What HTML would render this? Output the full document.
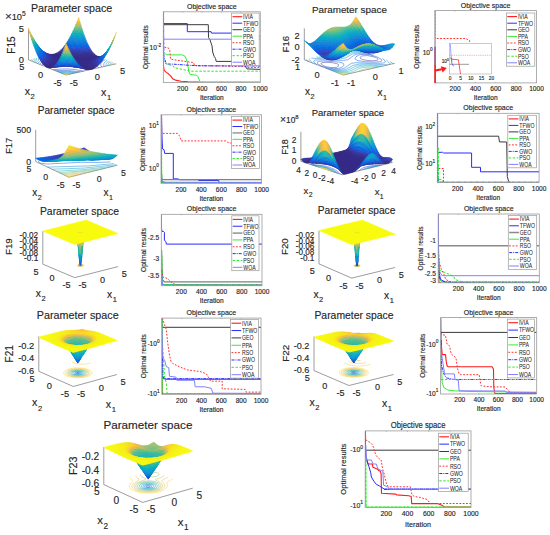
<!DOCTYPE html>
<html><head><meta charset="utf-8"><style>
html,body{margin:0;padding:0;background:#fff;}
svg{display:block;}
text{font-family:"Liberation Sans",sans-serif;stroke:#262626;stroke-width:0.14px;}
.lg{stroke-width:0.04px;}
</style></head><body>
<svg width="550" height="535" viewBox="0 0 550 535">
<rect width="550" height="535" fill="#fff"/>
<path d="M28.5 28.5L28.5 59.8L66 75L116.2 63.8" stroke="#5a5a5a" stroke-width="0.6" fill="none"/>
<path d="M83.6 71.1l-8.2-1.5-6.8-.6-6.6 0-9.1 .7" stroke="#353caa" stroke-width="0.5" fill="none"/>
<path d="M103.1 58.5l-4.8 2.4-1.8 1.9-.2 2.2 2.3 2.7" stroke="#353caa" stroke-width="0.5" fill="none"/>
<path d="M41.6 65.1l4.8-2.4 1.9-2.1 .1-2-2.3-2.7" stroke="#353caa" stroke-width="0.5" fill="none"/>
<path d="M61.1 52.5l8.2 1.5 6.8 .6 6.6 0 9.1-.7" stroke="#353caa" stroke-width="0.5" fill="none"/>
<path d="M80.4 71.8l-12.8-1.4-12.4 .2" stroke="#115bdc" stroke-width="0.5" fill="none"/>
<path d="M105.4 59.4l-3.3 2.2-1.2 1.7-.1 2 1 1.7" stroke="#115bdc" stroke-width="0.5" fill="none"/>
<path d="M39.3 64.2l3.3-2.2 1.2-1.7 .1-2-1-1.7" stroke="#115bdc" stroke-width="0.5" fill="none"/>
<path d="M64.3 51.8l11.6 1.4 13.6-.2" stroke="#115bdc" stroke-width="0.5" fill="none"/>
<path d="M78 72.3l-10.2-1-10.8 .1" stroke="#0b73dd" stroke-width="0.5" fill="none"/>
<path d="M107.2 60.2l-2 1.5-1.2 1.5-.3 1.4 .5 1.9" stroke="#0b73dd" stroke-width="0.5" fill="none"/>
<path d="M37.5 63.4l2.2-1.7 1-1.4 .3-1.6-.5-1.6" stroke="#0b73dd" stroke-width="0.5" fill="none"/>
<path d="M66.7 51.3l10.2 1 10.8-.1" stroke="#0b73dd" stroke-width="0.5" fill="none"/>
<path d="M76 72.8l-8.6-.8-8.8 0" stroke="#1389d3" stroke-width="0.5" fill="none"/>
<path d="M108.8 60.8l-2.4 2.6-.4 1.4 .2 1.2" stroke="#1389d3" stroke-width="0.5" fill="none"/>
<path d="M35.9 62.8l2.4-2.5 .4-1.5-.2-1.2" stroke="#1389d3" stroke-width="0.5" fill="none"/>
<path d="M68.7 50.8l8.5 .7 8.9 .1" stroke="#1389d3" stroke-width="0.5" fill="none"/>
<path d="M74.2 73.2l-14.3-.7" stroke="#06a2cb" stroke-width="0.5" fill="none"/>
<path d="M110.1 61.3l-1.8 2.3-.3 2" stroke="#06a2cb" stroke-width="0.5" fill="none"/>
<path d="M34.6 62.3l1.8-2.3 .3-2" stroke="#06a2cb" stroke-width="0.5" fill="none"/>
<path d="M70.5 50.4l14.3 .7" stroke="#06a2cb" stroke-width="0.5" fill="none"/>
<path d="M72.6 73.5l-11.5-.5" stroke="#1ab2b1" stroke-width="0.5" fill="none"/>
<path d="M111.3 61.8l-1.4 2.1-.3 1.4" stroke="#1ab2b1" stroke-width="0.5" fill="none"/>
<path d="M33.4 61.8l1.1-1.4 .6-2.1" stroke="#1ab2b1" stroke-width="0.5" fill="none"/>
<path d="M72.1 50.1l11.5 .5" stroke="#1ab2b1" stroke-width="0.5" fill="none"/>
<path d="M71.1 73.9l-8.9-.4" stroke="#59bd8c" stroke-width="0.5" fill="none"/>
<path d="M112.4 62.3l-1.3 2.6" stroke="#59bd8c" stroke-width="0.5" fill="none"/>
<path d="M32.3 61.3l1.3-2.6" stroke="#59bd8c" stroke-width="0.5" fill="none"/>
<path d="M73.6 49.7l8.9 .4" stroke="#59bd8c" stroke-width="0.5" fill="none"/>
<path d="M69.7 74.2l-6.5-.3" stroke="#a2be6c" stroke-width="0.5" fill="none"/>
<path d="M113.4 62.7l-.9 1.9" stroke="#a2be6c" stroke-width="0.5" fill="none"/>
<path d="M31.3 60.9l.9-1.9" stroke="#a2be6c" stroke-width="0.5" fill="none"/>
<path d="M75 49.4l6.5 .3" stroke="#a2be6c" stroke-width="0.5" fill="none"/>
<path d="M68.4 74.5l-4.2-.2" stroke="#ddba54" stroke-width="0.5" fill="none"/>
<path d="M114.4 63.1l-.6 1.2" stroke="#ddba54" stroke-width="0.5" fill="none"/>
<path d="M30.3 60.5l.6-1.2" stroke="#ddba54" stroke-width="0.5" fill="none"/>
<path d="M76.3 49.1l4.2 .2" stroke="#ddba54" stroke-width="0.5" fill="none"/>
<path d="M67.2 74.7l-2.1-.1" stroke="#fdcc2f" stroke-width="0.5" fill="none"/>
<path d="M115.3 63.4l-.3 .7" stroke="#fdcc2f" stroke-width="0.5" fill="none"/>
<path d="M29.4 60.2l.3-.7" stroke="#fdcc2f" stroke-width="0.5" fill="none"/>
<path d="M77.5 48.9l2.1 .1" stroke="#fdcc2f" stroke-width="0.5" fill="none"/>
<g fill="currentColor" stroke="currentColor" stroke-width="6.0" transform="scale(.1)">
<path color=#fec635 d="M783 244l14-33-10-38-14 37z"/>
<path color=#cfbb5a d="M770 276l13-32-10-34-14 35z"/>
<path color=#cfbb5a d="M794 277l14-30-11-36-14 33z"/>
<path color=#8fbf74 d="M756 306l14-30-11-31-14 33z"/>
<path color=#93bf72 d="M780 305l14-28-11-33-13 32z"/>
<path color=#8fbf74 d="M804 308l14-27-10-34-14 30z"/>
<path color=#47bb95 d="M742 334l14-28-11-28-14 31z"/>
<path color=#4fbc91 d="M766 332l14-27-10-29-14 30z"/>
<path color=#4fbc91 d="M790 333l14-25-10-31-14 28z"/>
<path color=#47bb95 d="M815 337l14-23-11-33-14 27z"/>
<path color=#14b0b5 d="M728 360l14-26-11-25-14 29z"/>
<path color=#1bb2b0 d="M752 357l14-25-10-26-14 28z"/>
<path color=#1db3af d="M776 357l14-24-10-28-14 27z"/>
<path color=#1bb2b0 d="M801 360l14-23-11-29-14 25z"/>
<path color=#06a3cb d="M714 385l14-25-11-22-14 28z"/>
<path color=#14b0b5 d="M825 365l14-21-10-30-14 23z"/>
<path color=#06a6c7 d="M738 381l14-24-10-23-14 26z"/>
<path color=#06a8c4 d="M762 380l14-23-10-25-14 25z"/>
<path color=#06a8c4 d="M787 381l14-21-11-27-14 24z"/>
<path color=#0f90d2 d="M700 408l14-23-11-19-14 25z"/>
<path color=#06a6c7 d="M811 384l14-19-10-28-14 23z"/>
<path color=#0a96d1 d="M724 403l14-22-10-21-14 25z"/>
<path color=#06a3cb d="M836 390l14-18-11-28-14 21z"/>
<path color=#0899d1 d="M749 401l13-21-10-23-14 24z"/>
<path color=#089ad0 d="M773 401l14-20-11-24-14 23z"/>
<path color=#137ed7 d="M686 429l14-21-11-17-14 23z"/>
<path color=#0899d1 d="M797 403l14-19-10-24-14 21z"/>
<path color=#1484d4 d="M710 424l14-21-10-18-14 23z"/>
<path color=#0a96d1 d="M822 408l14-18-11-25-14 19z"/>
<path color=#1487d3 d="M735 421l14-20-11-20-14 22z"/>
<path color=#0f90d2 d="M846 414l14-15-10-27-14 18z"/>
<path color=#1389d3 d="M759 420l14-19-11-21-13 21z"/>
<path color=#0972de d="M672 448l14-19-11-15-13 22z"/>
<path color=#1389d3 d="M783 421l14-18-10-22-14 20z"/>
<path color=#0e77db d="M696 443l14-19-10-16-14 21z"/>
<path color=#1487d3 d="M808 424l14-16-11-24-14 19z"/>
<path color=#117ad9 d="M721 439l14-18-11-18-14 21z"/>
<path color=#1484d4 d="M832 429l14-15-10-24-14 18z"/>
<path color=#127cd8 d="M745 437l14-17-10-19-14 20z"/>
<path color=#0265e1 d="M658 466l14-18-10-12-14 19z"/>
<path color=#137ed7 d="M856 437l14-14-10-24-14 15z"/>
<path color=#137dd8 d="M769 438l14-17-10-20-14 19z"/>
<path color=#036be0 d="M682 461l14-18-10-14-14 19z"/>
<path color=#127cd8 d="M794 440l14-16-11-21-14 18z"/>
<path color=#076fdf d="M707 456l14-17-11-15-14 19z"/>
<path color=#117ad9 d="M818 444l14-15-10-21-14 16z"/>
<path color=#0972de d="M731 454l14-17-10-16-14 18z"/>
<path color=#1f53d4 d="M644 482l14-16-10-11-14 18z"/>
<path color=#0e77db d="M842 450l14-13-10-23-14 15z"/>
<path color=#0b73dd d="M755 453l14-15-10-18-14 17z"/>
<path color=#0d5dde d="M668 477l14-16-10-13-14 18z"/>
<path color=#0972de d="M867 457l14-11-11-23-14 14z"/>
<path color=#0b73dd d="M780 454l14-14-11-19-14 17z"/>
<path color=#0364e1 d="M693 472l14-16-11-13-14 18z"/>
<path color=#0972de d="M804 457l14-13-10-20-14 16z"/>
<path color=#0268e1 d="M717 469l14-15-10-15-14 17z"/>
<path color=#3145bc d="M630 497l14-15-10-9-14 16z"/>
<path color=#076fdf d="M829 462l13-12-10-21-14 15z"/>
<path color=#026ae1 d="M741 468l14-15-10-16-14 17z"/>
<path color=#036be0 d="M853 468l14-11-11-20-14 13z"/>
<path color=#036ae1 d="M766 468l14-14-11-16-14 15z"/>
<path color=#1e54d5 d="M679 487l14-15-11-11-14 16z"/>
<path color=#0265e1 d="M877 476l14-10-10-20-14 11z"/>
<path color=#026ae1 d="M790 470l14-13-10-17-14 14z"/>
<path color=#125adc d="M703 484l14-15-10-13-14 16z"/>
<path color=#353ba9 d="M616 509l14-12-10-8-14 13z"/>
<path color=#0268e1 d="M815 474l14-12-11-18-14 13z"/>
<path color=#0b5edf d="M728 482l13-14-10-14-14 15z"/>
<path color=#3341b4 d="M641 504l13-13-10-9-14 15z"/>
<path color=#0364e1 d="M839 479l14-11-11-18-13 12z"/>
<path color=#0760e0 d="M752 481l14-13-11-15-14 15z"/>
<path color=#0d5dde d="M863 486l14-10-10-19-14 11z"/>
<path color=#0760e0 d="M776 482l14-12-10-16-14 14z"/>
<path color=#2a4cc8 d="M689 497l14-13-10-12-14 15z"/>
<path color=#36349b d="M602 520l14-11-10-7-14 12z"/>
<path color=#1f53d4 d="M888 493l14-8-11-19-14 10z"/>
<path color=#0b5edf d="M801 485l14-11-11-17-14 13z"/>
<path color=#2450d0 d="M714 494l14-12-11-13-14 15z"/>
<path color=#3639a4 d="M627 516l14-12-11-7-14 12z"/>
<path color=#125adc d="M825 489l14-10-10-17-14 12z"/>
<path color=#1f53d4 d="M738 493l14-12-11-13-13 14z"/>
<path color=#1e54d5 d="M849 495l14-9-10-18-14 11z"/>
<path color=#1d54d5 d="M762 494l14-12-10-14-14 13z"/>
<path color=#363091 d="M588 529l14-9-10-6-14 10z"/>
<path color=#294cc9 d="M874 501l14-8-11-17-14 10z"/>
<path color=#1f53d4 d="M787 496l14-11-11-15-14 12z"/>
<path color=#3045bd d="M700 506l14-12-11-10-14 13z"/>
<path color=#363398 d="M613 526l14-10-11-7-14 11z"/>
<path color=#3145bc d="M898 509l14-7-10-17-14 8z"/>
<path color=#2450d0 d="M811 499l14-10-10-15-14 11z"/>
<path color=#2e48c2 d="M724 505l14-12-10-11-14 12z"/>
<path color=#3636a0 d="M637 522l14-10-10-8-14 12z"/>
<path color=#2a4cc8 d="M835 503l14-8-10-16-14 10z"/>
<path color=#2c49c5 d="M748 504l14-10-10-13-14 12z"/>
<path color=#352d8b d="M574 537l14-8-10-5-14 8z"/>
<path color=#2f46bf d="M860 509l14-8-11-15-14 9z"/>
<path color=#2c49c5 d="M773 505l14-9-11-14-14 12z"/>
<path color=#353dae d="M686 517l14-11-11-9-14 11z"/>
<path color=#362f90 d="M599 534l14-8-11-6-14 9z"/>
<path color=#3341b4 d="M884 515l14-6-10-16-14 8z"/>
<path color=#2e48c2 d="M797 508l14-9-10-14-14 11z"/>
<path color=#3440b3 d="M710 515l14-10-10-11-14 12z"/>
<path color=#363296 d="M623 531l14-9-10-6-14 10z"/>
<path color=#353ba9 d="M908 522l14-5-10-15-14 7z"/>
<path color=#3045bd d="M821 512l14-9-10-14-14 10z"/>
<path color=#3342b6 d="M734 514l14-10-10-11-14 12z"/>
<path color=#352b88 d="M560 542l14-5-10-5-14 6z"/>
<path color=#3342b6 d="M846 516l14-7-11-14-14 8z"/>
<path color=#3242b8 d="M759 515l14-10-11-11-14 10z"/>
<path color=#352c8b d="M585 541l14-7-11-5-14 8z"/>
<path color=#353dad d="M870 522l14-7-10-14-14 8z"/>
<path color=#3342b6 d="M783 517l14-9-10-12-14 9z"/>
<path color=#363aa7 d="M696 525l14-10-10-9-14 11z"/>
<path color=#362e8f d="M609 539l14-8-10-5-14 8z"/>
<path color=#3639a4 d="M895 528l13-6-10-13-14 6z"/>
<path color=#3440b3 d="M808 519l13-7-10-13-14 9z"/>
<path color=#353caa d="M720 524l14-10-10-9-14 10z"/>
<path color=#36349b d="M919 534l14-4-11-13-14 5z"/>
<path color=#352a87 d="M546 546l14-4-10-4-14 4z"/>
<path color=#353dae d="M832 523l14-7-11-13-14 9z"/>
<path color=#353dac d="M745 524l14-9-11-11-14 10z"/>
<path color=#352b88 d="M571 547l14-6-11-4-14 5z"/>
<path color=#363aa7 d="M856 528l14-6-10-13-14 7z"/>
<path color=#353dac d="M769 525l14-8-10-12-14 10z"/>
<path color=#352c8a d="M595 546l14-7-10-5-14 7z"/>
<path color=#3636a0 d="M881 533l14-5-11-13-14 7z"/>
<path color=#353caa d="M794 527l14-8-11-11-14 9z"/>
<path color=#3637a0 d="M707 532l13-8-10-9-14 10z"/>
<path color=#362e8d d="M620 544l13-7-10-6-14 8z"/>
<path color=#363398 d="M905 539l14-5-11-12-13 6z"/>
<path color=#352a87 d="M532 548l14-2-10-4-14 2z"/>
<path color=#363aa7 d="M818 530l14-7-11-11-13 7z"/>
<path color=#3638a3 d="M731 532l14-8-11-10-14 10z"/>
<path color=#363091 d="M929 545l14-4-10-11-14 4z"/>
<path color=#352a87 d="M557 550l14-3-11-5-14 4z"/>
<path color=#3637a2 d="M842 534l14-6-10-12-14 7z"/>
<path color=#3638a4 d="M755 532l14-7-10-10-14 9z"/>
<path color=#352b88 d="M581 551l14-5-10-5-14 6z"/>
<path color=#36349c d="M867 539l14-6-11-11-14 6z"/>
<path color=#3638a3 d="M780 534l14-7-11-10-14 8z"/>
<path color=#352c8a d="M606 550l14-6-11-5-14 7z"/>
<path color=#363296 d="M891 544l14-5-10-11-14 5z"/>
<path color=#352b88 d="M519 549l13-1-10-4-14 0z"/>
<path color=#3637a0 d="M804 537l14-7-10-11-14 8z"/>
<path color=#36349b d="M717 539l14-7-11-8-13 8z"/>
<path color=#362f90 d="M915 549l14-4-10-11-14 5z"/>
<path color=#352a87 d="M543 553l14-3-11-4-14 2z"/>
<path color=#36359d d="M828 540l14-6-10-11-14 7z"/>
<path color=#36359c d="M741 540l14-8-10-8-14 8z"/>
<path color=#352d8b d="M940 553l14-3-11-9-14 4z"/>
<path color=#352a87 d="M567 555l14-4-10-4-14 3z"/>
<path color=#363398 d="M853 544l14-5-11-11-14 6z"/>
<path color=#36359c d="M766 541l14-7-11-9-14 7z"/>
<path color=#352b88 d="M592 555l14-5-11-4-14 5z"/>
<path color=#363093 d="M877 548l14-4-10-11-14 6z"/>
<path color=#352d8b d="M505 548l14 1-11-5-14-1z"/>
<path color=#36349b d="M790 543l14-6-10-10-14 7z"/>
<path color=#363195 d="M703 546l14-7-10-7-14 8z"/>
<path color=#352c89 d="M616 555l14-6-10-5-14 6z"/>
<path color=#362e8f d="M901 553l14-4-10-10-14 5z"/>
<path color=#352b88 d="M529 554l14-1-11-5-13 1z"/>
<path color=#363398 d="M814 545l14-5-10-10-14 7z"/>
<path color=#363296 d="M727 546l14-6-10-8-14 7z"/>
<path color=#352c8b d="M926 557l14-4-11-8-14 4z"/>
<path color=#352a87 d="M553 557l14-2-10-5-14 3z"/>
<path color=#363195 d="M839 549l14-5-11-10-14 6z"/>
<path color=#363297 d="M752 547l14-6-11-9-14 8z"/>
<path color=#352b88 d="M950 560l14-3-10-7-14 3z"/>
<path color=#352a87 d="M578 559l14-4-11-4-14 4z"/>
<path color=#362f91 d="M863 553l14-5-10-9-14 5z"/>
<path color=#363091 d="M491 545l14 3-11-5-14-4z"/>
<path color=#363296 d="M776 549l14-6-10-9-14 7z"/>
<path color=#352b88 d="M602 559l14-4-10-5-14 5z"/>
<path color=#362e8d d="M887 557l14-4-10-9-14 4z"/>
<path color=#352c8b d="M515 553l14 1-10-5-14-1z"/>
<path color=#363195 d="M800 551l14-6-10-8-14 6z"/>
<path color=#363092 d="M713 553l14-7-10-7-14 7z"/>
<path color=#352c8a d="M912 560l14-3-11-8-14 4z"/>
<path color=#352b88 d="M539 558l14-1-10-4-14 1z"/>
<path color=#363092 d="M825 554l14-5-11-9-14 5z"/>
<path color=#363092 d="M738 553l14-6-11-7-14 6z"/>
<path color=#352b88 d="M936 563l14-3-10-7-14 4z"/>
<path color=#352a87 d="M564 561l14-2-11-4-14 2z"/>
<path color=#362e8f d="M849 557l14-4-10-9-14 5z"/>
<path color=#36349b d="M477 540l14 5-11-6-14-6z"/>
<path color=#363092 d="M762 554l14-5-10-8-14 6z"/>
<path color=#352a87 d="M961 565l13-3-10-5-14 3z"/>
<path color=#352a87 d="M588 563l14-4-10-4-14 4z"/>
<path color=#352d8c d="M874 560l13-3-10-9-14 5z"/>
<path color=#362f90 d="M501 551l14 2-10-5-14-3z"/>
<path color=#363092 d="M786 556l14-5-10-8-14 6z"/>
<path color=#352b87 d="M612 564l14-5-10-4-14 4z"/>
<path color=#352c8a d="M898 564l14-4-11-7-14 4z"/>
<path color=#352c8a d="M525 558l14 0-10-4-14-1z"/>
<path color=#362f90 d="M811 558l14-4-11-9-14 6z"/>
<path color=#362e8f d="M724 559l14-6-11-7-14 7z"/>
<path color=#352b88 d="M922 566l14-3-10-6-14 3z"/>
<path color=#352b88 d="M550 563l14-2-11-4-14 1z"/>
<path color=#362e8e d="M835 561l14-4-10-8-14 5z"/>
<path color=#353ba9 d="M463 534l14 6-11-7-14-7z"/>
<path color=#362e8f d="M748 560l14-6-10-7-14 6z"/>
<path color=#352a87 d="M947 568l14-3-11-5-14 3z"/>
<path color=#352a87 d="M574 566l14-3-10-4-14 2z"/>
<path color=#352d8b d="M860 564l14-4-11-7-14 4z"/>
<path color=#363398 d="M487 547l14 4-10-6-14-5z"/>
<path color=#362e8f d="M773 561l13-5-10-7-14 5z"/>
<path color=#352a87 d="M971 568l14-3-11-3-13 3z"/>
<path color=#352a87 d="M598 567l14-3-10-5-14 4z"/>
<path color=#352c89 d="M884 567l14-3-11-7-13 3z"/>
<path color=#362e8f d="M511 556l14 2-10-5-14-2z"/>
<path color=#362e8e d="M797 563l14-5-11-7-14 5z"/>
<path color=#352b88 d="M908 570l14-4-10-6-14 4z"/>
<path color=#352c8a d="M536 563l14 0-11-5-14 0z"/>
<path color=#352d8c d="M821 565l14-4-10-7-14 4z"/>
<path color=#3145bc d="M449 526l14 8-11-8-14-10z"/>
<path color=#352d8d d="M734 565l14-5-10-7-14 6z"/>
<path color=#352a87 d="M933 571l14-3-11-5-14 3z"/>
<path color=#352b88 d="M560 567l14-1-10-5-14 2z"/>
<path color=#352c8a d="M846 568l14-4-11-7-14 4z"/>
<path color=#3639a4 d="M473 542l14 5-10-7-14-6z"/>
<path color=#352d8d d="M759 566l14-5-11-7-14 6z"/>
<path color=#352a87 d="M957 572l14-4-10-3-14 3z"/>
<path color=#352a87 d="M585 570l13-3-10-4-14 3z"/>
<path color=#352b89 d="M870 571l14-4-10-7-14 4z"/>
<path color=#363296 d="M498 553l13 3-10-5-14-4z"/>
<path color=#352d8c d="M783 567l14-4-11-7-13 5z"/>
<path color=#352b88 d="M981 570l14-3-10-2-14 3z"/>
<path color=#352a87 d="M609 572l14-4-11-4-14 3z"/>
<path color=#352b88 d="M894 573l14-3-10-6-14 3z"/>
<path color=#362e8d d="M522 562l14 1-11-5-14-2z"/>
<path color=#352c8b d="M807 569l14-4-10-7-14 5z"/>
<path color=#1f53d4 d="M435 516l14 10-11-10-14-11z"/>
<path color=#352c8b d="M720 569l14-4-10-6-14 5z"/>
<path color=#352a87 d="M919 574l14-3-11-5-14 4z"/>
<path color=#352c89 d="M546 568l14-1-10-4-14 0z"/>
<path color=#352c8a d="M832 572l14-4-11-7-14 4z"/>
<path color=#3341b4 d="M459 535l14 7-10-8-14-8z"/>
<path color=#352c8b d="M745 570l14-4-11-6-14 5z"/>
<path color=#352a87 d="M943 575l14-3-10-4-14 3z"/>
<path color=#352b87 d="M571 572l14-2-11-4-14 1z"/>
<path color=#352b88 d="M856 574l14-3-10-7-14 4z"/>
<path color=#3636a0 d="M484 549l14 4-11-6-14-5z"/>
<path color=#352c8b d="M769 571l14-4-10-6-14 5z"/>
<path color=#352b88 d="M967 574l14-4-10-2-14 4z"/>
<path color=#352a87 d="M595 574l14-2-11-5-13 3z"/>
<path color=#352b87 d="M880 576l14-3-10-6-14 4z"/>
<path color=#363093 d="M508 560l14 2-11-6-13-3z"/>
<path color=#352c8a d="M793 573l14-4-10-6-14 4z"/>
<path color=#352d8b d="M992 570l14-4-11 1-14 3z"/>
<path color=#352a87 d="M905 578l14-4-11-4-14 3z"/>
<path color=#352d8c d="M532 567l14 1-10-5-14-1z"/>
<path color=#352b89 d="M818 575l14-3-11-7-14 4z"/>
<path color=#294cc9 d="M445 526l14 9-10-9-14-10z"/>
<path color=#352c8a d="M731 574l14-4-11-5-14 4z"/>
<path color=#352a87 d="M929 578l14-3-10-4-14 3z"/>
<path color=#352b89 d="M557 573l14-1-11-5-14 1z"/>
<path color=#352b88 d="M842 577l14-3-10-6-14 4z"/>
<path color=#353dad d="M470 544l14 5-11-7-14-7z"/>
<path color=#352c8a d="M755 576l14-5-10-5-14 4z"/>
<path color=#352b88 d="M954 577l13-3-10-2-14 3z"/>
<path color=#352b87 d="M581 576l14-2-10-4-14 2z"/>
<path color=#352b87 d="M866 579l14-3-10-5-14 3z"/>
<path color=#36349c d="M494 557l14 3-10-7-14-4z"/>
<path color=#352b89 d="M779 577l14-4-10-6-14 4z"/>
<path color=#0972de d="M407 491l14 13-11-12-13-15z"/>
<path color=#352c8b d="M978 574l14-4-11 0-14 4z"/>
<path color=#352a87 d="M605 579l14-3-10-4-14 2z"/>
<path color=#352a87 d="M891 581l14-3-11-5-14 3z"/>
<path color=#362f91 d="M518 566l14 1-10-5-14-2z"/>
<path color=#352b89 d="M804 579l14-4-11-6-14 4z"/>
<path color=#0d5dde d="M431 517l14 9-10-10-14-12z"/>
<path color=#352a87 d="M915 581l14-3-10-4-14 4z"/>
<path color=#352d8b d="M543 573l14 0-11-5-14-1z"/>
<path color=#352b88 d="M828 581l14-4-10-5-14 3z"/>
<path color=#2f46bf d="M456 537l14 7-11-9-14-9z"/>
<path color=#352b89 d="M741 579l14-3-10-6-14 4z"/>
<path color=#352b88 d="M940 581l14-4-11-2-14 3z"/>
<path color=#352b88 d="M567 578l14-2-10-4-14 1z"/>
<path color=#352b87 d="M853 582l13-3-10-5-14 3z"/>
<path color=#363aa7 d="M480 552l14 5-10-8-14-5z"/>
<path color=#352b88 d="M766 581l13-4-10-6-14 5z"/>
<path color=#137ed7 d="M393 476l14 15-10-14-14-18z"/>
<path color=#352c8a d="M964 578l14-4-11 0-13 3z"/>
<path color=#352b87 d="M591 581l14-2-10-5-14 2z"/>
<path color=#352a87 d="M877 584l14-3-11-5-14 3z"/>
<path color=#363398 d="M504 564l14 2-10-6-14-3z"/>
<path color=#352b88 d="M790 582l14-3-11-6-14 4z"/>
<path color=#036be0 d="M417 505l14 12-10-13-14-13z"/>
<path color=#362f90 d="M988 573l14-5-10 2-14 4z"/>
<path color=#352a87 d="M901 584l14-3-10-3-14 3z"/>
<path color=#362e8f d="M529 572l14 1-11-6-14-1z"/>
<path color=#352b88 d="M814 584l14-3-10-6-14 4z"/>
<path color=#1e54d5 d="M442 528l14 9-11-11-14-9z"/>
<path color=#352b88 d="M727 583l14-4-10-5-14 5z"/>
<path color=#352b88 d="M926 584l14-3-11-3-14 3z"/>
<path color=#352c8a d="M553 578l14 0-10-5-14 0z"/>
<path color=#352b87 d="M839 586l14-4-11-5-14 4z"/>
<path color=#3342b6 d="M466 546l14 6-10-8-14-7z"/>
<path color=#352b88 d="M752 584l14-3-11-5-14 3z"/>
<path color=#0f90d2 d="M379 459l14 17-10-17-14-19z"/>
<path color=#352c8a d="M950 582l14-4-10-1-14 4z"/>
<path color=#352b88 d="M578 582l13-1-10-5-14 2z"/>
<path color=#352a87 d="M863 587l14-3-11-5-13 3z"/>
<path color=#3637a2 d="M490 560l14 4-10-7-14-5z"/>
<path color=#352b88 d="M776 586l14-4-11-5-13 4z"/>
<path color=#0e77db d="M403 492l14 13-10-14-14-15z"/>
<path color=#362e8f d="M974 577l14-4-10 1-14 4z"/>
<path color=#352b87 d="M602 585l14-2-11-4-14 2z"/>
<path color=#352a87 d="M887 588l14-4-10-3-14 3z"/>
<path color=#363195 d="M515 571l14 1-11-6-14-2z"/>
<path color=#352b87 d="M800 587l14-3-10-5-14 3z"/>
<path color=#0364e1 d="M428 519l14 9-11-11-14-12z"/>
<path color=#363398 d="M999 570l14-5-11 3-14 5z"/>
<path color=#352b87 d="M912 587l14-3-11-3-14 3z"/>
<path color=#362e8e d="M539 578l14 0-10-5-14-1z"/>
<path color=#352b87 d="M825 589l14-3-11-5-14 3z"/>
<path color=#2a4cc8 d="M452 540l14 6-10-9-14-9z"/>
<path color=#352b88 d="M738 588l14-4-11-5-14 4z"/>
<path color=#06a3cb d="M365 441l14 18-10-19-14-21z"/>
<path color=#352c89 d="M936 586l14-4-10-1-14 3z"/>
<path color=#352c8a d="M564 583l14-1-11-4-14 0z"/>
<path color=#352a87 d="M849 590l14-3-10-5-14 4z"/>
<path color=#353dae d="M477 556l13 4-10-8-14-6z"/>
<path color=#352b87 d="M762 589l14-3-10-5-14 3z"/>
<path color=#1484d4 d="M390 478l13 14-10-16-14-17z"/>
<path color=#362e8d d="M960 582l14-5-10 1-14 4z"/>
<path color=#352b88 d="M588 587l14-2-11-4-13 1z"/>
<path color=#352a87 d="M873 591l14-3-10-4-14 3z"/>
<path color=#36359d d="M501 568l14 3-11-7-14-4z"/>
<path color=#352b87 d="M786 590l14-3-10-5-14 4z"/>
<path color=#076fdf d="M414 508l14 11-11-14-14-13z"/>
<path color=#363296 d="M985 576l14-6-11 3-14 4z"/>
<path color=#352b87 d="M898 591l14-4-11-3-14 4z"/>
<path color=#363092 d="M525 577l14 1-10-6-14-1z"/>
<path color=#352a87 d="M811 592l14-3-11-5-14 3z"/>
<path color=#125adc d="M438 532l14 8-10-12-14-9z"/>
<path color=#14b0b5 d="M351 421l14 20-10-22-14-23z"/>
<path color=#352b89 d="M922 589l14-3-10-2-14 3z"/>
<path color=#352d8c d="M550 584l14-1-11-5-14 0z"/>
<path color=#352a87 d="M835 593l14-3-10-4-14 3z"/>
<path color=#3045bd d="M463 550l14 6-11-10-14-6z"/>
<path color=#352b87 d="M748 592l14-3-10-5-14 4z"/>
<path color=#0a96d1 d="M376 462l14 16-11-19-14-18z"/>
<path color=#352d8c d="M946 586l14-4-10 0-14 4z"/>
<path color=#352b89 d="M574 589l14-2-10-5-14 1z"/>
<path color=#352a87 d="M859 594l14-3-10-4-14 3z"/>
<path color=#363aa7 d="M487 565l14 3-11-8-13-4z"/>
<path color=#352b87 d="M772 594l14-4-10-4-14 3z"/>
<path color=#117ad9 d="M400 495l14 13-11-16-13-14z"/>
<path color=#363093 d="M971 581l14-5-11 1-14 5z"/>
<path color=#352b88 d="M598 592l14-2-10-5-14 2z"/>
<path color=#352b87 d="M884 594l14-3-11-3-14 3z"/>
<path color=#363398 d="M511 576l14 1-10-6-14-3z"/>
<path color=#352a87 d="M797 595l14-3-11-5-14 3z"/>
<path color=#0268e1 d="M424 522l14 10-10-13-14-11z"/>
<path color=#3636a0 d="M995 573l14-7-10 4-14 6z"/>
<path color=#47bb95 d="M337 399l14 22-10-25-14-25z"/>
<path color=#352b88 d="M908 593l14-4-10-2-14 4z"/>
<path color=#362f90 d="M536 584l14 0-11-6-14-1z"/>
<path color=#352a87 d="M821 596l14-3-10-4-14 3z"/>
<path color=#2450d0 d="M449 544l14 6-11-10-14-8z"/>
<path color=#352a87 d="M734 596l14-4-10-4-14 3z"/>
<path color=#06a6c7 d="M362 444l14 18-11-21-14-20z"/>
<path color=#352d8b d="M932 591l14-5-10 0-14 3z"/>
<path color=#352c8b d="M560 590l14-1-10-6-14 1z"/>
<path color=#352a87 d="M845 597l14-3-10-4-14 3z"/>
<path color=#3440b3 d="M473 561l14 4-10-9-14-6z"/>
<path color=#352a87 d="M758 597l14-3-10-5-14 3z"/>
<path color=#1487d3 d="M386 482l14 13-10-17-14-16z"/>
<path color=#362f91 d="M957 586l14-5-11 1-14 4z"/>
<path color=#352b89 d="M584 594l14-2-10-5-14 2z"/>
<path color=#352b87 d="M870 597l14-3-11-3-14 3z"/>
<path color=#3637a0 d="M497 573l14 3-10-8-14-3z"/>
<path color=#352a87 d="M783 598l14-3-11-5-14 4z"/>
<path color=#0972de d="M410 512l14 10-10-14-14-13z"/>
<path color=#36349c d="M981 579l14-6-10 3-14 5z"/>
<path color=#8fbf74 d="M323 375l14 24-10-28-14-27z"/>
<path color=#352b88 d="M894 597l14-4-10-2-14 3z"/>
<path color=#363195 d="M522 583l14 1-11-7-14-1z"/>
<path color=#352a87 d="M807 599l14-3-10-4-14 3z"/>
<path color=#0b5edf d="M435 536l14 8-11-12-14-10z"/>
<path color=#1bb2b0 d="M348 425l14 19-11-23-14-22z"/>
<path color=#352c8a d="M919 595l13-4-10-2-14 4z"/>
<path color=#362e8e d="M546 590l14 0-10-6-14 0z"/>
<path color=#352a87 d="M832 600l13-3-10-4-14 3z"/>
<path color=#2e48c2 d="M459 556l14 5-10-11-14-6z"/>
<path color=#352a87 d="M744 600l14-3-10-5-14 4z"/>
<path color=#0899d1 d="M372 467l14 15-10-20-14-18z"/>
<path color=#362e8f d="M943 591l14-5-11 0-14 5z"/>
<path color=#352c8a d="M570 595l14-1-10-5-14 1z"/>
<path color=#352b87 d="M856 601l14-4-11-3-14 3z"/>
<path color=#353caa d="M483 570l14 3-10-8-14-4z"/>
<path color=#352a87 d="M769 601l14-3-11-4-14 3z"/>
<path color=#127cd8 d="M396 501l14 11-10-17-14-13z"/>
<path color=#363398 d="M967 585l14-6-10 2-14 5z"/>
<path color=#cfbb5a d="M309 350l14 25-10-31-14-28z"/>
<path color=#352b88 d="M595 599l14-3-11-4-14 2z"/>
<path color=#352b88 d="M880 600l14-3-10-3-14 3z"/>
<path color=#36349b d="M508 582l14 1-11-7-14-3z"/>
<path color=#352a87 d="M793 602l14-3-10-4-14 3z"/>
<path color=#026ae1 d="M421 528l14 8-11-14-14-10z"/>
<path color=#363aa7 d="M992 575l14-7-11 5-14 6z"/>
<path color=#4fbc91 d="M334 405l14 20-11-26-14-24z"/>
<path color=#352c8a d="M905 599l14-4-11-2-14 4z"/>
<path color=#363092 d="M532 590l14 0-10-6-14-1z"/>
<path color=#352a87 d="M818 603l14-3-11-4-14 3z"/>
<path color=#1f53d4 d="M445 550l14 6-10-12-14-8z"/>
<path color=#06a8c4 d="M358 450l14 17-10-23-14-19z"/>
<path color=#362e8e d="M929 596l14-5-11 0-13 4z"/>
<path color=#352d8c d="M556 596l14-1-10-5-14 0z"/>
<path color=#352a87 d="M842 604l14-3-11-4-13 3z"/>
<path color=#3342b6 d="M469 567l14 3-10-9-14-5z"/>
<path color=#352a87 d="M755 604l14-3-11-4-14 3z"/>
<path color=#1389d3 d="M382 488l14 13-10-19-14-15z"/>
<path color=#363195 d="M953 591l14-6-10 1-14 5z"/>
<path color=#fec635 d="M295 323l14 27-10-34-14-31z"/>
<path color=#352b89 d="M581 600l14-1-11-5-14 1z"/>
<path color=#352b88 d="M866 604l14-4-10-3-14 4z"/>
<path color=#3638a3 d="M494 580l14 2-11-9-14-3z"/>
<path color=#352a87 d="M779 606l14-4-10-4-14 3z"/>
<path color=#0b73dd d="M407 518l14 10-11-16-14-11z"/>
<path color=#3637a2 d="M978 582l14-7-11 4-14 6z"/>
<path color=#93bf72 d="M320 383l14 22-11-30-14-25z"/>
<path color=#352b89 d="M891 603l14-4-11-2-14 3z"/>
<path color=#363296 d="M518 589l14 1-10-7-14-1z"/>
<path color=#352a87 d="M804 607l14-4-11-4-14 3z"/>
<path color=#0760e0 d="M431 543l14 7-10-14-14-8z"/>
<path color=#1db3af d="M344 433l14 17-10-25-14-20z"/>
<path color=#352d8c d="M915 601l14-5-10-1-14 4z"/>
<path color=#362e8f d="M543 597l13-1-10-6-14 0z"/>
<path color=#352a87 d="M828 607l14-3-10-4-14 3z"/>
<path color=#2c49c5 d="M456 562l13 5-10-11-14-6z"/>
<path color=#089ad0 d="M368 474l14 14-10-21-14-17z"/>
<path color=#363092 d="M939 596l14-5-10 0-14 5z"/>
<path color=#352c8b d="M567 602l14-2-11-5-14 1z"/>
<path color=#352b87 d="M852 608l14-4-10-3-14 3z"/>
<path color=#353dac d="M480 577l14 3-11-10-14-3z"/>
<path color=#352a87 d="M765 609l14-3-10-5-14 3z"/>
<path color=#137dd8 d="M393 508l14 10-11-17-14-13z"/>
<path color=#36359d d="M964 589l14-7-11 3-14 6z"/>
<path color=#cfbb5a d="M306 359l14 24-11-33-14-27z"/>
<path color=#352b88 d="M591 606l14-3-10-4-14 1z"/>
<path color=#352b89 d="M877 607l14-4-11-3-14 4z"/>
<path color=#36359c d="M504 588l14 1-10-7-14-2z"/>
<path color=#352a87 d="M790 610l14-3-11-5-14 4z"/>
<path color=#036ae1 d="M417 535l14 8-10-15-14-10z"/>
<path color=#353dae d="M988 579l14-8-10 4-14 7z"/>
<path color=#4fbc91 d="M330 414l14 19-10-28-14-22z"/>
<path color=#352c8b d="M901 605l14-4-10-2-14 4z"/>
<path color=#363092 d="M529 597l14 0-11-7-14-1z"/>
<path color=#352a87 d="M814 611l14-4-10-4-14 4z"/>
<path color=#1d54d5 d="M442 557l14 5-11-12-14-7z"/>
<path color=#2a4cc8 d="M1012 565l14-10-10 7-14 9z"/>
<path color=#06a8c4 d="M355 459l13 15-10-24-14-17z"/>
<path color=#362f90 d="M925 601l14-5-10 0-14 5z"/>
<path color=#352d8d d="M553 603l14-1-11-6-13 1z"/>
<path color=#352b87 d="M838 611l14-3-10-4-14 3z"/>
<path color=#3242b8 d="M466 574l14 3-11-10-13-5z"/>
<path color=#352a87 d="M751 612l14-3-10-5-14 4z"/>
<path color=#1389d3 d="M379 496l14 12-11-20-14-14z"/>
<path color=#363398 d="M950 596l14-7-11 2-14 5z"/>
<path color=#352c8a d="M577 607l14-1-10-6-14 2z"/>
<path color=#352b88 d="M863 611l14-4-11-3-14 4z"/>
<path color=#3638a4 d="M490 587l14 1-10-8-14-3z"/>
<path color=#352a87 d="M776 613l14-3-11-4-14 3z"/>
<path color=#0b73dd d="M403 527l14 8-10-17-14-10z"/>
<path color=#363aa7 d="M974 587l14-8-10 3-14 7z"/>
<path color=#8fbf74 d="M316 393l14 21-10-31-14-24z"/>
<path color=#352c8a d="M887 609l14-4-10-2-14 4z"/>
<path color=#363297 d="M515 597l14 0-11-8-14-1z"/>
<path color=#352a87 d="M800 614l14-3-10-4-14 3z"/>
<path color=#0760e0 d="M428 551l14 6-11-14-14-8z"/>
<path color=#3045bd d="M999 575l13-10-10 6-14 8z"/>
<path color=#1bb2b0 d="M341 443l14 16-11-26-14-19z"/>
<path color=#362e8e d="M912 607l13-6-10 0-14 4z"/>
<path color=#362e8f d="M539 604l14-1-10-6-14 0z"/>
<path color=#352b87 d="M824 614l14-3-10-4-14 4z"/>
<path color=#2c49c5 d="M452 570l14 4-10-12-14-5z"/>
<path color=#125adc d="M1023 558l14-12-11 9-14 10z"/>
<path color=#0899d1 d="M365 484l14 12-11-22-13-15z"/>
<path color=#363195 d="M936 602l14-6-11 0-14 5z"/>
<path color=#352c8b d="M563 609l14-2-10-5-14 1z"/>
<path color=#352b88 d="M849 615l14-4-11-3-14 3z"/>
<path color=#353dac d="M476 585l14 2-10-10-14-3z"/>
<path color=#352a87 d="M762 616l14-3-11-4-14 3z"/>
<path color=#127cd8 d="M389 517l14 10-10-19-14-12z"/>
<path color=#3637a0 d="M960 594l14-7-10 2-14 7z"/>
<path color=#352b89 d="M588 613l14-2-11-5-14 1z"/>
<path color=#352b89 d="M873 614l14-5-10-2-14 4z"/>
<path color=#36359c d="M501 596l14 1-11-9-14-1z"/>
<path color=#352a87 d="M786 617l14-3-10-4-14 3z"/>
<path color=#026ae1 d="M414 544l14 7-11-16-14-8z"/>
<path color=#3440b3 d="M985 584l14-9-11 4-14 8z"/>
<path color=#47bb95 d="M327 426l14 17-11-29-14-21z"/>
<path color=#352d8c d="M898 612l14-5-11-2-14 4z"/>
<path color=#363092 d="M525 605l14-1-10-7-14 0z"/>
<path color=#352a87 d="M811 618l13-4-10-3-14 3z"/>
<path color=#1f53d4 d="M438 566l14 4-10-13-14-6z"/>
<path color=#2450d0 d="M1009 569l14-11-11 7-13 10z"/>
<path color=#06a6c7 d="M351 470l14 14-10-25-14-16z"/>
<path color=#363092 d="M922 608l14-6-11-1-13 6z"/>
<path color=#352d8d d="M549 611l14-2-10-6-14 1z"/>
<path color=#352b87 d="M835 618l14-3-11-4-14 3z"/>
<path color=#3342b6 d="M462 583l14 2-10-11-14-4z"/>
<path color=#0268e1 d="M1033 550l14-13-10 9-14 12z"/>
<path color=#1487d3 d="M375 507l14 10-10-21-14-12z"/>
<path color=#36349b d="M946 602l14-8-10 2-14 6z"/>
<path color=#352c8a d="M574 615l14-2-11-6-14 2z"/>
<path color=#352b88 d="M859 618l14-4-10-3-14 4z"/>
<path color=#3638a3 d="M487 595l14 1-11-9-14-2z"/>
<path color=#352a87 d="M772 620l14-3-10-4-14 3z"/>
<path color=#117ad9 d="M1058 525l14-16-11 13-14 15z"/>
<path color=#0972de d="M400 537l14 7-11-17-14-10z"/>
<path color=#353caa d="M971 593l14-9-11 3-14 7z"/>
<path color=#352c8b d="M884 616l14-4-11-3-14 5z"/>
<path color=#363296 d="M511 605l14 0-10-8-14-1z"/>
<path color=#352a87 d="M797 621l14-3-11-4-14 3z"/>
<path color=#0b5edf d="M424 561l14 5-10-15-14-7z"/>
<path color=#2e48c2 d="M995 580l14-11-10 6-14 9z"/>
<path color=#14b0b5 d="M337 456l14 14-10-27-14-17z"/>
<path color=#362e8f d="M908 613l14-5-10-1-14 5z"/>
<path color=#362e8f d="M536 612l13-1-10-7-14 1z"/>
<path color=#352b87 d="M821 622l14-4-11-4-13 4z"/>
<path color=#2e48c2 d="M448 580l14 3-10-13-14-4z"/>
<path color=#0b5edf d="M1019 563l14-13-10 8-14 11z"/>
<path color=#0a96d1 d="M361 496l14 11-10-23-14-14z"/>
<path color=#363296 d="M932 608l14-6-10 0-14 6z"/>
<path color=#352c8b d="M560 617l14-2-11-6-14 2z"/>
<path color=#352b88 d="M845 622l14-4-10-3-14 3z"/>
<path color=#353caa d="M473 594l14 1-11-10-14-2z"/>
<path color=#352a87 d="M758 623l14-3-10-4-14 3z"/>
<path color=#0972de d="M1044 541l14-16-11 12-14 13z"/>
<path color=#117ad9 d="M386 529l14 8-11-20-14-10z"/>
<path color=#3638a3 d="M957 601l14-8-11 1-14 8z"/>
<path color=#352b88 d="M584 621l14-3-10-5-14 2z"/>
<path color=#352c8a d="M870 621l14-5-11-2-14 4z"/>
<path color=#36349b d="M497 605l14 0-10-9-14-1z"/>
<path color=#352a87 d="M783 624l14-3-11-4-14 3z"/>
<path color=#1487d3 d="M1068 513l14-19-10 15-14 16z"/>
<path color=#0268e1 d="M410 555l14 6-10-17-14-7z"/>
<path color=#3342b6 d="M981 590l14-10-10 4-14 9z"/>
<path color=#352d8d d="M894 619l14-6-10-1-14 4z"/>
<path color=#363092 d="M522 613l14-1-11-7-14 0z"/>
<path color=#352a87 d="M807 625l14-3-10-4-14 3z"/>
<path color=#2450d0 d="M435 576l13 4-10-14-14-5z"/>
<path color=#1f53d4 d="M1005 575l14-12-10 6-14 11z"/>
<path color=#06a3cb d="M348 484l13 12-10-26-14-14z"/>
<path color=#363092 d="M918 615l14-7-10 0-14 5z"/>
<path color=#352d8c d="M546 619l14-2-11-6-13 1z"/>
<path color=#352b88 d="M831 625l14-3-10-4-14 4z"/>
<path color=#47bb95 d="M1117 435l14-27-11 24-14 23z"/>
<path color=#3440b3 d="M459 592l14 2-11-11-14-3z"/>
<path color=#026ae1 d="M1030 556l14-15-11 9-14 13z"/>
<path color=#1484d4 d="M372 520l14 9-11-22-14-11z"/>
<path color=#36359c d="M943 608l14-7-11 1-14 6z"/>
<path color=#352b89 d="M570 623l14-2-10-6-14 2z"/>
<path color=#352b89 d="M856 625l14-4-11-3-14 4z"/>
<path color=#3637a0 d="M483 605l14 0-10-10-14-1z"/>
<path color=#352a87 d="M769 628l14-4-11-4-14 3z"/>
<path color=#076fdf d="M396 549l14 6-10-18-14-8z"/>
<path color=#353dac d="M967 599l14-9-10 3-14 8z"/>
<path color=#352c8b d="M880 624l14-5-10-3-14 5z"/>
<path color=#363195 d="M508 614l14-1-11-8-14 0z"/>
<path color=#352a87 d="M793 628l14-3-10-4-14 3z"/>
<path color=#0899d1 d="M1078 499l14-21-10 16-14 19z"/>
<path color=#125adc d="M421 572l14 4-11-15-14-6z"/>
<path color=#2c49c5 d="M991 587l14-12-10 5-14 10z"/>
<path color=#362e8f d="M904 621l14-6-10-2-14 6z"/>
<path color=#362e8e d="M532 621l14-2-10-7-14 1z"/>
<path color=#352b87 d="M817 629l14-4-10-3-14 3z"/>
<path color=#3045bd d="M445 590l14 2-11-12-13-4z"/>
<path color=#0760e0 d="M1016 570l14-14-11 7-14 12z"/>
<path color=#0f90d2 d="M358 511l14 9-11-24-13-12z"/>
<path color=#363297 d="M929 616l14-8-11 0-14 7z"/>
<path color=#352c8a d="M556 625l14-2-10-6-14 2z"/>
<path color=#352b88 d="M842 629l14-4-11-3-14 3z"/>
<path color=#8fbf74 d="M1127 412l14-30-10 26-14 27z"/>
<path color=#363aa7 d="M469 604l14 1-10-11-14-2z"/>
<path color=#0b73dd d="M1040 547l14-16-10 10-14 15z"/>
<path color=#0e77db d="M382 542l14 7-10-20-14-9z"/>
<path color=#3638a4 d="M953 608l14-9-10 2-14 7z"/>
<path color=#352c8a d="M866 628l14-4-10-3-14 4z"/>
<path color=#363398 d="M494 615l14-1-11-9-14 0z"/>
<path color=#352a87 d="M779 632l14-4-10-4-14 4z"/>
<path color=#0364e1 d="M407 568l14 4-11-17-14-6z"/>
<path color=#3242b8 d="M978 597l13-10-10 3-14 9z"/>
<path color=#352d8d d="M890 626l14-5-10-2-14 5z"/>
<path color=#362f90 d="M518 622l14-1-10-8-14 1z"/>
<path color=#352a87 d="M803 633l14-4-10-4-14 3z"/>
<path color=#06a8c4 d="M1089 484l14-24-11 18-14 21z"/>
<path color=#2a4cc8 d="M431 588l14 2-10-14-14-4z"/>
<path color=#1d54d5 d="M1002 582l14-12-11 5-14 12z"/>
<path color=#363092 d="M915 622l14-6-11-1-14 6z"/>
<path color=#352c8b d="M542 627l14-2-10-6-14 2z"/>
<path color=#352b87 d="M828 633l14-4-11-4-14 4z"/>
<path color=#4fbc91 d="M1113 440l14-28-10 23-14 25z"/>
<path color=#353dae d="M455 603l14 1-10-12-14-2z"/>
<path color=#036ae1 d="M1026 563l14-16-10 9-14 14z"/>
<path color=#137ed7 d="M368 535l14 7-10-22-14-9z"/>
<path color=#36359c d="M939 616l14-8-10 0-14 8z"/>
<path color=#352b89 d="M567 631l14-2-11-6-14 2z"/>
<path color=#352b88 d="M852 633l14-5-10-3-14 4z"/>
<path color=#36359d d="M480 615l14 0-11-10-14-1z"/>
<path color=#352a87 d="M765 635l14-3-10-4-14 3z"/>
<path color=#137dd8 d="M1051 538l14-19-11 12-14 16z"/>
<path color=#036be0 d="M393 563l14 5-11-19-14-7z"/>
<path color=#353dac d="M964 607l14-10-11 2-14 9z"/>
<path color=#352c8b d="M877 631l13-5-10-2-14 4z"/>
<path color=#363092 d="M504 623l14-1-10-8-14 1z"/>
<path color=#352a87 d="M790 636l13-3-10-5-14 4z"/>
<path color=#1e54d5 d="M417 585l14 3-10-16-14-4z"/>
<path color=#2c49c5 d="M988 595l14-13-11 5-13 10z"/>
<path color=#362e8f d="M901 629l14-7-11-1-14 5z"/>
<path color=#352d8c d="M528 630l14-3-10-6-14 1z"/>
<path color=#352b87 d="M814 637l14-4-11-4-14 4z"/>
<path color=#3342b6 d="M441 602l14 1-10-13-14-2z"/>
<path color=#0760e0 d="M1012 578l14-15-10 7-14 12z"/>
<path color=#363296 d="M925 624l14-8-10 0-14 6z"/>
<path color=#352b89 d="M553 634l14-3-11-6-14 2z"/>
<path color=#352b88 d="M838 637l14-4-10-4-14 4z"/>
<path color=#93bf72 d="M1124 419l14-31-11 24-14 28z"/>
<path color=#3637a2 d="M466 615l14 0-11-11-14-1z"/>
<path color=#0b73dd d="M1037 556l14-18-11 9-14 16z"/>
<path color=#0972de d="M379 558l14 5-11-21-14-7z"/>
<path color=#3638a3 d="M950 616l14-9-11 1-14 8z"/>
<path color=#352b89 d="M863 636l14-5-11-3-14 5z"/>
<path color=#fec635 d="M1148 362l14-37-10 30-14 33z"/>
<path color=#363195 d="M490 625l14-2-10-8-14 0z"/>
<path color=#352a87 d="M776 639l14-3-11-4-14 3z"/>
<path color=#1389d3 d="M1061 528l14-22-10 13-14 19z"/>
<path color=#0d5dde d="M403 582l14 3-10-17-14-5z"/>
<path color=#3342b6 d="M974 606l14-11-10 2-14 10z"/>
<path color=#352d8c d="M887 634l14-5-11-3-13 5z"/>
<path color=#362e8e d="M514 632l14-2-10-8-14 1z"/>
<path color=#352a87 d="M800 640l14-3-11-4-13 3z"/>
<path color=#06a8c4 d="M1085 492l14-25-10 17-14 22z"/>
<path color=#2f46bf d="M427 601l14 1-10-14-14-3z"/>
<path color=#1f53d4 d="M998 591l14-13-10 4-14 13z"/>
<path color=#363092 d="M911 631l14-7-10-2-14 7z"/>
<path color=#352c8a d="M539 636l14-2-11-7-14 3z"/>
<path color=#352b87 d="M824 641l14-4-10-4-14 4z"/>
<path color=#363aa7 d="M452 615l14 0-11-12-14-1z"/>
<path color=#026ae1 d="M1023 572l14-16-11 7-14 15z"/>
<path color=#36349b d="M936 625l14-9-11 0-14 8z"/>
<path color=#352b88 d="M563 639l14-2-10-6-14 3z"/>
<path color=#352b88 d="M849 641l14-5-11-3-14 4z"/>
<path color=#cfbb5a d="M1134 397l14-35-10 26-14 31z"/>
<path color=#363398 d="M476 626l14-1-10-10-14 0z"/>
<path color=#127cd8 d="M1047 547l14-19-10 10-14 18z"/>
<path color=#0265e1 d="M389 578l14 4-10-19-14-5z"/>
<path color=#353caa d="M960 616l14-10-10 1-14 9z"/>
<path color=#352c8a d="M873 640l14-6-10-3-14 5z"/>
<path color=#362e8f d="M501 633l13-1-10-9-14 2z"/>
<path color=#352a87 d="M786 643l14-3-10-4-14 3z"/>
<path color=#0899d1 d="M1071 516l14-24-10 14-14 22z"/>
<path color=#294cc9 d="M414 599l13 2-10-16-14-3z"/>
<path color=#2e48c2 d="M984 604l14-13-10 4-14 11z"/>
<path color=#362e8e d="M897 637l14-6-10-2-14 5z"/>
<path color=#352c8a d="M525 639l14-3-11-6-14 2z"/>
<path color=#352a87 d="M810 644l14-3-10-4-14 3z"/>
<path color=#1bb2b0 d="M1096 477l14-28-11 18-14 25z"/>
<path color=#353dad d="M438 615l14 0-11-13-14-1z"/>
<path color=#0b5edf d="M1009 588l14-16-11 6-14 13z"/>
<path color=#363195 d="M922 633l14-8-11-1-14 7z"/>
<path color=#352b88 d="M549 642l14-3-10-5-14 2z"/>
<path color=#352b87 d="M835 645l14-4-11-4-14 4z"/>
<path color=#8fbf74 d="M1120 430l14-33-10 22-14 30z"/>
<path color=#36349c d="M462 627l14-1-10-11-14 0z"/>
<path color=#0972de d="M1033 566l14-19-10 9-14 16z"/>
<path color=#3637a0 d="M946 626l14-10-10 0-14 9z"/>
<path color=#352b89 d="M859 644l14-4-10-4-14 5z"/>
<path color=#362f91 d="M487 635l14-2-11-8-14 1z"/>
<path color=#1487d3 d="M1058 538l13-22-10 12-14 19z"/>
<path color=#1f53d4 d="M400 597l14 2-11-17-14-4z"/>
<path color=#3440b3 d="M970 616l14-12-10 2-14 10z"/>
<path color=#352c8b d="M883 643l14-6-10-3-14 6z"/>
<path color=#352d8b d="M511 641l14-2-11-7-13 1z"/>
<path color=#352a87 d="M796 648l14-4-10-4-14 3z"/>
<path color=#06a6c7 d="M1082 504l14-27-11 15-14 24z"/>
<path color=#3341b4 d="M424 615l14 0-11-14-13-2z"/>
<path color=#2450d0 d="M995 602l14-14-11 3-14 13z"/>
<path color=#362f90 d="M908 640l14-7-11-2-14 6z"/>
<path color=#352b88 d="M535 645l14-3-10-6-14 3z"/>
<path color=#352a87 d="M821 648l14-3-11-4-14 3z"/>
<path color=#47bb95 d="M1106 461l14-31-10 19-14 28z"/>
<path color=#3636a0 d="M448 628l14-1-10-12-14 0z"/>
<path color=#0268e1 d="M1019 583l14-17-10 6-14 16z"/>
<path color=#363398 d="M932 635l14-9-10-1-14 8z"/>
<path color=#352b87 d="M560 648l14-3-11-6-14 3z"/>
<path color=#352b88 d="M845 649l14-5-10-3-14 4z"/>
<path color=#363093 d="M473 637l14-2-11-9-14 1z"/>
<path color=#117ad9 d="M1044 559l14-21-11 9-14 19z"/>
<path color=#363aa7 d="M957 626l13-10-10 0-14 10z"/>
<path color=#352b89 d="M870 648l13-5-10-3-14 4z"/>
<path color=#352d8c d="M497 644l14-3-10-8-14 2z"/>
<path color=#352a87 d="M782 651l14-3-10-5-14 3z"/>
<path color=#0a96d1 d="M1068 528l14-24-11 12-13 22z"/>
<path color=#3145bc d="M410 614l14 1-10-16-14-2z"/>
<path color=#3045bd d="M981 615l14-13-11 2-14 12z"/>
<path color=#352d8c d="M894 646l14-6-11-3-14 6z"/>
<path color=#352b89 d="M521 648l14-3-10-6-14 2z"/>
<path color=#352a87 d="M807 652l14-4-11-4-14 4z"/>
<path color=#14b0b5 d="M1092 490l14-29-10 16-14 27z"/>
<path color=#3639a4 d="M434 628l14 0-10-13-14 0z"/>
<path color=#125adc d="M1005 599l14-16-10 5-14 14z"/>
<path color=#363092 d="M918 642l14-7-10-2-14 7z"/>
<path color=#352b87 d="M546 651l14-3-11-6-14 3z"/>
<path color=#352b87 d="M831 653l14-4-10-4-14 3z"/>
<path color=#363296 d="M459 639l14-2-11-10-14 1z"/>
<path color=#076fdf d="M1030 578l14-19-11 7-14 17z"/>
<path color=#36359d d="M943 636l14-10-11 0-14 9z"/>
<path color=#352b88 d="M856 653l14-5-11-4-14 5z"/>
<path color=#362e8d d="M483 646l14-2-10-9-14 2z"/>
<path color=#1484d4 d="M1054 551l14-23-10 10-14 21z"/>
<path color=#353dae d="M967 627l14-12-11 1-13 10z"/>
<path color=#352c8a d="M880 652l14-6-11-3-13 5z"/>
<path color=#352c89 d="M507 651l14-3-10-7-14 3z"/>
<path color=#352a87 d="M793 655l14-3-11-4-14 3z"/>
<path color=#06a3cb d="M1078 518l14-28-10 14-14 24z"/>
<path color=#353ba9 d="M420 629l14-1-10-13-14-1z"/>
<path color=#2a4cc8 d="M991 614l14-15-10 3-14 13z"/>
<path color=#362e8e d="M904 649l14-7-10-2-14 6z"/>
<path color=#352b87 d="M532 654l14-3-11-6-14 3z"/>
<path color=#352a87 d="M817 656l14-3-10-5-14 4z"/>
<path color=#363398 d="M445 640l14-1-11-11-14 0z"/>
<path color=#0364e1 d="M1016 596l14-18-11 5-14 16z"/>
<path color=#363195 d="M929 645l14-9-11-1-14 7z"/>
<path color=#352a87 d="M556 655l14-3-10-4-14 3z"/>
<path color=#352b87 d="M842 657l14-4-11-4-14 4z"/>
<path color=#362e8f d="M469 648l14-2-10-9-14 2z"/>
<path color=#0e77db d="M1040 572l14-21-10 8-14 19z"/>
<path color=#3637a2 d="M953 637l14-10-10-1-14 10z"/>
<path color=#352b88 d="M866 657l14-5-10-4-14 5z"/>
<path color=#352c8a d="M494 654l13-3-10-7-14 2z"/>
<path color=#0f90d2 d="M1064 543l14-25-10 10-14 23z"/>
<path color=#3342b6 d="M977 627l14-13-10 1-14 12z"/>
<path color=#352c8a d="M890 655l14-6-10-3-14 6z"/>
<path color=#352b88 d="M518 657l14-3-11-6-14 3z"/>
<path color=#352a87 d="M803 659l14-3-10-4-14 3z"/>
<path color=#36349b d="M431 642l14-2-11-12-14 1z"/>
<path color=#1e54d5 d="M1002 612l14-16-11 3-14 15z"/>
<path color=#362e8f d="M915 652l14-7-11-3-14 7z"/>
<path color=#352a87 d="M542 658l14-3-10-4-14 3z"/>
<path color=#352a87 d="M828 660l14-3-11-4-14 3z"/>
<path color=#362f90 d="M455 650l14-2-10-9-14 1z"/>
<path color=#036be0 d="M1026 592l14-20-10 6-14 18z"/>
<path color=#363398 d="M939 647l14-10-10-1-14 9z"/>
<path color=#352b87 d="M852 661l14-4-10-4-14 4z"/>
<path color=#352c8a d="M480 656l14-2-11-8-14 2z"/>
<path color=#137ed7 d="M1050 566l14-23-10 8-14 21z"/>
<path color=#363aa7 d="M963 639l14-12-10 0-14 10z"/>
<path color=#352b88 d="M876 661l14-6-10-3-14 5z"/>
<path color=#352b88 d="M504 660l14-3-11-6-13 3z"/>
<path color=#2f46bf d="M988 626l14-14-11 2-14 13z"/>
<path color=#352d8b d="M901 659l14-7-11-3-14 6z"/>
<path color=#352a87 d="M528 662l14-4-10-4-14 3z"/>
<path color=#352a87 d="M814 663l14-3-11-4-14 3z"/>
<path color=#363091 d="M441 653l14-3-10-10-14 2z"/>
<path color=#0d5dde d="M1012 610l14-18-10 4-14 16z"/>
<path color=#362f91 d="M925 655l14-8-10-2-14 7z"/>
<path color=#352a87 d="M838 664l14-3-10-4-14 3z"/>
<path color=#352c8b d="M466 659l14-3-11-8-14 2z"/>
<path color=#0972de d="M1036 588l14-22-10 6-14 20z"/>
<path color=#36349c d="M949 649l14-10-10-2-14 10z"/>
<path color=#352b87 d="M862 665l14-4-10-4-14 4z"/>
<path color=#352b88 d="M490 663l14-3-10-6-14 2z"/>
<path color=#353dad d="M974 639l14-13-11 1-14 12z"/>
<path color=#352b89 d="M887 665l14-6-11-4-14 6z"/>
<path color=#352a87 d="M514 665l14-3-10-5-14 3z"/>
<path color=#352b87 d="M800 665l14-2-11-4-14 2z"/>
<path color=#294cc9 d="M998 626l14-16-10 2-14 14z"/>
<path color=#352d8c d="M911 663l14-8-10-3-14 7z"/>
<path color=#352a87 d="M539 665l14-3-11-4-14 4z"/>
<path color=#352a87 d="M824 667l14-3-10-4-14 3z"/>
<path color=#352d8b d="M452 662l14-3-11-9-14 3z"/>
<path color=#0265e1 d="M1023 607l13-19-10 4-14 18z"/>
<path color=#363093 d="M936 658l13-9-10-2-14 8z"/>
<path color=#352a87 d="M848 669l14-4-10-4-14 3z"/>
<path color=#352b88 d="M476 666l14-3-10-7-14 3z"/>
<path color=#3636a0 d="M960 651l14-12-11 0-14 10z"/>
<path color=#352b87 d="M873 669l14-4-11-4-14 4z"/>
<path color=#352a87 d="M500 668l14-3-10-5-14 3z"/>
<path color=#3341b4 d="M984 640l14-14-10 0-14 13z"/>
<path color=#352c89 d="M897 669l14-6-10-4-14 6z"/>
<path color=#352a87 d="M525 668l14-3-11-3-14 3z"/>
<path color=#352b87 d="M810 669l14-2-10-4-14 2z"/>
<path color=#1f53d4 d="M1009 625l14-18-11 3-14 16z"/>
<path color=#362e8d d="M922 666l14-8-11-3-14 8z"/>
<path color=#352a87 d="M835 671l13-2-10-5-14 3z"/>
<path color=#352b88 d="M462 669l14-3-10-7-14 3z"/>
<path color=#363296 d="M946 661l14-10-11-2-13 9z"/>
<path color=#352a87 d="M859 673l14-4-11-4-14 4z"/>
<path color=#352a87 d="M486 671l14-3-10-5-14 3z"/>
<path color=#3639a4 d="M970 653l14-13-10-1-14 12z"/>
<path color=#352b88 d="M883 673l14-4-10-4-14 4z"/>
<path color=#352a87 d="M511 671l14-3-11-3-14 3z"/>
<path color=#3145bc d="M995 641l14-16-11 1-14 14z"/>
<path color=#352c8a d="M908 672l14-6-11-3-14 6z"/>
<path color=#352b88 d="M535 670l14-2-10-3-14 3z"/>
<path color=#352b87 d="M821 673l14-2-11-4-14 2z"/>
<path color=#362e8f d="M932 669l14-8-10-3-14 8z"/>
<path color=#352a87 d="M845 675l14-2-11-4-13 2z"/>
<path color=#352a87 d="M472 674l14-3-10-5-14 3z"/>
<path color=#363398 d="M956 664l14-11-10-2-14 10z"/>
<path color=#352a87 d="M869 677l14-4-10-4-14 4z"/>
<path color=#352a87 d="M497 674l14-3-11-3-14 3z"/>
<path color=#353ba9 d="M981 654l14-13-11-1-14 13z"/>
<path color=#352b88 d="M894 678l14-6-11-3-14 4z"/>
<path color=#352b88 d="M521 673l14-3-10-2-14 3z"/>
<path color=#352c8a d="M918 676l14-7-10-3-14 6z"/>
<path color=#352b87 d="M831 677l14-2-10-4-14 2z"/>
<path color=#362f90 d="M942 673l14-9-10-3-14 8z"/>
<path color=#352a87 d="M855 680l14-3-10-4-14 2z"/>
<path color=#352a87 d="M483 677l14-3-11-3-14 3z"/>
<path color=#36349b d="M967 666l14-12-11-1-14 11z"/>
<path color=#352a87 d="M880 681l14-3-11-5-14 4z"/>
<path color=#352b88 d="M507 676l14-3-10-2-14 3z"/>
<path color=#352b88 d="M904 682l14-6-10-4-14 6z"/>
<path color=#352b89 d="M817 678l14-1-10-4-14 1z"/>
<path color=#352c8b d="M928 680l14-7-10-4-14 7z"/>
<path color=#352b88 d="M841 681l14-1-10-5-14 2z"/>
<path color=#363091 d="M953 676l14-10-11-2-14 9z"/>
<path color=#352a87 d="M866 684l14-3-11-4-14 3z"/>
<path color=#352b88 d="M493 679l14-3-10-2-14 3z"/>
<path color=#363297 d="M692 664l14 1-11-1-14 0z"/>
<path color=#352a87 d="M890 686l14-4-10-4-14 3z"/>
<path color=#363398 d="M629 664l14 0-10 1-14 0z"/>
<path color=#352b88 d="M915 686l13-6-10-4-14 6z"/>
<path color=#362e8f d="M542 672l14-1-10 0-14 3z"/>
<path color=#352c89 d="M828 681l13 0-10-4-14 1z"/>
<path color=#363195 d="M740 669l14 1-10-2-14-1z"/>
<path color=#352d8b d="M939 684l14-8-11-3-14 7z"/>
<path color=#363093 d="M566 669l14-1-10 1-14 2z"/>
<path color=#352b88 d="M852 685l14-1-11-4-14 1z"/>
<path color=#363398 d="M591 666l14 0-11 1-14 1z"/>
<path color=#352a87 d="M876 688l14-2-10-5-14 3z"/>
<path color=#352d8b d="M504 678l14-2-11 0-14 3z"/>
<path color=#36359c d="M702 664l14 2-10-1-14-1z"/>
<path color=#36359d d="M615 663l14 1-10 1-14 1z"/>
<path color=#352a87 d="M901 690l14-4-11-4-14 4z"/>
<path color=#362f90 d="M528 674l14-2-10 2-14 2z"/>
<path color=#36349b d="M727 666l13 3-10-2-14-1z"/>
<path color=#3637a0 d="M640 662l13 1-10 1-14 0z"/>
<path color=#352b88 d="M925 690l14-6-11-4-13 6z"/>
<path color=#363296 d="M552 670l14-1-10 2-14 1z"/>
<path color=#352c8a d="M838 685l14 0-11-4-13 0z"/>
<path color=#363398 d="M751 669l14 3-11-2-14-1z"/>
<path color=#3638a3 d="M664 661l14 2-11 1-14-1z"/>
<path color=#36349c d="M577 666l14 0-11 2-14 1z"/>
<path color=#352b88 d="M862 689l14-1-10-4-14 1z"/>
<path color=#363195 d="M775 673l14 3-10-3-14-1z"/>
<path color=#3638a4 d="M688 662l14 2-10 0-14-1z"/>
<path color=#3637a2 d="M601 662l14 1-10 3-14 0z"/>
<path color=#352a87 d="M887 692l14-2-11-4-14 2z"/>
<path color=#363091 d="M514 675l14-1-10 2-14 2z"/>
<path color=#3638a3 d="M713 663l14 3-11 0-14-2z"/>
<path color=#363aa7 d="M626 660l14 2-11 2-14-1z"/>
<path color=#352a87 d="M911 694l14-4-10-4-14 4z"/>
<path color=#363398 d="M539 670l13 0-10 2-14 2z"/>
<path color=#3637a0 d="M737 666l14 3-11 0-13-3z"/>
<path color=#353caa d="M650 659l14 2-11 2-13-1z"/>
<path color=#3636a0 d="M563 666l14 0-11 3-14 1z"/>
<path color=#352c8a d="M848 688l14 1-10-4-14 0z"/>
<path color=#36359d d="M761 670l14 3-10-1-14-3z"/>
<path color=#353dac d="M674 658l14 4-10 1-14-2z"/>
<path color=#363aa7 d="M587 661l14 1-10 4-14 0z"/>
<path color=#352b88 d="M873 693l14-1-11-4-14 1z"/>
<path color=#363398 d="M786 675l14 3-11-2-14-3z"/>
<path color=#353dac d="M699 659l14 4-11 1-14-2z"/>
<path color=#353dae d="M612 658l14 2-11 3-14-1z"/>
<path color=#352a87 d="M897 696l14-2-10-4-14 2z"/>
<path color=#36349b d="M525 671l14-1-11 4-14 1z"/>
<path color=#363093 d="M810 680l14 3-10-3-14-2z"/>
<path color=#353caa d="M723 662l14 4-10 0-14-3z"/>
<path color=#3440b3 d="M636 656l14 3-10 3-14-2z"/>
<path color=#3639a4 d="M549 665l14 1-11 4-13 0z"/>
<path color=#362e8f d="M834 686l14 2-10-3-14-2z"/>
<path color=#363aa7 d="M747 666l14 4-10-1-14-3z"/>
<path color=#3342b6 d="M660 655l14 3-10 3-14-2z"/>
<path color=#353dad d="M573 660l14 1-10 5-14 0z"/>
<path color=#352c8b d="M859 691l14 2-11-4-14-1z"/>
<path color=#3637a2 d="M772 670l14 5-11-2-14-3z"/>
<path color=#3242b8 d="M685 655l14 4-11 3-14-4z"/>
<path color=#3342b6 d="M598 656l14 2-11 4-14-1z"/>
<path color=#352b88 d="M883 696l14 0-10-4-14 1z"/>
<path color=#36349c d="M796 676l14 4-10-2-14-3z"/>
<path color=#3342b6 d="M709 657l14 5-10 1-14-4z"/>
<path color=#3045bd d="M622 652l14 4-10 4-14-2z"/>
<path color=#353ba9 d="M535 665l14 0-10 5-14 1z"/>
<path color=#363296 d="M820 682l14 4-10-3-14-3z"/>
<path color=#3440b3 d="M733 660l14 6-10 0-14-4z"/>
<path color=#2e48c2 d="M646 650l14 5-10 4-14-3z"/>
<path color=#3341b4 d="M559 658l14 2-10 6-14-1z"/>
<path color=#353dae d="M758 665l14 5-11 0-14-4z"/>
<path color=#2c49c5 d="M671 650l14 5-11 3-14-3z"/>
<path color=#2f46bf d="M584 653l14 3-11 5-14-1z"/>
<path color=#352d8b d="M869 695l14 1-10-3-14-2z"/>
<path color=#363aa7 d="M782 670l14 6-10-1-14-5z"/>
<path color=#2c49c5 d="M695 651l14 6-10 2-14-4z"/>
<path color=#2a4cc8 d="M608 648l14 4-10 6-14-2z"/>
<path color=#3636a0 d="M806 677l14 5-10-2-14-4z"/>
<path color=#2e48c2 d="M719 654l14 6-10 2-14-5z"/>
<path color=#2450d0 d="M632 645l14 5-10 6-14-4z"/>
<path color=#3145bc d="M545 656l14 2-10 7-14 0z"/>
<path color=#363398 d="M831 684l14 4-11-2-14-4z"/>
<path color=#3045bd d="M744 658l14 7-11 1-14-6z"/>
<path color=#1f53d4 d="M657 644l14 6-11 5-14-5z"/>
<path color=#294cc9 d="M570 650l14 3-11 7-14-2z"/>
<path color=#363091 d="M855 691l14 4-10-4-14-3z"/>
<path color=#3342b6 d="M768 663l14 7-10 0-14-5z"/>
<path color=#1d54d5 d="M681 644l14 7-10 4-14-5z"/>
<path color=#1e54d5 d="M594 644l14 4-10 8-14-3z"/>
<path color=#353dad d="M793 670l13 7-10-1-14-6z"/>
<path color=#1f53d4 d="M706 646l13 8-10 3-14-6z"/>
<path color=#125adc d="M618 640l14 5-10 7-14-4z"/>
<path color=#3639a4 d="M817 677l14 7-11-2-14-5z"/>
<path color=#2450d0 d="M730 650l14 8-11 2-14-6z"/>
<path color=#0b5edf d="M643 637l14 7-11 6-14-5z"/>
<path color=#1f53d4 d="M556 646l14 4-11 8-14-2z"/>
<path color=#36349b d="M841 685l14 6-10-3-14-4z"/>
<path color=#2a4cc8 d="M754 655l14 8-10 2-14-7z"/>
<path color=#0760e0 d="M667 637l14 7-10 6-14-6z"/>
<path color=#0d5dde d="M580 639l14 5-10 9-14-3z"/>
<path color=#2f46bf d="M779 662l14 8-11 0-14-7z"/>
<path color=#0760e0 d="M692 638l14 8-11 5-14-7z"/>
<path color=#0364e1 d="M605 634l13 6-10 8-14-4z"/>
<path color=#3341b4 d="M803 669l14 8-11 0-13-7z"/>
<path color=#0b5edf d="M716 641l14 9-11 4-13-8z"/>
<path color=#0268e1 d="M629 630l14 7-11 8-14-5z"/>
<path color=#353ba9 d="M827 678l14 7-10-1-14-7z"/>
<path color=#125adc d="M740 645l14 10-10 3-14-8z"/>
<path color=#026ae1 d="M653 628l14 9-10 7-14-7z"/>
<path color=#0265e1 d="M566 634l14 5-10 11-14-4z"/>
<path color=#1e54d5 d="M765 652l14 10-11 1-14-8z"/>
<path color=#036ae1 d="M678 628l14 10-11 6-14-7z"/>
<path color=#036be0 d="M591 627l14 7-11 10-14-5z"/>
<path color=#294cc9 d="M789 660l14 9-10 1-14-8z"/>
<path color=#026ae1 d="M702 630l14 11-10 5-14-8z"/>
<path color=#076fdf d="M615 622l14 8-11 10-13-6z"/>
<path color=#3145bc d="M813 668l14 10-10-1-14-8z"/>
<path color=#0268e1 d="M726 634l14 11-10 5-14-9z"/>
<path color=#0972de d="M639 619l14 9-10 9-14-7z"/>
<path color=#0364e1 d="M751 640l14 12-11 3-14-10z"/>
<path color=#0b73dd d="M664 618l14 10-11 9-14-9z"/>
<path color=#0972de d="M577 620l14 7-11 12-14-5z"/>
<path color=#0d5dde d="M775 648l14 12-10 2-14-10z"/>
<path color=#0b73dd d="M688 619l14 11-10 8-14-10z"/>
<path color=#0e77db d="M601 613l14 9-10 12-14-7z"/>
<path color=#1f53d4 d="M799 657l14 11-10 1-14-9z"/>
<path color=#0972de d="M712 622l14 12-10 7-14-11z"/>
<path color=#117ad9 d="M625 609l14 10-10 11-14-8z"/>
<path color=#076fdf d="M737 627l14 13-11 5-14-11z"/>
<path color=#127cd8 d="M650 606l14 12-11 10-14-9z"/>
<path color=#036be0 d="M761 635l14 13-10 4-14-12z"/>
<path color=#137dd8 d="M674 606l14 13-10 9-14-10z"/>
<path color=#137ed7 d="M587 604l14 9-10 14-14-7z"/>
<path color=#0265e1 d="M786 644l13 13-10 3-14-12z"/>
<path color=#127cd8 d="M698 608l14 14-10 8-14-11z"/>
<path color=#1484d4 d="M611 597l14 12-10 13-14-9z"/>
<path color=#117ad9 d="M723 613l14 14-11 7-14-12z"/>
<path color=#1487d3 d="M636 594l14 12-11 13-14-10z"/>
<path color=#0e77db d="M747 620l14 15-10 5-14-13z"/>
<path color=#1389d3 d="M660 592l14 14-10 12-14-12z"/>
<path color=#0972de d="M772 629l14 15-11 4-14-13z"/>
<path color=#1389d3 d="M685 593l13 15-10 11-14-13z"/>
<path color=#0f90d2 d="M598 586l13 11-10 16-14-9z"/>
<path color=#1487d3 d="M709 597l14 16-11 9-14-14z"/>
<path color=#0a96d1 d="M622 580l14 14-11 15-14-12z"/>
<path color=#1484d4 d="M733 603l14 17-10 7-14-14z"/>
<path color=#0899d1 d="M646 577l14 15-10 14-14-12z"/>
<path color=#137ed7 d="M758 611l14 18-11 6-14-15z"/>
<path color=#089ad0 d="M671 577l14 16-11 13-14-14z"/>
<path color=#0899d1 d="M695 580l14 17-11 11-13-15z"/>
<path color=#06a3cb d="M608 566l14 14-11 17-13-11z"/>
<path color=#0a96d1 d="M719 585l14 18-10 10-14-16z"/>
<path color=#06a6c7 d="M632 561l14 16-10 17-14-14z"/>
<path color=#0f90d2 d="M744 592l14 19-11 9-14-17z"/>
<path color=#06a8c4 d="M657 559l14 18-11 15-14-15z"/>
<path color=#06a8c4 d="M681 560l14 20-10 13-14-16z"/>
<path color=#06a6c7 d="M705 564l14 21-10 12-14-17z"/>
<path color=#14b0b5 d="M618 544l14 17-10 19-14-14z"/>
<path color=#06a3cb d="M730 571l14 21-11 11-14-18z"/>
<path color=#1bb2b0 d="M643 540l14 19-11 18-14-16z"/>
<path color=#1db3af d="M667 540l14 20-10 17-14-18z"/>
<path color=#1bb2b0 d="M691 543l14 21-10 16-14-20z"/>
<path color=#14b0b5 d="M716 548l14 23-11 14-14-21z"/>
<path color=#47bb95 d="M629 520l14 20-11 21-14-17z"/>
<path color=#4fbc91 d="M653 518l14 22-10 19-14-19z"/>
<path color=#4fbc91 d="M677 519l14 24-10 17-14-20z"/>
<path color=#47bb95 d="M702 523l14 25-11 16-14-21z"/>
<path color=#8fbf74 d="M639 494l14 24-10 22-14-20z"/>
<path color=#93bf72 d="M664 494l13 25-10 21-14-22z"/>
<path color=#8fbf74 d="M688 496l14 27-11 20-14-24z"/>
<path color=#cfbb5a d="M650 467l14 27-11 24-14-24z"/>
<path color=#cfbb5a d="M674 468l14 28-11 23-13-25z"/>
<path color=#fec635 d="M660 437l14 31-10 26-14-27z"/>
</g>
<text x="71.6" y="12.1" font-size="10.66" text-anchor="middle" fill="#262626">Parameter space</text>
<text x="61.8" y="85.55" font-size="9.3" text-anchor="end" fill="#262626">-5</text>
<text x="43.05" y="77.95" font-size="9.3" text-anchor="end" fill="#262626">0</text>
<text x="24.3" y="70.35" font-size="9.3" text-anchor="end" fill="#262626">5</text>
<text x="69.7" y="85.55" font-size="9.3" text-anchor="start" fill="#262626">-5</text>
<text x="94.8" y="79.95" font-size="9.3" text-anchor="start" fill="#262626">0</text>
<text x="119.9" y="74.35" font-size="9.3" text-anchor="start" fill="#262626">5</text>
<text x="23.9" y="63.05" font-size="9.3" text-anchor="end" fill="#262626">0</text>
<text x="23.9" y="31.75" font-size="9.3" text-anchor="end" fill="#262626">5</text>
<text x="27.4" y="95.15" font-size="10.6" text-anchor="middle" fill="#262626">x</text><text x="30.58" y="99.39" font-size="7.632" text-anchor="start" fill="#262626">2</text>
<text x="103.7" y="95.85" font-size="10.6" text-anchor="middle" fill="#262626">x</text><text x="106.88" y="100.09" font-size="7.632" text-anchor="start" fill="#262626">1</text>
<text x="11.1" y="48.52" font-size="10.07" text-anchor="middle" fill="#262626" transform="rotate(-90 11.1 45)">F15</text>
<text x="4.9" y="20.2" font-size="9.3" fill="#262626"><tspan font-size="11.62">&#215;</tspan>10<tspan font-size="6.7" dy="-4.19">5</tspan></text>
<path d="M304.3 28.4L304.3 59.8L343.4 75L394.7 63.3" stroke="#5a5a5a" stroke-width="0.6" fill="none"/>
<path d="M367.6 55.6l6.5 1.3 2.7 1.2 1.3 1.2-.6 1-4.8 .5-6-.4-4.3-.9-2.2-1.3 0-.9 1-.9 1.6-.6 4.8-.2" stroke="#3638a2" stroke-width="0.5" fill="none"/>
<path d="M326 62.3l6.3 .4 4.3 .9 1.8 .9 .4 1.3-1 .9-1.6 .6-2.4 .3-3.6-.2-3.5-.6-3.3-1.2-2.5-1.8 .6-1 4.5-.5" stroke="#3638a2" stroke-width="0.5" fill="none"/>
<path d="M364.5 54.4l5.5 .5 5.9 1.6 5 2.5 1 1.8-1 .8-4.9 .5-10.7-.4-7.6-1.1-2.4-1.3-.2-.9 .9-1.6 2.4-1.5 1.8-.6 4.3-.3" stroke="#2251d1" stroke-width="0.5" fill="none"/>
<path d="M323.5 61l15.7 1.1 3.7 1 .8 .7 .2 .9-.3 1-1.2 1.2-3.6 1.5-5.4 .3-4.4-.5-7.4-2.1-3.9-2.3-.6-1.5 1-.8 5.4-.5" stroke="#2251d1" stroke-width="0.5" fill="none"/>
<path d="M382.3 58.5l2.7 2.2 .3 1.4-1.1 .8-5.1 .4-23.6-.6-4.3 .7-6.8 4.7-3.4 1.1-6.1 .3-9.2-1.4" stroke="#056ee0" stroke-width="0.5" fill="none"/>
<path d="M316.7 64.6l-2.7-2.2-.3-1.4 1.1-.8 5.1-.4 23.6 .6 4.3-.7 6.8-4.7 3.4-1.1 6.1-.3 9.2 1.4" stroke="#056ee0" stroke-width="0.5" fill="none"/>
<path d="M387.7 64.9l-19.5-1-9 .2-6.1 1.3-6.5 3.5-3.5 1.1-5.3 .4-8.9-1" stroke="#1482d5" stroke-width="0.5" fill="none"/>
<path d="M386.3 60l2.3 2.1 1.2 1.7-.4 .7" stroke="#1482d5" stroke-width="0.5" fill="none"/>
<path d="M311.3 58.2l19.5 1 9-.2 6.1-1.3 6.5-3.5 3.5-1.1 5.3-.4 8.9 1" stroke="#1482d5" stroke-width="0.5" fill="none"/>
<path d="M312.7 63.1l-2.3-2.1-1.2-1.7 .4-.7" stroke="#1482d5" stroke-width="0.5" fill="none"/>
<path d="M382.5 66.1l-11.5-1.1-9.1 .1-6.3 1.3-7 3.3-3.5 1.1-5.4 .3-8.5-.8" stroke="#079cd0" stroke-width="0.5" fill="none"/>
<path d="M390 61.5l3.2 2.1" stroke="#079cd0" stroke-width="0.5" fill="none"/>
<path d="M316.5 57l11.5 1.1 9.1-.1 6.3-1.3 7-3.3 3.5-1.1 5.4-.3 8.5 .8" stroke="#079cd0" stroke-width="0.5" fill="none"/>
<path d="M309 61.6l-3.2-2.1" stroke="#079cd0" stroke-width="0.5" fill="none"/>
<path d="M379.3 66.8l-8.6-.8-6.3 .1-6.4 1.2-7.2 3.3-3.7 1-5.5 .3-8.4-.9" stroke="#0faeb9" stroke-width="0.5" fill="none"/>
<path d="M319.7 56.3l8.6 .8 6.3-.1 6.4-1.2 7.2-3.3 3.7-1 5.5-.3 8.4 .9" stroke="#0faeb9" stroke-width="0.5" fill="none"/>
<path d="M376 67.6l-6-.5-7.8 .6-3.5 1.1-5.5 2.7-3.7 1-5.9 .2-8.5-.9" stroke="#47bb95" stroke-width="0.5" fill="none"/>
<path d="M323 55.5l6 .5 7.8-.6 3.5-1.1 5.5-2.7 3.7-1 5.9-.2 8.5 .9" stroke="#47bb95" stroke-width="0.5" fill="none"/>
<path d="M349 73.7l-12.1-1.2" stroke="#95bf71" stroke-width="0.5" fill="none"/>
<path d="M371.9 68.5l-6.9 .3-3.6 1-3.2 1.8" stroke="#95bf71" stroke-width="0.5" fill="none"/>
<path d="M350 49.4l12.1 1.2" stroke="#95bf71" stroke-width="0.5" fill="none"/>
<path d="M327.1 54.6l6.9-.3 3.6-1 3.2-1.8" stroke="#95bf71" stroke-width="0.5" fill="none"/>
<path d="M346.4 74.3l-7.6-1.1" stroke="#d5ba57" stroke-width="0.5" fill="none"/>
<path d="M352.6 48.8l7.6 1.1" stroke="#d5ba57" stroke-width="0.5" fill="none"/>
<path d="M344.7 74.7l-3.8-.7" stroke="#fec932" stroke-width="0.5" fill="none"/>
<path d="M354.3 48.4l3.8 .7" stroke="#fec932" stroke-width="0.5" fill="none"/>
<g fill="currentColor" stroke="currentColor" stroke-width="6.0" transform="scale(.1)">
<path color=#fec833 d="M3551 225l20-39-15-19-20 39z"/>
<path color=#c5bc5e d="M3532 252l19-27-15-19-19 28z"/>
<path color=#ebb94d d="M3566 246l20-39-15-21-20 39z"/>
<path color=#91bf73 d="M3512 270l20-18-15-18-20 18z"/>
<path color=#9ebe6d d="M3547 273l19-27-15-21-19 27z"/>
<path color=#c1bc60 d="M3581 269l20-39-15-23-20 39z"/>
<path color=#70bf81 d="M3492 281l20-11-15-18-20 11z"/>
<path color=#64be86 d="M3527 291l20-18-15-21-20 18z"/>
<path color=#6bbf83 d="M3562 295l19-26-15-23-19 27z"/>
<path color=#8fbf74 d="M3596 292l20-37-15-25-20 39z"/>
<path color=#63be87 d="M3472 286l20-5-15-18-20 6z"/>
<path color=#43bb97 d="M3507 301l20-10-15-21-20 11z"/>
<path color=#32b8a1 d="M3542 312l20-17-15-22-20 18z"/>
<path color=#33b8a0 d="M3577 319l19-27-15-23-19 26z"/>
<path color=#66be85 d="M3453 288l19-2-15-17-19 2z"/>
<path color=#50bc90 d="M3611 317l20-38-15-24-20 37z"/>
<path color=#39b99d d="M3487 306l20-5-15-20-20 5z"/>
<path color=#1cb3b0 d="M3522 322l20-10-15-21-20 10z"/>
<path color=#0eaeba d="M3557 336l20-17-15-24-20 17z"/>
<path color=#73bf80 d="M3433 288l20 0-15-17-20 0z"/>
<path color=#0dadbb d="M3592 343l19-26-15-25-19 27z"/>
<path color=#3dba9b d="M3468 307l19-1-15-20-19 2z"/>
<path color=#1cb3af d="M3627 342l19-38-15-25-20 38z"/>
<path color=#16b1b4 d="M3502 327l20-5-15-21-20 5z"/>
<path color=#06a8c4 d="M3537 345l20-9-15-24-20 10z"/>
<path color=#84bf78 d="M3413 286l20 2-15-17-20-1z"/>
<path color=#06a1cd d="M3572 359l20-16-15-24-20 17z"/>
<path color=#49bc94 d="M3448 306l20 1-15-19-20 0z"/>
<path color=#069fce d="M3607 367l20-25-16-25-19 26z"/>
<path color=#19b2b2 d="M3483 328l19-1-15-21-19 1z"/>
<path color=#06a6c6 d="M3642 366l19-37-15-25-19 38z"/>
<path color=#06a6c7 d="M3518 349l19-4-15-23-20 5z"/>
<path color=#95bf71 d="M3393 285l20 1-15-16-20 0z"/>
<path color=#0998d1 d="M3552 369l20-10-15-23-20 9z"/>
<path color=#5cbe8a d="M3428 305l20 1-15-18-20-2z"/>
<path color=#118cd2 d="M3587 383l20-16-15-24-20 16z"/>
<path color=#23b4ab d="M3463 327l20 1-15-21-20-1z"/>
<path color=#128ad3 d="M3622 391l20-25-15-24-20 25z"/>
<path color=#06a7c5 d="M3498 350l20-1-16-22-19 1z"/>
<path color=#a3be6c d="M3374 286l19-1-15-15-19 0z"/>
<path color=#0b95d2 d="M3657 388l19-36-15-23-19 37z"/>
<path color=#0b95d2 d="M3533 373l19-4-15-24-19 4z"/>
<path color=#70bf81 d="M3408 304l20 1-15-19-20-1z"/>
<path color=#1483d5 d="M3567 392l20-9-15-24-20 10z"/>
<path color=#31b8a2 d="M3443 325l20 2-15-21-20-1z"/>
<path color=#117bd9 d="M3602 406l20-15-15-24-20 16z"/>
<path color=#08abc0 d="M3478 349l20 1-15-22-20-1z"/>
<path color=#abbe68 d="M3354 288l20-2-15-16-20 3z"/>
<path color=#117ada d="M3637 413l20-25-15-22-20 25z"/>
<path color=#0998d1 d="M3513 373l20 0-15-24-20 1z"/>
<path color=#81bf79 d="M3389 303l19 1-15-19-19 1z"/>
<path color=#1482d5 d="M3672 410l19-36-15-22-19 36z"/>
<path color=#1482d5 d="M3548 396l19-4-15-23-19 4z"/>
<path color=#43bb97 d="M3424 323l19 2-15-20-20-1z"/>
<path color=#0c74dd d="M3582 415l20-9-15-23-20 9z"/>
<path color=#10afb8 d="M3458 346l20 3-15-22-20-2z"/>
<path color=#aebe67 d="M3334 293l20-5-15-15-20 5z"/>
<path color=#046ce0 d="M3617 429l20-16-15-22-20 15z"/>
<path color=#079dcf d="M3493 371l20 2-15-23-20-1z"/>
<path color=#8cbf75 d="M3369 305l20-2-15-17-20 2z"/>
<path color=#046ce0 d="M3652 434l20-24-15-22-20 25z"/>
<path color=#1484d4 d="M3528 396l20 0-15-23-20 0z"/>
<path color=#54bd8e d="M3404 323l20 0-16-19-19-1z"/>
<path color=#0d76dc d="M3687 429l19-36-15-19-19 36z"/>
<path color=#0a73dd d="M3563 418l19-3-15-23-19 4z"/>
<path color=#1cb3af d="M3439 344l19 2-15-21-19-2z"/>
<path color=#a9be69 d="M3315 300l19-7-15-15-19 7z"/>
<path color=#0265e1 d="M3597 437l20-8-15-23-20 9z"/>
<path color=#06a3ca d="M3473 368l20 3-15-22-20-3z"/>
<path color=#90bf73 d="M3349 310l20-5-15-17-20 5z"/>
<path color=#125adc d="M3632 449l20-15-15-21-20 16z"/>
<path color=#138ad3 d="M3508 393l20 3-15-23-20-2z"/>
<path color=#61be87 d="M3384 324l20-1-15-20-20 2z"/>
<path color=#0f5cde d="M3667 453l20-24-15-19-20 24z"/>
<path color=#0d75dc d="M3543 418l20 0-15-22-20 0z"/>
<path color=#2ab6a7 d="M3419 344l20 0-15-21-20 0z"/>
<path color=#9cbf6e d="M3295 310l20-10-15-15-20 11z"/>
<path color=#036be0 d="M3702 446l19-36-15-17-19 36z"/>
<path color=#0364e1 d="M3578 440l19-3-15-22-19 3z"/>
<path color=#06a9c3 d="M3454 366l19 2-15-22-19-2z"/>
<path color=#8cbf75 d="M3330 317l19-7-15-17-19 7z"/>
<path color=#254fce d="M3612 457l20-8-15-20-20 8z"/>
<path color=#0d92d2 d="M3488 390l20 3-15-22-20-3z"/>
<path color=#67be85 d="M3364 328l20-4-15-19-20 5z"/>
<path color=#2f46bf d="M3647 468l20-15-15-19-20 15z"/>
<path color=#117ad9 d="M3523 415l20 3-15-22-20-3z"/>
<path color=#34b8a0 d="M3399 345l20-1-15-21-20 1z"/>
<path color=#86bf77 d="M3275 323l20-13-15-14-20 13z"/>
<path color=#2c4ac6 d="M3682 470l20-24-15-17-20 24z"/>
<path color=#0267e1 d="M3558 439l20 1-15-22-20 0z"/>
<path color=#0badbc d="M3434 365l20 1-15-22-20 0z"/>
<path color=#7fbf7a d="M3310 326l20-9-15-17-20 10z"/>
<path color=#0760e0 d="M3717 460l19-35-15-15-19 36z"/>
<path color=#274ecc d="M3593 460l19-3-15-20-19 3z"/>
<path color=#089bd0 d="M3469 388l19 2-15-22-19-2z"/>
<path color=#64be86 d="M3345 335l19-7-15-18-19 7z"/>
<path color=#1480d6 d="M3503 412l20 3-15-22-20-3z"/>
<path color=#3ab99c d="M3379 348l20-3-15-21-20 4z"/>
<path color=#65be86 d="M3255 338l20-15-15-14-20 16z"/>
<path color=#046de0 d="M3538 436l20 3-15-21-20-3z"/>
<path color=#12b0b6 d="M3414 366l20-1-15-21-20 1z"/>
<path color=#67be85 d="M3290 339l20-13-15-16-20 13z"/>
<path color=#1f53d4 d="M3573 458l20 2-15-20-20-1z"/>
<path color=#06a1cc d="M3449 386l20 2-15-22-20-1z"/>
<path color=#57bd8d d="M3325 344l20-9-15-18-20 9z"/>
<path color=#1b56d7 d="M3732 472l20-35-16-12-19 35z"/>
<path color=#343fb0 d="M3608 477l19-2-15-18-19 3z"/>
<path color=#1388d3 d="M3484 409l19 3-15-22-19-2z"/>
<path color=#38b99e d="M3360 355l19-7-15-20-19 7z"/>
<path color=#3dba9b d="M3236 356l19-18-15-13-19 18z"/>
<path color=#0b73dd d="M3518 432l20 4-15-21-20-3z"/>
<path color=#17b1b3 d="M3394 369l20-3-15-21-20 3z"/>
<path color=#47bb95 d="M3270 354l20-15-15-16-20 15z"/>
<path color=#0c5dde d="M3553 455l20 3-15-19-20-3z"/>
<path color=#06a5c8 d="M3429 387l20-1-15-21-20 1z"/>
<path color=#41ba98 d="M3305 357l20-13-15-18-20 13z"/>
<path color=#3243b8 d="M3588 476l20 1-15-17-20-2z"/>
<path color=#0f90d2 d="M3464 407l20 2-15-21-20-2z"/>
<path color=#2fb7a3 d="M3340 364l20-9-15-20-20 9z"/>
<path color=#254fce d="M3747 480l20-34-15-9-20 35z"/>
<path color=#1bb2b0 d="M3216 374l20-18-15-13-20 18z"/>
<path color=#117ad9 d="M3499 429l19 3-15-20-19-3z"/>
<path color=#16b1b4 d="M3375 375l19-6-15-21-19 7z"/>
<path color=#26b5a9 d="M3251 371l19-17-15-16-19 18z"/>
<path color=#0267e1 d="M3534 451l19 4-15-19-20-4z"/>
<path color=#06a7c5 d="M3409 390l20-3-15-21-20 3z"/>
<path color=#28b6a7 d="M3285 371l20-14-15-18-20 15z"/>
<path color=#2b4bc7 d="M3568 472l20 4-15-18-20-3z"/>
<path color=#0a96d1 d="M3444 407l20 0-15-21-20 1z"/>
<path color=#20b4ad d="M3320 376l20-12-15-20-20 13z"/>
<path color=#07a9c2 d="M3196 393l20-19-15-13-20 19z"/>
<path color=#1480d6 d="M3479 427l20 2-15-20-20-2z"/>
<path color=#11afb8 d="M3355 384l20-9-15-20-20 9z"/>
<path color=#284dca d="M3762 486l20-34-15-6-20 34z"/>
<path color=#0dadbb d="M3231 389l20-18-15-15-20 18z"/>
<path color=#066edf d="M3514 447l20 4-16-19-19-3z"/>
<path color=#06a7c5 d="M3390 395l19-5-15-21-19 6z"/>
<path color=#11afb8 d="M3266 388l19-17-15-17-19 17z"/>
<path color=#1857d8 d="M3549 468l19 4-15-17-19-4z"/>
<path color=#089ad0 d="M3425 410l19-3-15-20-20 3z"/>
<path color=#0faeb9 d="M3300 390l20-14-15-19-20 14z"/>
<path color=#079ecf d="M3176 411l20-18-15-13-20 19z"/>
<path color=#1486d4 d="M3459 426l20 1-15-20-20 0z"/>
<path color=#09abbf d="M3335 395l20-11-15-20-20 12z"/>
<path color=#06a3ca d="M3211 407l20-18-15-15-20 19z"/>
<path color=#0d75dc d="M3494 445l20 2-15-18-20-2z"/>
<path color=#06a5c8 d="M3370 403l20-8-15-20-20 9z"/>
<path color=#264ecc d="M3777 490l20-34-15-4-20 34z"/>
<path color=#06a6c7 d="M3246 405l20-17-15-17-20 18z"/>
<path color=#0363e1 d="M3529 464l20 4-15-17-20-4z"/>
<path color=#089ad0 d="M3405 415l20-5-16-20-19 5z"/>
<path color=#06a7c6 d="M3281 406l19-16-15-19-19 17z"/>
<path color=#108fd2 d="M3157 426l19-15-15-12-19 16z"/>
<path color=#2d49c3 d="M3564 482l19 5-15-15-19-4z"/>
<path color=#1389d3 d="M3440 429l19-3-15-19-19 3z"/>
<path color=#06a5c8 d="M3316 409l19-14-15-19-20 14z"/>
<path color=#0b95d2 d="M3191 425l20-18-15-14-20 18z"/>
<path color=#117ada d="M3474 444l20 1-15-18-20-1z"/>
<path color=#06a1cd d="M3350 415l20-12-15-19-20 11z"/>
<path color=#089ad0 d="M3226 424l20-19-15-16-20 18z"/>
<path color=#036be0 d="M3509 461l20 3-15-17-20-2z"/>
<path color=#0998d1 d="M3385 423l20-8-15-20-20 8z"/>
<path color=#1f53d4 d="M3792 491l20-34-15-1-20 34z"/>
<path color=#079cd0 d="M3261 423l20-17-15-18-20 17z"/>
<path color=#1484d4 d="M3137 439l20-13-15-11-20 12z"/>
<path color=#1b55d6 d="M3544 478l20 4-15-14-20-4z"/>
<path color=#138ad3 d="M3420 433l20-4-15-19-20 5z"/>
<path color=#079cd0 d="M3296 425l20-16-16-19-19 16z"/>
<path color=#1487d3 d="M3172 440l19-15-15-14-19 15z"/>
<path color=#137dd8 d="M3455 446l19-2-15-18-19 3z"/>
<path color=#0998d1 d="M3331 428l19-13-15-20-19 14z"/>
<path color=#138ad3 d="M3207 441l19-17-15-17-20 18z"/>
<path color=#0871df d="M3489 460l20 1-15-16-20-1z"/>
<path color=#0e92d2 d="M3365 434l20-11-15-20-20 12z"/>
<path color=#118cd2 d="M3241 441l20-18-15-18-20 19z"/>
<path color=#137fd6 d="M3117 446l20-7-15-12-20 8z"/>
<path color=#0561e0 d="M3524 475l20 3-15-14-20-3z"/>
<path color=#1388d3 d="M3400 441l20-8-15-18-20 8z"/>
<path color=#0e5cde d="M3807 489l20-33-15 1-20 34z"/>
<path color=#118dd2 d="M3276 442l20-17-15-19-20 17z"/>
<path color=#137ed7 d="M3152 452l20-12-15-14-20 13z"/>
<path color=#2b4bc7 d="M3559 489l20 5-15-12-20-4z"/>
<path color=#137ed7 d="M3435 450l20-4-15-17-20 4z"/>
<path color=#128cd2 d="M3311 444l20-16-15-19-20 16z"/>
<path color=#137ed7 d="M3187 456l20-15-16-16-19 15z"/>
<path color=#0c74dd d="M3470 461l19-1-15-16-19 2z"/>
<path color=#1388d3 d="M3346 447l19-13-15-19-19 13z"/>
<path color=#137fd7 d="M3222 458l19-17-15-17-19 17z"/>
<path color=#363398 d="M3628 515l20 5-15-7-20-4z"/>
<path color=#1480d6 d="M3098 445l19 1-15-11-20 0z"/>
<path color=#0269e1 d="M3504 473l20 2-15-14-20-1z"/>
<path color=#1483d5 d="M3380 452l20-11-15-18-20 11z"/>
<path color=#1480d6 d="M3256 459l20-17-15-19-20 18z"/>
<path color=#362d8d d="M3663 524l20 4-15-5-20-3z"/>
<path color=#117ada d="M3132 459l20-7-15-13-20 7z"/>
<path color=#1758d9 d="M3539 486l20 3-15-11-20-3z"/>
<path color=#127dd8 d="M3415 458l20-8-15-17-20 8z"/>
<path color=#0266e1 d="M3822 487l20-33-15 2-20 33z"/>
<path color=#1480d6 d="M3291 460l20-16-15-19-20 17z"/>
<path color=#0e77db d="M3167 467l20-11-15-16-20 12z"/>
<path color=#0d75dc d="M3450 466l20-5-15-15-20 4z"/>
<path color=#137fd7 d="M3326 462l20-15-15-19-20 16z"/>
<path color=#0d75dc d="M3202 473l20-15-15-17-20 15z"/>
<path color=#363aa7 d="M3609 509l19 6-15-6-19-6z"/>
<path color=#138ad3 d="M3078 435l20 10-16-10-19-10z"/>
<path color=#046de0 d="M3485 474l19-1-15-13-19 1z"/>
<path color=#127cd8 d="M3361 464l19-12-15-18-19 13z"/>
<path color=#0d75dc d="M3237 476l19-17-15-18-19 17z"/>
<path color=#363398 d="M3643 519l20 5-15-4-20-5z"/>
<path color=#117bd9 d="M3113 458l19 1-15-13-19-1z"/>
<path color=#0562e0 d="M3519 484l20 2-15-11-20-2z"/>
<path color=#1079da d="M3395 468l20-10-15-17-20 11z"/>
<path color=#0d75dc d="M3271 477l20-17-15-18-20 17z"/>
<path color=#362f91 d="M3678 526l20 4-15-2-20-4z"/>
<path color=#0a73dd d="M3147 473l20-6-15-15-20 7z"/>
<path color=#2251d1 d="M3554 494l20 4-15-9-20-3z"/>
<path color=#066edf d="M3837 483l20-32-15 3-20 33z"/>
<path color=#0d75dc d="M3306 478l20-16-15-18-20 16z"/>
<path color=#056ee0 d="M3182 484l20-11-15-17-20 11z"/>
<path color=#3144bb d="M3589 504l20 5-15-6-20-5z"/>
<path color=#06a0cd d="M3058 414l20 21-15-10-20-21z"/>
<path color=#066edf d="M3465 478l20-4-15-13-20 5z"/>
<path color=#0c75dd d="M3341 479l20-15-15-17-20 15z"/>
<path color=#363195 d="M3748 527l20-4-16 1-19 5z"/>
<path color=#036be0 d="M3217 490l20-14-15-18-20 15z"/>
<path color=#353ba9 d="M3624 513l19 6-15-4-19-6z"/>
<path color=#1484d4 d="M3093 448l20 10-15-13-20-10z"/>
<path color=#0267e1 d="M3500 485l19-1-15-11-19 1z"/>
<path color=#0b73dd d="M3376 480l19-12-15-16-19 12z"/>
<path color=#036be1 d="M3252 493l19-16-15-18-19 17z"/>
<path color=#36359d d="M3658 520l20 6-15-2-20-5z"/>
<path color=#0c74dd d="M3128 472l19 1-15-14-19-1z"/>
<path color=#0d5dde d="M3534 492l20 2-15-8-20-2z"/>
<path color=#1f53d5 d="M3817 504l20-21-15 4-20 21z"/>
<path color=#036be1 d="M3286 495l20-17-15-18-20 17z"/>
<path color=#363398 d="M3693 525l20 4-15 1-20-4z"/>
<path color=#036ae1 d="M3162 490l20-6-15-17-20 6z"/>
<path color=#244fcf d="M3569 500l20 4-15-6-20-4z"/>
<path color=#0e76dc d="M3852 479l20-32-15 4-20 32z"/>
<path color=#036be0 d="M3321 495l20-16-15-17-20 16z"/>
<path color=#363399 d="M3728 527l20 0-15 2-20 0z"/>
<path color=#0363e1 d="M3197 501l20-11-15-17-20 11z"/>
<path color=#3045bd d="M3604 507l20 6-15-4-20-5z"/>
<path color=#079bd0 d="M3073 426l20 22-15-13-20-21z"/>
<path color=#0269e1 d="M3480 488l20-3-15-11-20 4z"/>
<path color=#036be0 d="M3356 495l20-15-15-16-20 15z"/>
<path color=#3638a3 d="M3763 524l20-5-15 4-20 4z"/>
<path color=#0a5fdf d="M3232 507l20-14-15-17-20 14z"/>
<path color=#343eb0 d="M3639 514l19 6-15-1-19-6z"/>
<path color=#137dd8 d="M3108 462l20 10-15-14-20-10z"/>
<path color=#0363e1 d="M3515 492l19 0-15-8-19 1z"/>
<path color=#3144bb d="M3798 515l19-11-15 4-19 11z"/>
<path color=#0c5dde d="M3267 511l19-16-15-18-19 16z"/>
<path color=#363aa7 d="M3674 519l19 6-15 1-20-6z"/>
<path color=#046ce0 d="M3143 488l19 2-15-17-19-1z"/>
<path color=#0462e1 d="M3832 499l20-20-15 4-20 21z"/>
<path color=#0b5edf d="M3301 511l20-16-15-17-20 17z"/>
<path color=#3638a4 d="M3708 522l20 5-15 2-20-4z"/>
<path color=#0b5edf d="M3177 506l20-5-15-17-20 6z"/>
<path color=#2152d2 d="M3584 502l20 5-15-3-20-4z"/>
<path color=#137fd7 d="M3867 474l20-31-15 4-20 32z"/>
<path color=#0860df d="M3336 510l20-15-15-16-20 16z"/>
<path color=#363aa7 d="M3743 522l20 2-15 3-20 0z"/>
<path color=#2052d3 d="M3212 518l20-11-15-17-20 11z"/>
<path color=#2c4ac5 d="M3619 507l20 7-15-1-20-6z"/>
<path color=#0d93d2 d="M3088 440l20 22-15-14-20-22z"/>
<path color=#0266e1 d="M3495 495l20-3-15-7-20 3z"/>
<path color=#3341b5 d="M3778 519l20-4-15 4-20 5z"/>
<path color=#274dcb d="M3247 524l20-13-15-18-20 14z"/>
<path color=#3144bc d="M3654 512l20 7-16 1-19-6z"/>
<path color=#0d75dc d="M3123 477l20 11-15-16-20-10z"/>
<path color=#0363e1 d="M3530 497l20 0-16-5-19 0z"/>
<path color=#2152d2 d="M3813 510l19-11-15 5-19 11z"/>
<path color=#294dca d="M3282 527l19-16-15-16-19 16z"/>
<path color=#3341b6 d="M3689 516l19 6-15 3-19-6z"/>
<path color=#0562e0 d="M3158 504l19 2-15-16-19-2z"/>
<path color=#0b5edf d="M3565 500l19 2-15-2-19-3z"/>
<path color=#046de0 d="M3847 494l20-20-15 5-20 20z"/>
<path color=#264fcd d="M3316 526l20-16-15-15-20 16z"/>
<path color=#3341b5 d="M3723 518l20 4-15 5-20-5z"/>
<path color=#274ecc d="M3192 523l20-5-15-17-20 5z"/>
<path color=#1558da d="M3599 502l20 5-15 0-20-5z"/>
<path color=#1388d3 d="M3882 471l20-31-15 3-20 31z"/>
<path color=#3144bb d="M3758 517l20 2-15 5-20-2z"/>
<path color=#3144bb d="M3227 534l20-10-15-17-20 11z"/>
<path color=#2053d4 d="M3634 506l20 6-15 2-20-7z"/>
<path color=#1388d3 d="M3103 455l20 22-15-15-20-22z"/>
<path color=#0266e1 d="M3510 500l20-3-15-5-20 3z"/>
<path color=#274ecc d="M3793 513l20-3-15 5-20 4z"/>
<path color=#3341b5 d="M3262 540l20-13-15-16-20 13z"/>
<path color=#264fcd d="M3669 509l20 7-15 3-20-7z"/>
<path color=#046de0 d="M3138 493l20 11-15-16-20-11z"/>
<path color=#0562e0 d="M3828 505l19-11-15 5-19 11z"/>
<path color=#3341b6 d="M3297 541l19-15-15-15-19 16z"/>
<path color=#294dca d="M3704 511l19 7-15 4-19-6z"/>
<path color=#2152d2 d="M3173 521l19 2-15-17-19-2z"/>
<path color=#0364e1 d="M3580 499l19 3-15 0-19-2z"/>
<path color=#0d75dc d="M3862 490l20-19-15 3-20 20z"/>
<path color=#274dcb d="M3738 512l20 5-15 5-20-4z"/>
<path color=#3341b5 d="M3207 539l20-5-15-16-20 5z"/>
<path color=#0462e1 d="M3614 500l20 6-15 1-20-5z"/>
<path color=#0d93d2 d="M3897 468l20-31-15 3-20 31z"/>
<path color=#2052d3 d="M3773 512l20 1-15 6-20-2z"/>
<path color=#363aa7 d="M3242 550l20-10-15-16-20 10z"/>
<path color=#0860df d="M3649 502l20 7-15 3-20-6z"/>
<path color=#137fd7 d="M3118 470l20 23-15-16-20-22z"/>
<path color=#0b5edf d="M3808 508l20-3-15 5-20 3z"/>
<path color=#3638a4 d="M3277 554l20-13-15-14-20 13z"/>
<path color=#0b5edf d="M3684 503l20 8-15 5-20-7z"/>
<path color=#0462e1 d="M3153 509l20 12-15-17-20-11z"/>
<path color=#046ce0 d="M3843 500l19-10-15 4-19 11z"/>
<path color=#0c5dde d="M3719 505l19 7-15 6-19-7z"/>
<path color=#3144bb d="M3188 537l19 2-15-16-19-2z"/>
<path color=#036be0 d="M3595 497l19 3-15 2-19-3z"/>
<path color=#137dd8 d="M3877 487l20-19-15 3-20 19z"/>
<path color=#0a5fdf d="M3753 506l20 6-15 5-20-5z"/>
<path color=#3638a3 d="M3222 554l20-4-15-16-20 5z"/>
<path color=#036be0 d="M3629 496l20 6-15 4-20-6z"/>
<path color=#079bd0 d="M3912 468l20-31-15 0-20 31z"/>
<path color=#0363e1 d="M3788 506l20 2-15 5-20-1z"/>
<path color=#363399 d="M3257 564l20-10-15-14-20 10z"/>
<path color=#036be0 d="M3664 496l20 7-15 6-20-7z"/>
<path color=#0e76dc d="M3133 486l20 23-15-16-20-23z"/>
<path color=#036ae1 d="M3823 503l20-3-15 5-20 3z"/>
<path color=#036be1 d="M3699 497l20 8-15 6-20-8z"/>
<path color=#1f53d5 d="M3168 525l20 12-15-16-20-12z"/>
<path color=#0871de d="M3575 496l20 1-15 2-20 0z"/>
<path color=#0c74dd d="M3858 497l19-10-15 3-19 10z"/>
<path color=#036be1 d="M3734 499l19 7-15 6-19-7z"/>
<path color=#353ba9 d="M3203 551l19 3-15-15-19-2z"/>
<path color=#0b73dd d="M3610 492l19 4-15 4-19-3z"/>
<path color=#1484d4 d="M3892 486l20-18-15 0-20 19z"/>
<path color=#036be0 d="M3768 500l20 6-15 6-20-6z"/>
<path color=#363195 d="M3238 568l19-4-15-14-20 4z"/>
<path color=#0c75dd d="M3644 490l20 6-15 6-20-6z"/>
<path color=#06a0cd d="M3927 469l20-30-15-2-20 31z"/>
<path color=#056ee0 d="M3803 501l20 2-15 5-20-2z"/>
<path color=#0d75dc d="M3679 489l20 8-15 6-20-7z"/>
<path color=#066edf d="M3148 501l20 24-15-16-20-23z"/>
<path color=#0c74dd d="M3555 497l20-1-15 3-20 2z"/>
<path color=#0a73dd d="M3838 500l20-3-15 3-20 3z"/>
<path color=#0d75dc d="M3714 490l20 9-15 6-20-8z"/>
<path color=#1079da d="M3590 491l20 1-15 5-20-1z"/>
<path color=#117bd9 d="M3873 496l19-10-15 1-19 10z"/>
<path color=#0d75dc d="M3749 492l19 8-15 6-19-7z"/>
<path color=#127cd8 d="M3625 486l19 4-15 6-19-4z"/>
<path color=#138ad3 d="M3908 488l19-19-15-1-20 18z"/>
<path color=#0d75dc d="M3783 495l20 6-15 5-20-6z"/>
<path color=#137fd7 d="M3659 483l20 6-15 7-20-6z"/>
<path color=#0d75dc d="M3535 502l20-5-15 4-20 4z"/>
<path color=#0e77db d="M3818 497l20 3-15 3-20-2z"/>
<path color=#1480d6 d="M3694 482l20 8-15 7-20-8z"/>
<path color=#0266e1 d="M3163 515l20 24-15-14-20-24z"/>
<path color=#127dd8 d="M3570 492l20-1-15 5-20 1z"/>
<path color=#117ada d="M3853 498l20-2-15 1-20 3z"/>
<path color=#1480d6 d="M3729 484l20 8-15 7-20-9z"/>
<path color=#1483d5 d="M3605 484l20 2-15 6-20-1z"/>
<path color=#1480d6 d="M3888 497l20-9-16-2-19 10z"/>
<path color=#137fd7 d="M3764 486l19 9-15 5-19-8z"/>
<path color=#1388d3 d="M3640 478l19 5-15 7-19-4z"/>
<path color=#137ed7 d="M3799 490l19 7-15 4-20-6z"/>
<path color=#128cd2 d="M3674 475l20 7-15 7-20-6z"/>
<path color=#137ed7 d="M3550 496l20-4-15 5-20 5z"/>
<path color=#137ed7 d="M3833 495l20 3-15 2-20-3z"/>
<path color=#118dd2 d="M3709 475l20 9-15 6-20-8z"/>
<path color=#0e5cde d="M3178 527l20 25-15-13-20-24z"/>
<path color=#1388d3 d="M3585 485l20-1-15 7-20 1z"/>
<path color=#137fd6 d="M3868 498l20-1-15-1-20 2z"/>
<path color=#118cd2 d="M3744 477l20 9-15 6-20-8z"/>
<path color=#0e92d2 d="M3620 476l20 2-15 8-20-2z"/>
<path color=#138ad3 d="M3779 482l20 8-16 5-19-9z"/>
<path color=#0998d1 d="M3655 471l19 4-15 8-19-5z"/>
<path color=#137dd8 d="M3531 503l19-7-15 6-19 7z"/>
<path color=#1487d3 d="M3814 488l19 7-15 2-19-7z"/>
<path color=#079cd0 d="M3690 468l19 7-15 7-20-7z"/>
<path color=#138ad3 d="M3565 489l20-4-15 7-20 4z"/>
<path color=#1484d4 d="M3848 495l20 3-15 0-20-3z"/>
<path color=#079cd0 d="M3724 469l20 8-15 7-20-9z"/>
<path color=#1f53d4 d="M3193 538l20 25-15-11-20-25z"/>
<path color=#0998d1 d="M3600 477l20-1-15 8-20 1z"/>
<path color=#089ad0 d="M3759 472l20 10-15 4-20-9z"/>
<path color=#36369f d="M3228 571l20 13-15-8-20-13z"/>
<path color=#06a1cd d="M3635 468l20 3-15 7-20-2z"/>
<path color=#0b95d2 d="M3794 479l20 9-15 2-20-8z"/>
<path color=#06a5c8 d="M3670 463l20 5-16 7-19-4z"/>
<path color=#1389d3 d="M3546 495l19-6-15 7-19 7z"/>
<path color=#108fd2 d="M3829 488l19 7-15 0-19-7z"/>
<path color=#06a7c6 d="M3705 461l19 8-15 6-19-7z"/>
<path color=#089ad0 d="M3581 480l19-3-15 8-20 4z"/>
<path color=#06a6c7 d="M3739 463l20 9-15 5-20-8z"/>
<path color=#264ecc d="M3208 546l20 25-15-8-20-25z"/>
<path color=#06a5c8 d="M3615 468l20 0-15 8-20 1z"/>
<path color=#06a3ca d="M3774 469l20 10-15 3-20-10z"/>
<path color=#36359c d="M3243 577l20 13-15-6-20-13z"/>
<path color=#09abbf d="M3650 460l20 3-15 8-20-3z"/>
<path color=#1486d4 d="M3526 504l20-9-15 8-20 9z"/>
<path color=#079ecf d="M3809 478l20 10-15 0-20-9z"/>
<path color=#352d8c d="M3278 594l20 4-15-3-20-5z"/>
<path color=#0faeb9 d="M3685 456l20 5-15 7-20-5z"/>
<path color=#089ad0 d="M3561 487l20-7-16 9-19 6z"/>
<path color=#11afb8 d="M3720 456l19 7-15 6-19-8z"/>
<path color=#06a7c5 d="M3596 471l19-3-15 9-19 3z"/>
<path color=#0dadbb d="M3754 460l20 9-15 3-20-9z"/>
<path color=#284dca d="M3223 551l20 26-15-6-20-25z"/>
<path color=#11afb8 d="M3630 460l20 0-15 8-20 0z"/>
<path color=#1480d6 d="M3506 515l20-11-15 8-20 11z"/>
<path color=#07a9c2 d="M3789 468l20 10-15 1-20-10z"/>
<path color=#36369e d="M3258 580l20 14-15-4-20-13z"/>
<path color=#20b4ad d="M3665 452l20 4-15 7-20-3z"/>
<path color=#0a96d1 d="M3541 495l20-8-15 8-20 9z"/>
<path color=#362f90 d="M3293 594l20 5-15-1-20-4z"/>
<path color=#28b6a7 d="M3700 450l20 6-15 5-20-5z"/>
<path color=#06a7c5 d="M3576 477l20-6-15 9-20 7z"/>
<path color=#362f91 d="M3328 597l19-1-15 1-19 2z"/>
<path color=#26b5a9 d="M3735 452l19 8-15 3-19-7z"/>
<path color=#16b1b4 d="M3611 463l19-3-15 8-19 3z"/>
<path color=#117ad9 d="M3487 527l19-12-15 8-19 13z"/>
<path color=#36359d d="M3363 591l19-6-15 3-20 8z"/>
<path color=#1bb2b0 d="M3769 459l20 9-15 1-20-9z"/>
<path color=#254fce d="M3238 554l20 26-15-3-20-26z"/>
<path color=#2fb7a3 d="M3645 452l20 0-15 8-20 0z"/>
<path color=#0f90d2 d="M3521 506l20-11-15 9-20 11z"/>
<path color=#3243b8 d="M3397 578l20-10-15 6-20 11z"/>
<path color=#3639a5 d="M3273 580l20 14-15 0-20-14z"/>
<path color=#41ba98 d="M3680 446l20 4-15 6-20-4z"/>
<path color=#06a5c8 d="M3556 485l20-8-15 10-20 8z"/>
<path color=#0c5dde d="M3432 560l20-12-15 8-20 12z"/>
<path color=#363399 d="M3308 592l20 5-15 2-20-5z"/>
<path color=#47bb95 d="M3715 445l20 7-15 4-20-6z"/>
<path color=#17b1b3 d="M3591 468l20-5-15 8-20 6z"/>
<path color=#0b73dd d="M3467 539l20-12-15 9-20 12z"/>
<path color=#36359d d="M3343 593l20-2-16 5-19 1z"/>
<path color=#3dba9b d="M3750 450l19 9-15 1-19-8z"/>
<path color=#38b99e d="M3626 454l19-2-15 8-19 3z"/>
<path color=#1388d3 d="M3502 517l19-11-15 9-19 12z"/>
<path color=#343fb0 d="M3378 585l19-7-15 7-19 6z"/>
<path color=#1b56d7 d="M3254 554l19 26-15 0-20-26z"/>
<path color=#57bd8d d="M3660 445l20 1-15 6-20 0z"/>
<path color=#06a1cc d="M3536 496l20-11-15 10-20 11z"/>
<path color=#1f53d4 d="M3412 570l20-10-15 8-20 10z"/>
<path color=#343fb2 d="M3288 577l20 15-15 2-20-14z"/>
<path color=#67be85 d="M3695 441l20 4-15 5-20-4z"/>
<path color=#12b0b6 d="M3571 476l20-8-15 9-20 8z"/>
<path color=#046de0 d="M3447 551l20-12-15 9-20 12z"/>
<path color=#353ba8 d="M3323 587l20 6-15 4-20-5z"/>
<path color=#65be86 d="M3730 443l20 7-15 2-20-7z"/>
<path color=#3ab99c d="M3606 459l20-5-15 9-20 5z"/>
<path color=#1480d6 d="M3482 529l20-12-15 10-20 12z"/>
<path color=#343fb1 d="M3358 586l20-1-15 6-20 2z"/>
<path color=#64be86 d="M3641 447l19-2-15 7-19 2z"/>
<path color=#089bd0 d="M3517 507l19-11-15 10-19 11z"/>
<path color=#274ecc d="M3393 576l19-6-15 8-19 7z"/>
<path color=#0760e0 d="M3269 551l19 26-15 3-19-26z"/>
<path color=#7fbf7a d="M3675 440l20 1-15 5-20-1z"/>
<path color=#0badbc d="M3551 486l20-10-15 9-20 11z"/>
<path color=#0267e1 d="M3427 560l20-9-15 9-20 10z"/>
<path color=#2c4ac6 d="M3303 572l20 15-15 5-20-15z"/>
<path color=#86bf77 d="M3710 439l20 4-15 2-20-4z"/>
<path color=#34b8a0 d="M3586 467l20-8-15 9-20 8z"/>
<path color=#117ad9 d="M3462 540l20-11-15 10-20 12z"/>
<path color=#2f46bf d="M3338 580l20 6-15 7-20-6z"/>
<path color=#67be85 d="M3621 452l20-5-15 7-20 5z"/>
<path color=#0d92d2 d="M3497 519l20-12-15 10-20 12z"/>
<path color=#254fce d="M3373 577l20-1-15 9-20 1z"/>
<path color=#8cbf75 d="M3656 442l19-2-15 5-19 2z"/>
<path color=#06a9c3 d="M3532 497l19-11-15 10-19 11z"/>
<path color=#0364e1 d="M3408 566l19-6-15 10-19 6z"/>
<path color=#036be0 d="M3284 545l19 27-15 5-19-26z"/>
<path color=#9cbf6e d="M3690 437l20 2-15 2-20-1z"/>
<path color=#2ab6a7 d="M3566 476l20-9-15 9-20 10z"/>
<path color=#0d75dc d="M3442 550l20-10-15 11-20 9z"/>
<path color=#0f5cde d="M3318 564l20 16-15 7-20-15z"/>
<path color=#61be87 d="M3601 459l20-7-15 7-20 8z"/>
<path color=#138ad3 d="M3477 529l20-10-15 10-20 11z"/>
<path color=#125adc d="M3353 571l20 6-15 9-20-6z"/>
<path color=#90bf73 d="M3636 446l20-4-15 5-20 5z"/>
<path color=#06a3ca d="M3512 508l20-11-15 10-20 12z"/>
<path color=#0265e1 d="M3388 567l20-1-15 10-20 1z"/>
<path color=#a9be69 d="M3671 439l19-2-15 3-19 2z"/>
<path color=#1cb3af d="M3547 487l19-11-15 10-19 11z"/>
<path color=#0a73dd d="M3423 555l19-5-15 10-19 6z"/>
<path color=#0d76dc d="M3299 537l19 27-15 8-19-27z"/>
<path color=#54bd8e d="M3582 468l19-9-15 8-20 9z"/>
<path color=#1484d4 d="M3457 538l20-9-15 11-20 10z"/>
<path color=#046ce0 d="M3333 555l20 16-15 9-20-16z"/>
<path color=#8cbf75 d="M3616 453l20-7-15 6-20 7z"/>
<path color=#079dcf d="M3492 518l20-10-15 11-20 10z"/>
<path color=#046ce0 d="M3368 560l20 7-15 10-20-6z"/>
<path color=#aebe67 d="M3651 443l20-4-15 3-20 4z"/>
<path color=#10afb8 d="M3527 498l20-11-15 10-20 11z"/>
<path color=#0c74dd d="M3403 555l20 0-15 11-20 1z"/>
<path color=#43bb97 d="M3562 478l20-10-16 8-19 11z"/>
<path color=#1482d5 d="M3438 543l19-5-15 12-19 5z"/>
<path color=#1482d5 d="M3314 527l19 28-15 9-19-27z"/>
<path color=#81bf79 d="M3597 462l19-9-15 6-19 9z"/>
<path color=#0998d1 d="M3472 527l20-9-15 11-20 9z"/>
<path color=#117ada d="M3348 544l20 16-15 11-20-16z"/>
<path color=#abbe68 d="M3631 449l20-6-15 3-20 7z"/>
<path color=#08abc0 d="M3507 508l20-10-15 10-20 10z"/>
<path color=#117bd9 d="M3383 548l20 7-15 12-20-7z"/>
<path color=#31b8a2 d="M3542 489l20-11-15 9-20 11z"/>
<path color=#1483d5 d="M3418 543l20 0-15 12-20 0z"/>
<path color=#70bf81 d="M3577 472l20-10-15 6-20 10z"/>
<path color=#0b95d2 d="M3453 531l19-4-15 11-19 5z"/>
<path color=#0b95d2 d="M3329 516l19 28-15 11-19-28z"/>
<path color=#a3be6c d="M3612 458l19-9-15 4-19 9z"/>
<path color=#06a7c5 d="M3488 516l19-8-15 10-20 9z"/>
<path color=#128ad3 d="M3363 531l20 17-15 12-20-16z"/>
<path color=#23b4ab d="M3522 499l20-10-15 9-20 10z"/>
<path color=#118cd2 d="M3398 535l20 8-15 12-20-7z"/>
<path color=#5cbe8a d="M3557 482l20-10-15 6-20 11z"/>
<path color=#0998d1 d="M3433 531l20 0-15 12-20 0z"/>
<path color=#95bf71 d="M3592 467l20-9-15 4-20 10z"/>
<path color=#06a6c7 d="M3468 520l20-4-16 11-19 4z"/>
<path color=#06a6c6 d="M3344 503l19 28-15 13-19-28z"/>
<path color=#19b2b2 d="M3503 506l19-7-15 9-19 8z"/>
<path color=#069fce d="M3379 519l19 16-15 13-20-17z"/>
<path color=#49bc94 d="M3537 491l20-9-15 7-20 10z"/>
<path color=#06a1cd d="M3413 523l20 8-15 12-20-8z"/>
<path color=#84bf78 d="M3572 477l20-10-15 5-20 10z"/>
<path color=#06a8c4 d="M3448 519l20 1-15 11-20 0z"/>
<path color=#16b1b4 d="M3483 510l20-4-15 10-20 4z"/>
<path color=#1cb3af d="M3359 490l20 29-16 12-19-28z"/>
<path color=#3dba9b d="M3518 499l19-8-15 8-19 7z"/>
<path color=#0dadbb d="M3394 506l19 17-15 12-19-16z"/>
<path color=#73bf80 d="M3552 486l20-9-15 5-20 9z"/>
<path color=#0eaeba d="M3428 511l20 8-15 12-20-8z"/>
<path color=#1cb3b0 d="M3463 509l20 1-15 10-20-1z"/>
<path color=#39b99d d="M3498 502l20-3-15 7-20 4z"/>
<path color=#50bc90 d="M3374 477l20 29-15 13-20-29z"/>
<path color=#66be85 d="M3533 493l19-7-15 5-19 8z"/>
<path color=#33b8a0 d="M3409 494l19 17-15 12-19-17z"/>
<path color=#32b8a1 d="M3443 501l20 8-15 10-20-8z"/>
<path color=#43bb97 d="M3478 501l20 1-15 8-20-1z"/>
<path color=#63be87 d="M3513 496l20-3-15 6-20 3z"/>
<path color=#8fbf74 d="M3389 464l20 30-15 12-20-29z"/>
<path color=#6bbf83 d="M3424 483l19 18-15 10-19-17z"/>
<path color=#64be86 d="M3458 492l20 9-15 8-20-8z"/>
<path color=#70bf81 d="M3493 494l20 2-15 6-20-1z"/>
<path color=#c1bc60 d="M3404 453l20 30-15 11-20-30z"/>
<path color=#9ebe6d d="M3439 473l19 19-15 9-19-18z"/>
<path color=#91bf73 d="M3473 485l20 9-15 7-20-9z"/>
<path color=#ebb94d d="M3419 443l20 30-15 10-20-30z"/>
<path color=#c5bc5e d="M3454 466l19 19-15 7-19-19z"/>
<path color=#fec833 d="M3434 436l20 30-15 7-20-30z"/>
</g>
<text x="349.4" y="12.7" font-size="9.86" text-anchor="middle" fill="#262626">Parameter space</text>
<text x="339.2" y="85.52" font-size="9.2" text-anchor="end" fill="#262626">-1</text>
<text x="319.65" y="77.92" font-size="9.2" text-anchor="end" fill="#262626">0</text>
<text x="300.1" y="70.32" font-size="9.2" text-anchor="end" fill="#262626">1</text>
<text x="347.1" y="85.52" font-size="9.2" text-anchor="start" fill="#262626">-1</text>
<text x="372.75" y="79.67" font-size="9.2" text-anchor="start" fill="#262626">0</text>
<text x="398.4" y="73.82" font-size="9.2" text-anchor="start" fill="#262626">1</text>
<text x="299.7" y="63.02" font-size="9.2" text-anchor="end" fill="#262626">-2</text>
<text x="299.7" y="50.46" font-size="9.2" text-anchor="end" fill="#262626">0</text>
<text x="299.7" y="38.53" font-size="9.2" text-anchor="end" fill="#262626">2</text>
<text x="307.5" y="95" font-size="10" text-anchor="middle" fill="#262626">x</text><text x="310.5" y="99" font-size="7.199999999999999" text-anchor="start" fill="#262626">2</text>
<text x="380" y="96.2" font-size="10" text-anchor="middle" fill="#262626">x</text><text x="383" y="100.2" font-size="7.199999999999999" text-anchor="start" fill="#262626">1</text>
<text x="285.6" y="47.53" font-size="9.5" text-anchor="middle" fill="#262626" transform="rotate(-90 285.6 44.2)">F16</text>
<path d="M35.7 129.8L35.7 161.5L68.9 177.2L117.4 165.2" stroke="#5a5a5a" stroke-width="0.6" fill="none"/>
<path d="M110.4 161.9l-12.7 .6-17.1-.2-33 1.7-6.2-.6-1.8-.7-1.6-1.8" stroke="#0269e1" stroke-width="0.5" fill="none"/>
<path d="M114 163.6l-25.6 2.3-40.9 1.2" stroke="#1485d4" stroke-width="0.5" fill="none"/>
<path d="M116.4 164.7l-32.7 3.4-31.6 1.1" stroke="#06a1cc" stroke-width="0.5" fill="none"/>
<path d="M113.1 166.3l-31.7 3.5-25.2 1.4" stroke="#16b1b4" stroke-width="0.5" fill="none"/>
<path d="M105.1 168.3l-24.3 2.7-21.4 1.7" stroke="#48bb95" stroke-width="0.5" fill="none"/>
<path d="M97.9 170l-36.2 3.8" stroke="#85bf78" stroke-width="0.5" fill="none"/>
<path d="M91.3 171.7l-27.7 3" stroke="#b6bd64" stroke-width="0.5" fill="none"/>
<path d="M85.2 173.2l-20.1 2.2" stroke="#e0ba53" stroke-width="0.5" fill="none"/>
<path d="M79.4 174.6l-12.9 1.5" stroke="#fec139" stroke-width="0.5" fill="none"/>
<path d="M74 175.9l-6.3 .8" stroke="#f7da24" stroke-width="0.5" fill="none"/>
<g fill="currentColor" stroke="currentColor" stroke-width="6.0" transform="scale(.1)">
<path color=#2a4bc8 d="M835 1496l22-7-15-11-22 8z"/>
<path color=#2e47c1 d="M813 1503l22-7-15-10-22 7z"/>
<path color=#3144bb d="M850 1507l22-8-15-10-22 7z"/>
<path color=#3340b4 d="M828 1514l22-7-15-11-22 7z"/>
<path color=#353dae d="M865 1517l22-8-15-10-22 8z"/>
<path color=#353cab d="M637 1551l22-5-15-10-22 5z"/>
<path color=#353dad d="M615 1556l22-5-15-10-22 5z"/>
<path color=#343fb1 d="M593 1560l22-4-15-10-23 5z"/>
<path color=#3638a3 d="M630 1565l22-5-15-9-22 5z"/>
<path color=#3341b5 d="M571 1564l22-4-16-9-22 4z"/>
<path color=#363aa7 d="M608 1569l22-4-15-9-22 4z"/>
<path color=#3244ba d="M548 1568l23-4-16-9-22 4z"/>
<path color=#353dac d="M586 1573l22-4-15-9-22 4z"/>
<path color=#3636a0 d="M623 1577l22-4-15-8-22 4z"/>
<path color=#2e47c1 d="M526 1572l22-4-15-9-22 4z"/>
<path color=#3440b2 d="M564 1577l22-4-15-9-23 4z"/>
<path color=#3639a6 d="M601 1581l22-4-15-8-22 4z"/>
<path color=#2a4bc8 d="M504 1576l22-4-15-9-22 3z"/>
<path color=#3243b9 d="M542 1581l22-4-16-9-22 4z"/>
<path color=#353dad d="M579 1585l22-4-15-8-22 4z"/>
<path color=#2350d0 d="M482 1579l22-3-15-10-22 4z"/>
<path color=#2e47c1 d="M519 1584l23-3-16-9-22 4z"/>
<path color=#3341b4 d="M557 1588l22-3-15-8-22 4z"/>
<path color=#353dac d="M594 1591l22-3-15-7-22 4z"/>
<path color=#1a56d7 d="M460 1582l22-3-15-9-22 3z"/>
<path color=#294cca d="M497 1587l22-3-15-8-22 3z"/>
<path color=#3045bd d="M535 1592l22-4-15-7-23 3z"/>
<path color=#3341b5 d="M572 1595l22-4-15-6-22 3z"/>
<path color=#0e5cde d="M438 1584l22-2-15-9-22 3z"/>
<path color=#2152d3 d="M475 1590l22-3-15-8-22 3z"/>
<path color=#2c4ac6 d="M512 1595l23-3-16-8-22 3z"/>
<path color=#3046be d="M550 1598l22-3-15-7-22 4z"/>
<path color=#0562e0 d="M416 1587l22-3-15-8-22 2z"/>
<path color=#1459da d="M453 1593l22-3-15-8-22 2z"/>
<path color=#2350d0 d="M490 1597l22-2-15-8-22 3z"/>
<path color=#2b4bc8 d="M528 1601l22-3-15-6-23 3z"/>
<path color=#0266e1 d="M394 1589l22-2-15-9-22 2z"/>
<path color=#2c49c5 d="M565 1602l22-3-15-4-22 3z"/>
<path color=#095fdf d="M431 1595l22-2-15-9-22 3z"/>
<path color=#1757d9 d="M468 1600l22-3-15-7-22 3z"/>
<path color=#2152d2 d="M506 1603l22-2-16-6-22 2z"/>
<path color=#036be1 d="M372 1591l22-2-15-9-22 2z"/>
<path color=#2450cf d="M543 1605l22-3-15-4-22 3z"/>
<path color=#0265e1 d="M409 1597l22-2-15-8-22 2z"/>
<path color=#0b5edf d="M446 1602l22-2-15-7-22 2z"/>
<path color=#1459db d="M484 1605l22-2-16-6-22 3z"/>
<path color=#046de0 d="M1092 1590l22-1-15 2-23 1z"/>
<path color=#1857d9 d="M521 1607l22-2-15-4-22 2z"/>
<path color=#0269e1 d="M387 1599l22-2-15-8-22 2z"/>
<path color=#0364e1 d="M424 1604l22-2-15-7-22 2z"/>
<path color=#0860e0 d="M461 1607l23-2-16-5-22 2z"/>
<path color=#0971de d="M1070 1591l22-1-16 2-22 2z"/>
<path color=#0a5edf d="M499 1609l22-2-15-4-22 2z"/>
<path color=#0f77db d="M1107 1585l22-1-15 5-22 1z"/>
<path color=#0269e1 d="M402 1605l22-1-15-7-22 2z"/>
<path color=#0266e1 d="M439 1609l22-2-15-5-22 2z"/>
<path color=#0d75dc d="M1048 1592l22-1-16 3-22 1z"/>
<path color=#0364e1 d="M477 1611l22-2-15-4-23 2z"/>
<path color=#127cd8 d="M1085 1585l22 0-15 5-22 1z"/>
<path color=#0265e1 d="M514 1611l22-2-15-2-22 2z"/>
<path color=#1484d4 d="M1122 1576l22 0-15 8-22 1z"/>
<path color=#0d75dc d="M988 1597l22-1-15 1-22 1z"/>
<path color=#036be1 d="M417 1610l22-1-15-5-22 1z"/>
<path color=#117ada d="M1025 1592l23 0-16 3-22 1z"/>
<path color=#0269e1 d="M454 1612l23-1-16-4-22 2z"/>
<path color=#1480d6 d="M1063 1585l22 0-15 6-22 1z"/>
<path color=#036ae1 d="M492 1613l22-2-15-2-22 2z"/>
<path color=#0e76dc d="M929 1600l22-1-15 0-22 1z"/>
<path color=#1389d3 d="M1100 1576l22 0-15 9-22 0z"/>
<path color=#1079da d="M966 1597l22 0-15 1-22 1z"/>
<path color=#0a96d1 d="M1137 1564l22 1-15 11-22 0z"/>
<path color=#0770df d="M566 1610l22-2-15 0-22 2z"/>
<path color=#137ed7 d="M1003 1592l22 0-15 4-22 1z"/>
<path color=#056ee0 d="M432 1613l22-1-15-3-22 1z"/>
<path color=#1485d4 d="M1041 1585l22 0-15 7-23 0z"/>
<path color=#066fdf d="M470 1614l22-1-15-2-23 1z"/>
<path color=#117ad9 d="M907 1600l22 0-15 0-22 1z"/>
<path color=#0f8fd2 d="M1078 1575l22 1-15 9-22 0z"/>
<path color=#137ed7 d="M944 1597l22 0-15 2-22 1z"/>
<path color=#079cd0 d="M1115 1563l22 1-15 12-22 0z"/>
<path color=#1483d5 d="M981 1592l22 0-15 5-22 0z"/>
<path color=#06a6c7 d="M1152 1549l22 2-15 14-22-1z"/>
<path color=#128bd3 d="M1018 1584l23 1-16 7-22 0z"/>
<path color=#0a73dd d="M448 1615l22-1-16-2-22 1z"/>
<path color=#117ad9 d="M618 1607l22-1-15 0-22 2z"/>
<path color=#0a96d1 d="M1056 1574l22 1-15 10-22 0z"/>
<path color=#1482d5 d="M922 1597l22 0-15 3-22 0z"/>
<path color=#06a1cc d="M1093 1561l22 2-15 13-22-1z"/>
<path color=#0f78db d="M522 1612l22-1-15 1-22 1z"/>
<path color=#1388d3 d="M959 1591l22 1-15 5-22 0z"/>
<path color=#07aac1 d="M1130 1547l22 2-15 15-22-1z"/>
<path color=#117bd9 d="M559 1610l22-1-15 1-22 1z"/>
<path color=#0e91d2 d="M996 1583l22 1-15 8-22 0z"/>
<path color=#079cd0 d="M1034 1573l22 1-15 11-23-1z"/>
<path color=#1079da d="M463 1614l22 0-15 0-22 1z"/>
<path color=#1388d3 d="M900 1597l22 0-15 3-22 1z"/>
<path color=#06a5c8 d="M1071 1560l22 1-15 14-22-1z"/>
<path color=#108ed2 d="M937 1591l22 0-15 6-22 0z"/>
<path color=#0dadbb d="M1108 1545l22 2-15 16-22-2z"/>
<path color=#0998d1 d="M974 1582l22 1-15 9-22-1z"/>
<path color=#1389d3 d="M841 1600l22 1-15 1-22 1z"/>
<path color=#06a1cc d="M1012 1571l22 2-16 11-22-1z"/>
<path color=#118ed2 d="M878 1596l22 1-15 4-22 0z"/>
<path color=#1486d4 d="M611 1606l22 0-15 1-22 1z"/>
<path color=#07a9c2 d="M1049 1558l22 2-15 14-22-1z"/>
<path color=#1480d6 d="M478 1613l22 0-15 1-22 0z"/>
<path color=#0b95d2 d="M915 1590l22 1-15 6-22 0z"/>
<path color=#128bd2 d="M782 1602l22 1-15 1-22 0z"/>
<path color=#16b1b4 d="M1086 1543l22 2-15 16-22-1z"/>
<path color=#1484d4 d="M515 1611l22-1-15 2-22 1z"/>
<path color=#079dcf d="M952 1581l22 1-15 9-22 0z"/>
<path color=#108fd2 d="M819 1600l22 0-15 3-22 0z"/>
<path color=#128bd2 d="M685 1604l23 0-16 1-22 0z"/>
<path color=#1487d3 d="M552 1608l22 0-15 2-22 0z"/>
<path color=#06a5c8 d="M990 1569l22 2-16 12-22-1z"/>
<path color=#0c94d2 d="M856 1595l22 1-15 5-22-1z"/>
<path color=#128bd2 d="M589 1607l22-1-15 2-22 0z"/>
<path color=#0cadbc d="M1027 1556l22 2-15 15-22-2z"/>
<path color=#079bd0 d="M893 1589l22 1-15 7-22-1z"/>
<path color=#0e91d2 d="M760 1602l22 0-15 2-22 0z"/>
<path color=#21b4ac d="M1064 1540l22 3-15 17-22-2z"/>
<path color=#1388d3 d="M493 1611l22 0-15 2-22 0z"/>
<path color=#06a2cb d="M930 1579l22 2-15 10-22-1z"/>
<path color=#0b95d2 d="M797 1599l22 1-15 3-22-1z"/>
<path color=#0e91d2 d="M663 1604l22 0-15 1-22 0z"/>
<path color=#118dd2 d="M530 1608l22 0-15 2-22 1z"/>
<path color=#07a9c2 d="M967 1567l23 2-16 13-22-1z"/>
<path color=#089ad0 d="M834 1594l22 1-15 5-22 0z"/>
<path color=#0e91d2 d="M567 1606l22 1-15 1-22 0z"/>
<path color=#14b0b5 d="M1005 1553l22 3-15 15-22-2z"/>
<path color=#06a0cd d="M871 1587l22 2-15 7-22-1z"/>
<path color=#0997d1 d="M738 1601l22 1-15 2-22 0z"/>
<path color=#0c94d2 d="M604 1605l22 0-15 1-22 1z"/>
<path color=#2eb7a4 d="M1042 1537l22 3-15 18-22-2z"/>
<path color=#06a7c6 d="M908 1577l22 2-15 11-22-1z"/>
<path color=#079bd0 d="M775 1598l22 1-15 3-22 0z"/>
<path color=#0997d1 d="M641 1604l22 0-15 1-22 0z"/>
<path color=#0d93d2 d="M508 1608l22 0-15 3-22 0z"/>
<path color=#0cadbb d="M945 1565l22 2-15 14-22-2z"/>
<path color=#06a0cd d="M812 1593l22 1-15 6-22-1z"/>
<path color=#089ad0 d="M678 1602l23 1-16 1-22 0z"/>
<path color=#0a97d1 d="M545 1606l22 0-15 2-22 0z"/>
<path color=#20b4ad d="M983 1551l22 2-15 16-23-2z"/>
<path color=#06a5c8 d="M849 1585l22 2-15 8-22-1z"/>
<path color=#079dcf d="M716 1600l22 1-15 3-22-1z"/>
<path color=#089ad0 d="M582 1604l22 1-15 2-22-1z"/>
<path color=#3dba9b d="M1020 1534l22 3-15 19-22-3z"/>
<path color=#08aac0 d="M886 1575l22 2-15 12-22-2z"/>
<path color=#06a0cd d="M753 1597l22 1-15 4-22-1z"/>
<path color=#079dcf d="M619 1603l22 1-15 1-22 0z"/>
<path color=#15b1b4 d="M923 1563l22 2-15 14-22-2z"/>
<path color=#06a4c9 d="M790 1591l22 2-15 6-22-1z"/>
<path color=#069fce d="M656 1601l22 1-15 2-22 0z"/>
<path color=#079ccf d="M523 1605l22 1-15 2-22 0z"/>
<path color=#2db7a5 d="M961 1548l22 3-16 16-22-2z"/>
<path color=#07a9c3 d="M827 1583l22 2-15 9-22-1z"/>
<path color=#06a2cc d="M694 1599l22 1-15 3-23-1z"/>
<path color=#069fce d="M560 1603l22 1-15 2-22 0z"/>
<path color=#4ebc91 d="M998 1530l22 4-15 19-22-2z"/>
<path color=#0faeb9 d="M864 1573l22 2-15 12-22-2z"/>
<path color=#06a5c8 d="M731 1595l22 2-15 4-22-1z"/>
<path color=#06a2cc d="M597 1602l22 1-15 2-22-1z"/>
<path color=#21b4ac d="M901 1560l22 3-15 14-22-2z"/>
<path color=#06a8c4 d="M768 1589l22 2-15 7-22-1z"/>
<path color=#06a4ca d="M634 1600l22 1-15 3-22-1z"/>
<path color=#3cba9b d="M938 1544l23 4-16 17-22-2z"/>
<path color=#0badbc d="M805 1581l22 2-15 10-22-2z"/>
<path color=#06a6c7 d="M672 1597l22 2-16 3-22-1z"/>
<path color=#06a4ca d="M538 1602l22 1-15 3-22-1z"/>
<path color=#61be87 d="M976 1527l22 3-15 21-22-3z"/>
<path color=#18b2b2 d="M842 1570l22 3-15 12-22-2z"/>
<path color=#07a9c3 d="M709 1593l22 2-15 5-22-1z"/>
<path color=#06a6c7 d="M575 1600l22 2-15 2-22-1z"/>
<path color=#2eb7a4 d="M879 1557l22 3-15 15-22-2z"/>
<path color=#0aacbd d="M746 1587l22 2-15 8-22-2z"/>
<path color=#06a8c4 d="M612 1598l22 2-15 3-22-1z"/>
<path color=#4dbc92 d="M916 1541l22 3-15 19-22-3z"/>
<path color=#14b0b5 d="M783 1579l22 2-15 10-22-2z"/>
<path color=#07aac1 d="M650 1595l22 2-16 4-22-1z"/>
<path color=#74bf7f d="M954 1523l22 4-15 21-23-4z"/>
<path color=#24b5aa d="M820 1567l22 3-15 13-22-2z"/>
<path color=#0bacbd d="M687 1591l22 2-15 6-22-2z"/>
<path color=#07a9c2 d="M553 1599l22 1-15 3-22-1z"/>
<path color=#3dba9b d="M857 1553l22 4-15 16-22-3z"/>
<path color=#12b0b6 d="M724 1585l22 2-15 8-22-2z"/>
<path color=#09abbf d="M590 1597l22 1-15 4-22-2z"/>
<path color=#60be88 d="M894 1537l22 4-15 19-22-3z"/>
<path color=#1fb3ae d="M761 1576l22 3-15 10-22-2z"/>
<path color=#0dadbb d="M627 1593l23 2-16 5-22-2z"/>
<path color=#87bf77 d="M932 1519l22 4-16 21-22-3z"/>
<path color=#32b8a1 d="M798 1564l22 3-15 14-22-2z"/>
<path color=#13b0b6 d="M665 1589l22 2-15 6-22-2z"/>
<path color=#4fbc91 d="M835 1550l22 3-15 17-22-3z"/>
<path color=#1db3af d="M702 1582l22 3-15 8-22-2z"/>
<path color=#10afb8 d="M568 1595l22 2-15 3-22-1z"/>
<path color=#73bf7f d="M872 1533l22 4-15 20-22-4z"/>
<path color=#2cb7a5 d="M739 1573l22 3-15 11-22-2z"/>
<path color=#16b1b4 d="M605 1591l22 2-15 5-22-1z"/>
<path color=#98bf70 d="M909 1514l23 5-16 22-22-4z"/>
<path color=#43bb97 d="M776 1561l22 3-15 15-22-3z"/>
<path color=#1eb3ae d="M643 1586l22 3-15 6-23-2z"/>
<path color=#62be87 d="M813 1546l22 4-15 17-22-3z"/>
<path color=#2ab6a6 d="M680 1579l22 3-15 9-22-2z"/>
<path color=#86bf77 d="M850 1529l22 4-15 20-22-3z"/>
<path color=#3bba9c d="M717 1570l22 3-15 12-22-3z"/>
<path color=#21b4ac d="M583 1589l22 2-15 6-22-2z"/>
<path color=#a9be69 d="M887 1509l22 5-15 23-22-4z"/>
<path color=#55bd8e d="M754 1557l22 4-15 15-22-3z"/>
<path color=#2bb6a6 d="M620 1583l23 3-16 7-22-2z"/>
<path color=#76bf7e d="M791 1542l22 4-15 18-22-3z"/>
<path color=#39b99d d="M658 1576l22 3-15 10-22-3z"/>
<path color=#98bf70 d="M828 1524l22 5-15 21-22-4z"/>
<path color=#4dbc92 d="M695 1566l22 4-15 12-22-3z"/>
<path color=#b8bd63 d="M865 1504l22 5-15 24-22-4z"/>
<path color=#68be84 d="M732 1553l22 4-15 16-22-3z"/>
<path color=#3ab99d d="M598 1580l22 3-15 8-22-2z"/>
<path color=#88bf76 d="M769 1538l22 4-15 19-22-4z"/>
<path color=#4abc94 d="M636 1572l22 4-15 10-23-3z"/>
<path color=#a8be6a d="M806 1519l22 5-15 22-22-4z"/>
<path color=#60be88 d="M673 1562l22 4-15 13-22-3z"/>
<path color=#c7bc5d d="M843 1499l22 5-15 25-22-5z"/>
<path color=#7cbf7c d="M710 1549l22 4-15 17-22-4z"/>
<path color=#9abf6f d="M747 1533l22 5-15 19-22-4z"/>
<path color=#5dbe8a d="M614 1569l22 3-16 11-22-3z"/>
<path color=#b8bd63 d="M784 1514l22 5-15 23-22-4z"/>
<path color=#74bf7f d="M651 1558l22 4-15 14-22-4z"/>
<path color=#d6ba57 d="M821 1494l22 5-15 25-22-5z"/>
<path color=#8ebf74 d="M688 1545l22 4-15 17-22-4z"/>
<path color=#aabe69 d="M725 1528l22 5-15 20-22-4z"/>
<path color=#c7bc5d d="M762 1509l22 5-15 24-22-5z"/>
<path color=#87bf77 d="M629 1554l22 4-15 14-22-3z"/>
<path color=#e5b950 d="M799 1488l22 6-15 25-22-5z"/>
<path color=#9fbe6d d="M666 1540l22 5-15 17-22-4z"/>
<path color=#babd62 d="M703 1523l22 5-15 21-22-4z"/>
<path color=#d6ba57 d="M740 1504l22 5-15 24-22-5z"/>
<path color=#f4ba48 d="M777 1482l22 6-15 26-22-5z"/>
<path color=#b0bd67 d="M644 1535l22 5-15 18-22-4z"/>
<path color=#c9bb5c d="M681 1518l22 5-15 22-22-5z"/>
<path color=#e5b950 d="M718 1498l22 6-15 24-22-5z"/>
<path color=#febf3c d="M755 1475l22 7-15 27-22-5z"/>
<path color=#d8ba56 d="M659 1512l22 6-15 22-22-5z"/>
<path color=#f4ba48 d="M696 1492l22 6-15 25-22-5z"/>
<path color=#fec932 d="M733 1469l22 6-15 29-22-6z"/>
<path color=#febf3c d="M674 1485l22 7-15 26-22-6z"/>
<path color=#f9d329 d="M711 1462l22 7-15 29-22-6z"/>
<path color=#f5de21 d="M689 1455l22 7-15 30-22-7z"/>
</g>
<text x="76.2" y="114.2" font-size="10.1" text-anchor="middle" fill="#262626">Parameter space</text>
<text x="64.7" y="187.58" font-size="8.8" text-anchor="end" fill="#262626">-5</text>
<text x="48.1" y="179.73" font-size="8.8" text-anchor="end" fill="#262626">0</text>
<text x="31.5" y="171.88" font-size="8.8" text-anchor="end" fill="#262626">5</text>
<text x="72.6" y="187.58" font-size="8.8" text-anchor="start" fill="#262626">-5</text>
<text x="96.85" y="181.58" font-size="8.8" text-anchor="start" fill="#262626">0</text>
<text x="121.1" y="175.58" font-size="8.8" text-anchor="start" fill="#262626">5</text>
<text x="31.1" y="164.58" font-size="8.8" text-anchor="end" fill="#262626">0</text>
<text x="31.1" y="133.19" font-size="8.8" text-anchor="end" fill="#262626">500</text>
<text x="34.7" y="196.1" font-size="10" text-anchor="middle" fill="#262626">x</text><text x="37.7" y="200.1" font-size="7.199999999999999" text-anchor="start" fill="#262626">2</text>
<text x="106" y="196.1" font-size="10" text-anchor="middle" fill="#262626">x</text><text x="109" y="200.1" font-size="7.199999999999999" text-anchor="start" fill="#262626">1</text>
<text x="8.9" y="149.12" font-size="9.5" text-anchor="middle" fill="#262626" transform="rotate(-90 8.9 145.8)">F17</text>
<path d="M300.9 131.8L300.9 161.3L342.4 174.8L392.6 162.4" stroke="#5a5a5a" stroke-width="0.6" fill="none"/>
<path d="M382.4 164.9l-9.9 .8-6.1 1-4.4 1.6-3.1 2.4" stroke="#2d48c3" stroke-width="0.5" fill="none"/>
<path d="M387.9 160.9l.7 .6 3.2 .6" stroke="#2d48c3" stroke-width="0.5" fill="none"/>
<path d="M340.5 174.2l-1.6-1.7-3.8-2.8-5.5-2.4-7.8-1.8-12.2-1.4" stroke="#2d48c3" stroke-width="0.5" fill="none"/>
<path d="M349 149.4l4.7 3.2 6.9 2.7 6.7 1.5 12.9 1.6" stroke="#2d48c3" stroke-width="0.5" fill="none"/>
<path d="M379.8 165.6l-7.4 .8-4.3 .9-3.5 1.1-2.7 1.6" stroke="#0972de" stroke-width="0.5" fill="none"/>
<path d="M338.3 173.5l-4.7-3.4-5.7-2.3-6.2-1.6-10.1-1.4" stroke="#0972de" stroke-width="0.5" fill="none"/>
<path d="M350.3 149.1l4.9 3.2 5.9 2.3 6.4 1.5 10.1 1.4" stroke="#0972de" stroke-width="0.5" fill="none"/>
<path d="M377.2 166.2l-6.7 1.1-5.8 2" stroke="#0e91d2" stroke-width="0.5" fill="none"/>
<path d="M336.6 172.9l-4-2.6-5.7-2.3-6.3-1.6-7.4-1.1" stroke="#0e91d2" stroke-width="0.5" fill="none"/>
<path d="M351.3 149l4 2.6 5.7 2.4 7.6 1.8 7.1 1.1" stroke="#0e91d2" stroke-width="0.5" fill="none"/>
<path d="M373.8 167l-5.6 1.4" stroke="#0dadbb" stroke-width="0.5" fill="none"/>
<path d="M335 172.4l-3.9-2.3-5-1.9-11.5-2.4" stroke="#0dadbb" stroke-width="0.5" fill="none"/>
<path d="M352.8 149.5l4.1 2.3 4.9 2 4.8 1.3 7.6 1.3" stroke="#0dadbb" stroke-width="0.5" fill="none"/>
<path d="M333.5 171.9l-6.9-3.2-10.6-2.5" stroke="#5abd8b" stroke-width="0.5" fill="none"/>
<path d="M354.3 149.9l3.2 1.8 4.9 1.9 10.3 2.3" stroke="#5abd8b" stroke-width="0.5" fill="none"/>
<path d="M332 171.4l-5.9-2.6-8.6-2.1" stroke="#b8bd63" stroke-width="0.5" fill="none"/>
<path d="M355.7 150.4l7.3 3.1 8.2 1.9" stroke="#b8bd63" stroke-width="0.5" fill="none"/>
<path d="M330.4 170.9l-4.7-2-6.6-1.7" stroke="#fec13a" stroke-width="0.5" fill="none"/>
<path d="M357.3 150.9l5 2.1 7.3 1.9" stroke="#fec13a" stroke-width="0.5" fill="none"/>
<path d="M328.3 170.2l-7.2-2.3" stroke="#f9fb0e" stroke-width="0.5" fill="none"/>
<path d="M359.2 151.5l8.5 2.8" stroke="#f9fb0e" stroke-width="0.5" fill="none"/>
<g fill="currentColor" stroke="currentColor" stroke-width="6.0" transform="scale(.1)">
<path color=#137fd7 d="M3509 1433l13-58-11 19-13 50z"/>
<path color=#1d54d6 d="M3496 1468l13-35-11 11-13 29z"/>
<path color=#0d93d2 d="M3520 1421l13-67-11 21-13 58z"/>
<path color=#3639a4 d="M3482 1489l14-21-11 5-14 17z"/>
<path color=#0266e1 d="M3506 1462l14-41-11 12-13 35z"/>
<path color=#06a6c7 d="M3531 1408l13-75-11 21-13 67z"/>
<path color=#362f90 d="M3469 1500l13-11-11 1-13 9z"/>
<path color=#3440b3 d="M3493 1487l13-25-10 6-14 21z"/>
<path color=#0a72de d="M3517 1455l14-47-11 13-14 41z"/>
<path color=#1eb3ae d="M3541 1395l14-83-11 21-13 75z"/>
<path color=#352c89 d="M3456 1507l13-7-11-1-13 5z"/>
<path color=#363296 d="M3480 1501l13-14-11 2-13 11z"/>
<path color=#2c4ac5 d="M3504 1484l13-29-11 7-13 25z"/>
<path color=#137ed7 d="M3528 1448l13-53-10 13-14 47z"/>
<path color=#352b88 d="M3443 1512l13-5-11-3-13 4z"/>
<path color=#52bd8f d="M3552 1382l14-89-11 19-14 83z"/>
<path color=#352d8c d="M3467 1510l13-9-11-1-13 7z"/>
<path color=#36369f d="M3491 1501l13-17-11 3-13 14z"/>
<path color=#1857d9 d="M3515 1481l13-33-11 7-13 29z"/>
<path color=#352a87 d="M3429 1515l14-3-11-4-13 4z"/>
<path color=#128bd2 d="M3539 1441l13-59-11 13-13 53z"/>
<path color=#352b88 d="M3454 1515l13-5-11-3-13 5z"/>
<path color=#8dbf74 d="M3563 1370l14-95-11 18-14 89z"/>
<path color=#362e8f d="M3478 1511l13-10-11 0-13 9z"/>
<path color=#353ba9 d="M3502 1501l13-20-11 3-13 17z"/>
<path color=#352a87 d="M3416 1518l13-3-10-3-14 3z"/>
<path color=#0364e1 d="M3526 1477l13-36-11 7-13 33z"/>
<path color=#352b87 d="M3440 1519l14-4-11-3-14 3z"/>
<path color=#089bd0 d="M3550 1433l13-63-11 12-13 59z"/>
<path color=#352b89 d="M3465 1518l13-7-11-1-13 5z"/>
<path color=#bbbd62 d="M3574 1360l13-101-10 16-14 95z"/>
<path color=#363093 d="M3489 1513l13-12-11 0-13 10z"/>
<path color=#352a87 d="M3403 1522l13-4-11-3-13 3z"/>
<path color=#3341b5 d="M3513 1500l13-23-11 4-13 20z"/>
<path color=#352a87 d="M3427 1522l13-3-11-4-13 3z"/>
<path color=#056de0 d="M3537 1474l13-41-11 8-13 36z"/>
<path color=#352b87 d="M3451 1522l14-4-11-3-14 4z"/>
<path color=#06a5c8 d="M3561 1427l13-67-11 10-13 63z"/>
<path color=#352c8b d="M3475 1520l14-7-11-2-13 7z"/>
<path color=#352a87 d="M3390 1525l13-3-11-4-13 4z"/>
<path color=#dfba53 d="M3585 1352l13-105-11 12-13 101z"/>
<path color=#363399 d="M3500 1514l13-14-11 1-13 12z"/>
<path color=#352a87 d="M3414 1525l13-3-11-4-13 4z"/>
<path color=#2e48c2 d="M3524 1499l13-25-11 3-13 23z"/>
<path color=#352a87 d="M3438 1526l13-4-11-3-13 3z"/>
<path color=#0c75dd d="M3548 1471l13-44-11 6-13 41z"/>
<path color=#352b88 d="M3462 1525l13-5-10-2-14 4z"/>
<path color=#352a87 d="M3377 1528l13-3-11-3-13 3z"/>
<path color=#0cadbc d="M3572 1422l13-70-11 8-13 67z"/>
<path color=#362d8d d="M3486 1523l14-9-11-1-14 7z"/>
<path color=#352a87 d="M3401 1529l13-4-11-3-13 3z"/>
<path color=#fabc42 d="M3596 1346l13-108-11 9-13 105z"/>
<path color=#36369f d="M3510 1515l14-16-11 1-13 14z"/>
<path color=#352a87 d="M3425 1529l13-3-11-4-13 3z"/>
<path color=#2450cf d="M3535 1498l13-27-11 3-13 25z"/>
<path color=#352b87 d="M3449 1529l13-4-11-3-13 4z"/>
<path color=#352a87 d="M3363 1532l14-4-11-3-14 3z"/>
<path color=#127bd9 d="M3559 1468l13-46-11 5-13 44z"/>
<path color=#352b89 d="M3473 1528l13-5-11-3-13 5z"/>
<path color=#352a87 d="M3388 1532l13-3-11-4-13 3z"/>
<path color=#1bb2b0 d="M3583 1419l13-73-11 6-13 70z"/>
<path color=#362f90 d="M3497 1525l13-10-10-1-14 9z"/>
<path color=#352a87 d="M3412 1532l13-3-11-4-13 4z"/>
<path color=#fec832 d="M3607 1343l13-109-11 4-13 108z"/>
<path color=#363aa6 d="M3521 1516l14-18-11 1-14 16z"/>
<path color=#352a87 d="M3436 1532l13-3-11-3-13 3z"/>
<path color=#352b87 d="M3350 1534l13-2-11-4-13 2z"/>
<path color=#1559da d="M3546 1498l13-30-11 3-13 27z"/>
<path color=#352b87 d="M3460 1533l13-5-11-3-13 4z"/>
<path color=#352a87 d="M3374 1535l14-3-11-4-14 4z"/>
<path color=#1481d6 d="M3570 1467l13-48-11 3-13 46z"/>
<path color=#352c8a d="M3484 1531l13-6-11-2-13 5z"/>
<path color=#352a87 d="M3398 1536l14-4-11-3-13 3z"/>
<path color=#2ab6a6 d="M3594 1417l13-74-11 3-13 73z"/>
<path color=#363093 d="M3508 1527l13-11-11-1-13 10z"/>
<path color=#352a87 d="M3423 1536l13-4-11-3-13 3z"/>
<path color=#352b88 d="M3337 1537l13-3-11-4-13 2z"/>
<path color=#fbd12b d="M3618 1343l13-110-11 1-13 109z"/>
<path color=#353dad d="M3532 1517l14-19-11 0-14 18z"/>
<path color=#352a87 d="M3447 1536l13-3-11-4-13 3z"/>
<path color=#352a87 d="M3361 1538l13-3-11-3-13 2z"/>
<path color=#0860df d="M3556 1498l14-31-11 1-13 30z"/>
<path color=#352b88 d="M3471 1536l13-5-11-3-13 5z"/>
<path color=#352a87 d="M3385 1539l13-3-10-4-14 3z"/>
<path color=#1486d4 d="M3581 1467l13-50-11 2-13 48z"/>
<path color=#352d8b d="M3495 1534l13-7-11-2-13 6z"/>
<path color=#352a87 d="M3409 1539l14-3-11-4-14 4z"/>
<path color=#352c8a d="M3324 1539l13-2-11-5-13 1z"/>
<path color=#35b8a0 d="M3605 1418l13-75-11 0-13 74z"/>
<path color=#363297 d="M3519 1529l13-12-11-1-13 11z"/>
<path color=#352a87 d="M3434 1539l13-3-11-4-13 4z"/>
<path color=#352b87 d="M3348 1541l13-3-11-4-13 3z"/>
<path color=#fad329 d="M3629 1346l13-108-11-5-13 110z"/>
<path color=#3340b4 d="M3543 1518l13-20-10 0-14 19z"/>
<path color=#352a87 d="M3458 1540l13-4-11-3-13 3z"/>
<path color=#352a87 d="M3372 1542l13-3-11-4-13 3z"/>
<path color=#0364e1 d="M3567 1499l14-32-11 0-14 31z"/>
<path color=#352b88 d="M3482 1539l13-5-11-3-13 5z"/>
<path color=#352a87 d="M3396 1542l13-3-11-3-13 3z"/>
<path color=#138ad3 d="M3592 1468l13-50-11-1-13 50z"/>
<path color=#352d8d d="M3506 1537l13-8-11-2-13 7z"/>
<path color=#352a87 d="M3420 1543l14-4-11-3-14 3z"/>
<path color=#352b88 d="M3335 1544l13-3-11-4-13 2z"/>
<path color=#3ab99d d="M3616 1421l13-75-11-3-13 75z"/>
<path color=#36349a d="M3530 1531l13-13-11-1-13 12z"/>
<path color=#352a87 d="M3444 1543l14-3-11-4-13 3z"/>
<path color=#352a87 d="M3359 1545l13-3-11-4-13 3z"/>
<path color=#fbd02c d="M3640 1353l13-107-11-8-13 108z"/>
<path color=#3243ba d="M3554 1520l13-21-11-1-13 20z"/>
<path color=#352b87 d="M3469 1543l13-4-11-3-13 4z"/>
<path color=#352a87 d="M3383 1546l13-4-11-3-13 3z"/>
<path color=#0267e1 d="M3578 1501l14-33-11-1-14 32z"/>
<path color=#352b89 d="M3493 1542l13-5-11-3-13 5z"/>
<path color=#352a87 d="M3407 1546l13-3-11-4-13 3z"/>
<path color=#128cd2 d="M3602 1470l14-49-11-3-13 50z"/>
<path color=#362e8f d="M3517 1539l13-8-11-2-13 8z"/>
<path color=#352a87 d="M3431 1546l13-3-10-4-14 4z"/>
<path color=#352b87 d="M3346 1548l13-3-11-4-13 3z"/>
<path color=#37b99e d="M3627 1426l13-73-11-7-13 75z"/>
<path color=#36359d d="M3541 1533l13-13-11-2-13 13z"/>
<path color=#352a87 d="M3455 1546l14-3-11-3-14 3z"/>
<path color=#352a87 d="M3370 1549l13-3-11-4-13 3z"/>
<path color=#fec734 d="M3651 1363l13-103-11-14-13 107z"/>
<path color=#3046be d="M3565 1522l13-21-11-2-13 21z"/>
<path color=#352b87 d="M3479 1546l14-4-11-3-13 4z"/>
<path color=#352a87 d="M3394 1549l13-3-11-4-13 4z"/>
<path color=#0269e1 d="M3589 1503l13-33-10-2-14 33z"/>
<path color=#352c8a d="M3504 1545l13-6-11-2-13 5z"/>
<path color=#352a87 d="M3418 1549l13-3-11-3-13 3z"/>
<path color=#352b88 d="M3332 1551l14-3-11-4-14 2z"/>
<path color=#128bd2 d="M3613 1475l14-49-11-5-14 49z"/>
<path color=#362f90 d="M3528 1542l13-9-11-2-13 8z"/>
<path color=#352a87 d="M3442 1550l13-4-11-3-13 3z"/>
<path color=#352a87 d="M3357 1552l13-3-11-4-13 3z"/>
<path color=#2eb7a4 d="M3637 1433l14-70-11-10-13 73z"/>
<path color=#3637a0 d="M3552 1536l13-14-11-2-13 13z"/>
<path color=#352a87 d="M3466 1550l13-4-10-3-14 3z"/>
<path color=#352a87 d="M3381 1552l13-3-11-3-13 3z"/>
<path color=#f7ba45 d="M3662 1375l13-98-11-17-13 103z"/>
<path color=#2e47c1 d="M3576 1525l13-22-11-2-13 21z"/>
<path color=#352b88 d="M3490 1550l14-5-11-3-14 4z"/>
<path color=#352a87 d="M3405 1553l13-4-11-3-13 3z"/>
<path color=#0269e1 d="M3600 1507l13-32-11-5-13 33z"/>
<path color=#352c8a d="M3515 1548l13-6-11-3-13 6z"/>
<path color=#352a87 d="M3429 1553l13-3-11-4-13 3z"/>
<path color=#352b87 d="M3343 1555l14-3-11-4-14 3z"/>
<path color=#1389d3 d="M3624 1480l13-47-10-7-14 49z"/>
<path color=#363092 d="M3539 1545l13-9-11-3-13 9z"/>
<path color=#352a87 d="M3453 1553l13-3-11-4-13 4z"/>
<path color=#352a87 d="M3367 1556l14-4-11-3-13 3z"/>
<path color=#20b4ad d="M3648 1442l14-67-11-12-14 70z"/>
<path color=#3637a2 d="M3563 1539l13-14-11-3-13 14z"/>
<path color=#352b87 d="M3477 1553l13-3-11-4-13 4z"/>
<path color=#352a87 d="M3392 1556l13-3-11-4-13 3z"/>
<path color=#daba55 d="M3673 1390l13-93-11-20-13 98z"/>
<path color=#2e48c2 d="M3587 1528l13-21-11-4-13 22z"/>
<path color=#352b88 d="M3501 1553l14-5-11-3-14 5z"/>
<path color=#352a87 d="M3416 1556l13-3-11-4-13 4z"/>
<path color=#352b88 d="M3330 1558l13-3-11-4-13 3z"/>
<path color=#0268e1 d="M3611 1512l13-32-11-5-13 32z"/>
<path color=#352c8b d="M3525 1552l14-7-11-3-13 6z"/>
<path color=#352a87 d="M3440 1557l13-4-11-3-13 3z"/>
<path color=#352a87 d="M3354 1559l13-3-10-4-14 3z"/>
<path color=#1485d4 d="M3635 1488l13-46-11-9-13 47z"/>
<path color=#363093 d="M3550 1548l13-9-11-3-13 9z"/>
<path color=#352a87 d="M3464 1557l13-4-11-3-13 3z"/>
<path color=#352a87 d="M3378 1559l14-3-11-4-14 4z"/>
<path color=#11afb8 d="M3659 1454l14-64-11-15-14 67z"/>
<path color=#3638a2 d="M3574 1542l13-14-11-3-13 14z"/>
<path color=#352b87 d="M3488 1557l13-4-11-3-13 3z"/>
<path color=#352a87 d="M3402 1560l14-4-11-3-13 3z"/>
<path color=#b5bd64 d="M3683 1407l14-86-11-24-13 93z"/>
<path color=#2f47c0 d="M3598 1532l13-20-11-5-13 21z"/>
<path color=#352b88 d="M3512 1556l13-4-10-4-14 5z"/>
<path color=#352a87 d="M3427 1560l13-3-11-4-13 3z"/>
<path color=#352b87 d="M3341 1562l13-3-11-4-13 3z"/>
<path color=#0265e1 d="M3622 1518l13-30-11-8-13 32z"/>
<path color=#352d8c d="M3536 1555l14-7-11-3-14 7z"/>
<path color=#352a87 d="M3451 1560l13-3-11-4-13 4z"/>
<path color=#352a87 d="M3365 1562l13-3-11-3-13 3z"/>
<path color=#1480d6 d="M3646 1496l13-42-11-12-13 46z"/>
<path color=#363093 d="M3560 1552l14-10-11-3-13 9z"/>
<path color=#352a87 d="M3475 1560l13-3-11-4-13 4z"/>
<path color=#352a87 d="M3389 1563l13-3-10-4-14 3z"/>
<path color=#06a8c4 d="M3670 1466l13-59-10-17-14 64z"/>
<path color=#3638a2 d="M3585 1546l13-14-11-4-13 14z"/>
<path color=#352b87 d="M3499 1560l13-4-11-3-13 4z"/>
<path color=#352a87 d="M3413 1563l14-3-11-4-14 4z"/>
<path color=#86bf77 d="M3694 1426l14-79-11-26-14 86z"/>
<path color=#352b87 d="M3328 1565l13-3-11-4-13 3z"/>
<path color=#3045bd d="M3609 1537l13-19-11-6-13 20z"/>
<path color=#352b89 d="M3523 1560l13-5-11-3-13 4z"/>
<path color=#352a87 d="M3438 1563l13-3-11-3-13 3z"/>
<path color=#352a87 d="M3352 1566l13-4-11-3-13 3z"/>
<path color=#0561e0 d="M3633 1524l13-28-11-8-13 30z"/>
<path color=#352d8c d="M3547 1558l13-6-10-4-14 7z"/>
<path color=#352a87 d="M3462 1564l13-4-11-3-13 3z"/>
<path color=#352a87 d="M3376 1566l13-3-11-4-13 3z"/>
<path color=#117ad9 d="M3657 1505l13-39-11-12-13 42z"/>
<path color=#363093 d="M3571 1555l14-9-11-4-14 10z"/>
<path color=#352a87 d="M3486 1564l13-4-11-3-13 3z"/>
<path color=#352a87 d="M3400 1566l13-3-11-3-13 3z"/>
<path color=#069fce d="M3681 1480l13-54-11-19-13 59z"/>
<path color=#3637a1 d="M3596 1550l13-13-11-5-13 14z"/>
<path color=#352b87 d="M3510 1564l13-4-11-4-13 4z"/>
<path color=#352a87 d="M3424 1567l14-4-11-3-14 3z"/>
<path color=#49bc94 d="M3705 1446l13-72-10-27-14 79z"/>
<path color=#352a87 d="M3339 1569l13-3-11-4-13 3z"/>
<path color=#3243b9 d="M3620 1543l13-19-11-6-13 19z"/>
<path color=#352b89 d="M3534 1563l13-5-11-3-13 5z"/>
<path color=#352a87 d="M3448 1567l14-3-11-4-13 3z"/>
<path color=#352a87 d="M3363 1569l13-3-11-4-13 4z"/>
<path color=#105bdd d="M3644 1531l13-26-11-9-13 28z"/>
<path color=#352d8c d="M3558 1562l13-7-11-3-13 6z"/>
<path color=#352a87 d="M3473 1567l13-3-11-4-13 4z"/>
<path color=#352a87 d="M3387 1570l13-4-11-3-13 3z"/>
<path color=#0b73dd d="M3668 1515l13-35-11-14-13 39z"/>
<path color=#363092 d="M3582 1559l14-9-11-4-14 9z"/>
<path color=#352a87 d="M3497 1567l13-3-11-4-13 4z"/>
<path color=#352a87 d="M3411 1570l13-3-11-4-13 3z"/>
<path color=#0e91d2 d="M3692 1494l13-48-11-20-13 54z"/>
<path color=#36369e d="M3606 1555l14-12-11-6-13 13z"/>
<path color=#352b88 d="M3521 1567l13-4-11-3-13 4z"/>
<path color=#352a87 d="M3435 1570l13-3-10-4-14 4z"/>
<path color=#18b1b2 d="M3716 1466l13-64-11-28-13 72z"/>
<path color=#352a87 d="M3350 1573l13-4-11-3-13 3z"/>
<path color=#3440b3 d="M3631 1548l13-17-11-7-13 19z"/>
<path color=#352b89 d="M3545 1567l13-5-11-4-13 5z"/>
<path color=#352a87 d="M3459 1570l14-3-11-3-14 3z"/>
<path color=#352a87 d="M3374 1573l13-3-11-4-13 3z"/>
<path color=#2053d4 d="M3655 1539l13-24-11-10-13 26z"/>
<path color=#352d8c d="M3569 1566l13-7-11-4-13 7z"/>
<path color=#352a87 d="M3484 1571l13-4-11-3-13 3z"/>
<path color=#352a87 d="M3398 1573l13-3-11-4-13 4z"/>
<path color=#046ce0 d="M3679 1526l13-32-11-14-13 35z"/>
<path color=#362f91 d="M3593 1563l13-8-10-5-14 9z"/>
<path color=#352a87 d="M3508 1571l13-4-11-3-13 3z"/>
<path color=#352a87 d="M3422 1573l13-3-11-3-13 3z"/>
<path color=#1482d5 d="M3703 1508l13-42-11-20-13 48z"/>
<path color=#352a87 d="M3336 1576l14-3-11-4-13 3z"/>
<path color=#36349b d="M3617 1560l14-12-11-5-14 12z"/>
<path color=#352b88 d="M3532 1571l13-4-11-4-13 4z"/>
<path color=#352a87 d="M3446 1574l13-4-11-3-13 3z"/>
<path color=#06a4c9 d="M3727 1486l13-56-11-28-13 64z"/>
<path color=#352a87 d="M3361 1576l13-3-11-4-13 4z"/>
<path color=#353dac d="M3642 1554l13-15-11-8-13 17z"/>
<path color=#352b89 d="M3556 1570l13-4-11-4-13 5z"/>
<path color=#352a87 d="M3470 1574l14-3-11-4-14 3z"/>
<path color=#352a87 d="M3385 1576l13-3-11-3-13 3z"/>
<path color=#2c4ac7 d="M3666 1547l13-21-11-11-13 24z"/>
<path color=#352d8b d="M3580 1569l13-6-11-4-13 7z"/>
<path color=#352a87 d="M3494 1574l14-3-11-4-13 4z"/>
<path color=#352a87 d="M3409 1577l13-4-11-3-13 3z"/>
<path color=#0363e1 d="M3690 1536l13-28-11-14-13 32z"/>
<path color=#362f90 d="M3604 1568l13-8-11-5-13 8z"/>
<path color=#352b87 d="M3519 1574l13-3-11-4-13 4z"/>
<path color=#352a87 d="M3433 1577l13-3-11-4-13 3z"/>
<path color=#0e76dc d="M3714 1523l13-37-11-20-13 42z"/>
<path color=#352a87 d="M3347 1579l14-3-11-3-14 3z"/>
<path color=#363398 d="M3628 1565l14-11-11-6-14 12z"/>
<path color=#352b88 d="M3543 1574l13-4-11-3-13 4z"/>
<path color=#352a87 d="M3457 1577l13-3-11-4-13 4z"/>
<path color=#0f90d2 d="M3738 1505l13-48-11-27-13 56z"/>
<path color=#352a87 d="M3372 1580l13-4-11-3-13 3z"/>
<path color=#3639a5 d="M3652 1560l14-13-11-8-13 15z"/>
<path color=#352b89 d="M3567 1574l13-5-11-3-13 4z"/>
<path color=#352a87 d="M3481 1578l13-4-10-3-14 3z"/>
<path color=#352a87 d="M3396 1580l13-3-11-4-13 3z"/>
<path color=#3244ba d="M3677 1554l13-18-11-10-13 21z"/>
<path color=#352c8b d="M3591 1573l13-5-11-5-13 6z"/>
<path color=#352a87 d="M3505 1578l14-4-11-3-14 3z"/>
<path color=#352a87 d="M3420 1580l13-3-11-4-13 4z"/>
<path color=#1a56d7 d="M3701 1546l13-23-11-15-13 28z"/>
<path color=#362e8f d="M3615 1572l13-7-11-5-13 8z"/>
<path color=#352b87 d="M3530 1578l13-4-11-3-13 3z"/>
<path color=#352a87 d="M3444 1581l13-4-11-3-13 3z"/>
<path color=#036be0 d="M3725 1536l13-31-11-19-13 37z"/>
<path color=#352a87 d="M3358 1583l14-3-11-4-14 3z"/>
<path color=#363195 d="M3639 1570l13-10-10-6-14 11z"/>
<path color=#352b88 d="M3554 1578l13-4-11-4-13 4z"/>
<path color=#352a87 d="M3468 1581l13-3-11-4-13 3z"/>
<path color=#137dd8 d="M3749 1522l13-40-11-25-13 48z"/>
<path color=#352a87 d="M3382 1583l14-3-11-4-13 4z"/>
<path color=#36369f d="M3663 1566l14-12-11-7-14 13z"/>
<path color=#352b88 d="M3578 1578l13-5-11-4-13 5z"/>
<path color=#352a87 d="M3492 1581l13-3-11-4-13 4z"/>
<path color=#362e8f d="M3126 1584l13-2-11-5-13 2z"/>
<path color=#352a87 d="M3407 1584l13-4-11-3-13 3z"/>
<path color=#353eae d="M3688 1562l13-16-11-10-13 18z"/>
<path color=#352c8a d="M3602 1577l13-5-11-4-13 5z"/>
<path color=#352a87 d="M3516 1581l14-3-11-4-14 4z"/>
<path color=#352a87 d="M3431 1584l13-3-11-4-13 3z"/>
<path color=#2d49c4 d="M3712 1556l13-20-11-13-13 23z"/>
<path color=#352a87 d="M3345 1586l13-3-11-4-13 4z"/>
<path color=#362d8d d="M3626 1576l13-6-11-5-13 7z"/>
<path color=#352b87 d="M3540 1582l14-4-11-4-13 4z"/>
<path color=#352a87 d="M3455 1584l13-3-11-4-13 4z"/>
<path color=#0c5dde d="M3736 1548l13-26-11-17-13 31z"/>
<path color=#352a87 d="M3369 1587l13-4-10-3-14 3z"/>
<path color=#363092 d="M3650 1574l13-8-11-6-13 10z"/>
<path color=#352b88 d="M3565 1582l13-4-11-4-13 4z"/>
<path color=#352a87 d="M3479 1584l13-3-11-3-13 3z"/>
<path color=#066fdf d="M3760 1538l13-33-11-23-13 40z"/>
<path color=#362f91 d="M3112 1585l14-1-11-5-14 2z"/>
<path color=#352a87 d="M3393 1587l14-3-11-4-14 3z"/>
<path color=#363399 d="M3674 1572l14-10-11-8-14 12z"/>
<path color=#352b88 d="M3589 1581l13-4-11-4-13 5z"/>
<path color=#352a87 d="M3503 1585l13-4-11-3-13 3z"/>
<path color=#352a87 d="M3417 1587l14-3-11-4-13 4z"/>
<path color=#352c8a d="M3613 1581l13-5-11-4-13 5z"/>
<path color=#352a87 d="M3527 1585l13-3-10-4-14 3z"/>
<path color=#352a87 d="M3442 1587l13-3-11-3-13 3z"/>
<path color=#352a87 d="M3356 1590l13-3-11-4-13 3z"/>
<path color=#352d8c d="M3637 1580l13-6-11-4-13 6z"/>
<path color=#352b87 d="M3551 1585l14-3-11-4-14 4z"/>
<path color=#352a87 d="M3466 1588l13-4-11-3-13 3z"/>
<path color=#294dca d="M3747 1558l13-20-11-16-13 26z"/>
<path color=#363194 d="M3099 1586l13-1-11-4-13 1z"/>
<path color=#352a87 d="M3380 1590l13-3-11-4-13 4z"/>
<path color=#362e8f d="M3661 1579l13-7-11-6-13 8z"/>
<path color=#352b87 d="M3575 1585l14-4-11-3-13 4z"/>
<path color=#352a87 d="M3490 1588l13-3-11-4-13 3z"/>
<path color=#0860df d="M3771 1551l13-26-11-20-13 33z"/>
<path color=#352a87 d="M3404 1590l13-3-10-3-14 3z"/>
<path color=#352b88 d="M3600 1585l13-4-11-4-13 4z"/>
<path color=#352a87 d="M3514 1588l13-3-11-4-13 4z"/>
<path color=#352a87 d="M3428 1591l14-4-11-3-14 3z"/>
<path color=#352a87 d="M3343 1593l13-3-11-4-13 3z"/>
<path color=#352b89 d="M3624 1585l13-5-11-4-13 5z"/>
<path color=#352a87 d="M3538 1588l13-3-11-3-13 3z"/>
<path color=#352a87 d="M3453 1591l13-3-11-4-13 3z"/>
<path color=#363399 d="M3086 1587l13-1-11-4-13 0z"/>
<path color=#352a87 d="M3367 1593l13-3-11-3-13 3z"/>
<path color=#352c8b d="M3648 1584l13-5-11-5-13 6z"/>
<path color=#352a87 d="M3562 1589l13-4-10-3-14 3z"/>
<path color=#352a87 d="M3477 1591l13-3-11-4-13 4z"/>
<path color=#3342b6 d="M3758 1567l13-16-11-13-13 20z"/>
<path color=#363093 d="M3110 1591l13-2-11-4-13 1z"/>
<path color=#352a87 d="M3391 1594l13-4-11-3-13 3z"/>
<path color=#352b87 d="M3586 1589l14-4-11-4-14 4z"/>
<path color=#352a87 d="M3501 1592l13-4-11-3-13 3z"/>
<path color=#284dcb d="M3782 1562l13-20-11-17-13 26z"/>
<path color=#352a87 d="M3415 1594l13-3-11-4-13 3z"/>
<path color=#352b88 d="M3611 1589l13-4-11-4-13 4z"/>
<path color=#352a87 d="M3525 1592l13-4-11-3-13 3z"/>
<path color=#352a87 d="M3439 1594l14-3-11-4-14 4z"/>
<path color=#36359d d="M3073 1588l13-1-11-5-13 1z"/>
<path color=#352a87 d="M3354 1597l13-4-11-3-13 3z"/>
<path color=#352b89 d="M3635 1588l13-4-11-4-13 5z"/>
<path color=#352a87 d="M3549 1592l13-3-11-4-13 3z"/>
<path color=#352a87 d="M3463 1594l14-3-11-3-13 3z"/>
<path color=#363297 d="M3097 1592l13-1-11-5-13 1z"/>
<path color=#352a87 d="M3378 1597l13-3-11-4-13 3z"/>
<path color=#352c8a d="M3659 1588l13-5-11-4-13 5z"/>
<path color=#352b87 d="M3573 1592l13-3-11-4-13 4z"/>
<path color=#352a87 d="M3488 1595l13-3-11-4-13 3z"/>
<path color=#353ba8 d="M3769 1574l13-12-11-11-13 16z"/>
<path color=#352a87 d="M3402 1597l13-3-11-4-13 4z"/>
<path color=#352b87 d="M3597 1592l14-3-11-4-14 4z"/>
<path color=#352a87 d="M3512 1595l13-3-11-4-13 4z"/>
<path color=#3342b7 d="M3793 1570l13-15-11-13-13 20z"/>
<path color=#352a87 d="M3426 1597l13-3-11-3-13 3z"/>
<path color=#3637a1 d="M3060 1590l13-2-11-5-13 0z"/>
<path color=#352b88 d="M3621 1592l14-4-11-3-13 4z"/>
<path color=#352a87 d="M3536 1595l13-3-11-4-13 4z"/>
<path color=#352a87 d="M3450 1598l13-4-10-3-14 3z"/>
<path color=#36349a d="M3084 1594l13-2-11-5-13 1z"/>
<path color=#352a87 d="M3365 1600l13-3-11-4-13 4z"/>
<path color=#352b89 d="M3646 1592l13-4-11-4-13 4z"/>
<path color=#352a87 d="M3560 1595l13-3-11-3-13 3z"/>
<path color=#352a87 d="M3474 1598l14-3-11-4-14 3z"/>
<path color=#363194 d="M3108 1598l13-3-11-4-13 1z"/>
<path color=#352a87 d="M3389 1600l13-3-11-3-13 3z"/>
<path color=#352b87 d="M3584 1596l13-4-11-3-13 3z"/>
<path color=#352a87 d="M3498 1598l14-3-11-3-13 3z"/>
<path color=#3637a0 d="M3779 1579l14-9-11-8-13 12z"/>
<path color=#352a87 d="M3413 1601l13-4-11-3-13 3z"/>
<path color=#3639a4 d="M3046 1593l14-3-11-7-14 2z"/>
<path color=#352b87 d="M3608 1596l13-4-10-3-14 3z"/>
<path color=#352a87 d="M3523 1599l13-4-11-3-13 3z"/>
<path color=#353caa d="M3804 1576l13-11-11-10-13 15z"/>
<path color=#352a87 d="M3437 1601l13-3-11-4-13 3z"/>
<path color=#36359c d="M3070 1597l14-3-11-6-13 2z"/>
<path color=#352a87 d="M3351 1603l14-3-11-3-14 3z"/>
<path color=#352b88 d="M3632 1595l14-3-11-4-14 4z"/>
<path color=#352a87 d="M3547 1599l13-4-11-3-13 3z"/>
<path color=#352a87 d="M3461 1601l13-3-11-4-13 4z"/>
<path color=#363296 d="M3095 1601l13-3-11-6-13 2z"/>
<path color=#352a87 d="M3376 1604l13-4-11-3-13 3z"/>
<path color=#352a87 d="M3571 1599l13-3-11-4-13 3z"/>
<path color=#352a87 d="M3485 1602l13-4-10-3-14 3z"/>
<path color=#352a87 d="M3400 1604l13-3-11-4-13 3z"/>
<path color=#3638a4 d="M3033 1598l13-5-11-8-13 4z"/>
<path color=#352b87 d="M3595 1599l13-3-11-4-13 4z"/>
<path color=#352a87 d="M3509 1602l14-3-11-4-14 3z"/>
<path color=#36359c d="M3790 1583l14-7-11-6-14 9z"/>
<path color=#352a87 d="M3424 1604l13-3-11-4-13 4z"/>
<path color=#36359c d="M3057 1602l13-5-10-7-14 3z"/>
<path color=#352b88 d="M3619 1599l13-4-11-3-13 4z"/>
<path color=#352a87 d="M3534 1602l13-3-11-4-13 4z"/>
<path color=#3639a4 d="M3815 1580l13-8-11-7-13 11z"/>
<path color=#352a87 d="M3448 1605l13-4-11-3-13 3z"/>
<path color=#363296 d="M3081 1605l14-4-11-7-14 3z"/>
<path color=#352a87 d="M3362 1607l14-3-11-4-14 3z"/>
<path color=#352b88 d="M3643 1599l13-4-10-3-14 3z"/>
<path color=#352a87 d="M3558 1602l13-3-11-4-13 4z"/>
<path color=#352a87 d="M3472 1605l13-3-11-4-13 3z"/>
<path color=#363092 d="M3106 1607l13-3-11-6-13 3z"/>
<path color=#352a87 d="M3386 1607l14-3-11-4-13 4z"/>
<path color=#3637a0 d="M3020 1605l13-7-11-9-13 5z"/>
<path color=#352b87 d="M3582 1602l13-3-11-3-13 3z"/>
<path color=#352a87 d="M3496 1605l13-3-11-4-13 4z"/>
<path color=#352a87 d="M3411 1608l13-4-11-3-13 3z"/>
<path color=#363399 d="M3044 1608l13-6-11-9-13 5z"/>
<path color=#352b87 d="M3606 1602l13-3-11-3-13 3z"/>
<path color=#352a87 d="M3520 1605l14-3-11-3-14 3z"/>
<path color=#36359c d="M3801 1585l14-5-11-4-14 7z"/>
<path color=#352a87 d="M3435 1608l13-3-11-4-13 3z"/>
<path color=#363194 d="M3068 1610l13-5-11-8-13 5z"/>
<path color=#352a87 d="M3349 1610l13-3-11-4-13 4z"/>
<path color=#352b88 d="M3630 1602l13-3-11-4-13 4z"/>
<path color=#352a87 d="M3544 1606l14-4-11-3-13 3z"/>
<path color=#3638a4 d="M3825 1581l14-6-11-3-13 8z"/>
<path color=#352a87 d="M3459 1608l13-3-11-4-13 4z"/>
<path color=#362f91 d="M3092 1612l14-5-11-6-14 4z"/>
<path color=#352a87 d="M3373 1611l13-4-10-3-14 3z"/>
<path color=#352a87 d="M3569 1606l13-4-11-3-13 3z"/>
<path color=#352a87 d="M3483 1608l13-3-11-3-13 3z"/>
<path color=#352a87 d="M3397 1611l14-3-11-4-14 3z"/>
<path color=#363195 d="M3031 1615l13-7-11-10-13 7z"/>
<path color=#352b87 d="M3593 1606l13-4-11-3-13 3z"/>
<path color=#352a87 d="M3507 1609l13-4-11-3-13 3z"/>
<path color=#363398 d="M3788 1590l13-5-11-2-13 5z"/>
<path color=#352a87 d="M3422 1611l13-3-11-4-13 4z"/>
<path color=#362f91 d="M3055 1616l13-6-11-8-13 6z"/>
<path color=#352b88 d="M3617 1606l13-4-11-3-13 3z"/>
<path color=#352a87 d="M3531 1609l13-3-10-4-14 3z"/>
<path color=#36369e d="M3812 1586l13-5-10-1-14 5z"/>
<path color=#352a87 d="M3446 1611l13-3-11-3-13 3z"/>
<path color=#362e8e d="M3079 1617l13-5-11-7-13 5z"/>
<path color=#352a87 d="M3360 1614l13-3-11-4-13 3z"/>
<path color=#352b88 d="M3641 1605l13-3-11-3-13 3z"/>
<path color=#352a87 d="M3555 1609l14-3-11-4-14 4z"/>
<path color=#363aa7 d="M3836 1582l14-5-11-2-14 6z"/>
<path color=#352a87 d="M3470 1612l13-4-11-3-13 3z"/>
<path color=#352a87 d="M3384 1614l13-3-11-4-13 4z"/>
<path color=#352b87 d="M3580 1609l13-3-11-4-13 4z"/>
<path color=#352a87 d="M3494 1612l13-3-11-4-13 3z"/>
<path color=#352a87 d="M3408 1614l14-3-11-3-14 3z"/>
<path color=#352d8d d="M3042 1622l13-6-11-8-13 7z"/>
<path color=#352b87 d="M3604 1609l13-3-11-4-13 4z"/>
<path color=#352a87 d="M3518 1612l13-3-11-4-13 4z"/>
<path color=#36349b d="M3799 1591l13-5-11-1-13 5z"/>
<path color=#352a87 d="M3432 1615l14-4-11-3-13 3z"/>
<path color=#352c8b d="M3066 1623l13-6-11-7-13 6z"/>
<path color=#352b88 d="M3628 1609l13-4-11-3-13 4z"/>
<path color=#352a87 d="M3542 1612l13-3-11-3-13 3z"/>
<path color=#3638a3 d="M3823 1587l13-5-11-1-13 5z"/>
<path color=#352a87 d="M3457 1615l13-3-11-4-13 3z"/>
<path color=#352c8a d="M3090 1623l13-5-11-6-13 5z"/>
<path color=#352a87 d="M3371 1617l13-3-11-3-13 3z"/>
<path color=#352a87 d="M3566 1613l14-4-11-3-14 3z"/>
<path color=#353dad d="M3847 1582l13-5-10 0-14 5z"/>
<path color=#352a87 d="M3481 1615l13-3-11-4-13 4z"/>
<path color=#352a87 d="M3395 1618l13-4-11-3-13 3z"/>
<path color=#352b87 d="M3590 1613l14-4-11-3-13 3z"/>
<path color=#352a87 d="M3505 1616l13-4-11-3-13 3z"/>
<path color=#352a87 d="M3419 1618l13-3-10-4-14 3z"/>
<path color=#352b89 d="M3053 1626l13-3-11-7-13 6z"/>
<path color=#352b88 d="M3615 1613l13-4-11-3-13 3z"/>
<path color=#352a87 d="M3529 1616l13-4-11-3-13 3z"/>
<path color=#3636a0 d="M3810 1592l13-5-11-1-13 5z"/>
<path color=#352a87 d="M3443 1618l14-3-11-4-14 4z"/>
<path color=#352b88 d="M3077 1627l13-4-11-6-13 6z"/>
<path color=#352a87 d="M3358 1621l13-4-11-3-13 3z"/>
<path color=#352b88 d="M3639 1613l13-4-11-4-13 4z"/>
<path color=#352a87 d="M3553 1616l13-3-11-4-13 3z"/>
<path color=#353ba9 d="M3834 1588l13-6-11 0-13 5z"/>
<path color=#352a87 d="M3468 1618l13-3-11-3-13 3z"/>
<path color=#352a87 d="M3382 1621l13-3-11-4-13 3z"/>
<path color=#352a87 d="M3577 1616l13-3-10-4-14 4z"/>
<path color=#3341b5 d="M3858 1582l13-6-11 1-13 5z"/>
<path color=#352a87 d="M3492 1619l13-3-11-4-13 3z"/>
<path color=#352a87 d="M3406 1621l13-3-11-4-13 4z"/>
<path color=#352b87 d="M3601 1616l14-3-11-4-14 4z"/>
<path color=#352a87 d="M3516 1619l13-3-11-4-13 4z"/>
<path color=#36359c d="M3797 1598l13-6-11-1-13 5z"/>
<path color=#352a87 d="M3430 1621l13-3-11-3-13 3z"/>
<path color=#352b88 d="M3064 1628l13-1-11-4-13 3z"/>
<path color=#352b88 d="M3626 1616l13-3-11-4-13 4z"/>
<path color=#352a87 d="M3540 1619l13-3-11-4-13 4z"/>
<path color=#3639a4 d="M3821 1594l13-6-11-1-13 5z"/>
<path color=#352a87 d="M3454 1622l14-4-11-3-14 3z"/>
<path color=#352a87 d="M3369 1624l13-3-11-4-13 4z"/>
<path color=#352a87 d="M3564 1620l13-4-11-3-13 3z"/>
<path color=#353eaf d="M3845 1590l13-8-11 0-13 6z"/>
<path color=#352a87 d="M3478 1622l14-3-11-4-13 3z"/>
<path color=#352a87 d="M3393 1624l13-3-11-3-13 3z"/>
<path color=#352a87 d="M3588 1620l13-4-11-3-13 3z"/>
<path color=#3045bd d="M3869 1584l13-8-11 0-13 6z"/>
<path color=#352a87 d="M3503 1622l13-3-11-3-13 3z"/>
<path color=#352a87 d="M3417 1625l13-4-11-3-13 3z"/>
<path color=#352b87 d="M3612 1620l14-4-11-3-14 3z"/>
<path color=#352a87 d="M3527 1623l13-4-11-3-13 3z"/>
<path color=#36369e d="M3808 1601l13-7-11-2-13 6z"/>
<path color=#352a87 d="M3441 1625l13-3-11-4-13 3z"/>
<path color=#352c8b d="M3075 1625l13 4-11-2-13 1z"/>
<path color=#352a87 d="M3355 1627l14-3-11-3-13 3z"/>
<path color=#352b88 d="M3636 1620l14-4-11-3-13 3z"/>
<path color=#352a87 d="M3551 1623l13-3-11-4-13 3z"/>
<path color=#363aa7 d="M3832 1597l13-7-11-2-13 6z"/>
<path color=#352a87 d="M3465 1625l13-3-10-4-14 4z"/>
<path color=#352a87 d="M3380 1628l13-4-11-3-13 3z"/>
<path color=#352a87 d="M3575 1623l13-3-11-4-13 4z"/>
<path color=#3440b3 d="M3856 1593l13-9-11-2-13 8z"/>
<path color=#352a87 d="M3489 1626l14-4-11-3-14 3z"/>
<path color=#352b89 d="M3123 1630l13 0-11-2-13 2z"/>
<path color=#352a87 d="M3404 1628l13-3-11-4-13 3z"/>
<path color=#352a87 d="M3599 1623l13-3-11-4-13 4z"/>
<path color=#2e48c2 d="M3880 1587l13-10-11-1-13 8z"/>
<path color=#352a87 d="M3513 1626l14-3-11-4-13 3z"/>
<path color=#352a87 d="M3428 1628l13-3-11-4-13 4z"/>
<path color=#352b87 d="M3623 1623l13-3-10-4-14 4z"/>
<path color=#352a87 d="M3538 1626l13-3-11-4-13 4z"/>
<path color=#36369f d="M3819 1606l13-9-11-3-13 7z"/>
<path color=#352a87 d="M3452 1629l13-4-11-3-13 3z"/>
<path color=#363093 d="M3085 1619l14 9-11 1-13-4z"/>
<path color=#352a87 d="M3366 1631l14-3-11-4-14 3z"/>
<path color=#352a87 d="M3562 1626l13-3-11-3-13 3z"/>
<path color=#353ba8 d="M3843 1602l13-9-11-3-13 7z"/>
<path color=#352a87 d="M3476 1629l13-3-11-4-13 3z"/>
<path color=#362f90 d="M3110 1624l13 6-11 0-13-2z"/>
<path color=#352a87 d="M3391 1631l13-3-11-4-13 4z"/>
<path color=#352a87 d="M3586 1627l13-4-11-3-13 3z"/>
<path color=#3340b4 d="M3867 1598l13-11-11-3-13 9z"/>
<path color=#352a87 d="M3500 1629l13-3-10-4-14 4z"/>
<path color=#352d8d d="M3134 1628l13 3-11-1-13 0z"/>
<path color=#352a87 d="M3415 1632l13-4-11-3-13 3z"/>
<path color=#352a87 d="M3610 1627l13-4-11-3-13 3z"/>
<path color=#2e48c2 d="M3891 1592l13-12-11-3-13 10z"/>
<path color=#352a87 d="M3524 1629l14-3-11-3-14 3z"/>
<path color=#363297 d="M3805 1613l14-7-11-5-14 8z"/>
<path color=#352c8b d="M3158 1631l13 2-11-2-13 0z"/>
<path color=#352a87 d="M3439 1632l13-3-11-4-13 3z"/>
<path color=#352a87 d="M3549 1630l13-4-11-3-13 3z"/>
<path color=#36359e d="M3829 1611l14-9-11-5-13 9z"/>
<path color=#352a87 d="M3463 1632l13-3-11-4-13 4z"/>
<path color=#3638a3 d="M3096 1609l14 15-11 4-14-9z"/>
<path color=#352a87 d="M3377 1635l14-4-11-3-14 3z"/>
<path color=#352a87 d="M3573 1630l13-3-11-4-13 3z"/>
<path color=#363aa6 d="M3854 1608l13-10-11-5-13 9z"/>
<path color=#352a87 d="M3487 1632l13-3-11-3-13 3z"/>
<path color=#36349b d="M3120 1617l14 11-11 2-13-6z"/>
<path color=#352a87 d="M3401 1635l14-3-11-4-13 3z"/>
<path color=#352a87 d="M3597 1630l13-3-11-4-13 4z"/>
<path color=#343fb0 d="M3878 1605l13-13-11-5-13 11z"/>
<path color=#352a87 d="M3511 1633l13-4-11-3-13 3z"/>
<path color=#363194 d="M3145 1624l13 7-11 0-13-3z"/>
<path color=#352a87 d="M3426 1635l13-3-11-4-13 4z"/>
<path color=#352a87 d="M3621 1631l13-4-11-4-13 4z"/>
<path color=#3046be d="M3902 1600l13-14-11-6-13 12z"/>
<path color=#352a87 d="M3535 1633l14-3-11-4-14 3z"/>
<path color=#363195 d="M3816 1619l13-8-10-5-14 7z"/>
<path color=#362f90 d="M3169 1629l13 4-11 0-13-2z"/>
<path color=#352a87 d="M3450 1635l13-3-11-3-13 3z"/>
<path color=#352a87 d="M3364 1638l13-3-11-4-13 3z"/>
<path color=#352a87 d="M3559 1633l14-3-11-4-13 4z"/>
<path color=#36349a d="M3840 1618l14-10-11-6-14 9z"/>
<path color=#352d8d d="M3193 1633l13 3-11-2-13-1z"/>
<path color=#352a87 d="M3474 1636l13-4-11-3-13 3z"/>
<path color=#3045bd d="M3107 1595l13 22-10 7-14-15z"/>
<path color=#352a87 d="M3388 1638l13-3-10-4-14 4z"/>
<path color=#352a87 d="M3584 1634l13-4-11-3-13 3z"/>
<path color=#3637a0 d="M3865 1616l13-11-11-7-13 10z"/>
<path color=#352a87 d="M3498 1636l13-3-11-4-13 3z"/>
<path color=#353dac d="M3131 1608l14 16-11 4-14-11z"/>
<path color=#352a87 d="M3412 1638l14-3-11-3-14 3z"/>
<path color=#352a87 d="M3608 1634l13-3-11-4-13 3z"/>
<path color=#353ba9 d="M3889 1613l13-13-11-8-13 13z"/>
<path color=#352a87 d="M3522 1636l13-3-11-4-13 4z"/>
<path color=#3637a0 d="M3156 1618l13 11-11 2-13-7z"/>
<path color=#352a87 d="M3436 1639l14-4-11-3-13 3z"/>
<path color=#3340b3 d="M3913 1610l13-15-11-9-13 14z"/>
<path color=#352a87 d="M3546 1637l13-4-10-3-14 3z"/>
<path color=#362f91 d="M3827 1626l13-8-11-7-13 8z"/>
<path color=#363297 d="M3180 1626l13 7-11 0-13-4z"/>
<path color=#352a87 d="M3461 1639l13-3-11-4-13 3z"/>
<path color=#352a87 d="M3375 1641l13-3-11-3-13 3z"/>
<path color=#352a87 d="M3570 1637l14-3-11-4-14 3z"/>
<path color=#363194 d="M3851 1625l14-9-11-8-14 10z"/>
<path color=#362f91 d="M3204 1633l13 4-11-1-13-3z"/>
<path color=#352a87 d="M3485 1639l13-3-11-4-13 4z"/>
<path color=#0e5cde d="M3118 1579l13 29-11 9-13-22z"/>
<path color=#352a87 d="M3399 1642l13-4-11-3-13 3z"/>
<path color=#352a87 d="M3595 1637l13-3-11-4-13 4z"/>
<path color=#363399 d="M3875 1624l14-11-11-8-13 11z"/>
<path color=#352a87 d="M3509 1640l13-4-11-3-13 3z"/>
<path color=#2c49c5 d="M3142 1597l14 21-11 6-14-16z"/>
<path color=#352a87 d="M3423 1642l13-3-10-4-14 3z"/>
<path color=#352a87 d="M3619 1637l13-3-11-3-13 3z"/>
<path color=#36369e d="M3900 1623l13-13-11-10-13 13z"/>
<path color=#352a87 d="M3533 1640l13-3-11-4-13 3z"/>
<path color=#343eb0 d="M3166 1612l14 14-11 3-13-11z"/>
<path color=#352a87 d="M3447 1642l14-3-11-4-14 4z"/>
<path color=#352a87 d="M3362 1644l13-3-11-3-13 3z"/>
<path color=#352a87 d="M3557 1640l13-3-11-4-13 4z"/>
<path color=#352d8c d="M3838 1632l13-7-11-7-13 8z"/>
<path color=#3637a1 d="M3191 1623l13 10-11 0-13-7z"/>
<path color=#352a87 d="M3472 1642l13-3-11-3-13 3z"/>
<path color=#352a87 d="M3386 1645l13-3-11-4-13 3z"/>
<path color=#352a87 d="M3581 1640l14-3-11-3-14 3z"/>
<path color=#362e8e d="M3862 1632l13-8-10-8-14 9z"/>
<path color=#363297 d="M3215 1632l13 6-11-1-13-4z"/>
<path color=#352a87 d="M3496 1643l13-3-11-4-13 3z"/>
<path color=#076fdf d="M3129 1560l13 37-11 11-13-29z"/>
<path color=#352a87 d="M3410 1645l13-3-11-4-13 4z"/>
<path color=#352a87 d="M3605 1640l14-3-11-3-13 3z"/>
<path color=#362f90 d="M3886 1631l14-8-11-10-14 11z"/>
<path color=#362f90 d="M3239 1638l13 3-11-2-13-1z"/>
<path color=#352a87 d="M3520 1643l13-3-11-4-13 4z"/>
<path color=#0d5dde d="M3153 1584l13 28-10 6-14-21z"/>
<path color=#352a87 d="M3434 1645l13-3-11-3-13 3z"/>
<path color=#352a87 d="M3544 1643l13-3-11-3-13 3z"/>
<path color=#2d49c3 d="M3177 1604l14 19-11 3-14-14z"/>
<path color=#352a87 d="M3458 1646l14-4-11-3-14 3z"/>
<path color=#352a87 d="M3373 1648l13-3-11-4-13 3z"/>
<path color=#352a87 d="M3568 1643l13-3-11-3-13 3z"/>
<path color=#352b89 d="M3849 1636l13-4-11-7-13 7z"/>
<path color=#353dad d="M3202 1619l13 13-11 1-13-10z"/>
<path color=#352a87 d="M3482 1646l14-3-11-4-13 3z"/>
<path color=#352a87 d="M3397 1648l13-3-11-3-13 3z"/>
<path color=#352a87 d="M3592 1644l13-4-10-3-14 3z"/>
<path color=#352c8a d="M3873 1636l13-5-11-7-13 8z"/>
<path color=#36359d d="M3226 1631l13 7-11 0-13-6z"/>
<path color=#352a87 d="M3507 1646l13-3-11-3-13 3z"/>
<path color=#1480d6 d="M3140 1539l13 45-11 13-13-37z"/>
<path color=#352a87 d="M3421 1649l13-4-11-3-13 3z"/>
<path color=#352b87 d="M3616 1643l14-2-11-4-14 3z"/>
<path color=#363194 d="M3250 1639l13 4-11-2-13-3z"/>
<path color=#352a87 d="M3531 1647l13-4-11-3-13 3z"/>
<path color=#046de0 d="M3164 1571l13 33-11 8-13-28z"/>
<path color=#352a87 d="M3445 1649l13-3-11-4-13 3z"/>
<path color=#352a87 d="M3555 1647l13-4-11-3-13 3z"/>
<path color=#1857d8 d="M3188 1596l14 23-11 4-14-19z"/>
<path color=#352a87 d="M3469 1649l13-3-10-4-14 4z"/>
<path color=#352a87 d="M3384 1652l13-4-11-3-13 3z"/>
<path color=#352a87 d="M3579 1647l13-3-11-4-13 3z"/>
<path color=#352b89 d="M3860 1636l13 0-11-4-13 4z"/>
<path color=#3244ba d="M3212 1615l14 16-11 1-13-13z"/>
<path color=#352a87 d="M3493 1650l14-4-11-3-14 3z"/>
<path color=#352a87 d="M3408 1652l13-3-11-4-13 3z"/>
<path color=#352b87 d="M3603 1647l13-4-11-3-13 4z"/>
<path color=#3639a5 d="M3237 1630l13 9-11-1-13-7z"/>
<path color=#352a87 d="M3518 1650l13-3-11-4-13 3z"/>
<path color=#352c8a d="M3798 1636l14 1-11-1-13 2z"/>
<path color=#0a97d1 d="M3151 1517l13 54-11 13-13-45z"/>
<path color=#352a87 d="M3432 1652l13-3-11-4-13 4z"/>
<path color=#363297 d="M3261 1640l13 5-11-2-13-4z"/>
<path color=#352a87 d="M3542 1650l13-3-11-4-13 4z"/>
<path color=#352c8b d="M3823 1635l13 2-11-1-13 1z"/>
<path color=#1079da d="M3175 1557l13 39-11 8-13-33z"/>
<path color=#352a87 d="M3456 1653l13-4-11-3-13 3z"/>
<path color=#352a87 d="M3370 1655l14-3-11-4-13 3z"/>
<path color=#362e8f d="M3285 1647l13 2-11-3-13-1z"/>
<path color=#352a87 d="M3566 1650l13-3-11-4-13 4z"/>
<path color=#352d8c d="M3847 1632l13 4-11 0-13 1z"/>
<path color=#0364e1 d="M3199 1588l13 27-10 4-14-23z"/>
<path color=#352a87 d="M3480 1653l13-3-11-4-13 3z"/>
<path color=#352d8c d="M3761 1636l13 2-11 0-13 1z"/>
<path color=#352a87 d="M3395 1655l13-3-11-4-13 4z"/>
<path color=#352b87 d="M3590 1650l13-3-11-3-13 3z"/>
<path color=#2b4bc7 d="M3223 1612l14 18-11 1-14-16z"/>
<path color=#352a87 d="M3504 1653l14-3-11-4-14 4z"/>
<path color=#362e8f d="M3785 1633l13 3-10 2-14 0z"/>
<path color=#352a87 d="M3419 1656l13-4-11-3-13 3z"/>
<path color=#352b88 d="M3614 1649l13-3-11-3-13 4z"/>
<path color=#353cac d="M3248 1629l13 11-11-1-13-9z"/>
<path color=#352a87 d="M3528 1653l14-3-11-3-13 3z"/>
<path color=#363092 d="M3809 1629l14 6-11 2-14-1z"/>
<path color=#07a9c2 d="M3162 1495l13 62-11 14-13-54z"/>
<path color=#352a87 d="M3443 1656l13-3-11-4-13 3z"/>
<path color=#362e8e d="M3724 1638l13 1-11 1-13 1z"/>
<path color=#36349a d="M3272 1642l13 5-11-2-13-5z"/>
<path color=#352a87 d="M3553 1653l13-3-11-3-13 3z"/>
<path color=#363296 d="M3834 1624l13 8-11 5-13-2z"/>
<path color=#1486d4 d="M3186 1544l13 44-11 8-13-39z"/>
<path color=#352a87 d="M3467 1656l13-3-11-4-13 4z"/>
<path color=#363092 d="M3748 1634l13 2-11 3-13 0z"/>
<path color=#352a87 d="M3381 1658l14-3-11-3-14 3z"/>
<path color=#352b87 d="M3577 1653l13-3-11-3-13 3z"/>
<path color=#056ee0 d="M3210 1581l13 31-11 3-13-27z"/>
<path color=#352a87 d="M3491 1656l13-3-11-3-13 3z"/>
<path color=#363398 d="M3772 1629l13 4-11 5-13-2z"/>
<path color=#352a87 d="M3405 1659l14-3-11-4-13 3z"/>
<path color=#362e8e d="M3686 1642l14-1-11 1-13 2z"/>
<path color=#352b88 d="M3601 1652l13-3-11-2-13 3z"/>
<path color=#1f53d4 d="M3234 1609l14 20-11 1-14-18z"/>
<path color=#352a87 d="M3515 1657l13-4-10-3-14 3z"/>
<path color=#36369f d="M3796 1622l13 7-11 7-13-3z"/>
<path color=#352a87 d="M3430 1659l13-3-11-4-13 4z"/>
<path color=#363093 d="M3711 1638l13 0-11 3-13 0z"/>
<path color=#3440b2 d="M3258 1629l14 13-11-2-13-11z"/>
<path color=#352a87 d="M3539 1657l14-4-11-3-14 3z"/>
<path color=#353ba9 d="M3820 1614l14 10-11 11-14-6z"/>
<path color=#28b6a8 d="M3173 1474l13 70-11 13-13-62z"/>
<path color=#352a87 d="M3454 1659l13-3-11-3-13 3z"/>
<path color=#36349a d="M3735 1632l13 2-11 5-13-1z"/>
<path color=#36359d d="M3283 1644l13 6-11-3-13-5z"/>
<path color=#352b87 d="M3564 1656l13-3-11-3-13 3z"/>
<path color=#0b96d1 d="M3197 1531l13 50-11 7-13-44z"/>
<path color=#352a87 d="M3478 1660l13-4-11-3-13 3z"/>
<path color=#3639a4 d="M3759 1623l13 6-11 7-13-2z"/>
<path color=#352a87 d="M3392 1662l13-3-10-4-14 3z"/>
<path color=#362f91 d="M3673 1643l13-1-10 2-14 1z"/>
<path color=#352b88 d="M3588 1655l13-3-11-2-13 3z"/>
<path color=#0d75dc d="M3221 1575l13 34-11 3-13-31z"/>
<path color=#352a87 d="M3502 1660l13-3-11-4-13 3z"/>
<path color=#3440b2 d="M3783 1613l13 9-11 11-13-4z"/>
<path color=#352a87 d="M3416 1662l14-3-11-3-14 3z"/>
<path color=#363398 d="M3697 1637l14 1-11 3-14 1z"/>
<path color=#352c8a d="M3612 1653l13-3-11-1-13 3z"/>
<path color=#0f5cdd d="M3245 1607l13 22-10 0-14-20z"/>
<path color=#352a87 d="M3526 1660l13-3-11-4-13 4z"/>
<path color=#2c49c5 d="M3807 1600l13 14-11 15-13-7z"/>
<path color=#352a87 d="M3441 1663l13-4-11-3-13 3z"/>
<path color=#3638a3 d="M3722 1629l13 3-11 6-13 0z"/>
<path color=#3342b7 d="M3269 1630l14 14-11-2-14-13z"/>
<path color=#352b87 d="M3550 1660l14-4-11-3-14 4z"/>
<path color=#61be88 d="M3184 1454l13 77-11 13-13-70z"/>
<path color=#352a87 d="M3465 1663l13-3-11-4-13 3z"/>
<path color=#3440b3 d="M3746 1618l13 5-11 11-13-2z"/>
<path color=#352b87 d="M3379 1665l13-3-11-4-13 3z"/>
<path color=#363194 d="M3660 1645l13-2-11 2-13 3z"/>
<path color=#36369f d="M3293 1646l14 7-11-3-13-6z"/>
<path color=#352b88 d="M3574 1659l14-4-11-2-13 3z"/>
<path color=#06a2cb d="M3208 1520l13 55-11 6-13-50z"/>
<path color=#352a87 d="M3489 1663l13-3-11-4-13 4z"/>
<path color=#294cc9 d="M3770 1604l13 9-11 16-13-6z"/>
<path color=#352a87 d="M3403 1666l13-4-11-3-13 3z"/>
<path color=#36359d d="M3684 1638l13-1-11 5-13 1z"/>
<path color=#363092 d="M3318 1657l13 2-11-3-13-3z"/>
<path color=#352c8a d="M3599 1657l13-4-11-1-13 3z"/>
<path color=#117bd9 d="M3232 1570l13 37-11 2-13-34z"/>
<path color=#352a87 d="M3513 1663l13-3-11-3-13 3z"/>
<path color=#0960df d="M3794 1586l13 14-11 22-13-9z"/>
<path color=#352a87 d="M3427 1666l14-3-11-4-14 3z"/>
<path color=#353dac d="M3708 1627l14 2-11 9-14-1z"/>
<path color=#0661e0 d="M3256 1607l13 23-11-1-13-22z"/>
<path color=#352b87 d="M3537 1663l13-3-11-3-13 3z"/>
<path color=#352a87 d="M3451 1666l14-3-11-4-13 4z"/>
<path color=#2d48c3 d="M3732 1613l14 5-11 14-13-3z"/>
<path color=#363195 d="M3647 1648l13-3-11 3-13 2z"/>
<path color=#3144bb d="M3280 1632l13 14-10-2-14-14z"/>
<path color=#352b88 d="M3561 1663l13-4-10-3-14 4z"/>
<path color=#99bf70 d="M3195 1437l13 83-11 11-13-77z"/>
<path color=#352a87 d="M3476 1666l13-3-11-3-13 3z"/>
<path color=#0d5dde d="M3757 1595l13 9-11 19-13-5z"/>
<path color=#352b87 d="M3390 1668l13-2-11-4-13 3z"/>
<path color=#3637a1 d="M3671 1639l13-1-11 5-13 2z"/>
<path color=#3636a0 d="M3304 1650l14 7-11-4-14-7z"/>
<path color=#352c8a d="M3585 1661l14-4-11-2-14 4z"/>
<path color=#08aac1 d="M3219 1512l13 58-11 5-13-55z"/>
<path color=#352a87 d="M3500 1667l13-4-11-3-13 3z"/>
<path color=#076fdf d="M3781 1572l13 14-11 27-13-9z"/>
<path color=#352a87 d="M3414 1669l13-3-11-4-13 4z"/>
<path color=#3341b5 d="M3695 1627l13 0-11 10-13 1z"/>
<path color=#1480d6 d="M3243 1568l13 39-11 0-13-37z"/>
<path color=#352a87 d="M3524 1667l13-4-11-3-13 3z"/>
<path color=#352a87 d="M3438 1669l13-3-10-3-14 3z"/>
<path color=#2152d2 d="M3719 1610l13 3-10 16-14-2z"/>
<path color=#363296 d="M3634 1651l13-3-11 2-13 3z"/>
<path color=#0364e1 d="M3267 1608l13 24-11-2-13-23z"/>
<path color=#352b88 d="M3548 1666l13-3-11-3-13 3z"/>
<path color=#352a87 d="M3462 1670l14-4-11-3-14 3z"/>
<path color=#0269e1 d="M3743 1588l14 7-11 23-14-5z"/>
<path color=#352b88 d="M3377 1671l13-3-11-3-13 2z"/>
<path color=#3638a4 d="M3658 1642l13-3-11 6-13 3z"/>
<path color=#3045bd d="M3291 1636l13 14-11-4-13-14z"/>
<path color=#352c89 d="M3572 1665l13-4-11-2-13 4z"/>
<path color=#c3bc5f d="M3206 1422l13 90-11 8-13-83z"/>
<path color=#352a87 d="M3487 1670l13-3-11-4-13 3z"/>
<path color=#127cd9 d="M3767 1559l14 13-11 32-13-9z"/>
<path color=#352a87 d="M3401 1672l13-3-11-3-13 2z"/>
<path color=#3144bb d="M3682 1628l13-1-11 11-13 1z"/>
<path color=#36369f d="M3315 1654l14 7-11-4-14-7z"/>
<path color=#362d8d d="M3596 1661l13-4-10 0-14 4z"/>
<path color=#13b0b6 d="M3230 1506l13 62-11 2-13-58z"/>
<path color=#352a87 d="M3511 1670l13-3-11-4-13 4z"/>
<path color=#352a87 d="M3425 1673l13-4-11-3-13 3z"/>
<path color=#125adc d="M3706 1608l13 2-11 17-13 0z"/>
<path color=#1484d4 d="M3254 1567l13 41-11-1-13-39z"/>
<path color=#352b87 d="M3535 1670l13-4-11-3-13 4z"/>
<path color=#352a87 d="M3449 1673l13-3-11-4-13 3z"/>
<path color=#0871de d="M3730 1582l13 6-11 25-13-3z"/>
<path color=#3639a4 d="M3645 1645l13-3-11 6-13 3z"/>
<path color=#0266e1 d="M3278 1610l13 26-11-4-13-24z"/>
<path color=#352b89 d="M3559 1669l13-4-11-2-13 3z"/>
<path color=#352a87 d="M3473 1673l14-3-11-4-14 4z"/>
<path color=#1388d3 d="M3754 1548l13 11-10 36-14-7z"/>
<path color=#352b88 d="M3388 1675l13-3-11-4-13 3z"/>
<path color=#3046be d="M3669 1630l13-2-11 11-13 3z"/>
<path color=#3145bc d="M3302 1640l13 14-11-4-13-14z"/>
<path color=#352d8c d="M3583 1666l13-5-11 0-13 4z"/>
<path color=#e2b951 d="M3216 1412l14 94-11 6-13-90z"/>
<path color=#352a87 d="M3497 1674l14-4-11-3-13 3z"/>
<path color=#352a87 d="M3412 1676l13-3-11-4-13 3z"/>
<path color=#095fdf d="M3693 1609l13-1-11 19-13 1z"/>
<path color=#36359e d="M3326 1659l13 6-10-4-14-7z"/>
<path color=#20b4ad d="M3241 1502l13 65-11 1-13-62z"/>
<path color=#352a87 d="M3522 1674l13-4-11-3-13 3z"/>
<path color=#352a87 d="M3436 1676l13-3-11-4-13 4z"/>
<path color=#0e76dc d="M3717 1579l13 3-11 28-13-2z"/>
<path color=#3638a3 d="M3631 1650l14-5-11 6-14 4z"/>
<path color=#1487d3 d="M3265 1568l13 42-11-2-13-41z"/>
<path color=#352b88 d="M3546 1673l13-4-11-3-13 4z"/>
<path color=#352a87 d="M3460 1677l13-4-11-3-13 3z"/>
<path color=#0b95d2 d="M3741 1540l13 8-11 40-13-6z"/>
<path color=#3046be d="M3655 1634l14-4-11 12-13 3z"/>
<path color=#0266e1 d="M3289 1614l13 26-11-4-13-26z"/>
<path color=#352c8b d="M3570 1670l13-4-11-1-13 4z"/>
<path color=#352a87 d="M3484 1677l13-3-10-4-14 3z"/>
<path color=#352b87 d="M3399 1679l13-3-11-4-13 3z"/>
<path color=#0562e0 d="M3680 1612l13-3-11 19-13 2z"/>
<path color=#3244ba d="M3313 1645l13 14-11-5-13-14z"/>
<path color=#363091 d="M3594 1665l13-5-11 1-13 5z"/>
<path color=#f9bb43 d="M3227 1405l14 97-11 4-14-94z"/>
<path color=#352a87 d="M3508 1677l14-3-11-4-14 4z"/>
<path color=#352a87 d="M3423 1679l13-3-11-3-13 3z"/>
<path color=#117ad9 d="M3704 1579l13 0-11 29-13 1z"/>
<path color=#36349b d="M3337 1664l13 6-11-5-13-6z"/>
<path color=#3636a0 d="M3618 1656l13-6-11 5-13 5z"/>
<path color=#29b6a7 d="M3252 1502l13 66-11-1-13-65z"/>
<path color=#352b87 d="M3532 1677l14-4-11-3-13 4z"/>
<path color=#352a87 d="M3447 1680l13-3-11-4-13 3z"/>
<path color=#079ecf d="M3728 1536l13 4-11 42-13-3z"/>
<path color=#3144bb d="M3642 1640l13-6-10 11-14 5z"/>
<path color=#1487d3 d="M3276 1572l13 42-11-4-13-42z"/>
<path color=#352c89 d="M3557 1675l13-5-11-1-13 4z"/>
<path color=#352a87 d="M3471 1680l13-3-11-4-13 4z"/>
<path color=#352b89 d="M3385 1680l14-1-11-4-14 1z"/>
<path color=#0661e0 d="M3666 1617l14-5-11 18-14 4z"/>
<path color=#0365e1 d="M3300 1620l13 25-11-5-13-26z"/>
<path color=#362e8f d="M3581 1671l13-6-11 1-13 4z"/>
<path color=#352a87 d="M3495 1680l13-3-11-3-13 3z"/>
<path color=#352b87 d="M3410 1682l13-3-11-3-13 3z"/>
<path color=#127bd9 d="M3690 1583l14-4-11 30-13 3z"/>
<path color=#3342b6 d="M3324 1651l13 13-11-5-13-14z"/>
<path color=#ffc337 d="M3238 1402l14 100-11 0-14-97z"/>
<path color=#352b87 d="M3519 1680l13-3-10-3-14 3z"/>
<path color=#352a87 d="M3434 1683l13-3-11-4-13 3z"/>
<path color=#06a2cb d="M3715 1536l13 0-11 43-13 0z"/>
<path color=#3341b6 d="M3629 1647l13-7-11 10-13 6z"/>
<path color=#2cb7a5 d="M3262 1506l14 66-11-4-13-66z"/>
<path color=#352b88 d="M3543 1679l14-4-11-2-14 4z"/>
<path color=#352a87 d="M3458 1683l13-3-11-3-13 3z"/>
<path color=#0b5edf d="M3653 1624l13-7-11 17-13 6z"/>
<path color=#1486d4 d="M3287 1578l13 42-11-6-13-42z"/>
<path color=#352d8c d="M3568 1676l13-5-11-1-13 5z"/>
<path color=#352a87 d="M3482 1684l13-4-11-3-13 3z"/>
<path color=#352b88 d="M3396 1684l14-2-11-3-14 1z"/>
<path color=#117ad9 d="M3677 1589l13-6-10 29-14 5z"/>
<path color=#0562e0 d="M3311 1627l13 24-11-6-13-25z"/>
<path color=#363297 d="M3592 1669l13-7-11 3-13 6z"/>
<path color=#352a87 d="M3506 1684l13-4-11-3-13 3z"/>
<path color=#352a87 d="M3420 1686l14-3-11-4-13 3z"/>
<path color=#06a4ca d="M3701 1540l14-4-11 43-14 4z"/>
<path color=#343fb1 d="M3335 1658l13 12-11-6-13-13z"/>
<path color=#353eae d="M3616 1655l13-8-11 9-13 6z"/>
<path color=#fec833 d="M3249 1405l13 101-10-4-14-100z"/>
<path color=#352b88 d="M3530 1683l13-4-11-2-13 3z"/>
<path color=#352a87 d="M3445 1687l13-4-11-3-13 3z"/>
<path color=#1658da d="M3640 1632l13-8-11 16-13 7z"/>
<path color=#28b6a7 d="M3273 1512l14 66-11-6-14-66z"/>
<path color=#352c8a d="M3554 1681l14-5-11-1-14 4z"/>
<path color=#352a87 d="M3469 1687l13-3-11-4-13 3z"/>
<path color=#0f77db d="M3664 1598l13-9-11 28-13 7z"/>
<path color=#1483d5 d="M3298 1587l13 40-11-7-13-42z"/>
<path color=#363092 d="M3578 1675l14-6-11 2-13 5z"/>
<path color=#352a87 d="M3493 1687l13-3-11-4-13 4z"/>
<path color=#352b87 d="M3407 1689l13-3-10-4-14 2z"/>
<path color=#06a2cc d="M3688 1548l13-8-11 43-13 6z"/>
<path color=#0e5dde d="M3322 1636l13 22-11-7-13-24z"/>
<path color=#352b87 d="M3517 1687l13-4-11-3-13 4z"/>
<path color=#352a87 d="M3431 1690l14-3-11-4-14 3z"/>
<path color=#353caa d="M3346 1665l13 11-11-6-13-12z"/>
<path color=#2450cf d="M3627 1643l13-11-11 15-13 8z"/>
<path color=#fec635 d="M3260 1411l13 101-11-6-13-101z"/>
<path color=#352b89 d="M3541 1686l13-5-11-2-13 4z"/>
<path color=#352a87 d="M3456 1690l13-3-11-4-13 4z"/>
<path color=#0a72de d="M3651 1609l13-11-11 26-13 8z"/>
<path color=#1fb4ad d="M3284 1522l14 65-11-9-14-66z"/>
<path color=#362e8e d="M3565 1682l13-7-10 1-14 5z"/>
<path color=#352a87 d="M3480 1690l13-3-11-3-13 3z"/>
<path color=#352c89 d="M3394 1690l13-1-11-5-13 1z"/>
<path color=#079dcf d="M3675 1560l13-12-11 41-13 9z"/>
<path color=#137ed7 d="M3308 1597l14 39-11-9-13-40z"/>
<path color=#36359d d="M3589 1672l14-9-11 6-14 6z"/>
<path color=#352a87 d="M3504 1691l13-4-11-3-13 3z"/>
<path color=#352b87 d="M3418 1693l13-3-11-4-13 3z"/>
<path color=#1b55d6 d="M3333 1645l13 20-11-7-13-22z"/>
<path color=#2f47c0 d="M3614 1653l13-10-11 12-13 8z"/>
<path color=#352b88 d="M3528 1690l13-4-11-3-13 4z"/>
<path color=#352a87 d="M3442 1693l14-3-11-3-14 3z"/>
<path color=#3638a4 d="M3357 1673l13 9-11-6-13-11z"/>
<path color=#046ce0 d="M3638 1623l13-14-11 23-13 11z"/>
<path color=#fdbe3d d="M3271 1423l13 99-11-10-13-101z"/>
<path color=#352c8b d="M3552 1687l13-5-11-1-13 5z"/>
<path color=#352a87 d="M3466 1694l14-4-11-3-13 3z"/>
<path color=#0c93d2 d="M3662 1575l13-15-11 38-13 11z"/>
<path color=#13b0b6 d="M3295 1535l13 62-10-10-14-65z"/>
<path color=#363296 d="M3576 1680l13-8-11 3-13 7z"/>
<path color=#352a87 d="M3491 1694l13-3-11-4-13 3z"/>
<path color=#352b88 d="M3405 1695l13-2-11-4-13 1z"/>
<path color=#1079da d="M3319 1609l14 36-11-9-14-39z"/>
<path color=#343fb2 d="M3600 1664l14-11-11 10-14 9z"/>
<path color=#352b87 d="M3515 1694l13-4-11-3-13 4z"/>
<path color=#352a87 d="M3429 1697l13-4-11-3-13 3z"/>
<path color=#284dcb d="M3344 1655l13 18-11-8-13-20z"/>
<path color=#0363e1 d="M3624 1637l14-14-11 20-13 10z"/>
<path color=#352b89 d="M3539 1693l13-6-11-1-13 4z"/>
<path color=#352a87 d="M3453 1697l13-3-10-4-14 3z"/>
<path color=#1487d3 d="M3649 1592l13-17-11 34-13 14z"/>
<path color=#edb94c d="M3282 1438l13 97-11-13-13-99z"/>
<path color=#362f90 d="M3563 1687l13-7-11 2-13 5z"/>
<path color=#352a87 d="M3477 1697l14-3-11-4-14 4z"/>
<path color=#352d8c d="M3392 1694l13 1-11-5-13-2z"/>
<path color=#08aac1 d="M3306 1550l13 59-11-12-13-62z"/>
<path color=#3639a5 d="M3587 1675l13-11-11 8-13 8z"/>
<path color=#352a87 d="M3502 1697l13-3-11-3-13 3z"/>
<path color=#352b88 d="M3416 1699l13-2-11-4-13 2z"/>
<path color=#0a72de d="M3330 1622l14 33-11-10-14-36z"/>
<path color=#1d54d5 d="M3611 1651l13-14-10 16-14 11z"/>
<path color=#352b88 d="M3526 1697l13-4-11-3-13 4z"/>
<path color=#352a87 d="M3440 1700l13-3-11-4-13 4z"/>
<path color=#3046be d="M3354 1665l14 16-11-8-13-18z"/>
<path color=#127bd9 d="M3635 1611l14-19-11 31-14 14z"/>
<path color=#352d8c d="M3550 1694l13-7-11 0-13 6z"/>
<path color=#352a87 d="M3464 1700l13-3-11-3-13 3z"/>
<path color=#d1bb59 d="M3293 1457l13 93-11-15-13-97z"/>
<path color=#36349a d="M3574 1685l13-10-11 5-13 7z"/>
<path color=#352a87 d="M3488 1701l14-4-11-3-14 3z"/>
<path color=#352c8a d="M3403 1700l13-1-11-4-13-1z"/>
<path color=#06a2cb d="M3317 1567l13 55-11-13-13-59z"/>
<path color=#2f47bf d="M3598 1665l13-14-11 13-13 11z"/>
<path color=#352b87 d="M3512 1701l14-4-11-3-13 3z"/>
<path color=#352b87 d="M3427 1703l13-3-11-3-13 2z"/>
<path color=#036be1 d="M3341 1636l13 29-10-10-14-33z"/>
<path color=#0770df d="M3622 1630l13-19-11 26-13 14z"/>
<path color=#352b89 d="M3537 1699l13-5-11-1-13 4z"/>
<path color=#352a87 d="M3451 1704l13-4-11-3-13 3z"/>
<path color=#343fb1 d="M3365 1676l14 13-11-8-14-16z"/>
<path color=#363092 d="M3561 1693l13-8-11 2-13 7z"/>
<path color=#352a87 d="M3475 1704l13-3-11-4-13 3z"/>
<path color=#adbe68 d="M3304 1479l13 88-11-17-13-93z"/>
<path color=#353dac d="M3585 1679l13-14-11 10-13 10z"/>
<path color=#352a87 d="M3499 1704l13-3-10-4-14 4z"/>
<path color=#352b89 d="M3414 1705l13-2-11-4-13 1z"/>
<path color=#0a97d1 d="M3328 1586l13 50-11-14-13-55z"/>
<path color=#0363e1 d="M3609 1649l13-19-11 21-13 14z"/>
<path color=#352b88 d="M3523 1704l14-5-11-2-14 4z"/>
<path color=#352a87 d="M3438 1707l13-3-11-4-13 3z"/>
<path color=#0661e0 d="M3352 1651l13 25-11-11-13-29z"/>
<path color=#352d8c d="M3547 1701l14-8-11 1-13 5z"/>
<path color=#352a87 d="M3462 1707l13-3-11-4-13 4z"/>
<path color=#36359d d="M3572 1690l13-11-11 6-13 8z"/>
<path color=#352a87 d="M3486 1707l13-3-11-3-13 3z"/>
<path color=#362e8e d="M3400 1703l14 2-11-5-14-4z"/>
<path color=#7ebf7b d="M3315 1504l13 82-11-19-13-88z"/>
<path color=#254fcd d="M3596 1667l13-18-11 16-13 14z"/>
<path color=#352b87 d="M3510 1708l13-4-11-3-13 3z"/>
<path color=#352b88 d="M3425 1709l13-2-11-4-13 2z"/>
<path color=#1487d3 d="M3339 1605l13 46-11-15-13-50z"/>
<path color=#352b89 d="M3534 1706l13-5-10-2-14 5z"/>
<path color=#352a87 d="M3449 1711l13-4-11-3-13 3z"/>
<path color=#1f53d4 d="M3363 1665l13 21-11-10-13-25z"/>
<path color=#363093 d="M3558 1700l14-10-11 3-14 8z"/>
<path color=#352a87 d="M3473 1711l13-4-11-3-13 3z"/>
<path color=#3340b3 d="M3583 1682l13-15-11 12-13 11z"/>
<path color=#352a87 d="M3497 1711l13-3-11-4-13 3z"/>
<path color=#352c8b d="M3411 1710l14-1-11-4-14-2z"/>
<path color=#43bb97 d="M3326 1531l13 74-11-19-13-82z"/>
<path color=#352b88 d="M3521 1711l13-5-11-2-13 4z"/>
<path color=#352b87 d="M3435 1714l14-3-11-4-13 2z"/>
<path color=#117bd9 d="M3350 1625l13 40-11-14-13-46z"/>
<path color=#352d8c d="M3545 1707l13-7-11 1-13 5z"/>
<path color=#352a87 d="M3460 1714l13-3-11-4-13 4z"/>
<path color=#2f47c0 d="M3374 1679l13 17-11-10-13-21z"/>
<path color=#3637a0 d="M3569 1696l14-14-11 8-14 10z"/>
<path color=#352a87 d="M3484 1714l13-3-11-4-13 4z"/>
<path color=#363194 d="M3398 1705l13 5-11-7-13-7z"/>
<path color=#352b87 d="M3508 1714l13-3-11-3-13 3z"/>
<path color=#352b89 d="M3422 1715l13-1-10-5-14 1z"/>
<path color=#15b0b5 d="M3337 1559l13 66-11-20-13-74z"/>
<path color=#352b89 d="M3532 1713l13-6-11-1-13 5z"/>
<path color=#352a87 d="M3446 1717l14-3-11-3-14 3z"/>
<path color=#076fdf d="M3361 1645l13 34-11-14-13-40z"/>
<path color=#363194 d="M3556 1706l13-10-11 4-13 7z"/>
<path color=#352a87 d="M3470 1717l14-3-11-3-13 3z"/>
<path color=#353eaf d="M3385 1692l13 13-11-9-13-17z"/>
<path color=#352b87 d="M3495 1718l13-4-11-3-13 3z"/>
<path color=#362e8f d="M3409 1713l13 2-11-5-13-5z"/>
<path color=#352b88 d="M3519 1718l13-5-11-2-13 3z"/>
<path color=#352b88 d="M3433 1720l13-3-11-3-13 1z"/>
<path color=#06a3cb d="M3348 1586l13 59-11-20-13-66z"/>
<path color=#352d8c d="M3543 1714l13-8-11 1-13 6z"/>
<path color=#352a87 d="M3457 1721l13-4-10-3-14 3z"/>
<path color=#0363e1 d="M3372 1664l13 28-11-13-13-34z"/>
<path color=#352b87 d="M3481 1721l14-3-11-4-14 3z"/>
<path color=#352b87 d="M3506 1721l13-3-11-4-13 4z"/>
<path color=#352c8b d="M3420 1720l13 0-11-5-13-2z"/>
<path color=#352b89 d="M3530 1720l13-6-11-1-13 5z"/>
<path color=#352a87 d="M3444 1724l13-3-11-4-13 3z"/>
<path color=#108ed2 d="M3358 1614l14 50-11-19-13-59z"/>
<path color=#352a87 d="M3468 1724l13-3-11-4-13 4z"/>
<path color=#2450d0 d="M3383 1682l13 22-11-12-13-28z"/>
<path color=#352b87 d="M3492 1724l14-3-11-3-14 3z"/>
<path color=#363296 d="M3407 1714l13 6-11-7-13-9z"/>
<path color=#352b88 d="M3516 1725l14-5-11-2-13 3z"/>
<path color=#352b88 d="M3431 1726l13-2-11-4-13 0z"/>
<path color=#352a87 d="M3455 1728l13-4-11-3-13 3z"/>
<path color=#127bd9 d="M3369 1640l14 42-11-18-14-50z"/>
<path color=#352b87 d="M3479 1728l13-4-11-3-13 3z"/>
<path color=#3342b7 d="M3394 1698l13 16-11-10-13-22z"/>
<path color=#352b87 d="M3503 1728l13-3-10-4-14 3z"/>
<path color=#362e8f d="M3418 1723l13 3-11-6-13-6z"/>
<path color=#352b87 d="M3442 1731l13-3-11-4-13 2z"/>
<path color=#352a87 d="M3466 1731l13-3-11-4-13 4z"/>
<path color=#046ce0 d="M3380 1664l14 34-11-16-14-42z"/>
<path color=#352b87 d="M3490 1731l13-3-11-4-13 4z"/>
<path color=#352c8b d="M3429 1730l13 1-11-5-13-3z"/>
<path color=#352a87 d="M3453 1735l13-4-11-3-13 3z"/>
<path color=#352b87 d="M3477 1734l13-3-11-3-13 3z"/>
<path color=#1359db d="M3391 1686l13 26-10-14-14-34z"/>
<path color=#363297 d="M3415 1724l14 6-11-7-14-11z"/>
<path color=#352b88 d="M3439 1736l14-1-11-4-13-1z"/>
<path color=#352a87 d="M3464 1738l13-4-11-3-13 4z"/>
<path color=#3046be d="M3402 1705l13 19-11-12-13-26z"/>
<path color=#362e8f d="M3426 1734l13 2-10-6-14-6z"/>
<path color=#352b87 d="M3450 1741l14-3-11-3-14 1z"/>
<path color=#363aa6 d="M3413 1722l13 12-11-10-13-19z"/>
<path color=#352c8a d="M3437 1741l13 0-11-5-13-2z"/>
<path color=#363297 d="M3424 1735l13 6-11-7-13-12z"/>
</g>
<text x="347.9" y="116.4" font-size="9.5" text-anchor="middle" fill="#262626">Parameter space</text>
<text x="334.05" y="183.66" font-size="8.3" text-anchor="end" fill="#262626">-4</text>
<text x="325.75" y="180.96" font-size="8.3" text-anchor="end" fill="#262626">-2</text>
<text x="317.45" y="178.26" font-size="8.3" text-anchor="end" fill="#262626">0</text>
<text x="309.15" y="175.56" font-size="8.3" text-anchor="end" fill="#262626">2</text>
<text x="300.85" y="172.86" font-size="8.3" text-anchor="end" fill="#262626">4</text>
<text x="351.12" y="183.77" font-size="8.3" text-anchor="start" fill="#262626">-4</text>
<text x="361.16" y="181.29" font-size="8.3" text-anchor="start" fill="#262626">-2</text>
<text x="371.2" y="178.81" font-size="8.3" text-anchor="start" fill="#262626">0</text>
<text x="381.24" y="176.33" font-size="8.3" text-anchor="start" fill="#262626">2</text>
<text x="391.28" y="173.85" font-size="8.3" text-anchor="start" fill="#262626">4</text>
<text x="296.3" y="163.62" font-size="8.3" text-anchor="end" fill="#262626">0</text>
<text x="296.3" y="152.7" font-size="8.3" text-anchor="end" fill="#262626">1</text>
<text x="296.3" y="142.52" font-size="8.3" text-anchor="end" fill="#262626">2</text>
<text x="305.8" y="193.57" font-size="9.5" text-anchor="middle" fill="#262626">x</text><text x="308.65" y="197.38" font-size="6.84" text-anchor="start" fill="#262626">2</text>
<text x="377" y="194.88" font-size="9.5" text-anchor="middle" fill="#262626">x</text><text x="379.85" y="198.68" font-size="6.84" text-anchor="start" fill="#262626">1</text>
<text x="285" y="150.16" font-size="9.03" text-anchor="middle" fill="#262626" transform="rotate(-90 285 147)">F18</text>
<text x="280" y="122.5" font-size="8.3" fill="#262626"><tspan font-size="10.38">&#215;</tspan>10<tspan font-size="5.98" dy="-3.74">8</tspan></text>
<path d="M42.8 231.1L42.8 264.2L74.7 277.6L118.1 266.6" stroke="#5a5a5a" stroke-width="0.6" fill="none"/>
<path d="M80.5 265.1l.9 .2-.4 .3-1.6-.2 1.1-.3" stroke="#066fdf" stroke-width="0.6" fill="none"/>
<path d="M79.9 264.9l2.1 .4-.9 .5-1.6 0-.6-.3 1-.6" stroke="#079ccf" stroke-width="0.6" fill="none"/>
<path d="M80.7 264.8l1.7 .4-.6 .6-1.7 .2-1.6-.4 .6-.6 1.6-.2" stroke="#33b8a1" stroke-width="0.6" fill="none"/>
<path d="M79.9 264.6l2.1 .1 1 .6-1.2 .8-2.9 0-.9-.4 0-.5 1.9-.6" stroke="#a5be6b" stroke-width="0.6" fill="none"/>
<path d="M80.9 264.4l2.6 .5 .2 .6-.7 .5-3.1 .4-1.6-.2-1.1-.6 .7-.8 3-.4" stroke="#fbbc41" stroke-width="0.6" fill="none"/>
<g fill="currentColor" stroke="currentColor" stroke-width="6.0" transform="scale(.1)">
<path color=#f9fb0e d="M817 2297l10-2-8-4-10 3z"/>
<path color=#f9fb0e d="M807 2300l10-3-8-3-10 3z"/>
<path color=#f9fb0e d="M824 2301l11-3-8-3-10 2z"/>
<path color=#f9fb0e d="M798 2302l9-2-8-3-9 2z"/>
<path color=#f9fa0e d="M814 2303l10-2-7-4-10 3z"/>
<path color=#f9fb0e d="M831 2303l10-2-6-3-11 3z"/>
<path color=#f9fa0e d="M790 2305l8-3-8-3-8 2z"/>
<path color=#f9fa0e d="M805 2307l9-4-7-3-9 2z"/>
<path color=#f9fa0e d="M783 2307l7-2-8-4-7 2z"/>
<path color=#f9fa0e d="M821 2308l10-5-7-2-10 2z"/>
<path color=#f9fa0e d="M836 2306l11-3-6-2-10 2z"/>
<path color=#f8f810 d="M797 2312l8-5-7-5-8 3z"/>
<path color=#f9fa0e d="M777 2309l6-2-8-4-6 1z"/>
<path color=#f7f611 d="M812 2316l9-8-7-5-9 4z"/>
<path color=#f9fa0e d="M841 2309l11-4-5-2-11 3z"/>
<path color=#f9fa0e d="M773 2310l4-1-8-5-4 1z"/>
<path color=#f8f810 d="M826 2313l10-7-5-3-10 5z"/>
<path color=#f7f512 d="M790 2317l7-5-7-7-7 2z"/>
<path color=#f9fa0f d="M771 2310l2 0-8-5-2 1z"/>
<path color=#f9fa0f d="M769 2311l2-1-8-4-2 0z"/>
<path color=#f5ed17 d="M804 2331l8-15-7-9-8 5z"/>
<path color=#f9fa0e d="M846 2311l10-4-4-2-11 4z"/>
<path color=#f9fa0e d="M765 2312l4-1-8-5-4 1z"/>
<path color=#f6f213 d="M784 2321l6-4-7-10-6 2z"/>
<path color=#f5ed17 d="M817 2331l9-18-5-5-9 8z"/>
<path color=#f7f512 d="M831 2319l10-10-5-3-10 7z"/>
<path color=#f9fa0e d="M759 2313l6-1-8-5-6 2z"/>
<path color=#f6f114 d="M780 2323l4-2-7-12-4 1z"/>
<path color=#f9fa0e d="M849 2312l10-4-3-1-10 4z"/>
<path color=#f5e21e d="M797 2348l7-17-7-19-7 5z"/>
<path color=#f6f115 d="M778 2324l2-1-7-13-2 0z"/>
<path color=#f9fa0f d="M850 2313l11-4-2-1-10 4z"/>
<path color=#f6f213 d="M836 2323l10-12-5-2-10 10z"/>
<path color=#f7d925 d="M809 2366l8-35-5-15-8 15z"/>
<path color=#f6f115 d="M776 2324l2 0-7-14-2 1z"/>
<path color=#f9fa0e d="M752 2314l7-1-8-4-7 1z"/>
<path color=#f5e21e d="M822 2349l9-30-5-6-9 18z"/>
<path color=#f9fa0f d="M852 2313l10-4-1 0-11 4z"/>
<path color=#f7d925 d="M791 2360l6-12-7-31-6 4z"/>
<path color=#f6f114 d="M772 2324l4 0-7-13-4 1z"/>
<path color=#f6f114 d="M839 2325l10-13-3-1-10 12z"/>
<path color=#f9fa0e d="M855 2315l10-4-3-2-10 4z"/>
<path color=#fec03b d="M803 2407l6-41-5-35-7 17z"/>
<path color=#f9d429 d="M787 2365l4-5-7-39-4 2z"/>
<path color=#f6f213 d="M767 2323l5 1-7-12-6 1z"/>
<path color=#f9fa0e d="M744 2316l8-2-8-4-8 2z"/>
<path color=#f7d925 d="M827 2361l9-38-5-4-9 30z"/>
<path color=#fec03b d="M814 2407l8-58-5-18-8 35z"/>
<path color=#f6f115 d="M840 2326l10-13-1-1-10 13z"/>
<path color=#fad32a d="M785 2366l2-1-7-42-2 1z"/>
<path color=#fad32a d="M783 2366l2 0-7-42-2 0z"/>
<path color=#f9fa0e d="M859 2316l11-4-5-1-10 4z"/>
<path color=#f7f512 d="M760 2322l7 1-8-10-7 1z"/>
<path color=#f9d429 d="M779 2363l4 3-7-42-4 0z"/>
<path color=#f9d429 d="M830 2367l9-42-3-2-9 38z"/>
<path color=#f9fb0e d="M735 2318l9-2-8-4-9 3z"/>
<path color=#f6f114 d="M845 2327l10-12-3-2-10 13z"/>
<path color=#fad32a d="M831 2368l9-42-1-1-9 42z"/>
<path color=#f7d925 d="M773 2354l6 9-7-39-5-1z"/>
<path color=#f9fa0e d="M864 2318l11-4-5-2-11 4z"/>
<path color=#f8f810 d="M752 2321l8 1-8-8-8 2z"/>
<path color=#f6f213 d="M849 2326l10-10-4-1-10 12z"/>
<path color=#f9fb0e d="M725 2320l10-2-8-3-10 2z"/>
<path color=#f9d429 d="M836 2365l9-38-3-1-9 42z"/>
<path color=#f5e21e d="M766 2340l7 14-6-31-7-1z"/>
<path color=#f9fa0e d="M743 2321l9 0-8-5-9 2z"/>
<path color=#f9fa0e d="M870 2320l10-3-5-3-11 4z"/>
<path color=#f7f512 d="M854 2325l10-7-5-2-10 10z"/>
<path color=#f7d925 d="M840 2356l9-30-4 1-9 38z"/>
<path color=#f5ed17 d="M758 2330l8 10-6-18-8-1z"/>
<path color=#f9fb0e d="M715 2323l10-3-8-3-10 3z"/>
<path color=#f9fa0e d="M733 2324l10-3-8-3-10 2z"/>
<path color=#f5e21e d="M845 2343l9-18-5 1-9 30z"/>
<path color=#f8f810 d="M860 2324l10-4-6-2-10 7z"/>
<path color=#f9fb0e d="M876 2322l11-2-7-3-10 3z"/>
<path color=#f7f611 d="M749 2326l9 4-6-9-9 0z"/>
<path color=#f7d925 d="M764 2345l8 31-6-36-8-10z"/>
<path color=#5cbe8a d="M825 2484l7-69-4 26-7 89z"/>
<path color=#f9fb0e d="M722 2326l11-2-8-4-10 3z"/>
<path color=#f5ed17 d="M851 2333l9-9-6 1-9 18z"/>
<path color=#f9fa0e d="M866 2325l10-3-6-2-10 4z"/>
<path color=#f9fa0e d="M739 2327l10-1-6-5-10 3z"/>
<path color=#f5ed17 d="M755 2331l9 14-6-15-9-4z"/>
<path color=#f9fb0e d="M884 2326l10-3-7-3-11 2z"/>
<path color=#362e8f d="M804 2647l2 3-2 3-2-3z"/>
<path color=#06a2cb d="M819 2533l6-49-4 46-6 64z"/>
<path color=#3341b5 d="M798 2623l4 27-1-4-4-26z"/>
<path color=#fec03b d="M769 2362l8 55-5-41-8-31z"/>
<path color=#5cbe8a d="M781 2446l7 86-4-50-7-65z"/>
<path color=#1481d5 d="M791 2553l6 67-3-27-6-61z"/>
<path color=#3341b5 d="M809 2624l2-4-3 26-2 4z"/>
<path color=#b7bd64 d="M830 2418l7-40-5 37-7 69z"/>
<path color=#3341b5 d="M800 2621l4 26-2 3-4-27z"/>
<path color=#3341b5 d="M807 2621l2 3-3 26-2-3z"/>
<path color=#1481d5 d="M815 2553l4-20-4 61-4 26z"/>
<path color=#0f78db d="M793 2556l5 67-1-3-6-67z"/>
<path color=#1957d8 d="M803 2597l4 24-3 26-4-26z"/>
<path color=#f7f611 d="M857 2329l9-4-6-1-9 9z"/>
<path color=#27b5a8 d="M784 2459l7 94-3-21-7-86z"/>
<path color=#0f78db d="M794 2554l6 67-2 2-5-67z"/>
<path color=#f9fb0e d="M729 2329l10-2-6-3-11 2z"/>
<path color=#0f78db d="M813 2556l2-3-4 67-2 4z"/>
<path color=#5cbe8a d="M824 2448l6-30-5 66-6 49z"/>
<path color=#e0ba52 d="M773 2375l8 71-4-29-8-55z"/>
<path color=#f8f810 d="M745 2329l10 2-6-5-10 1z"/>
<path color=#f9fa0e d="M874 2328l10-2-8-4-10 3z"/>
<path color=#0f78db d="M811 2554l2 2-4 68-2-3z"/>
<path color=#1ab2b1 d="M786 2461l7 95-2-3-7-94z"/>
<path color=#1481d5 d="M797 2536l6 61-3 24-6-67z"/>
<path color=#fec03b d="M836 2364l7-17-6 31-7 40z"/>
<path color=#f9fb0e d="M892 2329l10-3-8-3-10 3z"/>
<path color=#27b5a8 d="M820 2460l4-12-5 85-4 20z"/>
<path color=#1481d5 d="M807 2536l4 18-4 67-4-24z"/>
<path color=#1ab2b1 d="M787 2460l7 94-1 2-7-95z"/>
<path color=#cbbb5c d="M776 2380l8 79-3-13-8-71z"/>
<path color=#f5ed17 d="M849 2334l8-5-6 4-8 14z"/>
<path color=#1ab2b1 d="M818 2462l2-2-5 93-2 3z"/>
<path color=#f7d925 d="M764 2341l9 34-4-13-9-25z"/>
<path color=#27b5a8 d="M790 2450l7 86-3 18-7-94z"/>
<path color=#e0ba52 d="M830 2376l6-12-6 54-6 30z"/>
<path color=#06a2cb d="M801 2490l6 46-4 61-6-61z"/>
<path color=#f7f512 d="M750 2332l10 5-5-6-10-2z"/>
<path color=#1ab2b1 d="M816 2461l2 1-5 94-2-2z"/>
<path color=#c4bc5e d="M778 2381l8 80-2-2-8-79z"/>
<path color=#f9fa0e d="M734 2332l11-3-6-2-10 2z"/>
<path color=#f9fa0e d="M865 2331l9-3-8-3-9 4z"/>
<path color=#27b5a8 d="M812 2451l4 10-5 93-4-18z"/>
<path color=#c4bc5e d="M779 2381l8 79-1 1-8-80z"/>
<path color=#f5e21e d="M842 2339l7-5-6 13-7 17z"/>
<path color=#cbbb5c d="M826 2382l4-6-6 72-4 12z"/>
<path color=#f9d429 d="M767 2343l9 37-3-5-9-34z"/>
<path color=#f9fb0e d="M882 2331l10-2-8-3-10 2z"/>
<path color=#5cbe8a d="M795 2424l6 66-4 46-7-86z"/>
<path color=#cbbb5c d="M782 2378l8 72-3 10-8-79z"/>
<path color=#c4bc5e d="M824 2383l2-1-6 78-2 2z"/>
<path color=#5cbe8a d="M806 2424l6 27-5 85-6-46z"/>
<path color=#f6f213 d="M754 2334l10 7-4-4-10-5z"/>
<path color=#fad32a d="M769 2344l9 37-2-1-9-37z"/>
<path color=#f8f810 d="M857 2333l8-2-8-2-8 5z"/>
<path color=#c4bc5e d="M822 2383l2 0-6 79-2-1z"/>
<path color=#f9fa0e d="M739 2334l11-2-5-3-11 3z"/>
<path color=#f7d925 d="M837 2343l5-4-6 25-6 12z"/>
<path color=#fad32a d="M770 2344l9 37-1 0-9-37z"/>
<path color=#cbbb5c d="M818 2380l4 3-6 78-4-10z"/>
<path color=#e0ba52 d="M787 2369l8 55-5 26-8-72z"/>
<path color=#b7bd64 d="M800 2387l6 37-5 66-6-66z"/>
<path color=#f9fb0e d="M873 2334l9-3-8-3-9 3z"/>
<path color=#f9d429 d="M773 2345l9 33-3 3-9-37z"/>
<path color=#f9d429 d="M833 2345l4-2-7 33-4 6z"/>
<path color=#f7f512 d="M850 2335l7-2-8 1-7 5z"/>
<path color=#e0ba52 d="M812 2370l6 10-6 71-6-27z"/>
<path color=#f9fa0e d="M744 2335l10-1-4-2-11 2z"/>
<path color=#fad32a d="M831 2346l2-1-7 37-2 1z"/>
<path color=#fad32a d="M829 2346l2 0-7 37-2 0z"/>
<path color=#fec03b d="M792 2356l8 31-5 37-8-55z"/>
<path color=#f7d925 d="M778 2344l9 25-5 9-9-33z"/>
<path color=#f9fa0e d="M865 2336l8-2-8-3-8 2z"/>
<path color=#f9d429 d="M825 2346l4 0-7 37-4-3z"/>
<path color=#fec03b d="M805 2357l7 13-6 54-6-37z"/>
<path color=#f9fa0e d="M747 2337l10-2-3-1-10 1z"/>
<path color=#f7d925 d="M819 2345l6 1-7 34-6-10z"/>
<path color=#f9fa0f d="M748 2337l11-1-2-1-10 2z"/>
<path color=#f5e21e d="M783 2343l9 13-5 13-9-25z"/>
<path color=#f9fa0e d="M858 2337l7-1-8-3-7 2z"/>
<path color=#f6f115 d="M838 2338l2 0-7 7-2 1z"/>
<path color=#f7d925 d="M797 2346l8 11-5 30-8-31z"/>
<path color=#f9fa0f d="M750 2338l10-1-1-1-11 1z"/>
<path color=#f6f115 d="M836 2339l2-1-7 8-2 0z"/>
<path color=#f5e21e d="M812 2344l7 1-7 25-7-13z"/>
<path color=#f9fa0e d="M753 2339l10-1-3-1-10 1z"/>
<path color=#f6f114 d="M832 2340l4-1-7 7-4 0z"/>
<path color=#f9fa0e d="M852 2339l6-2-8-2-6 2z"/>
<path color=#f7f512 d="M773 2341l10 2-5 1-10-5z"/>
<path color=#f5ed17 d="M788 2342l9 4-5 10-9-13z"/>
<path color=#f9fa0e d="M848 2340l4-1-8-2-4 1z"/>
<path color=#f9fa0e d="M757 2341l11-2-5-1-10 1z"/>
<path color=#f5ed17 d="M804 2343l8 1-7 13-8-11z"/>
<path color=#f9fa0f d="M846 2340l2 0-8-2-2 0z"/>
<path color=#f9fa0f d="M844 2341l2-1-8-2-2 1z"/>
<path color=#f8f810 d="M778 2343l10-1-5 1-10-2z"/>
<path color=#f9fa0e d="M840 2342l4-1-8-2-4 1z"/>
<path color=#f9fa0e d="M762 2343l11-2-5-2-11 2z"/>
<path color=#f7f611 d="M795 2343l9 0-7 3-9-4z"/>
<path color=#f9fa0e d="M834 2343l6-1-8-2-6 1z"/>
<path color=#f8f810 d="M811 2344l8-2-7 2-8-1z"/>
<path color=#f9fa0e d="M768 2346l10-3-5-2-11 2z"/>
<path color=#f9fa0e d="M785 2346l10-3-7-1-10 1z"/>
<path color=#f9fa0e d="M827 2345l7-2-8-2-7 1z"/>
<path color=#f9fa0e d="M802 2346l9-2-7-1-9 0z"/>
<path color=#f9fa0e d="M819 2347l8-2-8-3-8 2z"/>
<path color=#f9fb0e d="M774 2348l11-2-7-3-10 3z"/>
<path color=#f9fa0e d="M792 2349l10-3-7-3-10 3z"/>
<path color=#f9fb0e d="M810 2349l9-2-8-3-9 2z"/>
<path color=#f9fb0e d="M782 2351l10-2-7-3-11 2z"/>
<path color=#f9fb0e d="M800 2352l10-3-8-3-10 3z"/>
<path color=#f9fb0e d="M790 2355l10-3-8-3-10 2z"/>
</g>
<path d="M74.7 244.5L118.1 233.5L86.2 220.1L42.8 231.1ZM82.8 231.7L82.0 231.5L80.9 231.4L79.7 231.4L78.7 231.6L77.9 231.9L77.5 232.2L77.6 232.6L78.1 232.9L78.9 233.1L80.0 233.2L81.2 233.2L82.2 233.0L83.0 232.7L83.4 232.4L83.3 232.0Z" fill="#f9fb0e" stroke="#f9fb0e" stroke-width="0.5" fill-rule="evenodd"/>
<text x="79.5" y="214.9" font-size="10.4" text-anchor="middle" fill="#262626">Parameter space</text>
<text x="70.5" y="288.09" font-size="9.1" text-anchor="end" fill="#262626">-5</text>
<text x="54.55" y="281.38" font-size="9.1" text-anchor="end" fill="#262626">0</text>
<text x="38.6" y="274.69" font-size="9.1" text-anchor="end" fill="#262626">5</text>
<text x="78.4" y="288.09" font-size="9.1" text-anchor="start" fill="#262626">-5</text>
<text x="100.1" y="282.59" font-size="9.1" text-anchor="start" fill="#262626">0</text>
<text x="121.8" y="277.09" font-size="9.1" text-anchor="start" fill="#262626">5</text>
<text x="38.2" y="238.24" font-size="8.2" text-anchor="end" fill="#262626">-0.02</text>
<text x="38.2" y="244.03" font-size="8.2" text-anchor="end" fill="#262626">-0.04</text>
<text x="38.2" y="249.82" font-size="8.2" text-anchor="end" fill="#262626">-0.06</text>
<text x="38.2" y="255.62" font-size="8.2" text-anchor="end" fill="#262626">-0.08</text>
<text x="38.2" y="261.38" font-size="8.2" text-anchor="end" fill="#262626">-0.1</text>
<text x="38.4" y="297.07" font-size="10.3" text-anchor="middle" fill="#262626">x</text><text x="41.49" y="301.19" font-size="7.416" text-anchor="start" fill="#262626">2</text>
<text x="109.7" y="297.77" font-size="10.3" text-anchor="middle" fill="#262626">x</text><text x="112.79" y="301.89" font-size="7.416" text-anchor="start" fill="#262626">1</text>
<text x="8.8" y="250.02" font-size="9.79" text-anchor="middle" fill="#262626" transform="rotate(-90 8.8 246.6)">F19</text>
<path d="M319 230.6L319 263.9L351.7 278.1L395.1 267.5" stroke="#5a5a5a" stroke-width="0.6" fill="none"/>
<path d="M357.1 265.4l.9 .2-.3 .4-1.7-.3 1.1-.3" stroke="#066fdf" stroke-width="0.6" fill="none"/>
<path d="M356.5 265.2l2.1 .4-.8 .6-1.7-.1-.6-.3 1-.6" stroke="#079ccf" stroke-width="0.6" fill="none"/>
<path d="M357.3 265l1.7 .5-.5 .7-1.8 .2-1.6-.5 .5-.7 1.7-.2" stroke="#33b8a1" stroke-width="0.6" fill="none"/>
<path d="M356.5 264.9l2.1 .1 1 .7-1.2 .7-2.9 0-.9-.4 0-.6 1.9-.5" stroke="#a5be6b" stroke-width="0.6" fill="none"/>
<path d="M357.5 264.6l2.6 .7 .2 .6-.7 .5-3 .4-1.7-.3-1.1-.6 .7-.9 3-.4" stroke="#fbbc41" stroke-width="0.6" fill="none"/>
<g fill="currentColor" stroke="currentColor" stroke-width="6.0" transform="scale(.1)">
<path color=#f9fb0e d="M3582 2298l11-3-9-3-10 2z"/>
<path color=#f9fb0e d="M3572 2300l10-2-8-4-10 3z"/>
<path color=#f9fb0e d="M3589 2301l11-2-7-4-11 3z"/>
<path color=#f9fb0e d="M3563 2303l9-3-8-3-9 2z"/>
<path color=#f9fa0e d="M3579 2304l10-3-7-3-10 2z"/>
<path color=#f9fb0e d="M3596 2304l11-2-7-3-11 2z"/>
<path color=#f9fa0e d="M3555 2305l8-2-8-4-8 2z"/>
<path color=#f9fa0e d="M3570 2308l9-4-7-4-9 3z"/>
<path color=#f9fa0e d="M3548 2307l7-2-8-4-7 2z"/>
<path color=#f9fa0e d="M3586 2308l10-4-7-3-10 3z"/>
<path color=#f9fa0e d="M3602 2307l11-3-6-2-11 2z"/>
<path color=#f8f810 d="M3562 2313l8-5-7-5-8 2z"/>
<path color=#f9fa0e d="M3542 2309l6-2-8-4-6 1z"/>
<path color=#f7f611 d="M3577 2317l9-9-7-4-9 4z"/>
<path color=#f9fa0e d="M3607 2310l11-4-5-2-11 3z"/>
<path color=#f9fa0e d="M3538 2310l4-1-8-5-4 1z"/>
<path color=#f8f810 d="M3592 2314l10-7-6-3-10 4z"/>
<path color=#f7f512 d="M3555 2318l7-5-7-8-7 2z"/>
<path color=#f9fa0f d="M3536 2311l2-1-8-5-2 1z"/>
<path color=#f9fa0f d="M3534 2311l2 0-8-5-2 0z"/>
<path color=#f5ed17 d="M3569 2332l8-15-7-9-8 5z"/>
<path color=#f9fa0e d="M3611 2312l11-4-4-2-11 4z"/>
<path color=#f9fa0e d="M3530 2312l4-1-8-5-4 1z"/>
<path color=#f6f213 d="M3550 2322l5-4-7-11-6 2z"/>
<path color=#f5ed17 d="M3583 2332l9-18-6-6-9 9z"/>
<path color=#f7f512 d="M3597 2320l10-10-5-3-10 7z"/>
<path color=#f9fa0e d="M3524 2313l6-1-8-5-6 1z"/>
<path color=#f6f114 d="M3546 2324l4-2-8-13-4 1z"/>
<path color=#f9fa0e d="M3615 2314l10-4-3-2-11 4z"/>
<path color=#f5e21e d="M3562 2349l7-17-7-19-7 5z"/>
<path color=#f6f115 d="M3544 2324l2 0-8-14-2 1z"/>
<path color=#f9fa0f d="M3616 2314l11-4-2 0-10 4z"/>
<path color=#f6f213 d="M3601 2324l10-12-4-2-10 10z"/>
<path color=#f7d925 d="M3575 2367l8-35-6-15-8 15z"/>
<path color=#f6f115 d="M3542 2325l2-1-8-13-2 0z"/>
<path color=#f9fa0e d="M3518 2314l6-1-8-5-7 2z"/>
<path color=#f5e21e d="M3588 2350l9-30-5-6-9 18z"/>
<path color=#f9fa0f d="M3618 2315l10-4-1-1-11 4z"/>
<path color=#f7d925 d="M3557 2361l5-12-7-31-5 4z"/>
<path color=#f6f114 d="M3538 2325l4 0-8-14-4 1z"/>
<path color=#f6f114 d="M3605 2326l10-12-4-2-10 12z"/>
<path color=#f9fa0e d="M3621 2316l11-4-4-1-10 4z"/>
<path color=#fec03b d="M3568 2408l7-41-6-35-7 17z"/>
<path color=#f9d429 d="M3552 2366l5-5-7-39-4 2z"/>
<path color=#f6f213 d="M3532 2324l6 1-8-13-6 1z"/>
<path color=#f9fa0e d="M3510 2316l8-2-9-4-8 2z"/>
<path color=#f7d925 d="M3592 2363l9-39-4-4-9 30z"/>
<path color=#fec03b d="M3580 2409l8-59-5-18-8 35z"/>
<path color=#f6f115 d="M3606 2327l10-13-1 0-10 12z"/>
<path color=#fad32a d="M3550 2367l2-1-6-42-2 0z"/>
<path color=#fad32a d="M3548 2367l2 0-6-43-2 1z"/>
<path color=#f9fa0e d="M3625 2318l11-4-4-2-11 4z"/>
<path color=#f6f115 d="M3608 2328l10-13-2-1-10 13z"/>
<path color=#f7f512 d="M3525 2322l7 2-8-11-6 1z"/>
<path color=#f9d429 d="M3544 2364l4 3-6-42-4 0z"/>
<path color=#f9d429 d="M3596 2368l9-42-4-2-9 39z"/>
<path color=#f9fb0e d="M3501 2318l9-2-9-4-9 2z"/>
<path color=#f6f114 d="M3611 2328l10-12-3-1-10 13z"/>
<path color=#fad32a d="M3597 2369l9-42-1-1-9 42z"/>
<path color=#f7d925 d="M3539 2354l5 10-6-39-6-1z"/>
<path color=#f9fa0e d="M3630 2320l11-4-5-2-11 4z"/>
<path color=#f8f810 d="M3517 2321l8 1-7-8-8 2z"/>
<path color=#fad32a d="M3599 2370l9-42-2-1-9 42z"/>
<path color=#f6f213 d="M3615 2327l10-9-4-2-10 12z"/>
<path color=#f9fb0e d="M3491 2320l10-2-9-4-10 3z"/>
<path color=#f9d429 d="M3602 2367l9-39-3 0-9 42z"/>
<path color=#f5e21e d="M3532 2341l7 13-7-30-7-2z"/>
<path color=#f9fa0e d="M3508 2321l9 0-7-5-9 2z"/>
<path color=#f9fa0e d="M3636 2322l11-3-6-3-11 4z"/>
<path color=#f7f512 d="M3620 2326l10-6-5-2-10 9z"/>
<path color=#f7d925 d="M3606 2358l9-31-4 1-9 39z"/>
<path color=#f5ed17 d="M3524 2330l8 11-7-19-8-1z"/>
<path color=#f9fb0e d="M3480 2323l11-3-9-3-10 2z"/>
<path color=#f9fa0e d="M3498 2324l10-3-7-3-10 2z"/>
<path color=#f5e21e d="M3611 2345l9-19-5 1-9 31z"/>
<path color=#f8f810 d="M3626 2326l10-4-6-2-10 6z"/>
<path color=#f9fb0e d="M3643 2325l11-3-7-3-11 3z"/>
<path color=#f7f611 d="M3515 2326l9 4-7-9-9 0z"/>
<path color=#f7d925 d="M3530 2345l8 31-6-35-8-11z"/>
<path color=#f9fb0e d="M3487 2326l11-2-7-4-11 3z"/>
<path color=#f5ed17 d="M3617 2334l9-8-6 0-9 19z"/>
<path color=#f9fa0e d="M3633 2327l10-2-7-3-10 4z"/>
<path color=#f9fa0e d="M3505 2327l10-1-7-5-10 3z"/>
<path color=#362e8f d="M3572 2653l2-4-1 3-3 4z"/>
<path color=#1957d8 d="M3577 2623l4-26-3 24-4 28z"/>
<path color=#f5ed17 d="M3521 2331l9 14-6-15-9-4z"/>
<path color=#f9fb0e d="M3650 2328l11-3-7-3-11 3z"/>
<path color=#362e8f d="M3570 2650l2 3-2 3-2-3z"/>
<path color=#3341b5 d="M3564 2626l4 27-1-4-4-27z"/>
<path color=#fec03b d="M3535 2363l8 55-5-42-8-31z"/>
<path color=#5cbe8a d="M3547 2448l7 86-4-50-7-66z"/>
<path color=#1481d5 d="M3557 2555l6 67-3-26-6-62z"/>
<path color=#3341b5 d="M3575 2627l2-4-3 26-2 4z"/>
<path color=#b7bd64 d="M3596 2420l7-40-5 36-7 70z"/>
<path color=#3341b5 d="M3566 2624l4 26-2 3-4-27z"/>
<path color=#3341b5 d="M3573 2624l2 3-3 26-2-3z"/>
<path color=#f7d925 d="M3609 2349l8-15-6 11-8 35z"/>
<path color=#1481d5 d="M3581 2556l4-20-4 61-4 26z"/>
<path color=#0f78db d="M3559 2558l5 68-1-4-6-67z"/>
<path color=#1957d8 d="M3569 2600l4 24-3 26-4-26z"/>
<path color=#f7f611 d="M3624 2331l9-4-7-1-9 8z"/>
<path color=#27b5a8 d="M3550 2460l7 95-3-21-7-86z"/>
<path color=#0f78db d="M3560 2556l6 68-2 2-5-68z"/>
<path color=#f9fb0e d="M3494 2329l11-2-7-3-11 2z"/>
<path color=#0f78db d="M3579 2559l2-3-4 67-2 4z"/>
<path color=#5cbe8a d="M3591 2450l5-30-5 66-6 50z"/>
<path color=#e0ba52 d="M3539 2376l8 72-4-30-8-55z"/>
<path color=#f8f810 d="M3511 2330l10 1-6-5-10 1z"/>
<path color=#f5e21e d="M3526 2337l9 26-5-18-9-14z"/>
<path color=#f9fa0e d="M3640 2330l10-2-7-3-10 2z"/>
<path color=#0f78db d="M3577 2557l2 2-4 68-2-3z"/>
<path color=#1ab2b1 d="M3552 2462l7 96-2-3-7-95z"/>
<path color=#1481d5 d="M3563 2538l6 62-3 24-6-68z"/>
<path color=#fec03b d="M3602 2366l7-17-6 31-7 40z"/>
<path color=#f9fb0e d="M3659 2331l10-2-8-4-11 3z"/>
<path color=#27b5a8 d="M3587 2462l4-12-6 86-4 20z"/>
<path color=#1481d5 d="M3573 2539l4 18-4 67-4-24z"/>
<path color=#1ab2b1 d="M3553 2462l7 94-1 2-7-96z"/>
<path color=#cbbb5c d="M3542 2381l8 79-3-12-8-72z"/>
<path color=#f5ed17 d="M3616 2336l8-5-7 3-8 15z"/>
<path color=#1ab2b1 d="M3585 2464l2-2-6 94-2 3z"/>
<path color=#f7d925 d="M3530 2342l9 34-4-13-9-26z"/>
<path color=#27b5a8 d="M3557 2452l6 86-3 18-7-94z"/>
<path color=#e0ba52 d="M3597 2378l5-12-6 54-5 30z"/>
<path color=#06a2cb d="M3568 2492l5 47-4 61-6-62z"/>
<path color=#f7f512 d="M3516 2332l10 5-5-6-10-1z"/>
<path color=#1ab2b1 d="M3582 2463l3 1-6 95-2-2z"/>
<path color=#c4bc5e d="M3544 2382l8 80-2-2-8-79z"/>
<path color=#f9fa0e d="M3500 2332l11-2-6-3-11 2z"/>
<path color=#f9fa0e d="M3631 2333l9-3-7-3-9 4z"/>
<path color=#27b5a8 d="M3578 2453l4 10-5 94-4-18z"/>
<path color=#c4bc5e d="M3545 2383l8 79-1 0-8-80z"/>
<path color=#f5e21e d="M3609 2341l7-5-7 13-7 17z"/>
<path color=#cbbb5c d="M3593 2384l4-6-6 72-4 12z"/>
<path color=#f9d429 d="M3533 2344l9 37-3-5-9-34z"/>
<path color=#f9fb0e d="M3649 2334l10-3-9-3-10 2z"/>
<path color=#5cbe8a d="M3561 2426l7 66-5 46-6-86z"/>
<path color=#cbbb5c d="M3549 2380l8 72-4 10-8-79z"/>
<path color=#c4bc5e d="M3591 2385l2-1-6 78-2 2z"/>
<path color=#5cbe8a d="M3573 2426l5 27-5 86-5-47z"/>
<path color=#f6f213 d="M3520 2334l10 8-4-5-10-5z"/>
<path color=#fad32a d="M3535 2345l9 37-2-1-9-37z"/>
<path color=#f8f810 d="M3623 2335l8-2-7-2-8 5z"/>
<path color=#c4bc5e d="M3589 2385l2 0-6 79-3-1z"/>
<path color=#f9fa0e d="M3505 2334l11-2-5-2-11 2z"/>
<path color=#f7d925 d="M3603 2345l6-4-7 25-5 12z"/>
<path color=#fad32a d="M3536 2345l9 38-1-1-9-37z"/>
<path color=#cbbb5c d="M3584 2381l5 4-7 78-4-10z"/>
<path color=#e0ba52 d="M3553 2371l8 55-4 26-8-72z"/>
<path color=#b7bd64 d="M3566 2389l7 37-5 66-7-66z"/>
<path color=#f9fb0e d="M3640 2336l9-2-9-4-9 3z"/>
<path color=#f9d429 d="M3540 2346l9 34-4 3-9-38z"/>
<path color=#f9d429 d="M3599 2347l4-2-6 33-4 6z"/>
<path color=#f7f512 d="M3617 2337l6-2-7 1-7 5z"/>
<path color=#e0ba52 d="M3579 2372l5 9-6 72-5-27z"/>
<path color=#f9fa0e d="M3509 2336l11-2-4-2-11 2z"/>
<path color=#fad32a d="M3597 2348l2-1-6 37-2 1z"/>
<path color=#fad32a d="M3595 2348l2 0-6 37-2 0z"/>
<path color=#fec03b d="M3558 2358l8 31-5 37-8-55z"/>
<path color=#f7d925 d="M3544 2345l9 26-4 9-9-34z"/>
<path color=#f9fa0e d="M3632 2338l8-2-9-3-8 2z"/>
<path color=#f9d429 d="M3591 2348l4 0-6 37-5-4z"/>
<path color=#fec03b d="M3572 2358l7 14-6 54-7-37z"/>
<path color=#f9fa0e d="M3513 2337l10-1-3-2-11 2z"/>
<path color=#f7d925 d="M3586 2347l5 1-7 33-5-9z"/>
<path color=#f9fa0f d="M3514 2338l11-1-2-1-10 1z"/>
<path color=#f5e21e d="M3549 2344l9 14-5 13-9-26z"/>
<path color=#f9fa0e d="M3625 2340l7-2-9-3-6 2z"/>
<path color=#f7d925 d="M3564 2347l8 11-6 31-8-31z"/>
<path color=#f9fa0f d="M3516 2339l10-2-1 0-11 1z"/>
<path color=#f5e21e d="M3579 2345l7 2-7 25-7-14z"/>
<path color=#f9fa0e d="M3519 2340l11-2-4-1-10 2z"/>
<path color=#f6f114 d="M3599 2342l4-1-8 7-4 0z"/>
<path color=#f9fa0e d="M3619 2341l6-1-8-3-6 2z"/>
<path color=#f7f512 d="M3539 2342l10 2-5 1-10-5z"/>
<path color=#f5ed17 d="M3555 2343l9 4-6 11-9-14z"/>
<path color=#f6f213 d="M3593 2343l6-1-8 6-5-1z"/>
<path color=#f9fa0e d="M3615 2342l4-1-8-2-4 1z"/>
<path color=#f9fa0e d="M3523 2342l11-2-4-2-11 2z"/>
<path color=#f5ed17 d="M3571 2344l8 1-7 13-8-11z"/>
<path color=#f9fa0f d="M3613 2343l2-1-8-2-2 0z"/>
<path color=#f9fa0f d="M3611 2343l2 0-8-3-2 1z"/>
<path color=#f8f810 d="M3545 2344l10-1-6 1-10-2z"/>
<path color=#f9fa0e d="M3607 2344l4-1-8-2-4 1z"/>
<path color=#f9fa0e d="M3528 2344l11-2-5-2-11 2z"/>
<path color=#f9fa0e d="M3601 2345l6-1-8-2-6 1z"/>
<path color=#f8f810 d="M3578 2346l8-2-7 1-8-1z"/>
<path color=#f9fa0e d="M3534 2346l11-2-6-2-11 2z"/>
<path color=#f9fa0e d="M3552 2347l10-2-7-2-10 1z"/>
<path color=#f9fa0e d="M3594 2347l7-2-8-2-7 1z"/>
<path color=#f9fa0e d="M3569 2348l9-2-7-2-9 1z"/>
<path color=#f9fa0e d="M3586 2349l8-2-8-3-8 2z"/>
<path color=#f9fb0e d="M3541 2349l11-2-7-3-11 2z"/>
<path color=#f9fa0e d="M3559 2350l10-2-7-3-10 2z"/>
<path color=#f9fb0e d="M3577 2351l9-2-8-3-9 2z"/>
<path color=#f9fb0e d="M3548 2353l11-3-7-3-11 2z"/>
<path color=#f9fb0e d="M3567 2354l10-3-8-3-10 2z"/>
<path color=#f9fb0e d="M3557 2356l10-2-8-4-11 3z"/>
</g>
<path d="M351.7 244.8L395.1 234.2L362.4 220.0L319.0 230.6ZM359.4 231.8L358.6 231.6L357.5 231.4L356.3 231.5L355.3 231.6L354.5 231.9L354.1 232.3L354.2 232.6L354.7 233.0L355.5 233.2L356.6 233.4L357.8 233.3L358.8 233.2L359.6 232.9L360.0 232.5L359.9 232.2Z" fill="#f9fb0e" stroke="#f9fb0e" stroke-width="0.5" fill-rule="evenodd"/>
<text x="356.6" y="214.2" font-size="10.2" text-anchor="middle" fill="#262626">Parameter space</text>
<text x="347.5" y="288.59" font-size="9.1" text-anchor="end" fill="#262626">-5</text>
<text x="331.15" y="281.49" font-size="9.1" text-anchor="end" fill="#262626">0</text>
<text x="314.8" y="274.38" font-size="9.1" text-anchor="end" fill="#262626">5</text>
<text x="355.4" y="288.59" font-size="9.1" text-anchor="start" fill="#262626">-5</text>
<text x="377.1" y="283.29" font-size="9.1" text-anchor="start" fill="#262626">0</text>
<text x="398.8" y="277.99" font-size="9.1" text-anchor="start" fill="#262626">5</text>
<text x="314.4" y="237.77" font-size="8.2" text-anchor="end" fill="#262626">-0.02</text>
<text x="314.4" y="243.59" font-size="8.2" text-anchor="end" fill="#262626">-0.04</text>
<text x="314.4" y="249.42" font-size="8.2" text-anchor="end" fill="#262626">-0.06</text>
<text x="314.4" y="255.25" font-size="8.2" text-anchor="end" fill="#262626">-0.08</text>
<text x="314.4" y="261.04" font-size="8.2" text-anchor="end" fill="#262626">-0.1</text>
<text x="316" y="298.27" font-size="10.3" text-anchor="middle" fill="#262626">x</text><text x="319.09" y="302.39" font-size="7.416" text-anchor="start" fill="#262626">2</text>
<text x="386.7" y="299.07" font-size="10.3" text-anchor="middle" fill="#262626">x</text><text x="389.79" y="303.19" font-size="7.416" text-anchor="start" fill="#262626">1</text>
<text x="284.3" y="250.02" font-size="9.79" text-anchor="middle" fill="#262626" transform="rotate(-90 284.3 246.6)">F20</text>
<path d="M38.8 336.4L38.8 371.3L73.3 386.5L116.9 374.5" stroke="#5a5a5a" stroke-width="0.6" fill="none"/>
<path d="M78.3 372.5l.9 .3-.5 .5-1.3 0-.9-.3 .5-.5 1.3 0" stroke="#2350d0" stroke-width="0.5" fill="none"/>
<path d="M78.5 372l1.9 .5 .1 .6-.9 .6-3.4 0-1.1-.8 1-.8 2.4-.1" stroke="#0a73dd" stroke-width="0.5" fill="none"/>
<path d="M78.4 371.5l2.2 .3 1.3 .8 .1 .5-1.1 .8-3.5 .4-2.3-.3-1.3-.8-.1-.5 1.1-.8 3.6-.4" stroke="#138ad3" stroke-width="0.5" fill="none"/>
<path d="M78 371l2.9 .3 2.1 .9 .2 1.1-1.4 .9-2.1 .5-3.7 0-2.4-.6-1.2-1 .3-.8 1.2-.7 4.1-.6" stroke="#06a3ca" stroke-width="0.5" fill="none"/>
<path d="M77.4 370.5l3.5 .3 2.3 .6 1.3 1 0 1-1.9 1.2-3.2 .6-3.6 0-3.3-.8-1.4-1.3 .6-1.3 2.5-.9 3.2-.4" stroke="#1ab2b1" stroke-width="0.5" fill="none"/>
<path d="M76.6 370.1l4.2 .1 2.3 .5 2.1 .9 .7 .8 .1 .8-1.8 1.5-3.9 .9-5.3 0-3.1-.8-2.1-1.4-.1-.8 .5-.7 2.6-1.2 3.8-.6" stroke="#51bd8f" stroke-width="0.5" fill="none"/>
<path d="M75.5 369.7l4.9 0 3.8 .7 2.6 1.3 .6 1.4-.4 .7-1.2 1-4.6 1.2-5.1 .2-4.5-.8-2.7-1.3-.6-1.1 .4-1 2.7-1.6 4.1-.7" stroke="#92bf72" stroke-width="0.5" fill="none"/>
<path d="M74.1 369.3l5.9-.2 4.4 .7 3.5 1.6 .8 1.7-.6 1.1-1.4 .9-4.6 1.3-4.8 .3-5.9-.7-3.6-1.6-.8-1 .1-1.2 1.2-1.1 1.5-.8 4.3-1" stroke="#c7bc5d" stroke-width="0.5" fill="none"/>
<path d="M72.5 369l6.6-.5 5.4 .7 2.7 .8 1.9 1.1 .9 1 .1 1.3-1 1.3-1.5 .9-4.6 1.2-6.5 .4-6.3-.9-3.6-1.6-.9-1-.1-1.3 1.7-1.8 5.2-1.6" stroke="#f5ba47" stroke-width="0.5" fill="none"/>
<path d="M72.3 368.2l5.1-.4 7.6 .6 5.1 1.9 1.6 1.3 .4 1.7-1 1.4-1.5 1-2.9 1.1-3.7 .7-6.3 .3-6.9-.8-3.2-1-2.1-1.3-.7-1.1-.2-1.1 1-1.4 1.4-1 2.9-1.2 3.4-.7" stroke="#f9d429" stroke-width="0.5" fill="none"/>
<path d="M90.7 363l-5.4 1.1-4.4 .1-4.5-.5-4.5-1.5" stroke="#f9d429" stroke-width="0.5" fill="none"/>
<g fill="currentColor" stroke="currentColor" stroke-width="6.0" transform="scale(.1)">
<path color=#fcbd3f d="M821 3302l16-4-13-6-17 4z"/>
<path color=#fdbe3d d="M804 3305l17-3-14-6-16 3z"/>
<path color=#fdbe3d d="M833 3306l17-4-13-4-16 4z"/>
<path color=#fec13a d="M788 3307l16-2-13-6-16 2z"/>
<path color=#febf3c d="M817 3309l16-3-12-4-17 3z"/>
<path color=#fec13a d="M846 3309l16-4-12-3-17 4z"/>
<path color=#fec536 d="M773 3308l15-1-13-6-15 1z"/>
<path color=#fec239 d="M801 3311l16-2-13-4-16 2z"/>
<path color=#fec239 d="M830 3312l16-3-13-3-16 3z"/>
<path color=#fec536 d="M858 3311l17-4-13-2-16 4z"/>
<path color=#fec931 d="M758 3308l15 0-13-6-15 1z"/>
<path color=#fec635 d="M786 3312l15-1-13-4-15 1z"/>
<path color=#ffc436 d="M814 3314l16-2-13-3-16 2z"/>
<path color=#fcce2d d="M743 3309l15-1-13-5-15 0z"/>
<path color=#fec635 d="M842 3315l16-4-12-2-16 3z"/>
<path color=#fec931 d="M870 3313l17-4-12-2-17 4z"/>
<path color=#fdca31 d="M771 3313l15-1-13-4-15 0z"/>
<path color=#fec833 d="M798 3316l16-2-13-3-15 1z"/>
<path color=#fad32a d="M728 3309l15 0-13-6-15 1z"/>
<path color=#fec833 d="M826 3317l16-2-12-3-16 2z"/>
<path color=#fdca31 d="M854 3317l16-4-12-2-16 4z"/>
<path color=#fbcf2d d="M756 3314l15-1-13-5-15 1z"/>
<path color=#fcce2d d="M882 3315l17-5-12-1-17 4z"/>
<path color=#fdcc2f d="M783 3317l15-1-12-4-15 1z"/>
<path color=#f8d826 d="M714 3310l14-1-13-5-14 0z"/>
<path color=#fdcb30 d="M811 3319l15-2-12-3-16 2z"/>
<path color=#f9d329 d="M741 3315l15-1-13-5-15 0z"/>
<path color=#fdcc2f d="M838 3319l16-2-12-2-16 2z"/>
<path color=#fbcf2d d="M866 3318l16-3-12-2-16 4z"/>
<path color=#fbd02c d="M768 3318l15-1-12-4-15 1z"/>
<path color=#f6dc23 d="M701 3311l13-1-13-6-13 1z"/>
<path color=#fad32a d="M893 3316l17-4-11-2-17 5z"/>
<path color=#fccf2d d="M795 3321l16-2-13-3-15 1z"/>
<path color=#f7d826 d="M727 3315l14 0-13-6-14 1z"/>
<path color=#fccf2d d="M823 3322l15-3-12-2-15 2z"/>
<path color=#f5e020 d="M688 3312l13-1-13-6-13 1z"/>
<path color=#fbd02c d="M850 3322l16-4-12-1-16 2z"/>
<path color=#f9d528 d="M754 3319l14-1-12-4-15 1z"/>
<path color=#f9d329 d="M877 3320l16-4-11-1-16 3z"/>
<path color=#f8d826 d="M905 3318l16-5-11-1-17 4z"/>
<path color=#fad22a d="M781 3322l14-1-12-4-15 1z"/>
<path color=#f6dc23 d="M714 3316l13-1-13-5-13 1z"/>
<path color=#fad22b d="M807 3324l16-2-12-3-16 2z"/>
<path color=#f5e41d d="M675 3313l13-1-13-6-13 1z"/>
<path color=#f7d925 d="M740 3320l14-1-13-4-14 0z"/>
<path color=#fad22a d="M834 3324l16-2-12-3-15 3z"/>
<path color=#f9d528 d="M861 3324l16-4-11-2-16 4z"/>
<path color=#f5e020 d="M701 3318l13-2-13-5-13 1z"/>
<path color=#f8d627 d="M766 3323l15-1-13-4-14 1z"/>
<path color=#f7d826 d="M888 3322l17-4-12-2-16 4z"/>
<path color=#f6dc23 d="M915 3320l17-5-11-2-16 5z"/>
<path color=#f5e81b d="M663 3315l12-2-13-6-12 2z"/>
<path color=#f9d528 d="M793 3326l14-2-12-3-14 1z"/>
<path color=#f6dd22 d="M726 3322l14-2-13-5-13 1z"/>
<path color=#f9d528 d="M819 3327l15-3-11-2-16 2z"/>
<path color=#f5e41d d="M688 3319l13-1-13-6-13 1z"/>
<path color=#f8d627 d="M846 3327l15-3-11-2-16 2z"/>
<path color=#f7da24 d="M752 3325l14-2-12-4-14 1z"/>
<path color=#f5ea19 d="M652 3317l11-2-13-6-11 1z"/>
<path color=#f7d925 d="M872 3326l16-4-11-2-16 4z"/>
<path color=#f6dc23 d="M899 3324l16-4-10-2-17 4z"/>
<path color=#f5e020 d="M926 3322l16-5-10-2-17 5z"/>
<path color=#f7d826 d="M778 3327l15-1-12-4-15 1z"/>
<path color=#f5e120 d="M713 3323l13-1-12-6-13 2z"/>
<path color=#f5e71b d="M676 3321l12-2-13-6-12 2z"/>
<path color=#f7d826 d="M804 3329l15-2-12-3-14 2z"/>
<path color=#f5ed17 d="M642 3318l10-1-13-7-10 2z"/>
<path color=#f6de22 d="M739 3326l13-1-12-5-14 2z"/>
<path color=#f7d826 d="M831 3329l15-2-12-3-15 3z"/>
<path color=#f7da24 d="M857 3329l15-3-11-2-15 3z"/>
<path color=#f5e41d d="M701 3325l12-2-12-5-13 1z"/>
<path color=#f6dc23 d="M764 3329l14-2-12-4-14 2z"/>
<path color=#f6dd22 d="M883 3328l16-4-11-2-16 4z"/>
<path color=#f5ee16 d="M633 3320l9-2-13-6-10 2z"/>
<path color=#f5e020 d="M909 3326l17-4-11-2-16 4z"/>
<path color=#f5e41d d="M935 3324l17-5-10-2-16 5z"/>
<path color=#f5ea19 d="M665 3323l11-2-13-6-11 2z"/>
<path color=#f6db24 d="M790 3331l14-2-11-3-15 1z"/>
<path color=#f5e11f d="M726 3328l13-2-13-4-13 1z"/>
<path color=#f6db24 d="M816 3332l15-3-12-2-15 2z"/>
<path color=#f6f015 d="M625 3322l8-2-14-6-8 2z"/>
<path color=#f5e71b d="M689 3327l12-2-13-6-12 2z"/>
<path color=#f5ec18 d="M655 3325l10-2-13-6-10 1z"/>
<path color=#f6dc23 d="M842 3332l15-3-11-2-15 2z"/>
<path color=#f5df21 d="M751 3331l13-2-12-4-13 1z"/>
<path color=#f6de22 d="M868 3332l15-4-11-2-15 3z"/>
<path color=#f6f115 d="M619 3323l6-1-14-6-5 1z"/>
<path color=#f5e120 d="M893 3330l16-4-10-2-16 4z"/>
<path color=#f5e81b d="M945 3326l16-4-9-3-17 5z"/>
<path color=#f5e41d d="M919 3329l16-5-9-2-17 4z"/>
<path color=#f6dd22 d="M776 3333l14-2-12-4-14 2z"/>
<path color=#f5e41d d="M713 3330l13-2-13-5-12 2z"/>
<path color=#f6f114 d="M614 3324l5-1-13-6-5 1z"/>
<path color=#f5ed17 d="M645 3326l10-1-13-7-9 2z"/>
<path color=#f5e91a d="M678 3329l11-2-13-6-11 2z"/>
<path color=#f6dd22 d="M801 3335l15-3-12-3-14 2z"/>
<path color=#f5e21f d="M738 3333l13-2-12-5-13 2z"/>
<path color=#f6dd22 d="M827 3336l15-4-11-3-15 3z"/>
<path color=#f6f214 d="M606 3326l8-2-13-6-8 2z"/>
<path color=#f5df21 d="M852 3335l16-3-11-3-15 3z"/>
<path color=#f6ef16 d="M637 3328l8-2-12-6-8 2z"/>
<path color=#f5e61b d="M701 3332l12-2-12-5-12 2z"/>
<path color=#f5ea19 d="M954 3329l16-5-9-2-16 4z"/>
<path color=#f5e11f d="M878 3334l15-4-10-2-15 4z"/>
<path color=#f5e020 d="M762 3336l14-3-12-4-13 2z"/>
<path color=#f5eb18 d="M667 3331l11-2-13-6-10 2z"/>
<path color=#f5e71b d="M929 3331l16-5-10-2-16 5z"/>
<path color=#f5e41d d="M903 3333l16-4-10-3-16 4z"/>
<path color=#f6f313 d="M596 3328l10-2-13-6-10 2z"/>
<path color=#f6f015 d="M632 3329l5-1-12-6-6 1z"/>
<path color=#f6dd22 d="M787 3338l14-3-11-4-14 2z"/>
<path color=#f5e41d d="M725 3336l13-3-12-5-13 2z"/>
<path color=#f6dd22 d="M812 3339l15-3-11-4-15 3z"/>
<path color=#f5e91a d="M690 3334l11-2-12-5-11 2z"/>
<path color=#f6f015 d="M626 3330l6-1-13-6-5 1z"/>
<path color=#f5ed17 d="M658 3332l9-1-12-6-10 1z"/>
<path color=#f5e020 d="M838 3339l14-4-10-3-15 4z"/>
<path color=#f6de22 d="M749 3339l13-3-11-5-13 2z"/>
<path color=#f5ed17 d="M962 3332l16-5-8-3-16 5z"/>
<path color=#f7f412 d="M586 3331l10-3-13-6-10 2z"/>
<path color=#f5e21f d="M863 3338l15-4-10-2-16 3z"/>
<path color=#f5ea19 d="M937 3334l17-5-9-3-16 5z"/>
<path color=#f5e41d d="M888 3337l15-4-10-3-15 4z"/>
<path color=#f5e71b d="M913 3336l16-5-10-2-16 4z"/>
<path color=#f6f114 d="M618 3332l8-2-12-6-8 2z"/>
<path color=#f5e41d d="M713 3338l12-2-12-6-12 2z"/>
<path color=#f5ee16 d="M650 3334l8-2-13-6-8 2z"/>
<path color=#f7d826 d="M774 3341l13-3-11-5-14 3z"/>
<path color=#f5ea19 d="M680 3336l10-2-12-5-11 2z"/>
<path color=#f8d627 d="M798 3343l14-4-11-4-14 3z"/>
<path color=#f7f512 d="M575 3333l11-2-13-7-11 3z"/>
<path color=#f6f214 d="M609 3334l9-2-12-6-10 2z"/>
<path color=#f6ef16 d="M644 3335l6-1-13-6-5 1z"/>
<path color=#f6db23 d="M737 3342l12-3-11-6-13 3z"/>
<path color=#f5ee16 d="M969 3334l17-5-8-2-16 5z"/>
<path color=#f7d826 d="M823 3343l15-4-11-3-15 3z"/>
<path color=#f5ec18 d="M946 3336l16-4-8-3-17 5z"/>
<path color=#f5e41d d="M702 3341l11-3-12-6-11 2z"/>
<path color=#f6de22 d="M848 3343l15-5-11-3-14 4z"/>
<path color=#f5ec18 d="M670 3338l10-2-13-5-9 1z"/>
<path color=#f6ef15 d="M639 3337l5-2-12-6-6 1z"/>
<path color=#f5e91a d="M922 3339l15-5-8-3-16 5z"/>
<path color=#f5e41d d="M873 3342l15-5-10-3-15 4z"/>
<path color=#f9d329 d="M761 3346l13-5-12-5-13 3z"/>
<path color=#f5e61b d="M897 3340l16-4-10-3-15 4z"/>
<path color=#f6f313 d="M599 3337l10-3-13-6-10 3z"/>
<path color=#f7f511 d="M563 3336l12-3-13-6-12 3z"/>
<path color=#f6f015 d="M976 3336l16-5-6-2-17 5z"/>
<path color=#fcce2d d="M785 3349l13-6-11-5-13 3z"/>
<path color=#f6f015 d="M631 3338l8-1-13-7-8 2z"/>
<path color=#f7da25 d="M725 3345l12-3-12-6-12 2z"/>
<path color=#f5ed17 d="M662 3340l8-2-12-6-8 2z"/>
<path color=#f5e41d d="M692 3343l10-2-12-7-10 2z"/>
<path color=#fcce2d d="M809 3350l14-7-11-4-14 4z"/>
<path color=#f5ed17 d="M953 3339l16-5-7-2-16 4z"/>
<path color=#f9d329 d="M833 3349l15-6-10-4-15 4z"/>
<path color=#fcce2e d="M748 3351l13-5-12-7-12 3z"/>
<path color=#f5eb18 d="M930 3341l16-5-9-2-15 5z"/>
<path color=#f5ed17 d="M657 3341l5-1-12-6-6 1z"/>
<path color=#f6f115 d="M980 3338l16-5-4-2-16 5z"/>
<path color=#f7f313 d="M587 3340l12-3-13-6-11 2z"/>
<path color=#f6f114 d="M622 3341l9-3-13-6-9 2z"/>
<path color=#f6db23 d="M858 3347l15-5-10-4-15 5z"/>
<path color=#f5e91a d="M906 3343l16-4-9-3-16 4z"/>
<path color=#f5e41d d="M882 3345l15-5-9-3-15 5z"/>
<path color=#f7f611 d="M550 3339l13-3-13-6-13 3z"/>
<path color=#f7d826 d="M714 3349l11-4-12-7-11 3z"/>
<path color=#f5e51d d="M682 3345l10-2-12-7-10 2z"/>
<path color=#ffc337 d="M772 3356l13-7-11-8-13 5z"/>
<path color=#f5ee16 d="M651 3343l6-2-13-6-5 2z"/>
<path color=#f6f114 d="M984 3339l17-5-5-1-16 5z"/>
<path color=#f6ef16 d="M959 3341l17-5-7-2-16 5z"/>
<path color=#fdbe3d d="M796 3359l13-9-11-7-13 6z"/>
<path color=#f6f214 d="M611 3343l11-2-13-7-10 3z"/>
<path color=#fec734 d="M736 3357l12-6-11-9-12 3z"/>
<path color=#f7f412 d="M576 3342l11-2-12-7-12 3z"/>
<path color=#f6ef16 d="M643 3345l8-2-12-6-8 1z"/>
<path color=#f5ed17 d="M937 3344l16-5-7-3-16 5z"/>
<path color=#ffc337 d="M819 3358l14-9-10-6-14 7z"/>
<path color=#f5e51c d="M674 3347l8-2-12-7-8 2z"/>
<path color=#f8d727 d="M703 3352l11-3-12-8-10 2z"/>
<path color=#f5ea19 d="M914 3346l16-5-8-2-16 4z"/>
<path color=#f8f611 d="M537 3343l13-4-13-6-13 4z"/>
<path color=#fcce2e d="M843 3355l15-8-10-4-15 6z"/>
<path color=#f6f214 d="M991 3342l16-5-6-3-17 5z"/>
<path color=#f6f015 d="M964 3343l16-5-4-2-17 5z"/>
<path color=#f7da25 d="M867 3351l15-6-9-3-15 5z"/>
<path color=#f5e41d d="M891 3348l15-5-9-3-15 5z"/>
<path color=#edb94c d="M759 3366l13-10-11-10-13 5z"/>
<path color=#f5e61c d="M669 3348l5-1-12-7-5 1z"/>
<path color=#f6ef15 d="M634 3347l9-2-12-7-9 3z"/>
<path color=#f6f213 d="M600 3346l11-3-12-6-12 3z"/>
<path color=#d4bb58 d="M783 3373l13-14-11-10-13 7z"/>
<path color=#febf3c d="M725 3363l11-6-11-12-11 4z"/>
<path color=#f6f015 d="M968 3344l16-5-4-1-16 5z"/>
<path color=#f5ee16 d="M944 3346l15-5-6-2-16 5z"/>
<path color=#f7f512 d="M563 3346l13-4-13-6-13 3z"/>
<path color=#f8d627 d="M694 3355l9-3-11-9-10 2z"/>
<path color=#f5e71b d="M663 3350l6-2-12-7-6 2z"/>
<path color=#d4bb58 d="M806 3374l13-16-10-8-13 9z"/>
<path color=#f6f313 d="M998 3345l17-5-8-3-16 5z"/>
<path color=#f5ec18 d="M922 3349l15-5-7-3-16 5z"/>
<path color=#f8f710 d="M524 3346l13-3-13-6-13 3z"/>
<path color=#edb94c d="M829 3369l14-14-10-6-14 9z"/>
<path color=#c8bc5d d="M747 3376l12-10-11-15-12 6z"/>
<path color=#f5e41d d="M899 3351l15-5-8-3-15 5z"/>
<path color=#f6f015 d="M624 3349l10-2-12-6-11 2z"/>
<path color=#fec734 d="M853 3362l14-11-9-4-15 8z"/>
<path color=#f7d826 d="M876 3355l15-7-9-3-15 6z"/>
<path color=#f5e71b d="M655 3351l8-1-12-7-8 2z"/>
<path color=#f6f114 d="M974 3347l17-5-7-3-16 5z"/>
<path color=#f6ef16 d="M948 3348l16-5-5-2-15 5z"/>
<path color=#f6f313 d="M588 3349l12-3-13-6-11 2z"/>
<path color=#f8d627 d="M686 3357l8-2-12-10-8 2z"/>
<path color=#f6ba46 d="M715 3368l10-5-11-14-11 3z"/>
<path color=#adbe68 d="M770 3387l13-14-11-17-13 10z"/>
<path color=#f7f511 d="M550 3349l13-3-13-7-13 4z"/>
<path color=#f5ed17 d="M928 3351l16-5-7-2-15 5z"/>
<path color=#f8d627 d="M681 3358l5-1-12-10-5 1z"/>
<path color=#f6ef15 d="M952 3349l16-5-4-1-16 5z"/>
<path color=#a3be6c d="M793 3392l13-18-10-15-13 14z"/>
<path color=#f7f412 d="M1006 3348l17-5-8-3-17 5z"/>
<path color=#f5e91a d="M646 3353l9-2-12-6-9 2z"/>
<path color=#b5bd65 d="M736 3385l11-9-11-19-11 6z"/>
<path color=#f6f114 d="M612 3352l12-3-13-6-11 3z"/>
<path color=#f8f710 d="M510 3350l14-4-13-6-14 4z"/>
<path color=#edb94c d="M705 3372l10-4-12-16-9 3z"/>
<path color=#adbe68 d="M816 3389l13-20-10-11-13 16z"/>
<path color=#f5e51d d="M906 3354l16-5-8-3-15 5z"/>
<path color=#f6f214 d="M982 3350l16-5-7-3-17 5z"/>
<path color=#f7f413 d="M576 3352l12-3-12-7-13 4z"/>
<path color=#f8d727 d="M675 3359l6-1-12-10-6 2z"/>
<path color=#c8bc5d d="M839 3380l14-18-10-7-14 14z"/>
<path color=#f8d727 d="M884 3359l15-8-8-3-15 7z"/>
<path color=#febf3c d="M862 3368l14-13-9-4-14 11z"/>
<path color=#89bf76 d="M758 3401l12-14-11-21-12 10z"/>
<path color=#f5ed17 d="M932 3353l16-5-4-2-16 5z"/>
<path color=#f6f015 d="M959 3352l15-5-6-3-16 5z"/>
<path color=#f7f611 d="M537 3352l13-3-13-6-13 3z"/>
<path color=#f5ea19 d="M636 3356l10-3-12-6-10 2z"/>
<path color=#f7d826 d="M667 3361l8-2-12-9-8 1z"/>
<path color=#a6be6b d="M726 3393l10-8-11-22-10 5z"/>
<path color=#e9b94e d="M697 3375l8-3-11-17-8 2z"/>
<path color=#6abe83 d="M780 3411l13-19-10-19-13 14z"/>
<path color=#f6f214 d="M600 3355l12-3-12-6-12 3z"/>
<path color=#f7f512 d="M1015 3351l17-5-9-3-17 5z"/>
<path color=#f5e51c d="M913 3357l15-6-6-2-16 5z"/>
<path color=#f5ee16 d="M937 3354l15-5-4-1-16 5z"/>
<path color=#f8f810 d="M495 3354l15-4-13-6-15 4z"/>
<path color=#6abe83 d="M803 3412l13-23-10-15-13 18z"/>
<path color=#f6f313 d="M990 3353l16-5-8-3-16 5z"/>
<path color=#f7f412 d="M563 3355l13-3-13-6-13 3z"/>
<path color=#f8d627 d="M892 3363l14-9-7-3-15 8z"/>
<path color=#e8b94f d="M692 3376l5-1-11-18-5 1z"/>
<path color=#63be87 d="M747 3413l11-12-11-25-11 9z"/>
<path color=#89bf76 d="M825 3404l14-24-10-11-13 20z"/>
<path color=#f6f114 d="M966 3355l16-5-8-3-15 5z"/>
<path color=#f6ba46 d="M870 3374l14-15-8-4-14 13z"/>
<path color=#b5bd65 d="M848 3390l14-22-9-6-14 18z"/>
<path color=#f7da24 d="M658 3363l9-2-12-10-9 2z"/>
<path color=#f5ed17 d="M624 3358l12-2-12-7-12 3z"/>
<path color=#9bbf6f d="M717 3398l9-5-11-25-10 4z"/>
<path color=#f5e61c d="M917 3358l15-5-4-2-15 6z"/>
<path color=#f8f611 d="M523 3356l14-4-13-6-14 4z"/>
<path color=#e9b94e d="M686 3377l6-1-11-18-6 1z"/>
<path color=#f6ef16 d="M943 3357l16-5-7-3-15 5z"/>
<path color=#4ebc91 d="M768 3428l12-17-10-24-12 14z"/>
<path color=#f6f213 d="M588 3358l12-3-12-6-12 3z"/>
<path color=#f7f511 d="M1025 3355l16-5-9-4-17 5z"/>
<path color=#49bc94 d="M790 3434l13-22-10-20-13 19z"/>
<path color=#f8d627 d="M898 3365l15-8-7-3-14 9z"/>
<path color=#55bd8e d="M737 3423l10-10-11-28-10 8z"/>
<path color=#f6dd22 d="M647 3364l11-1-12-10-10 3z"/>
<path color=#95bf71 d="M709 3402l8-4-12-26-8 3z"/>
<path color=#f7f313 d="M999 3356l16-5-9-3-16 5z"/>
<path color=#f5e71b d="M921 3360l16-6-5-1-15 5z"/>
<path color=#f7f512 d="M549 3358l14-3-13-6-13 3z"/>
<path color=#edb94c d="M678 3378l8-1-11-18-8 2z"/>
<path color=#f8f80f d="M480 3357l15-3-13-6-15 3z"/>
<path color=#4ebc91 d="M812 3430l13-26-9-15-13 23z"/>
<path color=#f6f214 d="M974 3358l16-5-8-3-16 5z"/>
<path color=#edb94c d="M877 3379l15-16-8-4-14 15z"/>
<path color=#f6ef16 d="M613 3361l11-3-12-6-12 3z"/>
<path color=#63be87 d="M834 3417l14-27-9-10-14 24z"/>
<path color=#a6be6b d="M856 3398l14-24-8-6-14 22z"/>
<path color=#f6ef15 d="M950 3360l16-5-7-3-16 5z"/>
<path color=#40ba99 d="M757 3442l11-14-10-27-11 12z"/>
<path color=#93bf72 d="M703 3403l6-1-12-27-5 1z"/>
<path color=#f8f710 d="M508 3360l15-4-13-6-15 4z"/>
<path color=#f7f313 d="M575 3361l13-3-12-6-13 3z"/>
<path color=#f8d627 d="M902 3367l15-9-4-1-15 8z"/>
<path color=#f5e71b d="M928 3363l15-6-6-3-16 6z"/>
<path color=#f4ba47 d="M669 3379l9-1-11-17-9 2z"/>
<path color=#4fbc91 d="M727 3429l10-6-11-30-9 5z"/>
<path color=#f5e11f d="M636 3366l11-2-11-8-12 2z"/>
<path color=#36b89f d="M778 3453l12-19-10-23-12 17z"/>
<path color=#93bf72 d="M698 3404l5-1-11-27-6 1z"/>
<path color=#e9b94e d="M884 3382l14-17-6-2-15 16z"/>
<path color=#f7f611 d="M535 3362l14-4-12-6-14 4z"/>
<path color=#f7f611 d="M1034 3359l17-5-10-4-16 5z"/>
<path color=#36b89f d="M800 3454l12-24-9-18-13 22z"/>
<path color=#f6f114 d="M600 3364l13-3-13-6-12 3z"/>
<path color=#f7f412 d="M1008 3360l17-5-10-4-16 5z"/>
<path color=#f8d727 d="M907 3369l14-9-4-2-15 9z"/>
<path color=#f8f90f d="M465 3361l15-4-13-6-15 4z"/>
<path color=#f6f213 d="M983 3361l16-5-9-3-16 5z"/>
<path color=#36b99f d="M747 3452l10-10-10-29-10 10z"/>
<path color=#9bbf6f d="M863 3404l14-25-7-5-14 24z"/>
<path color=#40ba99 d="M821 3444l13-27-9-13-13 26z"/>
<path color=#55bd8e d="M842 3427l14-29-8-8-14 27z"/>
<path color=#f6f015 d="M959 3363l15-5-8-3-16 5z"/>
<path color=#4cbc92 d="M719 3433l8-4-10-31-8 4z"/>
<path color=#97bf70 d="M690 3405l8-1-12-27-8 1z"/>
<path color=#febe3d d="M659 3379l10 0-11-16-11 1z"/>
<path color=#f5e91a d="M935 3365l15-5-7-3-15 6z"/>
<path color=#f7f412 d="M561 3364l14-3-12-6-14 3z"/>
<path color=#f8f810 d="M493 3363l15-3-13-6-15 3z"/>
<path color=#f5e51c d="M624 3368l12-2-12-8-11 3z"/>
<path color=#27b5a8 d="M767 3469l11-16-10-25-11 14z"/>
<path color=#e8b94f d="M888 3384l14-17-4-2-14 17z"/>
<path color=#f7d826 d="M913 3371l15-8-7-3-14 9z"/>
<path color=#4bbc93 d="M714 3435l5-2-10-31-6 1z"/>
<path color=#30b7a3 d="M738 3460l9-8-10-29-10 6z"/>
<path color=#22b4ab d="M788 3475l12-21-10-20-12 19z"/>
<path color=#f6f214 d="M587 3367l13-3-12-6-13 3z"/>
<path color=#9fbe6d d="M680 3404l10 1-12-27-9 1z"/>
<path color=#95bf71 d="M870 3408l14-26-7-3-14 25z"/>
<path color=#f7f611 d="M521 3366l14-4-12-6-15 4z"/>
<path color=#27b5a8 d="M808 3471l13-27-9-14-12 24z"/>
<path color=#fec932 d="M648 3378l11 1-12-15-11 2z"/>
<path color=#e9b94e d="M892 3386l15-17-5-2-14 17z"/>
<path color=#4bbc93 d="M708 3436l6-1-11-32-5 1z"/>
<path color=#4fbc91 d="M850 3434l13-30-7-6-14 29z"/>
<path color=#36b99f d="M829 3456l13-29-8-10-13 27z"/>
<path color=#f7f512 d="M1018 3364l16-5-9-4-17 5z"/>
<path color=#f8f90f d="M450 3366l15-5-13-6-15 4z"/>
<path color=#f6f313 d="M992 3365l16-5-9-4-16 5z"/>
<path color=#f8f611 d="M1045 3364l16-5-10-5-17 5z"/>
<path color=#f6f114 d="M967 3366l16-5-9-3-15 5z"/>
<path color=#f5ea19 d="M943 3368l16-5-9-3-15 5z"/>
<path color=#1cb3af d="M757 3481l10-12-10-27-10 10z"/>
<path color=#f5ea19 d="M612 3370l12-2-11-7-13 3z"/>
<path color=#f7f512 d="M547 3368l14-4-12-6-14 4z"/>
<path color=#2cb7a5 d="M730 3464l8-4-11-31-8 4z"/>
<path color=#f7da24 d="M920 3373l15-8-7-2-15 8z"/>
<path color=#4cbc92 d="M700 3436l8 0-10-32-8 1z"/>
<path color=#93bf72 d="M874 3410l14-26-4-2-14 26z"/>
<path color=#f8f810 d="M478 3367l15-4-13-6-15 4z"/>
<path color=#acbe68 d="M670 3402l10 2-11-25-10 0z"/>
<path color=#edb94c d="M899 3387l14-16-6-2-15 17z"/>
<path color=#f6f313 d="M573 3370l14-3-12-6-14 3z"/>
<path color=#fad32a d="M636 3378l12 0-12-12-12 2z"/>
<path color=#4cbc92 d="M856 3438l14-30-7-4-13 30z"/>
<path color=#2bb6a6 d="M724 3466l6-2-11-31-5 2z"/>
<path color=#f8f710 d="M506 3369l15-3-13-6-15 3z"/>
<path color=#15b0b5 d="M747 3490l10-9-10-29-9 8z"/>
<path color=#1cb3af d="M817 3484l12-28-8-12-13 27z"/>
<path color=#30b7a3 d="M837 3464l13-30-8-7-13 29z"/>
<path color=#93bf72 d="M878 3412l14-26-4-2-14 26z"/>
<path color=#50bc90 d="M691 3434l9 2-10-31-10-1z"/>
<path color=#f9fa0f d="M434 3370l16-4-13-7-16 5z"/>
<path color=#f6f214 d="M977 3370l15-5-9-4-16 5z"/>
<path color=#f7f413 d="M1002 3369l16-5-10-4-16 5z"/>
<path color=#f5ee16 d="M599 3373l13-3-12-6-13 3z"/>
<path color=#f5ed17 d="M952 3372l15-6-8-3-16 5z"/>
<path color=#2bb6a5 d="M719 3467l5-1-10-31-6 1z"/>
<path color=#f7f511 d="M1029 3369l16-5-11-5-16 5z"/>
<path color=#f6dd22 d="M929 3376l14-8-8-3-15 8z"/>
<path color=#bdbc61 d="M659 3398l11 4-11-23-11-1z"/>
<path color=#f8f710 d="M1055 3368l17-5-11-4-16 5z"/>
<path color=#f7f511 d="M533 3371l14-3-12-6-14 4z"/>
<path color=#f4ba47 d="M906 3389l14-16-7-2-14 16z"/>
<path color=#4bbc93 d="M860 3441l14-31-4-2-14 30z"/>
<path color=#f8f90f d="M463 3371l15-4-13-6-15 5z"/>
<path color=#97bf70 d="M885 3413l14-26-7-1-14 26z"/>
<path color=#f6dc23 d="M623 3378l13 0-12-10-12 2z"/>
<path color=#2db7a5 d="M711 3467l8 0-11-31-8 0z"/>
<path color=#f7f313 d="M559 3374l14-4-12-6-14 4z"/>
<path color=#2cb7a5 d="M843 3469l13-31-6-4-13 30z"/>
<path color=#57bd8d d="M681 3430l10 4-11-30-10-2z"/>
<path color=#4bbc93 d="M865 3442l13-30-4-2-14 31z"/>
<path color=#f8f710 d="M491 3373l15-4-13-6-15 4z"/>
<path color=#ddba54 d="M647 3394l12 4-11-20-12 0z"/>
<path color=#f6f114 d="M585 3376l14-3-12-6-14 3z"/>
<path color=#f5e11f d="M937 3378l15-6-9-4-14 8z"/>
<path color=#f6ef16 d="M962 3375l15-5-10-4-15 6z"/>
<path color=#f6f213 d="M987 3374l15-5-10-4-15 5z"/>
<path color=#f9fa0e d="M418 3374l16-4-13-6-16 4z"/>
<path color=#febe3d d="M914 3389l15-13-9-3-14 16z"/>
<path color=#31b8a2 d="M701 3464l10 3-11-31-9-2z"/>
<path color=#f7f611 d="M518 3375l15-4-12-5-15 3z"/>
<path color=#f7f412 d="M1013 3373l16-4-11-5-16 5z"/>
<path color=#2bb6a6 d="M847 3471l13-30-4-3-13 31z"/>
<path color=#9fbe6d d="M892 3413l14-24-7-2-14 26z"/>
<path color=#f7f611 d="M1039 3373l16-5-10-4-16 5z"/>
<path color=#6dbf82 d="M669 3424l12 6-11-28-11-4z"/>
<path color=#f5e41d d="M610 3380l13-2-11-8-13 3z"/>
<path color=#f8f710 d="M1067 3373l16-5-11-5-17 5z"/>
<path color=#4cbc92 d="M871 3443l14-30-7-1-13 30z"/>
<path color=#f8f90f d="M447 3376l16-5-13-5-16 4z"/>
<path color=#f7f412 d="M545 3377l14-3-12-6-14 3z"/>
<path color=#2bb6a5 d="M852 3472l13-30-5-1-13 30z"/>
<path color=#fec13a d="M634 3390l13 4-11-16-13 0z"/>
<path color=#37b99e d="M691 3459l10 5-10-30-10-4z"/>
<path color=#f8f810 d="M475 3377l16-4-13-6-15 4z"/>
<path color=#f6f214 d="M571 3379l14-3-12-6-14 4z"/>
<path color=#fec932 d="M923 3389l14-11-8-2-15 13z"/>
<path color=#acbe68 d="M900 3411l14-22-8 0-14 24z"/>
<path color=#f5e51c d="M947 3381l15-6-10-3-15 6z"/>
<path color=#95bf71 d="M657 3416l12 8-10-26-12-4z"/>
<path color=#50bc90 d="M878 3442l14-29-7 0-14 30z"/>
<path color=#f6f114 d="M972 3379l15-5-10-4-15 5z"/>
<path color=#f8f711 d="M503 3379l15-4-12-6-15 4z"/>
<path color=#f9fa0e d="M401 3378l17-4-13-6-17 4z"/>
<path color=#f7f313 d="M997 3378l16-5-11-4-15 5z"/>
<path color=#f5eb18 d="M597 3382l13-2-11-7-14 3z"/>
<path color=#2db7a5 d="M858 3473l13-30-6-1-13 30z"/>
<path color=#f7f512 d="M1023 3378l16-5-10-4-16 4z"/>
<path color=#f8f611 d="M1050 3378l17-5-12-5-16 5z"/>
<path color=#f7f512 d="M530 3381l15-4-12-6-15 4z"/>
<path color=#42bb98 d="M680 3451l11 8-10-29-12-6z"/>
<path color=#f9f90f d="M430 3380l17-4-13-6-16 4z"/>
<path color=#f9d429 d="M621 3388l13 2-11-12-13 2z"/>
<path color=#f8f810 d="M1078 3377l16-4-11-5-16 5z"/>
<path color=#f7f313 d="M557 3383l14-4-12-5-14 3z"/>
<path color=#f8f80f d="M459 3381l16-4-12-6-16 5z"/>
<path color=#babd62 d="M645 3407l12 9-10-22-13-4z"/>
<path color=#57bd8d d="M887 3439l13-28-8 2-14 29z"/>
<path color=#bdbc61 d="M909 3408l14-19-9 0-14 22z"/>
<path color=#fad32a d="M932 3390l15-9-10-3-14 11z"/>
<path color=#f5ea19 d="M957 3385l15-6-10-4-15 6z"/>
<path color=#f6f015 d="M583 3385l14-3-12-6-14 3z"/>
<path color=#f8f710 d="M487 3383l16-4-12-6-16 4z"/>
<path color=#f6f214 d="M982 3383l15-5-10-4-15 5z"/>
<path color=#51bd8f d="M668 3440l12 11-11-27-12-8z"/>
<path color=#f7f412 d="M1008 3383l15-5-10-5-16 5z"/>
<path color=#f5e11f d="M608 3389l13-1-11-8-13 2z"/>
<path color=#f7f611 d="M515 3385l15-4-12-6-15 4z"/>
<path color=#f7f611 d="M1034 3382l16-4-11-5-16 5z"/>
<path color=#f9fa0e d="M414 3384l16-4-12-6-17 4z"/>
<path color=#f8f710 d="M1062 3382l16-5-11-4-17 5z"/>
<path color=#efb94b d="M632 3400l13 7-11-17-13-2z"/>
<path color=#f7f412 d="M542 3386l15-3-12-6-15 4z"/>
<path color=#37b99e d="M874 3466l13-27-9 3-13 29z"/>
<path color=#f8f80f d="M1090 3382l16-4-12-5-16 4z"/>
<path color=#6dbf82 d="M895 3433l14-25-9 3-13 28z"/>
<path color=#f8f90f d="M443 3386l16-5-12-5-17 4z"/>
<path color=#ddba54 d="M918 3405l14-15-9-1-14 19z"/>
<path color=#78bf7d d="M655 3427l13 13-11-24-12-9z"/>
<path color=#f6f214 d="M568 3388l15-3-12-6-14 4z"/>
<path color=#f6dc23 d="M942 3391l15-6-10-4-15 9z"/>
<path color=#f8f810 d="M472 3387l15-4-12-6-16 4z"/>
<path color=#f5ee16 d="M967 3388l15-5-10-4-15 6z"/>
<path color=#f5ea19 d="M594 3391l14-2-11-7-14 3z"/>
<path color=#f6f313 d="M993 3387l15-4-11-5-15 5z"/>
<path color=#f8f710 d="M499 3389l16-4-12-6-16 4z"/>
<path color=#f7f512 d="M1019 3387l15-5-11-4-15 5z"/>
<path color=#fbd12b d="M618 3397l14 3-11-12-13 1z"/>
<path color=#f7f611 d="M1046 3387l16-5-12-4-16 4z"/>
<path color=#f7f512 d="M527 3390l15-4-12-5-15 4z"/>
<path color=#42bb98 d="M882 3459l13-26-8 6-13 27z"/>
<path color=#95bf71 d="M905 3426l13-21-9 3-14 25z"/>
<path color=#b1bd66 d="M642 3415l13 12-10-20-13-7z"/>
<path color=#f8f810 d="M1073 3387l17-5-12-5-16 5z"/>
<path color=#f9fa0f d="M426 3390l17-4-13-6-16 4z"/>
<path color=#fec13a d="M928 3402l14-11-10-1-14 15z"/>
<path color=#f7f313 d="M553 3392l15-4-11-5-15 3z"/>
<path color=#f8f90f d="M1102 3388l16-5-12-5-16 4z"/>
<path color=#4cbc92 d="M665 3447l13 16-10-23-13-13z"/>
<path color=#f5e41d d="M953 3394l14-6-10-3-15 6z"/>
<path color=#f8f90f d="M455 3391l17-4-13-6-16 5z"/>
<path color=#f6f015 d="M579 3394l15-3-11-6-15 3z"/>
<path color=#f6f114 d="M978 3392l15-5-11-4-15 5z"/>
<path color=#f8f710 d="M484 3393l15-4-12-6-15 4z"/>
<path color=#f5e11f d="M604 3397l14 0-10-8-14 2z"/>
<path color=#f7f313 d="M1004 3392l15-5-11-4-15 4z"/>
<path color=#51bd8f d="M892 3449l13-23-10 7-13 26z"/>
<path color=#f7f511 d="M1030 3392l16-5-12-5-15 5z"/>
<path color=#f0b94a d="M629 3406l13 9-10-15-14-3z"/>
<path color=#f7f611 d="M511 3394l16-4-12-5-16 4z"/>
<path color=#babd62 d="M915 3418l13-16-10 3-13 21z"/>
<path color=#f8f710 d="M1058 3392l15-5-11-5-16 5z"/>
<path color=#78bf7d d="M652 3431l13 16-10-20-13-12z"/>
<path color=#f7f412 d="M538 3396l15-4-11-6-15 4z"/>
<path color=#f9d429 d="M939 3401l14-7-11-3-14 11z"/>
<path color=#f8f810 d="M1085 3392l17-4-12-6-17 5z"/>
<path color=#f6f213 d="M564 3397l15-3-11-6-15 4z"/>
<path color=#f5eb18 d="M963 3397l15-5-11-4-14 6z"/>
<path color=#f8f90f d="M439 3395l16-4-12-5-17 4z"/>
<path color=#f8f90f d="M1114 3393l17-5-13-5-16 5z"/>
<path color=#f5eb18 d="M590 3399l14-2-10-6-15 3z"/>
<path color=#f6f214 d="M989 3396l15-4-11-5-15 5z"/>
<path color=#f8f810 d="M467 3397l17-4-12-6-17 4z"/>
<path color=#f9d429 d="M615 3403l14 3-11-9-14 0z"/>
<path color=#f7f412 d="M1015 3396l15-4-11-5-15 5z"/>
<path color=#274ecc d="M765 3608l8 14-4-6-8-12z"/>
<path color=#78bf7d d="M902 3437l13-19-10 8-13 23z"/>
<path color=#f8f710 d="M495 3398l16-4-12-5-15 4z"/>
<path color=#3639a6 d="M777 3620l6 3-5 9-5-10z"/>
<path color=#babd62 d="M639 3418l13 13-10-16-13-9z"/>
<path color=#f7f611 d="M1042 3397l16-5-12-5-16 5z"/>
<path color=#efb94b d="M925 3412l14-11-11 1-13 16z"/>
<path color=#f7f511 d="M523 3399l15-3-11-6-16 4z"/>
<path color=#274ecc d="M789 3609l6-4-7 12-5 6z"/>
<path color=#f7f413 d="M549 3401l15-4-11-5-15 4z"/>
<path color=#274ecc d="M769 3608l8 12-4 2-8-14z"/>
<path color=#f5e11f d="M949 3403l14-6-10-3-14 7z"/>
<path color=#f8f710 d="M1070 3397l15-5-12-5-15 5z"/>
<path color=#0971de d="M802 3590l8-8-7 12-8 11z"/>
<path color=#046ce0 d="M756 3591l9 17-4-4-10-16z"/>
<path color=#274ecc d="M784 3608l5 1-6 14-6-3z"/>
<path color=#079dcf d="M723 3544l12 19-8-13-11-17z"/>
<path color=#1484d4 d="M741 3570l10 18-6-9-10-16z"/>
<path color=#f6f114 d="M575 3402l15-3-11-5-15 3z"/>
<path color=#f6f015 d="M974 3401l15-5-11-4-15 5z"/>
<path color=#f8f90f d="M1098 3397l16-4-12-5-17 4z"/>
<path color=#f5e51d d="M600 3405l15-2-11-6-14 2z"/>
<path color=#f8f90f d="M451 3401l16-4-12-6-16 4z"/>
<path color=#f7f313 d="M1000 3401l15-5-11-4-15 4z"/>
<path color=#fec139 d="M625 3411l14 7-10-12-14-3z"/>
<path color=#046ce0 d="M797 3593l5-3-7 15-6 4z"/>
<path color=#f9fa0f d="M1127 3398l16-5-12-5-17 5z"/>
<path color=#046ce0 d="M760 3592l9 16-4 0-9-17z"/>
<path color=#0b5edf d="M776 3601l8 7-7 12-8-12z"/>
<path color=#f8f810 d="M479 3402l16-4-11-5-17 4z"/>
<path color=#06a3cb d="M837 3538l10-14-9 13-10 17z"/>
<path color=#b1bd66 d="M912 3426l13-14-10 6-13 19z"/>
<path color=#1481d6 d="M745 3573l11 18-5-3-10-18z"/>
<path color=#f7f512 d="M1027 3401l15-4-12-5-15 4z"/>
<path color=#f8f611 d="M507 3403l16-4-12-5-16 4z"/>
<path color=#046ce0 d="M791 3593l6 0-8 16-5-1z"/>
<path color=#0899d1 d="M730 3550l11 20-6-7-12-19z"/>
<path color=#06a8c4 d="M712 3523l11 21-7-11-12-19z"/>
<path color=#13b0b6 d="M856 3507l11-16-9 14-11 19z"/>
<path color=#fbd12b d="M936 3410l13-7-10-2-14 11z"/>
<path color=#1484d4 d="M810 3573l8-7-8 16-8 8z"/>
<path color=#f7f512 d="M534 3404l15-3-11-5-15 3z"/>
<path color=#f8f711 d="M1054 3402l16-5-12-5-16 5z"/>
<path color=#0971de d="M766 3589l10 12-7 7-9-16z"/>
<path color=#f6f313 d="M560 3406l15-4-11-5-15 4z"/>
<path color=#f5ea19 d="M960 3406l14-5-11-4-14 6z"/>
<path color=#1481d6 d="M750 3574l10 18-4-1-11-18z"/>
<path color=#079dcf d="M827 3548l10-10-9 16-10 12z"/>
<path color=#f5ee16 d="M585 3407l15-2-10-6-15 3z"/>
<path color=#0971de d="M783 3589l8 4-7 15-8-7z"/>
<path color=#f8f810 d="M1082 3402l16-5-13-5-15 5z"/>
<path color=#1481d6 d="M805 3575l5-2-8 17-5 3z"/>
<path color=#f6dd22 d="M610 3410l15 1-10-8-15 2z"/>
<path color=#0998d1 d="M734 3553l11 20-4-3-11-20z"/>
<path color=#f6f214 d="M986 3405l14-4-11-5-15 5z"/>
<path color=#dfba53 d="M634 3418l14 12-9-12-14-7z"/>
<path color=#09abbf d="M846 3519l10-12-9 17-10 14z"/>
<path color=#f8f90f d="M1110 3403l17-5-13-5-16 4z"/>
<path color=#06a6c7 d="M718 3529l12 21-7-6-11-21z"/>
<path color=#f8f80f d="M463 3406l16-4-12-5-16 4z"/>
<path color=#16b1b4 d="M699 3501l13 22-8-9-12-21z"/>
<path color=#1481d6 d="M799 3576l6-1-8 18-6 0z"/>
<path color=#f7f412 d="M1012 3406l15-5-12-5-15 5z"/>
<path color=#f0b94a d="M923 3418l13-8-11 2-13 14z"/>
<path color=#1484d4 d="M756 3572l10 17-6 3-10-18z"/>
<path color=#0899d1 d="M819 3554l8-6-9 18-8 7z"/>
<path color=#f8f710 d="M490 3407l17-4-12-5-16 4z"/>
<path color=#127cd8 d="M774 3580l9 9-7 12-10-12z"/>
<path color=#f9fa0e d="M1139 3403l17-4-13-6-16 5z"/>
<path color=#0998d1 d="M738 3554l12 20-5-1-11-20z"/>
<path color=#29b6a7 d="M866 3488l11-14-10 17-11 16z"/>
<path color=#f7f611 d="M518 3408l16-4-11-5-16 4z"/>
<path color=#f7f611 d="M1039 3406l15-4-12-5-15 4z"/>
<path color=#f5e11f d="M947 3411l13-5-11-3-13 7z"/>
<path color=#1484d4 d="M791 3573l8 3-8 17-8-4z"/>
<path color=#f7f412 d="M544 3409l16-3-11-5-15 3z"/>
<path color=#06a5c8 d="M722 3531l12 22-4-3-12-21z"/>
<path color=#06a8c4 d="M837 3528l9-9-9 19-10 10z"/>
<path color=#0998d1 d="M814 3556l5-2-9 19-5 2z"/>
<path color=#f6f214 d="M570 3411l15-4-10-5-15 4z"/>
<path color=#f8f710 d="M1066 3407l16-5-12-5-16 5z"/>
<path color=#f6f015 d="M972 3410l14-5-12-4-14 5z"/>
<path color=#f5ea19 d="M595 3412l15-2-10-5-15 2z"/>
<path color=#12afb7 d="M705 3506l13 23-6-6-13-22z"/>
<path color=#f9d429 d="M620 3415l14 3-9-7-15-1z"/>
<path color=#089ad1 d="M745 3553l11 19-6 2-12-20z"/>
<path color=#108ed2 d="M763 3566l11 14-8 9-10-17z"/>
<path color=#bfbc61 d="M643 3426l14 14-9-10-14-12z"/>
<path color=#babd62 d="M910 3429l13-11-11 8-12 16z"/>
<path color=#0998d1 d="M808 3557l6-1-9 19-6 1z"/>
<path color=#1db3af d="M856 3499l10-11-10 19-10 12z"/>
<path color=#f8f80f d="M1094 3407l16-4-12-6-16 5z"/>
<path color=#06a5c8 d="M727 3532l11 22-4-1-12-22z"/>
<path color=#f7f313 d="M998 3410l14-4-12-5-14 4z"/>
<path color=#108ed2 d="M782 3567l9 6-8 16-9-9z"/>
<path color=#06a6c7 d="M829 3533l8-5-10 20-8 6z"/>
<path color=#f8f810 d="M474 3411l16-4-11-5-16 4z"/>
<path color=#f9d429 d="M934 3417l13-6-11-1-13 8z"/>
<path color=#f9f90f d="M1123 3408l16-5-12-5-17 5z"/>
<path color=#10afb8 d="M710 3508l12 23-4-2-13-23z"/>
<path color=#f7f512 d="M1024 3411l15-5-12-5-15 5z"/>
<path color=#f8f710 d="M502 3412l16-4-11-5-17 4z"/>
<path color=#089ad1 d="M800 3555l8 2-9 19-8-3z"/>
<path color=#f7f511 d="M528 3413l16-4-10-5-16 4z"/>
<path color=#079dcf d="M752 3549l11 17-7 6-11-19z"/>
<path color=#06a6c7 d="M733 3532l12 21-7 1-11-22z"/>
<path color=#06a5c8 d="M823 3535l6-2-10 21-5 2z"/>
<path color=#16b1b4 d="M846 3507l10-8-10 20-9 9z"/>
<path color=#f5eb18 d="M958 3414l14-4-12-4-13 5z"/>
<path color=#f7f413 d="M555 3414l15-3-10-5-16 3z"/>
<path color=#f9fa0e d="M1152 3409l17-5-13-5-17 4z"/>
<path color=#f8f710 d="M1051 3411l15-4-12-5-15 4z"/>
<path color=#0899d1 d="M772 3556l10 11-8 13-11-14z"/>
<path color=#f6f114 d="M580 3415l15-3-10-5-15 4z"/>
<path color=#f5e61b d="M605 3417l15-2-10-5-15 2z"/>
<path color=#fdca31 d="M628 3420l15 6-9-8-14-3z"/>
<path color=#10afb8 d="M714 3510l13 22-5-1-12-23z"/>
<path color=#06a5c8 d="M818 3536l5-1-9 21-6 1z"/>
<path color=#f6f213 d="M984 3414l14-4-12-5-14 5z"/>
<path color=#079dcf d="M791 3551l9 4-9 18-9-6z"/>
<path color=#f8f810 d="M1079 3412l15-5-12-5-16 5z"/>
<path color=#38b99e d="M866 3478l10-9-10 19-10 11z"/>
<path color=#fec139 d="M921 3423l13-6-11 1-13 11z"/>
<path color=#12afb7 d="M838 3511l8-4-9 21-8 5z"/>
<path color=#f7f412 d="M1010 3415l14-4-12-5-14 4z"/>
<path color=#06a8c4 d="M740 3530l12 19-7 4-12-21z"/>
<path color=#f8f90f d="M1107 3413l16-5-13-5-16 4z"/>
<path color=#12afb7 d="M720 3510l13 22-6 0-13-22z"/>
<path color=#06a6c7 d="M810 3535l8 1-10 21-8-2z"/>
<path color=#06a3cb d="M760 3541l12 15-9 10-11-17z"/>
<path color=#f8f810 d="M485 3416l17-4-12-5-16 4z"/>
<path color=#f5e51d d="M945 3419l13-5-11-3-13 6z"/>
<path color=#f8f611 d="M512 3417l16-4-10-5-16 4z"/>
<path color=#06a3cb d="M780 3542l11 9-9 16-10-11z"/>
<path color=#10afb8 d="M833 3513l5-2-9 22-6 2z"/>
<path color=#f7f512 d="M539 3418l16-4-11-5-16 4z"/>
<path color=#f7f611 d="M1036 3416l15-5-12-5-15 5z"/>
<path color=#31b8a2 d="M857 3485l9-7-10 21-10 8z"/>
<path color=#fec13a d="M637 3425l14 7-8-6-15-6z"/>
<path color=#f9fa0e d="M1136 3414l16-5-13-6-16 5z"/>
<path color=#f6f313 d="M565 3419l15-4-10-4-15 3z"/>
<path color=#f6f015 d="M590 3420l15-3-10-5-15 3z"/>
<path color=#f5e21e d="M614 3421l14-1-8-5-15 2z"/>
<path color=#f6f114 d="M970 3418l14-4-12-4-14 4z"/>
<path color=#dfba53 d="M909 3430l12-7-11 6-12 11z"/>
<path color=#06a8c4 d="M800 3532l10 3-10 20-9-4z"/>
<path color=#10afb8 d="M827 3514l6-1-10 22-5 1z"/>
<path color=#f8f710 d="M1064 3416l15-4-13-5-15 4z"/>
<path color=#16b1b4 d="M728 3508l12 22-7 2-13-22z"/>
<path color=#09abbf d="M749 3524l11 17-8 8-12-19z"/>
<path color=#f7f413 d="M996 3419l14-4-12-5-14 4z"/>
<path color=#2db7a4 d="M849 3489l8-4-11 22-8 4z"/>
<path color=#f6dd22 d="M933 3423l12-4-11-2-13 6z"/>
<path color=#07a9c2 d="M769 3530l11 12-8 14-12-15z"/>
<path color=#f8f90f d="M1092 3417l15-4-13-6-15 5z"/>
<path color=#12afb7 d="M819 3514l8 0-9 22-8-1z"/>
<path color=#f9bb43 d="M644 3429l14 8-7-5-14-7z"/>
<path color=#09abbf d="M790 3525l10 7-9 19-11-9z"/>
<path color=#f7f511 d="M1022 3420l14-4-12-5-14 4z"/>
<path color=#f8f710 d="M496 3421l16-4-10-5-17 4z"/>
<path color=#f5df20 d="M622 3425l15 0-9-5-14 1z"/>
<path color=#f7f611 d="M523 3422l16-4-11-5-16 4z"/>
<path color=#2cb7a5 d="M843 3491l6-2-11 22-5 2z"/>
<path color=#f5ee16 d="M598 3424l16-3-9-4-15 3z"/>
<path color=#f5ee16 d="M957 3422l13-4-12-4-13 5z"/>
<path color=#f7f412 d="M549 3422l16-3-10-5-16 4z"/>
<path color=#f6f313 d="M574 3423l16-3-10-5-15 4z"/>
<path color=#f9fa0f d="M1120 3418l16-4-13-6-16 5z"/>
<path color=#1eb3ae d="M736 3504l13 20-9 6-12-22z"/>
<path color=#16b1b4 d="M810 3512l9 2-9 21-10-3z"/>
<path color=#f8f710 d="M1049 3421l15-5-13-5-15 5z"/>
<path color=#2cb7a5 d="M838 3492l5-1-10 22-6 1z"/>
<path color=#13b0b6 d="M757 3514l12 16-9 11-11-17z"/>
<path color=#f9d429 d="M921 3428l12-5-12 0-12 7z"/>
<path color=#f6f313 d="M982 3423l14-4-12-5-14 4z"/>
<path color=#f3b948 d="M650 3432l15 9-7-4-14-8z"/>
<path color=#13b0b6 d="M779 3515l11 10-10 17-11-12z"/>
<path color=#f8f810 d="M1077 3422l15-5-13-5-15 4z"/>
<path color=#f6dd22 d="M629 3428l15 1-7-4-15 0z"/>
<path color=#2db7a4 d="M830 3492l8 0-11 22-8 0z"/>
<path color=#f7f512 d="M1008 3424l14-4-12-5-14 4z"/>
<path color=#f5ea19 d="M944 3426l13-4-12-3-12 4z"/>
<path color=#1eb3ae d="M800 3507l10 5-10 20-10-7z"/>
<path color=#f5ed17 d="M607 3427l15-2-8-4-16 3z"/>
<path color=#f6f213 d="M583 3427l15-3-8-4-16 3z"/>
<path color=#f8f710 d="M506 3426l17-4-11-5-16 4z"/>
<path color=#f7f412 d="M558 3427l16-4-9-4-16 3z"/>
<path color=#f8f90f d="M1105 3423l15-5-13-5-15 4z"/>
<path color=#f7f611 d="M532 3426l17-4-10-4-16 4z"/>
<path color=#fdca31 d="M910 3432l11-4-12 2-11 6z"/>
<path color=#29b6a7 d="M745 3497l12 17-8 10-13-20z"/>
<path color=#f8f611 d="M1034 3425l15-4-13-5-14 4z"/>
<path color=#f6f214 d="M969 3427l13-4-12-5-13 4z"/>
<path color=#24b5aa d="M767 3502l12 13-10 15-12-16z"/>
<path color=#31b8a2 d="M820 3491l10 1-11 22-9-2z"/>
<path color=#f6db23 d="M636 3431l14 1-6-3-15-1z"/>
<path color=#f0b94a d="M659 3436l14 9-4-2-14-9z"/>
<path color=#29b6a7 d="M789 3498l11 9-10 18-11-10z"/>
<path color=#f5e61b d="M933 3430l11-4-11-3-12 5z"/>
<path color=#f8f810 d="M1062 3426l15-4-13-6-15 5z"/>
<path color=#f7f412 d="M994 3428l14-4-12-5-14 4z"/>
<path color=#f5ec18 d="M614 3431l15-3-7-3-15 2z"/>
<path color=#fec13a d="M899 3436l11-4-12 4-10 6z"/>
<path color=#f6f214 d="M591 3431l16-4-9-3-15 3z"/>
<path color=#38b99e d="M810 3487l10 4-10 21-10-5z"/>
<path color=#f7f412 d="M567 3431l16-4-9-4-16 4z"/>
<path color=#f8f90f d="M1090 3427l15-4-13-6-15 5z"/>
<path color=#f6db24 d="M640 3433l15 1-5-2-14-1z"/>
<path color=#f7f511 d="M542 3431l16-4-9-5-17 4z"/>
<path color=#f6f114 d="M957 3431l12-4-12-5-13 4z"/>
<path color=#f8f710 d="M516 3430l16-4-9-4-17 4z"/>
<path color=#f7f611 d="M1020 3429l14-4-12-5-14 4z"/>
<path color=#f3b948 d="M665 3438l15 9-7-2-14-9z"/>
<path color=#38b99e d="M777 3488l12 10-10 17-12-13z"/>
<path color=#f5e21e d="M921 3433l12-3-12-2-11 4z"/>
<path color=#f9bb43 d="M890 3439l9-3-11 6-9 4z"/>
<path color=#f5eb18 d="M620 3434l16-3-7-3-15 3z"/>
<path color=#f6db24 d="M644 3435l15 1-4-2-15-1z"/>
<path color=#f7f413 d="M981 3432l13-4-12-5-13 4z"/>
<path color=#f8f710 d="M1047 3430l15-4-13-5-15 4z"/>
<path color=#43bb97 d="M799 3481l11 6-10 20-11-9z"/>
<path color=#f6f214 d="M598 3434l16-3-7-4-16 4z"/>
<path color=#f6f015 d="M945 3434l12-3-13-5-11 4z"/>
<path color=#f9bb43 d="M673 3441l14 7-7-1-15-9z"/>
<path color=#f7f413 d="M575 3434l16-3-8-4-16 4z"/>
<path color=#f8f80f d="M1075 3431l15-4-13-5-15 4z"/>
<path color=#f7f511 d="M1007 3433l13-4-12-5-14 4z"/>
<path color=#f5eb18 d="M625 3435l15-2-4-2-16 3z"/>
<path color=#f7f511 d="M551 3435l16-4-9-4-16 4z"/>
<path color=#f5df20 d="M911 3437l10-4-11-1-11 4z"/>
<path color=#f6db23 d="M651 3438l14 0-6-2-15-1z"/>
<path color=#f8f711 d="M525 3435l17-4-10-5-16 4z"/>
<path color=#f6f313 d="M969 3435l12-3-12-5-12 4z"/>
<path color=#f6f214 d="M605 3437l15-3-6-3-16 3z"/>
<path color=#f8f710 d="M1033 3434l14-4-13-5-14 4z"/>
<path color=#f5eb18 d="M629 3437l15-2-4-2-15 2z"/>
<path color=#f5ee16 d="M933 3437l12-3-12-4-12 3z"/>
<path color=#f6dd22 d="M902 3439l9-2-12-1-9 3z"/>
<path color=#fec13a d="M681 3443l14 6-8-1-14-7z"/>
<path color=#f7f413 d="M583 3438l15-4-7-3-16 3z"/>
<path color=#f6dd22 d="M658 3441l15 0-8-3-14 0z"/>
<path color=#f7f512 d="M994 3437l13-4-13-5-13 4z"/>
<path color=#f7f512 d="M559 3438l16-4-8-3-16 4z"/>
<path color=#f8f810 d="M1060 3435l15-4-13-5-15 4z"/>
<path color=#f6f214 d="M609 3439l16-4-5-1-15 3z"/>
<path color=#f5eb18 d="M635 3440l16-2-7-3-15 2z"/>
<path color=#f8f611 d="M534 3439l17-4-9-4-17 4z"/>
<path color=#f6f313 d="M957 3439l12-4-12-4-12 3z"/>
<path color=#f3b948 d="M863 3446l8-2-11 8-8 2z"/>
<path color=#f6db23 d="M894 3442l8-3-12 0-8 2z"/>
<path color=#f5ed17 d="M923 3440l10-3-12-4-10 4z"/>
<path color=#f8f611 d="M1020 3438l13-4-13-5-13 4z"/>
<path color=#f7f313 d="M589 3441l16-4-7-3-15 4z"/>
<path color=#f6f214 d="M613 3441l16-4-4-2-16 4z"/>
<path color=#fdca31 d="M690 3446l14 3-9 0-14-6z"/>
<path color=#f5df20 d="M666 3444l15-1-8-2-15 0z"/>
<path color=#f6db24 d="M888 3443l6-1-12-1-6 2z"/>
<path color=#f7f412 d="M981 3440l13-3-13-5-12 3z"/>
<path color=#f7f512 d="M566 3442l17-4-8-4-16 4z"/>
<path color=#f5ec18 d="M643 3443l15-2-7-3-16 2z"/>
<path color=#f9bb43 d="M854 3448l9-2-11 8-10 0z"/>
<path color=#f8f810 d="M1046 3439l14-4-13-5-14 4z"/>
<path color=#f6f213 d="M946 3442l11-3-12-5-12 3z"/>
<path color=#f5ec18 d="M914 3443l9-3-12-3-9 2z"/>
<path color=#f8f611 d="M542 3442l17-4-8-3-17 4z"/>
<path color=#f7f313 d="M593 3442l16-3-4-2-16 4z"/>
<path color=#f6f214 d="M620 3443l15-3-6-3-16 4z"/>
<path color=#f7f611 d="M1007 3442l13-4-13-5-13 4z"/>
<path color=#fec13a d="M843 3450l11-2-12 6-10 0z"/>
<path color=#f6db23 d="M875 3447l8-2-12-1-8 2z"/>
<path color=#f7f412 d="M970 3444l11-4-12-5-12 4z"/>
<path color=#f7f313 d="M598 3444l15-3-4-2-16 3z"/>
<path color=#f7f512 d="M573 3444l16-3-6-3-17 4z"/>
<path color=#f5eb18 d="M906 3445l8-2-12-4-8 3z"/>
<path color=#f5e21e d="M675 3448l15-2-9-3-15 1z"/>
<path color=#f9d429 d="M699 3449l15 1-10-1-14-3z"/>
<path color=#f6f214 d="M935 3445l11-3-13-5-10 3z"/>
<path color=#f5ed17 d="M651 3447l15-3-8-3-15 2z"/>
<path color=#fec139 d="M724 3451l14 3-10 3-14-7z"/>
<path color=#f8f710 d="M1033 3443l13-4-13-5-13 4z"/>
<path color=#f6f214 d="M627 3447l16-4-8-3-15 3z"/>
<path color=#f7f611 d="M550 3446l16-4-7-4-17 4z"/>
<path color=#f5eb18 d="M900 3447l6-2-12-3-6 1z"/>
<path color=#f6dd22 d="M865 3449l10-2-12-1-9 2z"/>
<path color=#f7f611 d="M994 3445l13-3-13-5-13 3z"/>
<path color=#f7f313 d="M604 3447l16-4-7-2-15 3z"/>
<path color=#f7f512 d="M577 3446l16-4-4-1-16 3z"/>
<path color=#f7f412 d="M958 3447l12-3-13-5-11 3z"/>
<path color=#f6f214 d="M926 3447l9-2-12-5-9 3z"/>
<path color=#f5eb18 d="M895 3448l5-1-12-4-5 2z"/>
<path color=#f5ee16 d="M660 3451l15-3-9-4-15 3z"/>
<path color=#f5e61b d="M684 3451l15-2-9-3-15 2z"/>
<path color=#f7f512 d="M581 3448l17-4-5-2-16 4z"/>
<path color=#f7f611 d="M556 3448l17-4-7-2-16 4z"/>
<path color=#f6dd22 d="M709 3452l15-1-10-1-15-1z"/>
<path color=#f8f710 d="M1020 3447l13-4-13-5-13 4z"/>
<path color=#f6f214 d="M635 3450l16-3-8-4-16 4z"/>
<path color=#f5df20 d="M855 3452l10-3-11-1-11 2z"/>
<path color=#f5eb18 d="M887 3450l8-2-12-3-8 2z"/>
<path color=#f9d429 d="M734 3454l14 0-10 0-14-3z"/>
<path color=#f7f413 d="M611 3450l16-3-7-4-16 4z"/>
<path color=#f6f214 d="M918 3450l8-3-12-4-8 2z"/>
<path color=#f7f511 d="M982 3449l12-4-13-5-11 4z"/>
<path color=#f9d429 d="M820 3454l12-2-11 2-12 0z"/>
<path color=#f7f413 d="M948 3450l10-3-12-5-11 3z"/>
<path color=#fbd12b d="M759 3455l13 0-11 2-13-3z"/>
<path color=#f7f512 d="M588 3451l16-4-6-3-17 4z"/>
<path color=#f7f611 d="M560 3450l17-4-4-2-17 4z"/>
<path color=#f6f214 d="M913 3451l5-1-12-5-6 2z"/>
<path color=#f9d429 d="M783 3456l13-2-11 2-13-1z"/>
<path color=#f5ec18 d="M877 3453l10-3-12-3-10 2z"/>
<path color=#f5e21e d="M844 3454l11-2-12-2-11 2z"/>
<path color=#f8f710 d="M1007 3451l13-4-13-5-13 3z"/>
<path color=#f6f015 d="M669 3454l15-3-9-3-15 3z"/>
<path color=#f6f213 d="M644 3454l16-3-9-4-16 3z"/>
<path color=#f5ea19 d="M694 3455l15-3-10-3-15 2z"/>
<path color=#f7f413 d="M939 3452l9-2-13-5-9 2z"/>
<path color=#f7f511 d="M971 3452l11-3-12-5-12 3z"/>
<path color=#f7f611 d="M565 3452l16-4-4-2-17 4z"/>
<path color=#f6f214 d="M907 3453l6-2-13-4-5 1z"/>
<path color=#f7f413 d="M620 3454l15-4-8-3-16 3z"/>
<path color=#f6dd22 d="M808 3457l12-3-11 0-13 0z"/>
<path color=#f5e51d d="M719 3456l15-2-10-3-15 1z"/>
<path color=#f7f512 d="M595 3454l16-4-7-3-16 4z"/>
<path color=#f5e11f d="M745 3457l14-2-11-1-14 0z"/>
<path color=#f5ed17 d="M867 3456l10-3-12-4-10 3z"/>
<path color=#f6f214 d="M899 3455l8-2-12-5-8 2z"/>
<path color=#f5e61b d="M832 3457l12-3-12-2-12 2z"/>
<path color=#f7f313 d="M931 3455l8-3-13-5-8 3z"/>
<path color=#f5e11f d="M770 3458l13-2-11-1-13 0z"/>
<path color=#f7f611 d="M571 3455l17-4-7-3-16 4z"/>
<path color=#f8f711 d="M995 3454l12-3-13-6-12 4z"/>
<path color=#f7f512 d="M961 3455l10-3-13-5-10 3z"/>
<path color=#f6f313 d="M654 3458l15-4-9-3-16 3z"/>
<path color=#f5e51d d="M795 3459l13-2-12-3-13 2z"/>
<path color=#f6f114 d="M679 3459l15-4-10-4-15 3z"/>
<path color=#f7f412 d="M628 3458l16-4-9-4-15 4z"/>
<path color=#f7f313 d="M925 3456l6-1-13-5-5 1z"/>
<path color=#f6f214 d="M890 3457l9-2-12-5-10 3z"/>
<path color=#f5ee16 d="M705 3459l14-3-10-4-15 3z"/>
<path color=#f5ee16 d="M856 3459l11-3-12-4-11 2z"/>
<path color=#f7f512 d="M603 3458l17-4-9-4-16 4z"/>
<path color=#f5eb18 d="M730 3460l15-3-11-3-15 2z"/>
<path color=#f7f611 d="M579 3458l16-4-7-3-17 4z"/>
<path color=#f5ea19 d="M819 3460l13-3-12-3-12 3z"/>
<path color=#f7f313 d="M920 3458l5-2-12-5-6 2z"/>
<path color=#f7f512 d="M951 3457l10-2-13-5-9 2z"/>
<path color=#f8f611 d="M984 3457l11-3-13-5-11 3z"/>
<path color=#f5ea19 d="M756 3461l14-3-11-3-14 2z"/>
<path color=#f6f214 d="M879 3460l11-3-13-4-10 3z"/>
<path color=#f5eb18 d="M781 3462l14-3-12-3-13 2z"/>
<path color=#f7f313 d="M912 3460l8-2-13-5-8 2z"/>
<path color=#f6f015 d="M844 3462l12-3-12-5-12 3z"/>
<path color=#f7f512 d="M943 3460l8-3-12-5-8 3z"/>
<path color=#f7f412 d="M638 3462l16-4-10-4-16 4z"/>
<path color=#f6f313 d="M664 3462l15-3-10-5-15 4z"/>
<path color=#f7f511 d="M612 3462l16-4-8-4-17 4z"/>
<path color=#f6f214 d="M689 3463l16-4-11-4-15 4z"/>
<path color=#f8f611 d="M974 3460l10-3-13-5-10 3z"/>
<path color=#f8f611 d="M587 3462l16-4-8-4-16 4z"/>
<path color=#f5ee16 d="M806 3463l13-3-11-3-13 2z"/>
<path color=#f6f114 d="M715 3464l15-4-11-4-14 3z"/>
<path color=#f7f413 d="M902 3462l10-2-13-5-9 2z"/>
<path color=#f7f512 d="M938 3461l5-1-12-5-6 1z"/>
<path color=#f6f213 d="M868 3463l11-3-12-4-11 3z"/>
<path color=#f6f015 d="M741 3465l15-4-11-4-15 3z"/>
<path color=#f6f114 d="M831 3465l13-3-12-5-13 3z"/>
<path color=#f6f015 d="M767 3466l14-4-11-4-14 3z"/>
<path color=#f7f512 d="M932 3463l6-2-13-5-5 2z"/>
<path color=#f7f611 d="M964 3463l10-3-13-5-10 2z"/>
<path color=#f7f412 d="M648 3466l16-4-10-4-16 4z"/>
<path color=#f7f511 d="M622 3466l16-4-10-4-16 4z"/>
<path color=#f7f413 d="M892 3465l10-3-12-5-11 3z"/>
<path color=#f6f114 d="M793 3467l13-4-11-4-14 3z"/>
<path color=#f7f413 d="M674 3466l15-3-10-4-15 3z"/>
<path color=#f8f611 d="M596 3466l16-4-9-4-16 4z"/>
<path color=#f6f313 d="M856 3466l12-3-12-4-12 3z"/>
<path color=#f7f512 d="M924 3465l8-2-12-5-8 2z"/>
<path color=#f6f313 d="M700 3467l15-3-10-5-16 4z"/>
<path color=#f7f611 d="M956 3465l8-2-13-6-8 3z"/>
<path color=#f6f213 d="M726 3468l15-3-11-5-15 4z"/>
<path color=#f6f214 d="M818 3468l13-3-12-5-13 3z"/>
<path color=#f6f214 d="M753 3469l14-3-11-5-15 4z"/>
<path color=#f7f412 d="M881 3468l11-3-13-5-11 3z"/>
<path color=#f7f512 d="M915 3467l9-2-12-5-10 2z"/>
<path color=#f7f611 d="M951 3466l5-1-13-5-5 1z"/>
<path color=#f6f313 d="M844 3470l12-4-12-4-13 3z"/>
<path color=#f6f213 d="M779 3470l14-3-12-5-14 4z"/>
<path color=#f7f611 d="M631 3470l17-4-10-4-16 4z"/>
<path color=#f8f711 d="M605 3470l17-4-10-4-16 4z"/>
<path color=#f7f512 d="M658 3470l16-4-10-4-16 4z"/>
<path color=#f7f611 d="M946 3468l5-2-13-5-6 2z"/>
<path color=#f7f412 d="M685 3471l15-4-11-4-15 3z"/>
<path color=#f6f313 d="M805 3471l13-3-12-5-13 4z"/>
<path color=#f7f413 d="M711 3472l15-4-11-4-15 3z"/>
<path color=#f7f512 d="M905 3470l10-3-13-5-10 3z"/>
<path color=#f7f412 d="M869 3471l12-3-13-5-12 3z"/>
<path color=#f7f611 d="M938 3470l8-2-14-5-8 2z"/>
<path color=#f7f313 d="M738 3473l15-4-12-4-15 3z"/>
<path color=#f7f413 d="M831 3473l13-3-13-5-13 3z"/>
<path color=#f7f313 d="M764 3474l15-4-12-4-14 3z"/>
<path color=#f7f511 d="M894 3473l11-3-13-5-11 3z"/>
<path color=#f8f710 d="M615 3474l16-4-9-4-17 4z"/>
<path color=#f7f611 d="M642 3474l16-4-10-4-17 4z"/>
<path color=#f7f611 d="M928 3473l10-3-14-5-9 2z"/>
<path color=#f7f511 d="M669 3475l16-4-11-5-16 4z"/>
<path color=#f7f413 d="M791 3475l14-4-12-4-14 3z"/>
<path color=#f7f412 d="M856 3474l13-3-13-5-12 4z"/>
<path color=#f7f512 d="M696 3476l15-4-11-5-15 4z"/>
<path color=#f7f412 d="M723 3476l15-3-12-5-15 4z"/>
<path color=#f7f412 d="M817 3476l14-3-13-5-13 3z"/>
<path color=#f8f611 d="M918 3475l10-2-13-6-10 3z"/>
<path color=#f7f412 d="M750 3477l14-3-11-5-15 4z"/>
<path color=#f7f511 d="M882 3476l12-3-13-5-12 3z"/>
<path color=#f7f512 d="M843 3478l13-4-12-4-13 3z"/>
<path color=#f7f412 d="M776 3479l15-4-12-5-15 4z"/>
<path color=#f8f710 d="M625 3478l17-4-11-4-16 4z"/>
<path color=#f8f611 d="M652 3479l17-4-11-5-16 4z"/>
<path color=#f7f611 d="M680 3479l16-3-11-5-16 4z"/>
<path color=#f8f611 d="M907 3478l11-3-13-5-11 3z"/>
<path color=#f7f512 d="M803 3480l14-4-12-5-14 4z"/>
<path color=#f7f511 d="M707 3480l16-4-12-4-15 4z"/>
<path color=#f7f611 d="M869 3480l13-4-13-5-13 3z"/>
<path color=#f7f512 d="M734 3481l16-4-12-4-15 3z"/>
<path color=#f7f511 d="M830 3481l13-3-12-5-14 3z"/>
<path color=#f7f512 d="M762 3482l14-3-12-5-14 3z"/>
<path color=#f8f711 d="M895 3482l12-4-13-5-12 3z"/>
<path color=#f8f710 d="M636 3483l16-4-10-5-17 4z"/>
<path color=#f8f710 d="M664 3484l16-5-11-4-17 4z"/>
<path color=#f7f511 d="M789 3484l14-4-12-5-15 4z"/>
<path color=#f7f611 d="M856 3483l13-3-13-6-13 4z"/>
<path color=#f8f611 d="M691 3484l16-4-11-4-16 3z"/>
<path color=#f7f611 d="M719 3485l15-4-11-5-16 4z"/>
<path color=#f7f611 d="M816 3485l14-4-13-5-14 4z"/>
<path color=#f8f710 d="M882 3485l13-3-13-6-13 4z"/>
<path color=#f7f611 d="M746 3486l16-4-12-5-16 4z"/>
<path color=#f8f611 d="M843 3487l13-4-13-5-13 3z"/>
<path color=#f7f611 d="M774 3487l15-3-13-5-14 3z"/>
<path color=#f8f810 d="M647 3488l17-4-12-5-16 4z"/>
<path color=#f8f710 d="M675 3488l16-4-11-5-16 5z"/>
<path color=#f8f611 d="M801 3489l15-4-13-5-14 4z"/>
<path color=#f8f710 d="M703 3489l16-4-12-5-16 4z"/>
<path color=#f8f710 d="M869 3488l13-3-13-5-13 3z"/>
<path color=#f8f710 d="M731 3490l15-4-12-5-15 4z"/>
<path color=#f8f710 d="M829 3490l14-3-13-6-14 4z"/>
<path color=#f8f710 d="M759 3491l15-4-12-5-16 4z"/>
<path color=#f8f810 d="M658 3493l17-5-11-4-17 4z"/>
<path color=#f8f710 d="M856 3492l13-4-13-5-13 4z"/>
<path color=#f8f710 d="M786 3493l15-4-12-5-15 3z"/>
<path color=#f8f810 d="M687 3493l16-4-12-5-16 4z"/>
<path color=#f8f710 d="M715 3494l16-4-12-5-16 4z"/>
<path color=#f8f710 d="M814 3494l15-4-13-5-15 4z"/>
<path color=#f8f710 d="M743 3495l16-4-13-5-15 4z"/>
<path color=#f8f810 d="M842 3496l14-4-13-5-14 3z"/>
<path color=#f8f710 d="M771 3497l15-4-12-6-15 4z"/>
<path color=#f8f80f d="M670 3498l17-5-12-5-17 5z"/>
<path color=#f8f810 d="M799 3498l15-4-13-5-15 4z"/>
<path color=#f8f810 d="M699 3498l16-4-12-5-16 4z"/>
<path color=#f8f810 d="M727 3499l16-4-12-5-16 4z"/>
<path color=#f8f810 d="M827 3499l15-3-13-6-15 4z"/>
<path color=#f8f810 d="M756 3501l15-4-12-6-16 4z"/>
<path color=#f8f810 d="M784 3502l15-4-13-5-15 4z"/>
<path color=#f8f90f d="M682 3503l17-5-12-5-17 5z"/>
<path color=#f8f90f d="M711 3504l16-5-12-5-16 4z"/>
<path color=#f8f80f d="M812 3503l15-4-13-5-15 4z"/>
<path color=#f8f80f d="M740 3505l16-4-13-6-16 4z"/>
<path color=#f8f90f d="M769 3506l15-4-13-5-15 4z"/>
<path color=#f8f90f d="M797 3507l15-4-13-5-15 4z"/>
<path color=#f8f90f d="M695 3508l16-4-12-6-17 5z"/>
<path color=#f8f90f d="M724 3509l16-4-13-6-16 5z"/>
<path color=#f8f90f d="M753 3510l16-4-13-5-16 4z"/>
<path color=#f8f90f d="M782 3511l15-4-13-5-15 4z"/>
<path color=#f9fa0f d="M707 3513l17-4-13-5-16 4z"/>
<path color=#f9f90f d="M736 3514l17-4-13-5-16 4z"/>
<path color=#f9fa0f d="M766 3516l16-5-13-5-16 4z"/>
<path color=#f9fa0e d="M720 3519l16-5-12-5-17 4z"/>
<path color=#f9fa0e d="M750 3520l16-4-13-6-17 4z"/>
<path color=#f9fa0e d="M733 3524l17-4-14-6-16 5z"/>
</g>
<text x="77.7" y="318.6" font-size="10.75" text-anchor="middle" fill="#262626">Parameter space</text>
<text x="69.1" y="397.06" font-size="9.3" text-anchor="end" fill="#262626">-5</text>
<text x="51.85" y="389.45" font-size="9.3" text-anchor="end" fill="#262626">0</text>
<text x="34.6" y="381.86" font-size="9.3" text-anchor="end" fill="#262626">5</text>
<text x="77" y="397.06" font-size="9.3" text-anchor="start" fill="#262626">-5</text>
<text x="98.8" y="391.06" font-size="9.3" text-anchor="start" fill="#262626">0</text>
<text x="120.6" y="385.06" font-size="9.3" text-anchor="start" fill="#262626">5</text>
<text x="34.2" y="373.86" font-size="9.3" text-anchor="end" fill="#262626">-0.6</text>
<text x="34.2" y="361.47" font-size="9.3" text-anchor="end" fill="#262626">-0.4</text>
<text x="34.2" y="349.08" font-size="9.3" text-anchor="end" fill="#262626">-0.2</text>
<text x="34.7" y="406.35" font-size="10.6" text-anchor="middle" fill="#262626">x</text><text x="37.88" y="410.59" font-size="7.632" text-anchor="start" fill="#262626">2</text>
<text x="108.5" y="407.65" font-size="10.6" text-anchor="middle" fill="#262626">x</text><text x="111.68" y="411.89" font-size="7.632" text-anchor="start" fill="#262626">1</text>
<text x="9.1" y="357.22" font-size="10.07" text-anchor="middle" fill="#262626" transform="rotate(-90 9.1 353.7)">F21</text>
<path d="M314 336.4L314 370.6L348.9 385.5L393.6 374.5" stroke="#5a5a5a" stroke-width="0.6" fill="none"/>
<path d="M354.3 372.1l.9 .4-.5 .4-2.3-.3 .5-.4 1.4-.1" stroke="#2350d0" stroke-width="0.5" fill="none"/>
<path d="M354.5 371.7l1.9 .5 .1 .6-1 .5-3.4 0-1.1-.8 1.1-.7 2.4-.1" stroke="#0a73dd" stroke-width="0.5" fill="none"/>
<path d="M354.4 371.2l2.3 .4 1.2 .7 .1 .5-1.1 .7-3.6 .4-2.3-.4-1.3-.7-.1-.5 1.1-.7 3.7-.4" stroke="#138ad3" stroke-width="0.5" fill="none"/>
<path d="M354 370.7l2.9 .3 2.2 1 .1 1-1.4 .9-2.1 .4-3.8-.1-2.5-.6-1.2-.9 .3-.8 1.3-.7 4.2-.5" stroke="#06a3ca" stroke-width="0.5" fill="none"/>
<path d="M353.4 370.3l5.5 .7 1.3 .7 .6 .9-.4 .7-1.1 .7-2.7 .7-4.4 0-3.4-.6-1.8-1.1 0-1 .6-.5 2.5-.9 3.3-.3" stroke="#1ab2b1" stroke-width="0.5" fill="none"/>
<path d="M352.6 369.8l6.6 .7 2.1 .9 .7 .8 .1 .7-1.9 1.5-4 .8-5.4-.1-3.1-.8-2.1-1.4-.1-.7 .5-.7 2.6-1.2 4-.5" stroke="#51bd8f" stroke-width="0.5" fill="none"/>
<path d="M351.6 369.4l5 .1 3.7 .7 2.7 1.3 .5 1.3-.3 .7-1.4 .9-4.6 1.2-5.3 0-4.6-.7-2.6-1.3-.6-1.1 .3-.9 2.8-1.5 4.4-.7" stroke="#92bf72" stroke-width="0.5" fill="none"/>
<path d="M350.2 369l6-.1 4.4 .8 3.5 1.5 .8 1.6-.7 1.1-1.5 .9-4.6 1.1-4.9 .3-6-.8-3.7-1.6-.8-.9 .2-1.1 1.2-1.1 1.5-.7 4.6-1" stroke="#c7bc5d" stroke-width="0.5" fill="none"/>
<path d="M360.6 360.4l-2.1 .3-2.2-.5" stroke="#c7bc5d" stroke-width="0.5" fill="none"/>
<path d="M348.8 368.6l6.2-.3 5.7 .8 2.7 .8 2 1 .9 1 0 1.3-1 1.2-1.6 .8-4.7 1.2-6.8 .2-6.2-.9-3.7-1.6-.9-.9-.1-1.3 1-1.2 1.6-.8 4.9-1.3" stroke="#f5ba47" stroke-width="0.5" fill="none"/>
<path d="M365.8 362.6l-3.7 .7-4.8 .1-4.6-.6-3.1-1" stroke="#f5ba47" stroke-width="0.5" fill="none"/>
<path d="M349.2 367.8l7.3-.3 6.1 1.1 2.9 1.1 2 1.3 .7 1 .1 1.1-1 1.3-1.5 1-3 1-3.9 .6-6.3 .3-7.1-.9-3.2-1-2.1-1.3-.8-1 0-1.4 1.5-1.6 2.5-1.1 5.8-1.2" stroke="#f9d429" stroke-width="0.5" fill="none"/>
<path d="M370.2 364.5l-7.3 1.3-6.7 .2-6.2-.8-6-2" stroke="#f9d429" stroke-width="0.5" fill="none"/>
<g fill="currentColor" stroke="currentColor" stroke-width="6.0" transform="scale(.1)">
<path color=#c4bc5e d="M3583 3338l17-4-13-5-17 4z"/>
<path color=#c8bc5d d="M3567 3339l16-1-13-5-17 1z"/>
<path color=#c8bc5d d="M3596 3340l17-3-13-3-17 4z"/>
<path color=#d0bb59 d="M3550 3339l17 0-14-5-16 0z"/>
<path color=#ccbb5b d="M3580 3342l16-2-13-2-16 1z"/>
<path color=#d0bb59 d="M3609 3341l17-3-13-1-17 3z"/>
<path color=#dbba55 d="M3534 3337l16 2-13-5-16-2z"/>
<path color=#d4bb58 d="M3563 3342l17 0-13-3-17 0z"/>
<path color=#d4bb58 d="M3592 3343l17-2-13-1-16 2z"/>
<path color=#dbba55 d="M3621 3341l17-3-12 0-17 3z"/>
<path color=#e7b94f d="M3519 3335l15 2-13-5-15-2z"/>
<path color=#deba54 d="M3547 3340l16 2-13-3-16-2z"/>
<path color=#daba55 d="M3576 3343l16 0-12-1-17 0z"/>
<path color=#f4ba48 d="M3504 3332l15 3-13-5-16-3z"/>
<path color=#deba54 d="M3605 3343l16-2-12 0-17 2z"/>
<path color=#e7b94f d="M3634 3340l17-3-13 1-17 3z"/>
<path color=#eab94e d="M3532 3339l15 1-13-3-15-2z"/>
<path color=#e4b951 d="M3560 3343l16 0-13-1-16-2z"/>
<path color=#fdbe3d d="M3489 3330l15 2-14-5-14-2z"/>
<path color=#f6ba46 d="M3517 3336l15 3-13-4-15-3z"/>
<path color=#f4ba48 d="M3645 3339l17-4-11 2-17 3z"/>
<path color=#efb94b d="M3545 3341l15 2-13-3-15-1z"/>
<path color=#fec634 d="M3474 3328l15 2-13-5-15-3z"/>
<path color=#febf3c d="M3502 3334l15 2-13-4-15-2z"/>
<path color=#f6ba46 d="M3629 3342l16-3-11 1-17 3z"/>
<path color=#f9bb43 d="M3529 3340l16 1-13-2-15-3z"/>
<path color=#fccd2e d="M3461 3326l13 2-13-6-14-1z"/>
<path color=#fdbe3d d="M3657 3338l17-4-12 1-17 4z"/>
<path color=#f6ba46 d="M3557 3343l16 1-13-1-15-2z"/>
<path color=#fec734 d="M3487 3333l15 1-13-4-15-2z"/>
<path color=#f9d429 d="M3447 3326l14 0-14-5-13-1z"/>
<path color=#f9bb43 d="M3613 3344l16-2-12 1-16 1z"/>
<path color=#fec139 d="M3515 3338l14 2-12-4-15-2z"/>
<path color=#febf3c d="M3640 3341l17-3-12 1-16 3z"/>
<path color=#fec634 d="M3668 3337l17-4-11 1-17 4z"/>
<path color=#fdbe3e d="M3542 3342l15 1-12-2-16-1z"/>
<path color=#fcce2e d="M3474 3331l13 2-13-5-13-2z"/>
<path color=#f7d925 d="M3434 3325l13 1-13-6-13-1z"/>
<path color=#fec932 d="M3500 3337l15 1-13-4-15-1z"/>
<path color=#fec139 d="M3624 3343l16-2-11 1-16 2z"/>
<path color=#f9d429 d="M3460 3331l14 0-13-5-14 0z"/>
<path color=#ffc536 d="M3527 3341l15 1-13-2-14-2z"/>
<path color=#fec734 d="M3652 3341l16-4-11 1-17 3z"/>
<path color=#fccd2e d="M3679 3337l17-4-11 0-17 4z"/>
<path color=#f5de21 d="M3422 3325l12 0-13-6-12 0z"/>
<path color=#ffc238 d="M3554 3344l15 0-12-1-15-1z"/>
<path color=#fbcf2d d="M3486 3336l14 1-13-4-13-2z"/>
<path color=#ffc238 d="M3581 3345l16 0-12-1-16 0z"/>
<path color=#f7d925 d="M3447 3331l13 0-13-5-13-1z"/>
<path color=#fdcb30 d="M3513 3340l14 1-12-3-15-1z"/>
<path color=#f5e31e d="M3411 3326l11-1-13-6-11 1z"/>
<path color=#fec932 d="M3635 3343l17-2-12 0-16 2z"/>
<path color=#fcce2e d="M3662 3341l17-4-11 0-16 4z"/>
<path color=#f9d429 d="M3690 3337l16-4-10 0-17 4z"/>
<path color=#fec932 d="M3539 3343l15 1-12-2-15-1z"/>
<path color=#f9d528 d="M3473 3336l13 0-12-5-14 0z"/>
<path color=#f5de21 d="M3435 3331l12 0-13-6-12 0z"/>
<path color=#fec833 d="M3566 3345l15 0-12-1-15 0z"/>
<path color=#f5e61b d="M3400 3327l11-1-13-6-11 1z"/>
<path color=#fad12b d="M3499 3340l14 0-13-3-14-1z"/>
<path color=#fec932 d="M3593 3346l15-1-11 0-16 0z"/>
<path color=#fdcb30 d="M3619 3345l16-2-11 0-16 2z"/>
<path color=#f7da24 d="M3460 3336l13 0-13-5-13 0z"/>
<path color=#fcce2d d="M3525 3343l14 0-12-2-14-1z"/>
<path color=#fbcf2d d="M3646 3344l16-3-10 0-17 2z"/>
<path color=#f5e919 d="M3391 3328l9-1-13-6-10 0z"/>
<path color=#f9d429 d="M3673 3341l17-4-11 0-17 4z"/>
<path color=#f7d925 d="M3699 3338l17-4-10-1-16 4z"/>
<path color=#f5e21e d="M3424 3331l11 0-13-6-11 1z"/>
<path color=#fccd2f d="M3551 3346l15-1-12-1-15-1z"/>
<path color=#f8d627 d="M3485 3340l14 0-13-4-13 0z"/>
<path color=#f5eb18 d="M3382 3329l9-1-14-7-8 1z"/>
<path color=#f5de21 d="M3448 3336l12 0-13-5-12 0z"/>
<path color=#f5e61c d="M3413 3332l11-1-13-5-11 1z"/>
<path color=#fcce2d d="M3604 3347l15-2-11 0-15 1z"/>
<path color=#f9d329 d="M3511 3344l14-1-12-3-14 0z"/>
<path color=#fad12b d="M3630 3346l16-2-11-1-16 2z"/>
<path color=#f5ed17 d="M3377 3329l5 0-13-7-5 1z"/>
<path color=#f9d528 d="M3657 3345l16-4-11 0-16 3z"/>
<path color=#f5de21 d="M3709 3339l17-4-10-1-17 4z"/>
<path color=#f7d925 d="M3683 3342l16-4-9-1-17 4z"/>
<path color=#fad12b d="M3537 3346l14 0-12-3-14 0z"/>
<path color=#f6db24 d="M3473 3340l12 0-12-4-13 0z"/>
<path color=#f5ee16 d="M3371 3330l6-1-13-6-6 1z"/>
<path color=#f5e81a d="M3404 3333l9-1-13-5-9 1z"/>
<path color=#f5e21e d="M3436 3337l12-1-13-5-11 0z"/>
<path color=#fbd12b d="M3563 3348l14-1-11-2-15 1z"/>
<path color=#f7d826 d="M3498 3344l13 0-12-4-14 0z"/>
<path color=#fad12b d="M3589 3349l15-2-11-1-16 1z"/>
<path color=#f6ef15 d="M3363 3332l8-2-13-6-8 1z"/>
<path color=#f9d329 d="M3615 3349l15-3-11-1-15 2z"/>
<path color=#f5eb18 d="M3395 3335l9-2-13-5-9 1z"/>
<path color=#f5df21 d="M3460 3341l13-1-13-4-12 0z"/>
<path color=#f5e31e d="M3718 3341l17-5-9-1-17 4z"/>
<path color=#f8d627 d="M3641 3348l16-3-11-1-16 2z"/>
<path color=#f8d628 d="M3523 3347l14-1-12-3-14 1z"/>
<path color=#f5e51c d="M3426 3338l10-1-12-6-11 1z"/>
<path color=#f5de21 d="M3692 3343l17-4-10-1-16 4z"/>
<path color=#f7da24 d="M3667 3346l16-4-10-1-16 4z"/>
<path color=#f6f114 d="M3353 3333l10-1-13-7-10 2z"/>
<path color=#f5ec17 d="M3390 3335l5 0-13-6-5 0z"/>
<path color=#fad22a d="M3548 3350l15-2-12-2-14 0z"/>
<path color=#f6dc23 d="M3485 3345l13-1-13-4-12 0z"/>
<path color=#fad22a d="M3574 3351l15-2-12-2-14 1z"/>
<path color=#f5e21e d="M3449 3342l11-1-12-5-12 1z"/>
<path color=#f5ed17 d="M3384 3336l6-1-13-6-6 1z"/>
<path color=#f5e81a d="M3416 3339l10-1-13-6-9 1z"/>
<path color=#f8d628 d="M3599 3351l16-2-11-2-15 2z"/>
<path color=#f9d329 d="M3509 3349l14-2-12-3-13 0z"/>
<path color=#f5e61b d="M3726 3343l17-5-8-2-17 5z"/>
<path color=#f6f214 d="M3343 3335l10-2-13-6-11 2z"/>
<path color=#f7d826 d="M3625 3350l16-2-11-2-15 3z"/>
<path color=#f5e21e d="M3701 3345l17-4-9-2-17 4z"/>
<path color=#f6db24 d="M3651 3349l16-3-10-1-16 3z"/>
<path color=#f5de21 d="M3676 3347l16-4-9-1-16 4z"/>
<path color=#f5ee16 d="M3376 3338l8-2-13-6-8 2z"/>
<path color=#f6dd22 d="M3473 3347l12-2-12-5-13 1z"/>
<path color=#f5ea19 d="M3408 3340l8-1-12-6-9 2z"/>
<path color=#fccc2f d="M3534 3352l14-2-11-4-14 1z"/>
<path color=#f5e51c d="M3438 3344l11-2-13-5-10 1z"/>
<path color=#fdc931 d="M3559 3354l15-3-11-3-15 2z"/>
<path color=#f7f313 d="M3331 3337l12-2-14-6-11 2z"/>
<path color=#f6f015 d="M3366 3339l10-1-13-6-10 1z"/>
<path color=#f5eb18 d="M3402 3341l6-1-13-5-5 0z"/>
<path color=#fad22b d="M3497 3351l12-2-11-5-13 1z"/>
<path color=#f5e919 d="M3734 3344l17-4-8-2-17 5z"/>
<path color=#fccc2f d="M3585 3354l14-3-10-2-15 2z"/>
<path color=#f5e61c d="M3710 3347l16-4-8-2-17 4z"/>
<path color=#f6de22 d="M3461 3348l12-1-13-6-11 1z"/>
<path color=#f9d329 d="M3610 3354l15-4-10-1-16 2z"/>
<path color=#f5e71b d="M3429 3345l9-1-12-6-10 1z"/>
<path color=#f5ec17 d="M3397 3342l5-1-12-6-6 1z"/>
<path color=#f5e21e d="M3685 3349l16-4-9-2-16 4z"/>
<path color=#f6dc23 d="M3635 3353l16-4-10-1-16 2z"/>
<path color=#fec833 d="M3521 3355l13-3-11-5-14 2z"/>
<path color=#f5df21 d="M3660 3351l16-4-9-1-16 3z"/>
<path color=#f6f114 d="M3356 3341l10-2-13-6-10 2z"/>
<path color=#f7f412 d="M3319 3340l12-3-13-6-12 3z"/>
<path color=#f5eb18 d="M3740 3346l17-5-6-1-17 4z"/>
<path color=#fec13a d="M3546 3358l13-4-11-4-14 2z"/>
<path color=#f5ee17 d="M3389 3343l8-1-13-6-8 2z"/>
<path color=#fad12b d="M3484 3353l13-2-12-6-12 2z"/>
<path color=#f5e919 d="M3420 3346l9-1-13-6-8 1z"/>
<path color=#f5df21 d="M3450 3350l11-2-12-6-11 2z"/>
<path color=#fec13a d="M3570 3359l15-5-11-3-15 3z"/>
<path color=#f5e81a d="M3717 3349l17-5-8-1-16 4z"/>
<path color=#fec833 d="M3595 3359l15-5-11-3-14 3z"/>
<path color=#ffc338 d="M3508 3359l13-4-12-6-12 2z"/>
<path color=#f5e51c d="M3693 3351l17-4-9-2-16 4z"/>
<path color=#f5ea19 d="M3415 3347l5-1-12-6-6 1z"/>
<path color=#f5ed17 d="M3745 3347l17-4-5-2-17 5z"/>
<path color=#f6f213 d="M3344 3344l12-3-13-6-12 2z"/>
<path color=#f6ef16 d="M3379 3345l10-2-13-5-10 1z"/>
<path color=#fad22b d="M3620 3357l15-4-10-3-15 4z"/>
<path color=#f5e21e d="M3669 3353l16-4-9-2-16 4z"/>
<path color=#f6dd22 d="M3645 3355l15-4-9-2-16 4z"/>
<path color=#f7f511 d="M3306 3343l13-3-13-6-13 3z"/>
<path color=#fbd12b d="M3473 3356l11-3-11-6-12 1z"/>
<path color=#f5e020 d="M3441 3351l9-1-12-6-9 1z"/>
<path color=#f5ba47 d="M3532 3365l14-7-12-6-13 3z"/>
<path color=#f5eb18 d="M3409 3348l6-1-13-6-5 1z"/>
<path color=#f5ee16 d="M3749 3349l17-5-4-1-17 4z"/>
<path color=#f5eb18 d="M3724 3351l16-5-6-2-17 5z"/>
<path color=#edb94c d="M3556 3368l14-9-11-5-13 4z"/>
<path color=#f6f015 d="M3368 3347l11-2-13-6-10 2z"/>
<path color=#fdbd3e d="M3496 3364l12-5-11-8-13 2z"/>
<path color=#f7f313 d="M3332 3346l12-2-13-7-12 3z"/>
<path color=#f5ec17 d="M3401 3349l8-1-12-6-8 1z"/>
<path color=#f5e81a d="M3701 3353l16-4-7-2-17 4z"/>
<path color=#f5ba47 d="M3581 3367l14-8-10-5-15 5z"/>
<path color=#f5e11f d="M3433 3353l8-2-12-6-9 1z"/>
<path color=#fbd12b d="M3462 3358l11-2-12-8-11 2z"/>
<path color=#f5e51c d="M3677 3355l16-4-8-2-16 4z"/>
<path color=#f7f611 d="M3293 3346l13-3-13-6-13 3z"/>
<path color=#ffc338 d="M3605 3364l15-7-10-3-15 5z"/>
<path color=#f6ef15 d="M3755 3351l17-5-6-2-17 5z"/>
<path color=#f5ec17 d="M3728 3352l17-5-5-1-16 5z"/>
<path color=#fad12b d="M3629 3360l16-5-10-2-15 4z"/>
<path color=#f6de22 d="M3654 3357l15-4-9-2-15 4z"/>
<path color=#dbba55 d="M3519 3373l13-8-11-10-13 4z"/>
<path color=#f5e31e d="M3427 3354l6-1-13-7-5 1z"/>
<path color=#f5ee17 d="M3391 3351l10-2-12-6-10 2z"/>
<path color=#f6f114 d="M3357 3350l11-3-12-6-12 3z"/>
<path color=#c4bc5e d="M3543 3380l13-12-10-10-14 7z"/>
<path color=#f5ba47 d="M3485 3369l11-5-12-11-11 3z"/>
<path color=#f5ed17 d="M3732 3353l17-4-4-2-17 5z"/>
<path color=#f5ea19 d="M3707 3355l17-4-7-2-16 4z"/>
<path color=#f7f412 d="M3319 3349l13-3-13-6-13 3z"/>
<path color=#fad12b d="M3453 3360l9-2-12-8-9 1z"/>
<path color=#f5e41d d="M3421 3355l6-1-12-7-6 1z"/>
<path color=#c4bc5e d="M3567 3381l14-14-11-8-14 9z"/>
<path color=#f6f114 d="M3763 3353l17-4-8-3-17 5z"/>
<path color=#f5e71b d="M3685 3357l16-4-8-2-16 4z"/>
<path color=#f8f710 d="M3279 3349l14-3-13-6-14 3z"/>
<path color=#dbba55 d="M3591 3377l14-13-10-5-14 8z"/>
<path color=#bebc61 d="M3507 3383l12-10-11-14-12 5z"/>
<path color=#f5df21 d="M3662 3360l15-5-8-2-15 4z"/>
<path color=#f6ef16 d="M3381 3353l10-2-12-6-11 2z"/>
<path color=#fdbd3e d="M3615 3370l14-10-9-3-15 7z"/>
<path color=#fbd12b d="M3638 3364l16-7-9-2-16 5z"/>
<path color=#f5e51c d="M3413 3356l8-1-12-7-8 1z"/>
<path color=#f5ee16 d="M3739 3355l16-4-6-2-17 4z"/>
<path color=#f5eb18 d="M3712 3356l16-4-4-1-17 4z"/>
<path color=#f6f214 d="M3345 3352l12-2-13-6-12 2z"/>
<path color=#fad22a d="M3445 3362l8-2-12-9-8 2z"/>
<path color=#ecb94d d="M3474 3373l11-4-12-13-11 2z"/>
<path color=#a3be6c d="M3530 3394l13-14-11-15-13 8z"/>
<path color=#f7f512 d="M3306 3352l13-3-13-6-13 3z"/>
<path color=#f5e919 d="M3691 3359l16-4-6-2-16 4z"/>
<path color=#fad32a d="M3439 3363l6-1-12-9-6 1z"/>
<path color=#f5ec17 d="M3716 3358l16-5-4-1-16 4z"/>
<path color=#98bf70 d="M3553 3399l14-18-11-13-13 12z"/>
<path color=#f6f214 d="M3771 3356l17-4-8-3-17 4z"/>
<path color=#f5e71b d="M3404 3358l9-2-12-7-10 2z"/>
<path color=#adbe68 d="M3496 3391l11-8-11-19-11 5z"/>
<path color=#f6f015 d="M3369 3356l12-3-13-6-11 3z"/>
<path color=#f8f710 d="M3265 3352l14-3-13-6-15 3z"/>
<path color=#e5b950 d="M3464 3377l10-4-12-15-9 2z"/>
<path color=#a3be6c d="M3577 3396l14-19-10-10-14 14z"/>
<path color=#f5e020 d="M3669 3362l16-5-8-2-15 5z"/>
<path color=#f6f015 d="M3746 3358l17-5-8-2-16 4z"/>
<path color=#f7f313 d="M3332 3355l13-3-13-6-13 3z"/>
<path color=#f9d429 d="M3433 3364l6-1-12-9-6 1z"/>
<path color=#bebc61 d="M3600 3387l15-17-10-6-14 13z"/>
<path color=#fbd12b d="M3647 3367l15-7-8-3-16 7z"/>
<path color=#f5ba47 d="M3624 3376l14-12-9-4-14 10z"/>
<path color=#80bf7a d="M3518 3407l12-13-11-21-12 10z"/>
<path color=#f5ea19 d="M3696 3361l16-5-5-1-16 4z"/>
<path color=#f5ee17 d="M3722 3360l17-5-7-2-16 5z"/>
<path color=#f7f611 d="M3292 3355l14-3-13-6-14 3z"/>
<path color=#f5e91a d="M3393 3360l11-2-13-7-10 2z"/>
<path color=#f8d628 d="M3425 3365l8-1-12-9-8 1z"/>
<path color=#a0be6d d="M3485 3398l11-7-11-22-11 4z"/>
<path color=#e1b952 d="M3456 3379l8-2-11-17-8 2z"/>
<path color=#60be88 d="M3541 3416l12-17-10-19-13 14z"/>
<path color=#f6f114 d="M3357 3358l12-2-12-6-12 2z"/>
<path color=#f7f313 d="M3780 3359l17-4-9-3-17 4z"/>
<path color=#f5e11f d="M3676 3365l15-6-6-2-16 5z"/>
<path color=#f5eb18 d="M3700 3362l16-4-4-2-16 5z"/>
<path color=#f8f810 d="M3250 3355l15-3-14-6-14 4z"/>
<path color=#60be88 d="M3563 3418l14-22-10-15-14 18z"/>
<path color=#f6f114 d="M3755 3361l16-5-8-3-17 5z"/>
<path color=#f7f412 d="M3319 3358l13-3-13-6-13 3z"/>
<path color=#fad12b d="M3654 3370l15-8-7-2-15 7z"/>
<path color=#e1b952 d="M3450 3381l6-2-11-17-6 1z"/>
<path color=#5cbe8a d="M3507 3418l11-11-11-24-11 8z"/>
<path color=#80bf7a d="M3586 3410l14-23-9-10-14 19z"/>
<path color=#f6ef16 d="M3730 3362l16-4-7-3-17 5z"/>
<path color=#ecb94d d="M3632 3381l15-14-9-3-14 12z"/>
<path color=#adbe68 d="M3609 3397l15-21-9-6-15 17z"/>
<path color=#f7d826 d="M3415 3367l10-2-12-9-9 2z"/>
<path color=#f5ec18 d="M3382 3362l11-2-12-7-12 3z"/>
<path color=#96bf71 d="M3476 3403l9-5-11-25-10 4z"/>
<path color=#f5e31e d="M3680 3366l16-5-5-2-15 6z"/>
<path color=#f8f611 d="M3278 3358l14-3-13-6-14 3z"/>
<path color=#e3b951 d="M3445 3381l5 0-11-18-6 1z"/>
<path color=#f5ec17 d="M3706 3364l16-4-6-2-16 4z"/>
<path color=#4cbc92 d="M3528 3432l13-16-11-22-12 13z"/>
<path color=#f6f214 d="M3344 3361l13-3-12-6-13 3z"/>
<path color=#f7f412 d="M3790 3363l17-5-10-3-17 4z"/>
<path color=#47bb95 d="M3551 3438l12-20-10-19-12 17z"/>
<path color=#fad22a d="M3661 3373l15-8-7-3-15 8z"/>
<path color=#53bd8e d="M3496 3427l11-9-11-27-11 7z"/>
<path color=#f6dc23 d="M3405 3368l10-1-11-9-11 2z"/>
<path color=#90bf73 d="M3467 3406l9-3-12-26-8 2z"/>
<path color=#f6f213 d="M3763 3364l17-5-9-3-16 5z"/>
<path color=#f5e41d d="M3684 3367l16-5-4-1-16 5z"/>
<path color=#f7f512 d="M3305 3361l14-3-13-6-14 3z"/>
<path color=#e8b94f d="M3437 3382l8-1-12-17-8 1z"/>
<path color=#f8f80f d="M3235 3359l15-4-13-5-16 3z"/>
<path color=#4cbc92 d="M3573 3435l13-25-9-14-14 22z"/>
<path color=#f6f015 d="M3738 3365l17-4-9-3-16 4z"/>
<path color=#e5b950 d="M3639 3386l15-16-7-3-15 14z"/>
<path color=#f5ee16 d="M3369 3364l13-2-13-6-12 2z"/>
<path color=#5cbe8a d="M3595 3422l14-25-9-10-14 23z"/>
<path color=#a0be6d d="M3617 3404l15-23-8-5-15 21z"/>
<path color=#f5ee17 d="M3714 3367l16-5-8-2-16 4z"/>
<path color=#3fba9a d="M3517 3446l11-14-10-25-11 11z"/>
<path color=#8fbf74 d="M3462 3407l5-1-11-27-6 2z"/>
<path color=#f8f710 d="M3263 3361l15-3-13-6-15 3z"/>
<path color=#f6f313 d="M3331 3364l13-3-12-6-13 3z"/>
<path color=#fad32a d="M3665 3374l15-8-4-1-15 8z"/>
<path color=#f5e51c d="M3691 3370l15-6-6-2-16 5z"/>
<path color=#f1b949 d="M3427 3382l10 0-12-17-10 2z"/>
<path color=#4ebc91 d="M3486 3433l10-6-11-29-9 5z"/>
<path color=#f5e020 d="M3393 3369l12-1-12-8-11 2z"/>
<path color=#34b8a0 d="M3538 3457l13-19-10-22-13 16z"/>
<path color=#90bf73 d="M3456 3408l6-1-12-26-5 0z"/>
<path color=#e1b952 d="M3646 3389l15-16-7-3-15 16z"/>
<path color=#f7f511 d="M3290 3364l15-3-13-6-14 3z"/>
<path color=#f7f511 d="M3800 3367l17-5-10-4-17 5z"/>
<path color=#34b8a0 d="M3560 3458l13-23-10-17-12 20z"/>
<path color=#f6f015 d="M3357 3367l12-3-12-6-13 3z"/>
<path color=#f7f313 d="M3773 3368l17-5-10-4-17 5z"/>
<path color=#f9d429 d="M3669 3376l15-9-4-1-15 8z"/>
<path color=#f8f90f d="M3219 3363l16-4-14-6-15 4z"/>
<path color=#f6f114 d="M3747 3369l16-5-8-3-17 4z"/>
<path color=#35b8a0 d="M3506 3456l11-10-10-28-11 9z"/>
<path color=#96bf71 d="M3625 3410l14-24-7-5-15 23z"/>
<path color=#3fba9a d="M3582 3449l13-27-9-12-13 25z"/>
<path color=#53bd8e d="M3604 3432l13-28-8-7-14 25z"/>
<path color=#f6ef16 d="M3722 3370l16-5-8-3-16 5z"/>
<path color=#4bbc93 d="M3478 3436l8-3-10-30-9 3z"/>
<path color=#94bf72 d="M3448 3408l8 0-11-27-8 1z"/>
<path color=#fcbd3f d="M3416 3382l11 0-12-15-10 1z"/>
<path color=#f5e71b d="M3698 3372l16-5-8-3-15 6z"/>
<path color=#f7f413 d="M3317 3367l14-3-12-6-14 3z"/>
<path color=#f8f710 d="M3248 3365l15-4-13-6-15 4z"/>
<path color=#f5e41d d="M3381 3371l12-2-11-7-13 2z"/>
<path color=#26b5a9 d="M3527 3472l11-15-10-25-11 14z"/>
<path color=#e1b952 d="M3650 3390l15-16-4-1-15 16z"/>
<path color=#f8d628 d="M3676 3378l15-8-7-3-15 9z"/>
<path color=#4abc93 d="M3473 3438l5-2-11-30-5 1z"/>
<path color=#2fb7a3 d="M3497 3463l9-7-10-29-10 6z"/>
<path color=#21b4ac d="M3548 3478l12-20-9-20-13 19z"/>
<path color=#f6f114 d="M3343 3369l14-2-13-6-13 3z"/>
<path color=#9dbe6e d="M3438 3407l10 1-11-26-10 0z"/>
<path color=#90bf73 d="M3631 3414l15-25-7-3-14 24z"/>
<path color=#f7f611 d="M3276 3367l14-3-12-6-15 3z"/>
<path color=#26b5a9 d="M3569 3474l13-25-9-14-13 23z"/>
<path color=#fec833 d="M3405 3381l11 1-11-14-12 1z"/>
<path color=#e3b951 d="M3655 3392l14-16-4-2-15 16z"/>
<path color=#4abc93 d="M3467 3438l6 0-11-31-6 1z"/>
<path color=#4ebc91 d="M3611 3439l14-29-8-6-13 28z"/>
<path color=#35b8a0 d="M3590 3460l14-28-9-10-13 27z"/>
<path color=#f7f412 d="M3783 3372l17-5-10-4-17 5z"/>
<path color=#f8f90f d="M3203 3366l16-3-13-6-16 3z"/>
<path color=#f6f214 d="M3757 3372l16-4-10-4-16 5z"/>
<path color=#f7f611 d="M3810 3371l17-5-10-4-17 5z"/>
<path color=#f6f015 d="M3731 3373l16-4-9-4-16 5z"/>
<path color=#f5e91a d="M3707 3375l15-5-8-3-16 5z"/>
<path color=#1bb2b0 d="M3516 3484l11-12-10-26-11 10z"/>
<path color=#f5e91a d="M3368 3373l13-2-12-7-12 3z"/>
<path color=#f7f412 d="M3303 3370l14-3-12-6-15 3z"/>
<path color=#2cb7a5 d="M3489 3467l8-4-11-30-8 3z"/>
<path color=#f7d826 d="M3683 3380l15-8-7-2-15 8z"/>
<path color=#4cbc92 d="M3459 3438l8 0-11-30-8 0z"/>
<path color=#8fbf74 d="M3636 3416l14-26-4-1-15 25z"/>
<path color=#f8f810 d="M3232 3368l16-3-13-6-16 4z"/>
<path color=#abbe69 d="M3428 3405l10 2-11-25-11 0z"/>
<path color=#e8b94f d="M3661 3393l15-15-7-2-14 16z"/>
<path color=#f6f213 d="M3329 3372l14-3-12-5-14 3z"/>
<path color=#fad22a d="M3393 3381l12 0-12-12-12 2z"/>
<path color=#4bbc93 d="M3618 3443l13-29-6-4-14 29z"/>
<path color=#2bb6a6 d="M3483 3468l6-1-11-31-5 2z"/>
<path color=#f8f710 d="M3260 3371l16-4-13-6-15 4z"/>
<path color=#1bb2b0 d="M3577 3487l13-27-8-11-13 25z"/>
<path color=#2fb7a3 d="M3598 3468l13-29-7-7-14 28z"/>
<path color=#90bf73 d="M3640 3417l15-25-5-2-14 26z"/>
<path color=#50bc90 d="M3449 3436l10 2-11-30-10-1z"/>
<path color=#f9fa0f d="M3187 3370l16-4-13-6-16 4z"/>
<path color=#f6f114 d="M3741 3377l16-5-10-3-16 4z"/>
<path color=#f7f313 d="M3767 3376l16-4-10-4-16 4z"/>
<path color=#f5ed17 d="M3355 3375l13-2-11-6-14 2z"/>
<path color=#f5ec18 d="M3716 3378l15-5-9-3-15 5z"/>
<path color=#2bb6a6 d="M3477 3469l6-1-10-30-6 0z"/>
<path color=#f7f512 d="M3793 3376l17-5-10-4-17 5z"/>
<path color=#f6dc23 d="M3692 3382l15-7-9-3-15 8z"/>
<path color=#bcbd61 d="M3416 3401l12 4-12-23-11-1z"/>
<path color=#f8f710 d="M3821 3375l17-4-11-5-17 5z"/>
<path color=#f7f511 d="M3288 3373l15-3-13-6-14 3z"/>
<path color=#f1b949 d="M3668 3394l15-14-7-2-15 15z"/>
<path color=#4abc93 d="M3622 3445l14-29-5-2-13 29z"/>
<path color=#f8f90f d="M3216 3372l16-4-13-5-16 3z"/>
<path color=#94bf72 d="M3647 3418l14-25-6-1-15 25z"/>
<path color=#f6dc23 d="M3380 3381l13 0-12-10-13 2z"/>
<path color=#2cb7a5 d="M3469 3469l8 0-10-31-8 0z"/>
<path color=#f7f313 d="M3315 3375l14-3-12-5-14 3z"/>
<path color=#2cb7a5 d="M3604 3472l14-29-7-4-13 29z"/>
<path color=#57bd8d d="M3438 3432l11 4-11-29-10-2z"/>
<path color=#4abc93 d="M3626 3446l14-29-4-1-14 29z"/>
<path color=#f8f710 d="M3245 3374l15-3-12-6-16 3z"/>
<path color=#dcba54 d="M3404 3396l12 5-11-20-12 0z"/>
<path color=#f6f114 d="M3341 3378l14-3-12-6-14 3z"/>
<path color=#f5e020 d="M3700 3384l16-6-9-3-15 7z"/>
<path color=#f5ee16 d="M3725 3382l16-5-10-4-15 5z"/>
<path color=#f6f214 d="M3751 3381l16-5-10-4-16 5z"/>
<path color=#f9fa0e d="M3170 3374l17-4-13-6-17 4z"/>
<path color=#fcbd3f d="M3677 3395l15-13-9-2-15 14z"/>
<path color=#30b7a2 d="M3459 3466l10 3-10-31-10-2z"/>
<path color=#f7f611 d="M3273 3376l15-3-12-6-16 4z"/>
<path color=#f7f412 d="M3777 3380l16-4-10-4-16 4z"/>
<path color=#2bb6a6 d="M3609 3474l13-29-4-2-14 29z"/>
<path color=#9dbe6e d="M3654 3418l14-24-7-1-14 25z"/>
<path color=#f7f611 d="M3804 3380l17-5-11-4-17 5z"/>
<path color=#6cbf83 d="M3427 3426l11 6-10-27-12-4z"/>
<path color=#f5e41d d="M3367 3382l13-1-12-8-13 2z"/>
<path color=#f8f710 d="M3832 3380l17-5-11-4-17 4z"/>
<path color=#4cbc92 d="M3633 3447l14-29-7-1-14 29z"/>
<path color=#f8f90f d="M3200 3376l16-4-13-6-16 4z"/>
<path color=#f7f412 d="M3300 3379l15-4-12-5-15 3z"/>
<path color=#2bb6a6 d="M3613 3476l13-30-4-1-13 29z"/>
<path color=#fec03b d="M3391 3392l13 4-11-15-13 0z"/>
<path color=#37b99e d="M3449 3460l10 6-10-30-11-4z"/>
<path color=#f8f810 d="M3229 3378l16-4-13-6-16 4z"/>
<path color=#f6f214 d="M3327 3381l14-3-12-6-14 3z"/>
<path color=#fec833 d="M3686 3395l14-11-8-2-15 13z"/>
<path color=#abbe69 d="M3662 3416l15-21-9-1-14 24z"/>
<path color=#f5e41d d="M3710 3387l15-5-9-4-16 6z"/>
<path color=#94bf72 d="M3415 3418l12 8-11-25-12-5z"/>
<path color=#50bc90 d="M3640 3446l14-28-7 0-14 29z"/>
<path color=#f6f015 d="M3735 3385l16-4-10-4-16 5z"/>
<path color=#f8f711 d="M3257 3380l16-4-13-5-15 3z"/>
<path color=#f9fa0e d="M3153 3378l17-4-13-6-17 4z"/>
<path color=#f6f313 d="M3761 3385l16-5-10-4-16 5z"/>
<path color=#f5eb19 d="M3353 3384l14-2-12-7-14 3z"/>
<path color=#2cb7a5 d="M3619 3476l14-29-7-1-13 30z"/>
<path color=#f7f512 d="M3788 3384l16-4-11-4-16 4z"/>
<path color=#f8f611 d="M3815 3384l17-4-11-5-17 5z"/>
<path color=#f7f512 d="M3285 3382l15-3-12-6-15 3z"/>
<path color=#42bb98 d="M3437 3452l12 8-11-28-11-6z"/>
<path color=#f9f90f d="M3183 3380l17-4-13-6-17 4z"/>
<path color=#f9d429 d="M3378 3390l13 2-11-11-13 1z"/>
<path color=#f8f810 d="M3844 3385l17-5-12-5-17 5z"/>
<path color=#f7f313 d="M3312 3384l15-3-12-6-15 4z"/>
<path color=#f8f80f d="M3212 3382l17-4-13-6-16 4z"/>
<path color=#babd63 d="M3402 3409l13 9-11-22-13-4z"/>
<path color=#57bd8d d="M3648 3443l14-27-8 2-14 28z"/>
<path color=#bcbd61 d="M3671 3413l15-18-9 0-15 21z"/>
<path color=#fad22a d="M3695 3395l15-8-10-3-14 11z"/>
<path color=#f5e91a d="M3720 3390l15-5-10-3-15 5z"/>
<path color=#f6f015 d="M3338 3387l15-3-12-6-14 3z"/>
<path color=#f8f710 d="M3241 3383l16-3-12-6-16 4z"/>
<path color=#f6f114 d="M3746 3389l15-4-10-4-16 4z"/>
<path color=#51bd8f d="M3425 3441l12 11-10-26-12-8z"/>
<path color=#f7f413 d="M3772 3389l16-5-11-4-16 5z"/>
<path color=#f5e120 d="M3364 3390l14 0-11-8-14 2z"/>
<path color=#f7f611 d="M3269 3385l16-3-12-6-16 4z"/>
<path color=#f7f511 d="M3799 3389l16-5-11-4-16 4z"/>
<path color=#f9fa0e d="M3166 3384l17-4-13-6-17 4z"/>
<path color=#f8f710 d="M3827 3389l17-4-12-5-17 4z"/>
<path color=#efb94b d="M3389 3402l13 7-11-17-13-2z"/>
<path color=#f7f412 d="M3297 3387l15-3-12-5-15 3z"/>
<path color=#f8f80f d="M3856 3389l16-4-11-5-17 5z"/>
<path color=#6cbf83 d="M3657 3437l14-24-9 3-14 27z"/>
<path color=#f8f90f d="M3196 3385l16-3-12-6-17 4z"/>
<path color=#dcba54 d="M3681 3410l14-15-9 0-15 18z"/>
<path color=#78bf7d d="M3412 3429l13 12-10-23-13-9z"/>
<path color=#f6f214 d="M3324 3390l14-3-11-6-15 3z"/>
<path color=#f6dc23 d="M3705 3397l15-7-10-3-15 8z"/>
<path color=#f8f810 d="M3225 3387l16-4-12-5-17 4z"/>
<path color=#f5ed17 d="M3730 3394l16-5-11-4-15 5z"/>
<path color=#f5ea19 d="M3350 3392l14-2-11-6-15 3z"/>
<path color=#f6f213 d="M3756 3393l16-4-11-4-15 4z"/>
<path color=#f8f710 d="M3253 3389l16-4-12-5-16 3z"/>
<path color=#f7f412 d="M3783 3393l16-4-11-5-16 5z"/>
<path color=#fbd02c d="M3375 3398l14 4-11-12-14 0z"/>
<path color=#f7f611 d="M3811 3393l16-4-12-5-16 5z"/>
<path color=#f7f512 d="M3281 3391l16-4-12-5-16 3z"/>
<path color=#42bb98 d="M3644 3462l13-25-9 6-13 27z"/>
<path color=#94bf72 d="M3667 3430l14-20-10 3-14 24z"/>
<path color=#b1bd66 d="M3399 3416l13 13-10-20-13-7z"/>
<path color=#f8f710 d="M3839 3394l17-5-12-4-17 4z"/>
<path color=#f9fa0f d="M3179 3389l17-4-13-5-17 4z"/>
<path color=#fec03b d="M3691 3407l14-10-10-2-14 15z"/>
<path color=#f7f313 d="M3308 3393l16-3-12-6-15 3z"/>
<path color=#f8f90f d="M3868 3394l17-4-13-5-16 4z"/>
<path color=#4cbc92 d="M3422 3448l13 16-10-23-13-12z"/>
<path color=#f5e41d d="M3716 3399l14-5-10-4-15 7z"/>
<path color=#f8f90f d="M3208 3391l17-4-13-5-16 3z"/>
<path color=#f6f015 d="M3335 3395l15-3-12-5-14 3z"/>
<path color=#f6f114 d="M3741 3398l15-5-10-4-16 5z"/>
<path color=#f8f710 d="M3237 3393l16-4-12-6-16 4z"/>
<path color=#f5e11f d="M3360 3398l15 0-11-8-14 2z"/>
<path color=#f7f313 d="M3768 3398l15-5-11-4-16 4z"/>
<path color=#51bd8f d="M3654 3452l13-22-10 7-13 25z"/>
<path color=#f7f511 d="M3795 3398l16-5-12-4-16 4z"/>
<path color=#efb94a d="M3385 3408l14 8-10-14-14-4z"/>
<path color=#f7f611 d="M3265 3394l16-3-12-6-16 4z"/>
<path color=#babd63 d="M3677 3422l14-15-10 3-14 20z"/>
<path color=#f8f710 d="M3823 3398l16-4-12-5-16 4z"/>
<path color=#78bf7d d="M3409 3432l13 16-10-19-13-13z"/>
<path color=#f7f412 d="M3293 3396l15-3-11-6-16 4z"/>
<path color=#f9d429 d="M3701 3406l15-7-11-2-14 10z"/>
<path color=#f8f810 d="M3851 3399l17-5-12-5-17 5z"/>
<path color=#f6f213 d="M3320 3398l15-3-11-5-16 3z"/>
<path color=#f5eb19 d="M3726 3402l15-4-11-4-14 5z"/>
<path color=#f8f90f d="M3191 3395l17-4-12-6-17 4z"/>
<path color=#3639a6 d="M3542 3621l6-5-4 2-6 12z"/>
<path color=#f8f90f d="M3880 3399l17-4-12-5-17 4z"/>
<path color=#f5eb18 d="M3346 3400l14-2-10-6-15 3z"/>
<path color=#f6f214 d="M3752 3402l16-4-12-5-15 5z"/>
<path color=#f8f810 d="M3220 3396l17-3-12-6-17 4z"/>
<path color=#f9d429 d="M3371 3405l14 3-10-10-15 0z"/>
<path color=#f7f412 d="M3779 3402l16-4-12-5-15 5z"/>
<path color=#0971de d="M3510 3587l10 16-7-12-9-13z"/>
<path color=#274ecc d="M3524 3607l8 14-4-6-8-12z"/>
<path color=#78bf7d d="M3664 3441l13-19-10 8-13 22z"/>
<path color=#f8f710 d="M3249 3398l16-4-12-5-16 4z"/>
<path color=#3639a6 d="M3537 3618l5 3-4 9-6-9z"/>
<path color=#babd62 d="M3395 3419l14 13-10-16-14-8z"/>
<path color=#f7f611 d="M3807 3402l16-4-12-5-16 5z"/>
<path color=#efb94b d="M3687 3416l14-10-10 1-14 15z"/>
<path color=#f7f511 d="M3277 3399l16-3-12-5-16 3z"/>
<path color=#274ecc d="M3549 3608l5-3-6 11-6 5z"/>
<path color=#f7f413 d="M3304 3401l16-3-12-5-15 3z"/>
<path color=#264ecc d="M3529 3607l8 11-5 3-8-14z"/>
<path color=#f5e120 d="M3712 3407l14-5-10-3-15 7z"/>
<path color=#f8f710 d="M3835 3403l16-4-12-5-16 4z"/>
<path color=#0971de d="M3562 3590l8-8-7 12-9 11z"/>
<path color=#046ce0 d="M3515 3590l9 17-4-4-10-16z"/>
<path color=#264ecc d="M3543 3607l6 1-7 13-5-3z"/>
<path color=#1484d4 d="M3500 3569l10 18-6-9-11-16z"/>
<path color=#f6f114 d="M3330 3403l16-3-11-5-15 3z"/>
<path color=#f6f015 d="M3738 3406l14-4-11-4-15 4z"/>
<path color=#f8f90f d="M3864 3404l16-5-12-5-17 5z"/>
<path color=#118ed2 d="M3578 3566l10-11-8 13-10 14z"/>
<path color=#f5e41d d="M3356 3405l15 0-11-7-14 2z"/>
<path color=#f8f90f d="M3204 3400l16-4-12-5-17 4z"/>
<path color=#f7f313 d="M3764 3406l15-4-11-4-16 4z"/>
<path color=#fec139 d="M3381 3412l14 7-10-11-14-3z"/>
<path color=#046ce0 d="M3556 3592l6-2-8 15-5 3z"/>
<path color=#f9fa0f d="M3893 3405l17-5-13-5-17 4z"/>
<path color=#046ce0 d="M3519 3591l10 16-5 0-9-17z"/>
<path color=#0a5edf d="M3535 3600l8 7-6 11-8-11z"/>
<path color=#f8f810 d="M3232 3402l17-4-12-5-17 3z"/>
<path color=#06a3cb d="M3597 3539l11-14-9 14-11 16z"/>
<path color=#b1bd66 d="M3674 3430l13-14-10 6-13 19z"/>
<path color=#96bf71 d="M3405 3431l14 17-10-16-14-13z"/>
<path color=#1481d6 d="M3504 3572l11 18-5-3-10-18z"/>
<path color=#f7f512 d="M3791 3407l16-5-12-4-16 4z"/>
<path color=#f8f611 d="M3261 3403l16-4-12-5-16 4z"/>
<path color=#046ce0 d="M3551 3592l5 0-7 16-6-1z"/>
<path color=#089ad1 d="M3488 3549l12 20-7-7-11-19z"/>
<path color=#06a8c4 d="M3469 3523l13 20-8-10-12-19z"/>
<path color=#13b0b6 d="M3617 3509l12-16-10 14-11 18z"/>
<path color=#fbd02c d="M3698 3414l14-7-11-1-14 10z"/>
<path color=#1484d4 d="M3570 3573l8-7-8 16-8 8z"/>
<path color=#f7f512 d="M3288 3404l16-3-11-5-16 3z"/>
<path color=#f8f711 d="M3819 3407l16-4-12-5-16 4z"/>
<path color=#0971de d="M3525 3587l10 13-6 7-10-16z"/>
<path color=#f6f313 d="M3315 3406l15-3-10-5-16 3z"/>
<path color=#f5ea19 d="M3723 3411l15-5-12-4-14 5z"/>
<path color=#1481d6 d="M3508 3573l11 18-4-1-11-18z"/>
<path color=#079dcf d="M3587 3548l10-9-9 16-10 11z"/>
<path color=#f5ee16 d="M3341 3408l15-3-10-5-16 3z"/>
<path color=#0971de d="M3542 3588l9 4-8 15-8-7z"/>
<path color=#f8f810 d="M3847 3408l17-4-13-5-16 4z"/>
<path color=#1481d6 d="M3565 3575l5-2-8 17-6 2z"/>
<path color=#f6dd22 d="M3366 3411l15 1-10-7-15 0z"/>
<path color=#0998d1 d="M3492 3552l12 20-4-3-12-20z"/>
<path color=#f6f214 d="M3749 3410l15-4-12-4-14 4z"/>
<path color=#dfba53 d="M3390 3419l15 12-10-12-14-7z"/>
<path color=#09abbf d="M3607 3521l10-12-9 16-11 14z"/>
<path color=#f8f90f d="M3876 3409l17-4-13-6-16 5z"/>
<path color=#06a6c7 d="M3476 3528l12 21-6-6-13-20z"/>
<path color=#f8f80f d="M3215 3405l17-3-12-6-16 4z"/>
<path color=#16b1b4 d="M3457 3501l12 22-7-9-13-21z"/>
<path color=#1481d6 d="M3559 3575l6 0-9 17-5 0z"/>
<path color=#f7f412 d="M3776 3411l15-4-12-5-15 4z"/>
<path color=#efb94a d="M3685 3422l13-8-11 2-13 14z"/>
<path color=#1484d4 d="M3515 3571l10 16-6 4-11-18z"/>
<path color=#089ad1 d="M3579 3554l8-6-9 18-8 7z"/>
<path color=#f8f710 d="M3244 3407l17-4-12-5-17 4z"/>
<path color=#127cd8 d="M3533 3579l9 9-7 12-10-13z"/>
<path color=#f9fa0e d="M3906 3410l17-4-13-6-17 5z"/>
<path color=#0998d1 d="M3497 3553l11 20-4-1-12-20z"/>
<path color=#29b6a7 d="M3627 3490l12-14-10 17-12 16z"/>
<path color=#f7f611 d="M3272 3408l16-4-11-5-16 4z"/>
<path color=#f7f611 d="M3803 3412l16-5-12-5-16 5z"/>
<path color=#f5e11f d="M3709 3415l14-4-11-4-14 7z"/>
<path color=#1484d4 d="M3551 3573l8 2-8 17-9-4z"/>
<path color=#f7f412 d="M3299 3409l16-3-11-5-16 3z"/>
<path color=#06a5c8 d="M3480 3530l12 22-4-3-12-21z"/>
<path color=#06a8c4 d="M3597 3529l10-8-10 18-10 9z"/>
<path color=#0998d1 d="M3574 3556l5-2-9 19-5 2z"/>
<path color=#f6f214 d="M3325 3411l16-3-11-5-15 3z"/>
<path color=#f8f710 d="M3831 3412l16-4-12-5-16 4z"/>
<path color=#f6f015 d="M3735 3414l14-4-11-4-15 5z"/>
<path color=#f5ea19 d="M3351 3412l15-1-10-6-15 3z"/>
<path color=#12afb7 d="M3463 3506l13 22-7-5-12-22z"/>
<path color=#f9d429 d="M3376 3416l14 3-9-7-15-1z"/>
<path color=#089ad1 d="M3503 3552l12 19-7 2-11-20z"/>
<path color=#108ed2 d="M3522 3565l11 14-8 8-10-16z"/>
<path color=#babd62 d="M3672 3433l13-11-11 8-13 15z"/>
<path color=#0998d1 d="M3568 3557l6-1-9 19-6 0z"/>
<path color=#1db3af d="M3617 3501l10-11-10 19-10 12z"/>
<path color=#f8f80f d="M3860 3413l16-4-12-5-17 4z"/>
<path color=#06a5c8 d="M3485 3532l12 21-5-1-12-22z"/>
<path color=#f7f313 d="M3761 3415l15-4-12-5-15 4z"/>
<path color=#108ed2 d="M3541 3566l10 7-9 15-9-9z"/>
<path color=#06a6c7 d="M3589 3534l8-5-10 19-8 6z"/>
<path color=#f8f810 d="M3227 3410l17-3-12-5-17 3z"/>
<path color=#f9d429 d="M3696 3421l13-6-11-1-13 8z"/>
<path color=#f9f90f d="M3889 3414l17-4-13-5-17 4z"/>
<path color=#10afb8 d="M3467 3508l13 22-4-2-13-22z"/>
<path color=#f7f512 d="M3788 3416l15-4-12-5-15 4z"/>
<path color=#f8f710 d="M3255 3412l17-4-11-5-17 4z"/>
<path color=#089ad1 d="M3560 3555l8 2-9 18-8-2z"/>
<path color=#f7f511 d="M3283 3413l16-4-11-5-16 4z"/>
<path color=#079dcf d="M3511 3548l11 17-7 6-12-19z"/>
<path color=#06a6c7 d="M3491 3532l12 20-6 1-12-21z"/>
<path color=#06a5c8 d="M3583 3536l6-2-10 20-5 2z"/>
<path color=#16b1b4 d="M3607 3508l10-7-10 20-10 8z"/>
<path color=#f5eb18 d="M3721 3419l14-5-12-3-14 4z"/>
<path color=#f7f413 d="M3309 3414l16-3-10-5-16 3z"/>
<path color=#f9fa0e d="M3919 3416l17-5-13-5-17 4z"/>
<path color=#f8f710 d="M3816 3416l15-4-12-5-16 5z"/>
<path color=#0899d1 d="M3531 3555l10 11-8 13-11-14z"/>
<path color=#f6f114 d="M3335 3415l16-3-10-4-16 3z"/>
<path color=#f5e61b d="M3360 3417l16-1-10-5-15 1z"/>
<path color=#fdca31 d="M3384 3421l15 5-9-7-14-3z"/>
<path color=#10afb8 d="M3472 3509l13 23-5-2-13-22z"/>
<path color=#06a5c8 d="M3577 3536l6 0-9 20-6 1z"/>
<path color=#f6f213 d="M3747 3419l14-4-12-5-14 4z"/>
<path color=#079dcf d="M3550 3550l10 5-9 18-10-7z"/>
<path color=#f8f810 d="M3844 3417l16-4-13-5-16 4z"/>
<path color=#38b99e d="M3627 3480l11-9-11 19-10 11z"/>
<path color=#fec139 d="M3683 3427l13-6-11 1-13 11z"/>
<path color=#12afb7 d="M3599 3512l8-4-10 21-8 5z"/>
<path color=#f7f412 d="M3773 3420l15-4-12-5-15 4z"/>
<path color=#06a8c4 d="M3499 3529l12 19-8 4-12-20z"/>
<path color=#f8f90f d="M3873 3419l16-5-13-5-16 4z"/>
<path color=#12afb7 d="M3478 3510l13 22-6 0-13-23z"/>
<path color=#06a6c7 d="M3569 3536l8 0-9 21-8-2z"/>
<path color=#06a3ca d="M3519 3541l12 14-9 10-11-17z"/>
<path color=#f8f810 d="M3238 3415l17-3-11-5-17 3z"/>
<path color=#f5e41d d="M3708 3423l13-4-12-4-13 6z"/>
<path color=#f8f611 d="M3266 3416l17-3-11-5-17 4z"/>
<path color=#06a3ca d="M3539 3542l11 8-9 16-10-11z"/>
<path color=#10afb8 d="M3593 3514l6-2-10 22-6 2z"/>
<path color=#f7f512 d="M3293 3417l16-3-10-5-16 4z"/>
<path color=#f7f611 d="M3800 3420l16-4-13-4-15 4z"/>
<path color=#31b8a2 d="M3617 3487l10-7-10 21-10 7z"/>
<path color=#fec13a d="M3393 3425l15 8-9-7-15-5z"/>
<path color=#f9fa0e d="M3902 3420l17-4-13-6-17 4z"/>
<path color=#f6f313 d="M3319 3418l16-3-10-4-16 3z"/>
<path color=#f6f015 d="M3345 3420l15-3-9-5-16 3z"/>
<path color=#f5e21e d="M3369 3421l15 0-8-5-16 1z"/>
<path color=#f6f114 d="M3733 3423l14-4-12-5-14 5z"/>
<path color=#dfba53 d="M3671 3433l12-6-11 6-12 10z"/>
<path color=#06a8c4 d="M3560 3532l9 4-9 19-10-5z"/>
<path color=#10afb8 d="M3587 3515l6-1-10 22-6 0z"/>
<path color=#f8f710 d="M3828 3422l16-5-13-5-15 4z"/>
<path color=#16b1b4 d="M3486 3508l13 21-8 3-13-22z"/>
<path color=#09abbf d="M3507 3523l12 18-8 7-12-19z"/>
<path color=#f7f413 d="M3759 3423l14-3-12-5-14 4z"/>
<path color=#2db7a4 d="M3609 3490l8-3-10 21-8 4z"/>
<path color=#f6dd22 d="M3695 3427l13-4-12-2-13 6z"/>
<path color=#07a9c2 d="M3528 3529l11 13-8 13-12-14z"/>
<path color=#f8f90f d="M3857 3423l16-4-13-6-16 4z"/>
<path color=#12afb7 d="M3579 3515l8 0-10 21-8 0z"/>
<path color=#f9bb43 d="M3400 3429l15 9-7-5-15-8z"/>
<path color=#09abbf d="M3549 3525l11 7-10 18-11-8z"/>
<path color=#f7f511 d="M3786 3424l14-4-12-4-15 4z"/>
<path color=#f8f710 d="M3249 3420l17-4-11-4-17 3z"/>
<path color=#f5df20 d="M3378 3425l15 0-9-4-15 0z"/>
<path color=#f7f611 d="M3276 3421l17-4-10-4-17 3z"/>
<path color=#2cb7a5 d="M3603 3492l6-2-10 22-6 2z"/>
<path color=#f5ee16 d="M3354 3424l15-3-9-4-15 3z"/>
<path color=#f5ee16 d="M3719 3426l14-3-12-4-13 4z"/>
<path color=#f7f412 d="M3303 3422l16-4-10-4-16 3z"/>
<path color=#f6f313 d="M3329 3423l16-3-10-5-16 3z"/>
<path color=#f9fa0f d="M3886 3424l16-4-13-6-16 5z"/>
<path color=#1eb3ae d="M3494 3504l13 19-8 6-13-21z"/>
<path color=#16b1b4 d="M3570 3512l9 3-10 21-9-4z"/>
<path color=#f8f710 d="M3813 3426l15-4-12-6-16 4z"/>
<path color=#2cb7a5 d="M3598 3493l5-1-10 22-6 1z"/>
<path color=#13b0b6 d="M3516 3514l12 15-9 12-12-18z"/>
<path color=#f9d429 d="M3683 3431l12-4-12 0-12 6z"/>
<path color=#f6f313 d="M3745 3427l14-4-12-4-14 4z"/>
<path color=#f3b948 d="M3407 3432l14 9-6-3-15-9z"/>
<path color=#13b0b6 d="M3538 3515l11 10-10 17-11-13z"/>
<path color=#f8f810 d="M3841 3427l16-4-13-6-16 5z"/>
<path color=#f6dd22 d="M3385 3428l15 1-7-4-15 0z"/>
<path color=#2db7a4 d="M3590 3493l8 0-11 22-8 0z"/>
<path color=#f7f512 d="M3771 3428l15-4-13-4-14 3z"/>
<path color=#f5ea19 d="M3707 3430l12-4-11-3-13 4z"/>
<path color=#1eb3ae d="M3559 3507l11 5-10 20-11-7z"/>
<path color=#f5ed17 d="M3362 3427l16-2-9-4-15 3z"/>
<path color=#f6f213 d="M3338 3427l16-3-9-4-16 3z"/>
<path color=#f8f710 d="M3259 3425l17-4-10-5-17 4z"/>
<path color=#f7f412 d="M3313 3426l16-3-10-5-16 4z"/>
<path color=#f8f90f d="M3870 3428l16-4-13-5-16 4z"/>
<path color=#f7f611 d="M3286 3425l17-3-10-5-17 4z"/>
<path color=#f0b94a d="M3411 3434l15 9-5-2-14-9z"/>
<path color=#fdca31 d="M3671 3435l12-4-12 2-11 6z"/>
<path color=#29b6a7 d="M3503 3497l13 17-9 9-13-19z"/>
<path color=#f8f611 d="M3798 3429l15-3-13-6-14 4z"/>
<path color=#f6f214 d="M3732 3431l13-4-12-4-14 3z"/>
<path color=#24b5aa d="M3525 3502l13 13-10 14-12-15z"/>
<path color=#31b8a2 d="M3580 3492l10 1-11 22-9-3z"/>
<path color=#f6db23 d="M3392 3431l15 1-7-3-15-1z"/>
<path color=#f0b94a d="M3415 3436l15 9-4-2-15-9z"/>
<path color=#29b6a7 d="M3548 3499l11 8-10 18-11-10z"/>
<path color=#f5e61b d="M3694 3433l13-3-12-3-12 4z"/>
<path color=#f8f810 d="M3826 3431l15-4-13-5-15 4z"/>
<path color=#f7f412 d="M3757 3432l14-4-12-5-14 4z"/>
<path color=#f5ec18 d="M3370 3431l15-3-7-3-16 2z"/>
<path color=#fec13a d="M3661 3438l10-3-11 4-11 6z"/>
<path color=#f6f214 d="M3346 3430l16-3-8-3-16 3z"/>
<path color=#38b99e d="M3569 3488l11 4-10 20-11-5z"/>
<path color=#f7f412 d="M3321 3430l17-3-9-4-16 3z"/>
<path color=#f8f90f d="M3855 3432l15-4-13-5-16 4z"/>
<path color=#f6db24 d="M3396 3433l15 1-4-2-15-1z"/>
<path color=#f7f511 d="M3296 3430l17-4-10-4-17 3z"/>
<path color=#f6f114 d="M3719 3434l13-3-13-5-12 4z"/>
<path color=#f8f710 d="M3269 3429l17-4-10-4-17 4z"/>
<path color=#f7f611 d="M3784 3433l14-4-12-5-15 4z"/>
<path color=#f3b948 d="M3422 3438l15 9-7-2-15-9z"/>
<path color=#38b99e d="M3535 3488l13 11-10 16-13-13z"/>
<path color=#f5e21e d="M3683 3436l11-3-11-2-12 4z"/>
<path color=#f9bb43 d="M3651 3441l10-3-12 7-10 4z"/>
<path color=#f5eb18 d="M3376 3433l16-2-7-3-15 3z"/>
<path color=#f6db24 d="M3400 3435l15 1-4-2-15-1z"/>
<path color=#f7f413 d="M3744 3435l13-3-12-5-13 4z"/>
<path color=#f8f710 d="M3811 3435l15-4-13-5-15 3z"/>
<path color=#43bb97 d="M3558 3481l11 7-10 19-11-8z"/>
<path color=#f6f214 d="M3354 3434l16-3-8-4-16 3z"/>
<path color=#f6f015 d="M3707 3437l12-3-12-4-13 3z"/>
<path color=#f9bb43 d="M3429 3441l15 7-7-1-15-9z"/>
<path color=#f7f413 d="M3330 3434l16-4-8-3-17 3z"/>
<path color=#f8f80f d="M3839 3436l16-4-14-5-15 4z"/>
<path color=#f3b948 d="M3643 3444l8-3-12 8-8 3z"/>
<path color=#f7f511 d="M3770 3437l14-4-13-5-14 4z"/>
<path color=#f5eb18 d="M3380 3435l16-2-4-2-16 2z"/>
<path color=#f7f511 d="M3305 3433l16-3-8-4-17 4z"/>
<path color=#f5df20 d="M3672 3439l11-3-12-1-10 3z"/>
<path color=#f6dc23 d="M3407 3438l15 0-7-2-15-1z"/>
<path color=#f8f711 d="M3279 3433l17-3-10-5-17 4z"/>
<path color=#f6f313 d="M3731 3439l13-4-12-4-13 3z"/>
<path color=#f6f214 d="M3360 3436l16-3-6-2-16 3z"/>
<path color=#f0b94a d="M3637 3445l6-1-12 8-5 1z"/>
<path color=#f8f710 d="M3797 3438l14-3-13-6-14 4z"/>
<path color=#f5eb18 d="M3385 3437l15-2-4-2-16 2z"/>
<path color=#f5ee16 d="M3695 3440l12-3-13-4-11 3z"/>
<path color=#f6dd22 d="M3663 3442l9-3-11-1-10 3z"/>
<path color=#fec13a d="M3438 3443l14 6-8-1-15-7z"/>
<path color=#f7f413 d="M3337 3437l17-3-8-4-16 4z"/>
<path color=#f6dd22 d="M3414 3441l15 0-7-3-15 0z"/>
<path color=#f7f512 d="M3757 3440l13-3-13-5-13 3z"/>
<path color=#f7f512 d="M3313 3437l17-3-9-4-16 3z"/>
<path color=#f8f810 d="M3825 3440l14-4-13-5-15 4z"/>
<path color=#f6f214 d="M3364 3438l16-3-4-2-16 3z"/>
<path color=#f5eb18 d="M3391 3440l16-2-7-3-15 2z"/>
<path color=#f8f611 d="M3288 3437l17-4-9-3-17 3z"/>
<path color=#f6f313 d="M3719 3442l12-3-12-5-12 3z"/>
<path color=#f3b948 d="M3623 3448l8-1-11 7-8 2z"/>
<path color=#f6db23 d="M3655 3444l8-2-12-1-8 3z"/>
<path color=#f5ed17 d="M3685 3443l10-3-12-4-11 3z"/>
<path color=#f8f611 d="M3783 3442l14-4-13-5-14 4z"/>
<path color=#f7f313 d="M3344 3440l16-4-6-2-17 3z"/>
<path color=#f6f214 d="M3369 3440l16-3-5-2-16 3z"/>
<path color=#fdca30 d="M3447 3446l14 4-9-1-14-6z"/>
<path color=#f5df20 d="M3422 3444l16-1-9-2-15 0z"/>
<path color=#f6db24 d="M3649 3445l6-1-12 0-6 1z"/>
<path color=#f7f412 d="M3744 3443l13-3-13-5-13 4z"/>
<path color=#f7f512 d="M3321 3440l16-3-7-3-17 3z"/>
<path color=#f5ec18 d="M3399 3443l15-2-7-3-16 2z"/>
<path color=#f8f810 d="M3810 3443l15-3-14-5-14 3z"/>
<path color=#f6f213 d="M3708 3445l11-3-12-5-12 3z"/>
<path color=#f5ec18 d="M3675 3445l10-2-13-4-9 3z"/>
<path color=#f8f611 d="M3296 3441l17-4-8-4-17 4z"/>
<path color=#f7f313 d="M3348 3441l16-3-4-2-16 4z"/>
<path color=#f6f214 d="M3375 3443l16-3-6-3-16 3z"/>
<path color=#f7f611 d="M3770 3445l13-3-13-5-13 3z"/>
<path color=#fec13a d="M3603 3452l11-2-12 6-11 0z"/>
<path color=#f6dc23 d="M3635 3449l8-2-12 0-8 1z"/>
<path color=#f7f412 d="M3732 3447l12-4-13-4-12 3z"/>
<path color=#f7f313 d="M3352 3443l17-3-5-2-16 3z"/>
<path color=#f7f512 d="M3327 3443l17-3-7-3-16 3z"/>
<path color=#f5eb18 d="M3667 3448l8-3-12-3-8 2z"/>
<path color=#f5e21e d="M3431 3447l16-1-9-3-16 1z"/>
<path color=#f9d429 d="M3456 3449l15 1-10 0-14-4z"/>
<path color=#f6f214 d="M3697 3447l11-2-13-5-10 3z"/>
<path color=#f5ed17 d="M3407 3446l15-2-8-3-15 2z"/>
<path color=#f8f710 d="M3796 3447l14-4-13-5-14 4z"/>
<path color=#f6f214 d="M3383 3446l16-3-8-3-16 3z"/>
<path color=#f7f611 d="M3304 3444l17-4-8-3-17 4z"/>
<path color=#f5eb18 d="M3661 3449l6-1-12-4-6 1z"/>
<path color=#f6dd22 d="M3626 3451l9-2-12-1-9 2z"/>
<path color=#f7f611 d="M3757 3448l13-3-13-5-13 3z"/>
<path color=#f7f313 d="M3359 3446l16-3-6-3-17 3z"/>
<path color=#f7f512 d="M3331 3445l17-4-4-1-17 3z"/>
<path color=#fdca30 d="M3592 3453l11-1-12 4-11-1z"/>
<path color=#f7f412 d="M3720 3450l12-3-13-5-11 3z"/>
<path color=#f6f214 d="M3687 3450l10-3-12-4-10 2z"/>
<path color=#f5eb18 d="M3656 3450l5-1-12-4-6 2z"/>
<path color=#fec139 d="M3555 3455l13 0-11 6-13-4z"/>
<path color=#f5ee16 d="M3416 3450l15-3-9-3-15 2z"/>
<path color=#f5e61b d="M3441 3451l15-2-9-3-16 1z"/>
<path color=#f7f512 d="M3336 3447l16-4-4-2-17 4z"/>
<path color=#f7f611 d="M3310 3447l17-4-6-3-17 4z"/>
<path color=#f6dd22 d="M3466 3452l15 0-10-2-15-1z"/>
<path color=#f8f710 d="M3783 3450l13-3-13-5-13 3z"/>
<path color=#f6f214 d="M3391 3449l16-3-8-3-16 3z"/>
<path color=#f5df20 d="M3615 3453l11-2-12-1-11 2z"/>
<path color=#f5eb18 d="M3647 3452l9-2-13-3-8 2z"/>
<path color=#f9d429 d="M3491 3454l15 0-11 1-14-3z"/>
<path color=#f7f413 d="M3366 3449l17-3-8-3-16 3z"/>
<path color=#f6f214 d="M3679 3452l8-2-12-5-8 3z"/>
<path color=#f7f511 d="M3745 3452l12-4-13-5-12 4z"/>
<path color=#f9d429 d="M3579 3455l13-2-12 2-12 0z"/>
<path color=#f7f413 d="M3710 3452l10-2-12-5-11 2z"/>
<path color=#fbd12b d="M3517 3456l13-1-10 2-14-3z"/>
<path color=#f7f512 d="M3342 3450l17-4-7-3-16 4z"/>
<path color=#f7f611 d="M3314 3449l17-4-4-2-17 4z"/>
<path color=#f6f214 d="M3674 3453l5-1-12-4-6 1z"/>
<path color=#f5ec18 d="M3638 3455l9-3-12-3-9 2z"/>
<path color=#f5e21e d="M3603 3456l12-3-12-1-11 1z"/>
<path color=#f8f710 d="M3770 3454l13-4-13-5-13 3z"/>
<path color=#f6f015 d="M3425 3454l16-3-10-4-15 3z"/>
<path color=#f6f213 d="M3400 3453l16-3-9-4-16 3z"/>
<path color=#f5ea19 d="M3451 3455l15-3-10-3-15 2z"/>
<path color=#f7f413 d="M3700 3455l10-3-13-5-10 3z"/>
<path color=#f7f511 d="M3733 3454l12-2-13-5-12 3z"/>
<path color=#f7f611 d="M3319 3450l17-3-5-2-17 4z"/>
<path color=#f6f214 d="M3668 3455l6-2-13-4-5 1z"/>
<path color=#f7f413 d="M3375 3453l16-4-8-3-17 3z"/>
<path color=#f6dd22 d="M3567 3457l12-2-11 0-13 0z"/>
<path color=#f5e51d d="M3477 3456l14-2-10-2-15 0z"/>
<path color=#f7f512 d="M3350 3453l16-4-7-3-17 4z"/>
<path color=#f5e11f d="M3502 3457l15-1-11-2-15 0z"/>
<path color=#f5ed17 d="M3627 3457l11-2-12-4-11 2z"/>
<path color=#f6f214 d="M3660 3457l8-2-12-5-9 2z"/>
<path color=#f5e61b d="M3591 3458l12-2-11-3-13 2z"/>
<path color=#f7f313 d="M3692 3457l8-2-13-5-8 2z"/>
<path color=#f5e11f d="M3528 3459l14-2-12-2-13 1z"/>
<path color=#f7f611 d="M3325 3453l17-3-6-3-17 3z"/>
<path color=#f8f711 d="M3758 3457l12-3-13-6-12 4z"/>
<path color=#f7f512 d="M3723 3457l10-3-13-4-10 2z"/>
<path color=#f6f313 d="M3409 3457l16-3-9-4-16 3z"/>
<path color=#f5e51d d="M3553 3460l14-3-12-2-13 2z"/>
<path color=#f6f114 d="M3435 3458l16-3-10-4-16 3z"/>
<path color=#f7f412 d="M3384 3456l16-3-9-4-16 4z"/>
<path color=#f7f313 d="M3686 3458l6-1-13-5-5 1z"/>
<path color=#f6f214 d="M3650 3459l10-2-13-5-9 3z"/>
<path color=#f5ee16 d="M3461 3459l16-3-11-4-15 3z"/>
<path color=#f5ee16 d="M3616 3460l11-3-12-4-12 3z"/>
<path color=#f7f512 d="M3358 3456l17-3-9-4-16 4z"/>
<path color=#f5eb18 d="M3487 3460l15-3-11-3-14 2z"/>
<path color=#f7f611 d="M3333 3456l17-3-8-3-17 3z"/>
<path color=#f5ea19 d="M3578 3461l13-3-12-3-12 2z"/>
<path color=#f7f313 d="M3681 3459l5-1-12-5-6 2z"/>
<path color=#f7f512 d="M3713 3460l10-3-13-5-10 3z"/>
<path color=#f8f611 d="M3747 3460l11-3-13-5-12 2z"/>
<path color=#f5ea19 d="M3513 3461l15-2-11-3-15 1z"/>
<path color=#f6f214 d="M3640 3462l10-3-12-4-11 2z"/>
<path color=#f5eb18 d="M3539 3463l14-3-11-3-14 2z"/>
<path color=#f7f313 d="M3672 3461l9-2-13-4-8 2z"/>
<path color=#f6f015 d="M3603 3462l13-2-13-4-12 2z"/>
<path color=#f7f512 d="M3705 3462l8-2-13-5-8 2z"/>
<path color=#f7f412 d="M3393 3460l16-3-9-4-16 3z"/>
<path color=#f7f313 d="M3419 3461l16-3-10-4-16 3z"/>
<path color=#f7f511 d="M3367 3460l17-4-9-3-17 3z"/>
<path color=#f6f214 d="M3446 3462l15-3-10-4-16 3z"/>
<path color=#f8f611 d="M3736 3462l11-2-14-6-10 3z"/>
<path color=#f8f611 d="M3341 3460l17-4-8-3-17 3z"/>
<path color=#f5ee16 d="M3565 3464l13-3-11-4-14 3z"/>
<path color=#f6f114 d="M3472 3463l15-3-10-4-16 3z"/>
<path color=#f7f413 d="M3663 3464l9-3-12-4-10 2z"/>
<path color=#f7f512 d="M3699 3463l6-1-13-5-6 1z"/>
<path color=#f6f213 d="M3628 3464l12-2-13-5-11 3z"/>
<path color=#f6f015 d="M3499 3464l14-3-11-4-15 3z"/>
<path color=#f6f114 d="M3591 3465l12-3-12-4-13 3z"/>
<path color=#f6f015 d="M3525 3466l14-3-11-4-15 2z"/>
<path color=#f7f512 d="M3694 3464l5-1-13-5-5 1z"/>
<path color=#f7f611 d="M3726 3465l10-3-13-5-10 3z"/>
<path color=#f7f412 d="M3403 3464l16-3-10-4-16 3z"/>
<path color=#f7f511 d="M3377 3464l16-4-9-4-17 4z"/>
<path color=#f7f413 d="M3652 3466l11-2-13-5-10 3z"/>
<path color=#f6f114 d="M3551 3467l14-3-12-4-14 3z"/>
<path color=#f7f413 d="M3430 3465l16-3-11-4-16 3z"/>
<path color=#f8f611 d="M3350 3464l17-4-9-4-17 4z"/>
<path color=#f6f313 d="M3616 3467l12-3-12-4-13 2z"/>
<path color=#f7f512 d="M3685 3466l9-2-13-5-9 2z"/>
<path color=#f6f313 d="M3457 3466l15-3-11-4-15 3z"/>
<path color=#f7f611 d="M3718 3467l8-2-13-5-8 2z"/>
<path color=#f6f213 d="M3483 3467l16-3-12-4-15 3z"/>
<path color=#f6f214 d="M3577 3468l14-3-13-4-13 3z"/>
<path color=#f6f214 d="M3510 3469l15-3-12-5-14 3z"/>
<path color=#f7f412 d="M3641 3469l11-3-12-4-12 2z"/>
<path color=#f7f512 d="M3676 3469l9-3-13-5-9 3z"/>
<path color=#f7f611 d="M3712 3468l6-1-13-5-6 1z"/>
<path color=#f7f313 d="M3603 3470l13-3-13-5-12 3z"/>
<path color=#f6f213 d="M3537 3470l14-3-12-4-14 3z"/>
<path color=#f7f611 d="M3386 3468l17-4-10-4-16 4z"/>
<path color=#f8f711 d="M3360 3468l17-4-10-4-17 4z"/>
<path color=#f7f512 d="M3414 3469l16-4-11-4-16 3z"/>
<path color=#f7f611 d="M3707 3469l5-1-13-5-5 1z"/>
<path color=#f7f412 d="M3441 3470l16-4-11-4-16 3z"/>
<path color=#f6f313 d="M3563 3472l14-4-12-4-14 3z"/>
<path color=#f7f413 d="M3468 3471l15-4-11-4-15 3z"/>
<path color=#f7f512 d="M3665 3471l11-2-13-5-11 2z"/>
<path color=#f7f412 d="M3629 3472l12-3-13-5-12 3z"/>
<path color=#f7f611 d="M3699 3471l8-2-13-5-9 2z"/>
<path color=#f7f313 d="M3495 3472l15-3-11-5-16 3z"/>
<path color=#f7f413 d="M3590 3473l13-3-12-5-14 3z"/>
<path color=#f7f313 d="M3522 3473l15-3-12-4-15 3z"/>
<path color=#f7f511 d="M3654 3474l11-3-13-5-11 3z"/>
<path color=#f8f710 d="M3370 3472l16-4-9-4-17 4z"/>
<path color=#f7f611 d="M3397 3472l17-3-11-5-17 4z"/>
<path color=#f7f611 d="M3689 3474l10-3-14-5-9 3z"/>
<path color=#f7f511 d="M3424 3473l17-3-11-5-16 4z"/>
<path color=#f7f413 d="M3549 3475l14-3-12-5-14 3z"/>
<path color=#f7f412 d="M3616 3475l13-3-13-5-13 3z"/>
<path color=#f7f512 d="M3452 3474l16-3-11-5-16 4z"/>
<path color=#f7f412 d="M3479 3475l16-3-12-5-15 4z"/>
<path color=#f7f412 d="M3576 3476l14-3-13-5-14 4z"/>
<path color=#f8f611 d="M3678 3476l11-2-13-5-11 2z"/>
<path color=#f7f412 d="M3507 3477l15-4-12-4-15 3z"/>
<path color=#f7f511 d="M3642 3477l12-3-13-5-12 3z"/>
<path color=#f7f512 d="M3602 3478l14-3-13-5-13 3z"/>
<path color=#f7f412 d="M3534 3478l15-3-12-5-15 3z"/>
<path color=#f8f710 d="M3380 3476l17-4-11-4-16 4z"/>
<path color=#f8f611 d="M3408 3477l16-4-10-4-17 3z"/>
<path color=#f7f611 d="M3436 3478l16-4-11-4-17 3z"/>
<path color=#f8f611 d="M3667 3479l11-3-13-5-11 3z"/>
<path color=#f7f512 d="M3561 3480l15-4-13-4-14 3z"/>
<path color=#f7f511 d="M3463 3479l16-4-11-4-16 3z"/>
<path color=#f7f611 d="M3629 3480l13-3-13-5-13 3z"/>
<path color=#f7f512 d="M3491 3480l16-3-12-5-16 3z"/>
<path color=#f7f511 d="M3589 3481l13-3-12-5-14 3z"/>
<path color=#f7f512 d="M3519 3481l15-3-12-5-15 4z"/>
<path color=#f8f711 d="M3655 3482l12-3-13-5-12 3z"/>
<path color=#f8f710 d="M3391 3481l17-4-11-5-17 4z"/>
<path color=#f8f710 d="M3419 3481l17-3-12-5-16 4z"/>
<path color=#f7f511 d="M3547 3483l14-3-12-5-15 3z"/>
<path color=#f7f611 d="M3615 3483l14-3-13-5-14 3z"/>
<path color=#f8f611 d="M3447 3482l16-3-11-5-16 4z"/>
<path color=#f7f611 d="M3475 3484l16-4-12-5-16 4z"/>
<path color=#f7f611 d="M3574 3485l15-4-13-5-15 4z"/>
<path color=#f8f710 d="M3642 3485l13-3-13-5-13 3z"/>
<path color=#f7f611 d="M3503 3485l16-4-12-4-16 3z"/>
<path color=#f8f611 d="M3602 3486l13-3-13-5-13 3z"/>
<path color=#f7f611 d="M3531 3486l16-3-13-5-15 3z"/>
<path color=#f8f810 d="M3402 3485l17-4-11-4-17 4z"/>
<path color=#f8f710 d="M3431 3486l16-4-11-4-17 3z"/>
<path color=#f8f611 d="M3559 3488l15-3-13-5-14 3z"/>
<path color=#f8f710 d="M3459 3487l16-3-12-5-16 3z"/>
<path color=#f8f710 d="M3629 3488l13-3-13-5-14 3z"/>
<path color=#f8f710 d="M3487 3489l16-4-12-5-16 4z"/>
<path color=#f8f710 d="M3587 3490l15-4-13-5-15 4z"/>
<path color=#f8f710 d="M3516 3490l15-4-12-5-16 4z"/>
<path color=#f8f810 d="M3414 3490l17-4-12-5-17 4z"/>
<path color=#f8f710 d="M3615 3492l14-4-14-5-13 3z"/>
<path color=#f8f710 d="M3544 3491l15-3-12-5-16 3z"/>
<path color=#f8f810 d="M3442 3491l17-4-12-5-16 4z"/>
<path color=#f8f710 d="M3471 3492l16-3-12-5-16 3z"/>
<path color=#f8f710 d="M3572 3493l15-3-13-5-15 3z"/>
<path color=#f8f710 d="M3500 3494l16-4-13-5-16 4z"/>
<path color=#f8f810 d="M3600 3495l15-3-13-6-15 4z"/>
<path color=#f8f710 d="M3529 3495l15-4-13-5-15 4z"/>
<path color=#f8f80f d="M3425 3495l17-4-11-5-17 4z"/>
<path color=#f8f810 d="M3557 3497l15-4-13-5-15 3z"/>
<path color=#f8f810 d="M3455 3496l16-4-12-5-17 4z"/>
<path color=#f8f810 d="M3484 3497l16-3-13-5-16 3z"/>
<path color=#f8f810 d="M3586 3498l14-3-13-5-15 3z"/>
<path color=#f8f810 d="M3513 3499l16-4-13-5-16 4z"/>
<path color=#f8f810 d="M3542 3500l15-3-13-6-15 4z"/>
<path color=#f8f90f d="M3438 3500l17-4-13-5-17 4z"/>
<path color=#f8f90f d="M3467 3501l17-4-13-5-16 4z"/>
<path color=#f8f80f d="M3570 3502l16-4-14-5-15 4z"/>
<path color=#f8f80f d="M3496 3503l17-4-13-5-16 3z"/>
<path color=#f8f90f d="M3526 3504l16-4-13-5-16 4z"/>
<path color=#f8f90f d="M3555 3506l15-4-13-5-15 3z"/>
<path color=#f8f90f d="M3450 3505l17-4-12-5-17 4z"/>
<path color=#f8f90f d="M3480 3506l16-3-12-6-17 4z"/>
<path color=#f8f90f d="M3509 3508l17-4-13-5-17 4z"/>
<path color=#f8f90f d="M3539 3509l16-3-13-6-16 4z"/>
<path color=#f9fa0f d="M3463 3510l17-4-13-5-17 4z"/>
<path color=#f9f90f d="M3493 3512l16-4-13-5-16 3z"/>
<path color=#f9fa0f d="M3523 3513l16-4-13-5-17 4z"/>
<path color=#f9fa0e d="M3476 3516l17-4-13-6-17 4z"/>
<path color=#f9fa0e d="M3506 3517l17-4-14-5-16 4z"/>
<path color=#f9fa0e d="M3489 3521l17-4-13-5-17 4z"/>
</g>
<text x="354" y="319.2" font-size="10.4" text-anchor="middle" fill="#262626">Parameter space</text>
<text x="344.7" y="395.99" font-size="9.1" text-anchor="end" fill="#262626">-5</text>
<text x="327.25" y="388.54" font-size="9.1" text-anchor="end" fill="#262626">0</text>
<text x="309.8" y="381.09" font-size="9.1" text-anchor="end" fill="#262626">5</text>
<text x="352.6" y="395.99" font-size="9.1" text-anchor="start" fill="#262626">-5</text>
<text x="374.95" y="390.49" font-size="9.1" text-anchor="start" fill="#262626">0</text>
<text x="397.3" y="384.99" font-size="9.1" text-anchor="start" fill="#262626">5</text>
<text x="309.4" y="373.1" font-size="9.1" text-anchor="end" fill="#262626">-0.6</text>
<text x="309.4" y="360.96" font-size="9.1" text-anchor="end" fill="#262626">-0.4</text>
<text x="309.4" y="348.82" font-size="9.1" text-anchor="end" fill="#262626">-0.2</text>
<text x="312.2" y="406.3" font-size="10.4" text-anchor="middle" fill="#262626">x</text><text x="315.32" y="410.46" font-size="7.4879999999999995" text-anchor="start" fill="#262626">2</text>
<text x="384.7" y="407.1" font-size="10.4" text-anchor="middle" fill="#262626">x</text><text x="387.82" y="411.26" font-size="7.4879999999999995" text-anchor="start" fill="#262626">1</text>
<text x="285.9" y="356.76" font-size="9.88" text-anchor="middle" fill="#262626" transform="rotate(-90 285.9 353.3)">F22</text>
<path d="M103.8 447L103.8 484.6L142.7 502.4L192.7 488.2" stroke="#5a5a5a" stroke-width="0.6" fill="none"/>
<path d="M147.2 485.8l2 0 .9 .4-.7 .7-1.9 .1-1-.5 0-.4 .7-.3" stroke="#2350d0" stroke-width="0.5" fill="none"/>
<path d="M148.1 484.9l2.8 .4 1.1 .9-.6 .8-1.6 .6-3.8-.2-1.3-.7 0-.8 1.1-.6 2.3-.4" stroke="#0a73dd" stroke-width="0.5" fill="none"/>
<path d="M148.3 484.2l3.3 .4 1.7 .7 .5 1-.9 1.1-3.1 .8-2.8 .1-2.5-.5-1.6-1 0-.9 1.2-.9 4.2-.8" stroke="#138ad3" stroke-width="0.5" fill="none"/>
<path d="M148.4 483.4l3.7 .4 2.7 1.1 .8 .9 0 .7-1.5 1.4-3.2 .9-3.8 .1-4-.7-2-1.3-.1-.6 .4-.9 1.5-1 2.1-.6 3.4-.4" stroke="#06a3ca" stroke-width="0.5" fill="none"/>
<path d="M148.5 482.6l5.3 .7 3 1.6 .6 .9-.1 1-2.1 1.6-4.5 1.1-5.4-.1-4.1-1-1.9-1.6 .3-1.5 2.1-1.4 3.2-1 3.6-.3" stroke="#1ab2b1" stroke-width="0.5" fill="none"/>
<path d="M148.7 481.7l5.7 .8 3.5 1.5 .9 .9 .4 1.3-.5 1.2-1.5 1.1-5.3 1.5-5.9 .2-5.7-1.2-2.6-1.8-.3-1 .3-.8 2.1-1.7 3.8-1.4 5.1-.6" stroke="#51bd8f" stroke-width="0.5" fill="none"/>
<path d="M143.5 481.4l5.6-.7 5.9 .8 3 1.2 1.9 1.3 .8 1 .3 1.5-1 1.5-1.7 1.1-5.3 1.4-5.4 .4-6.8-.9-4.1-1.8-.9-1.2 0-1.5 1.2-1.4 1.6-1 4.9-1.7" stroke="#92bf72" stroke-width="0.5" fill="none"/>
<path d="M152.1 472l5 .7 1.3 .6 .7 .9-.5 1.2-3.1 1.2-2.7 .3-4.9-.6-2.2-1.4 .4-1.3 2.9-1.3 3.1-.3" stroke="#92bf72" stroke-width="0.5" fill="none"/>
<path d="M164.4 475.3l-2.1 1.8-6.6 2.2-.2 .5 4.2 2.4 2.3 1.8 .8 2-.8 1.9-2.6 1.7-4 1.2-4.4 .6-4.7 .1-4.2-.4-4.7-1.3-2.2-1.2-1.3-1.8 .5-2 2.1-1.8 9.2-3.6 .2-.5-4.9-2.7-.7-.9-.1-1" stroke="#c7bc5d" stroke-width="0.5" fill="none"/>
<path d="M168.2 477l-6.7 3.7 2.7 3.4 .6 1.3-.3 1.8-1.9 2-2.9 1.3-4.3 1.1-5 .6-4.7 0-5.3-.6-3.7-1-2.4-1.1-1.9-1.5-.5-2.1 .9-1.8 6.4-4.3-.4-.9-2.1-1.5-1.4-1.8" stroke="#f5ba47" stroke-width="0.5" fill="none"/>
<path d="M172.6 479l-5.3 3-.4 1.1 .6 2.4-.3 1.5-1.3 1.6-1.7 1.3-2.9 1.3-4.3 1.2-4.8 .6-5.4 .1-6.9-.6-4.3-1-3.4-1.4-1.9-1.5-.8-1.4 0-1.8 .7-1.4 2.1-2.3 .4-1.1-3-3.4" stroke="#f9d429" stroke-width="0.5" fill="none"/>
<g fill="currentColor" stroke="currentColor" stroke-width="6.0" transform="scale(.1)">
<path color=#acbe68 d="M1534 4449l19-14-15-15-19 13z"/>
<path color=#9ebe6e d="M1515 4460l19-11-15-16-19 11z"/>
<path color=#9ebe6e d="M1548 4461l19-14-14-12-19 14z"/>
<path color=#96bf71 d="M1497 4468l18-8-15-16-18 8z"/>
<path color=#8ebf74 d="M1530 4473l18-12-14-12-19 11z"/>
<path color=#96bf71 d="M1562 4471l19-15-14-9-19 14z"/>
<path color=#93bf72 d="M1479 4473l18-5-15-16-18 4z"/>
<path color=#84bf78 d="M1511 4481l19-8-15-13-18 8z"/>
<path color=#84bf78 d="M1544 4482l18-11-14-10-18 12z"/>
<path color=#93bf72 d="M1576 4477l19-15-14-6-19 15z"/>
<path color=#97bf70 d="M1462 4474l17-1-15-17-17 2z"/>
<path color=#82bf79 d="M1494 4486l17-5-14-13-18 5z"/>
<path color=#79bf7d d="M1526 4491l18-9-14-9-19 8z"/>
<path color=#a1be6d d="M1445 4473l17 1-15-16-17 0z"/>
<path color=#82bf79 d="M1558 4488l18-11-14-6-18 11z"/>
<path color=#97bf70 d="M1590 4479l19-14-14-3-19 15z"/>
<path color=#86bf77 d="M1476 4487l18-1-15-13-17 1z"/>
<path color=#76bf7e d="M1508 4495l18-4-15-10-17 5z"/>
<path color=#adbe67 d="M1428 4470l17 3-15-15-17-3z"/>
<path color=#76bf7e d="M1539 4497l19-9-14-6-18 9z"/>
<path color=#86bf77 d="M1571 4491l19-12-14-2-18 11z"/>
<path color=#91bf73 d="M1459 4486l17 1-14-13-17-1z"/>
<path color=#a1be6d d="M1603 4479l19-14-13 0-19 14z"/>
<path color=#7bbf7c d="M1490 4497l18-2-14-9-18 1z"/>
<path color=#bcbd62 d="M1412 4466l16 4-15-15-16-3z"/>
<path color=#73bf7f d="M1522 4501l17-4-13-6-18 4z"/>
<path color=#9fbe6d d="M1443 4482l16 4-14-13-17-3z"/>
<path color=#7bbf7c d="M1553 4499l18-8-13-3-19 9z"/>
<path color=#91bf73 d="M1585 4491l18-12-13 0-19 12z"/>
<path color=#87bf77 d="M1473 4495l17 2-14-10-17-1z"/>
<path color=#ccbb5b d="M1397 4461l15 5-15-14-15-5z"/>
<path color=#adbe67 d="M1616 4478l19-14-13 1-19 14z"/>
<path color=#78bf7d d="M1504 4503l18-2-14-6-18 2z"/>
<path color=#b0bd66 d="M1427 4478l16 4-15-12-16-4z"/>
<path color=#78bf7d d="M1535 4504l18-5-14-2-17 4z"/>
<path color=#dcba54 d="M1382 4456l15 5-15-14-15-4z"/>
<path color=#87bf77 d="M1566 4499l19-8-14 0-18 8z"/>
<path color=#96bf71 d="M1457 4492l16 3-14-9-16-4z"/>
<path color=#9fbe6d d="M1597 4489l19-11-13 1-18 12z"/>
<path color=#bcbd62 d="M1628 4475l19-13-12 2-19 14z"/>
<path color=#83bf78 d="M1487 4502l17 1-14-6-17-2z"/>
<path color=#c1bc60 d="M1411 4472l16 6-15-12-15-5z"/>
<path color=#7cbf7b d="M1518 4506l17-2-13-3-18 2z"/>
<path color=#eab94d d="M1367 4451l15 5-15-13-14-4z"/>
<path color=#a8be6a d="M1441 4487l16 5-14-10-16-4z"/>
<path color=#83bf78 d="M1548 4504l18-5-13 0-18 5z"/>
<path color=#96bf71 d="M1579 4497l18-8-12 2-19 8z"/>
<path color=#d2bb59 d="M1396 4467l15 5-14-11-15-5z"/>
<path color=#93bf72 d="M1471 4498l16 4-14-7-16-3z"/>
<path color=#b0bd66 d="M1610 4485l18-10-12 3-19 11z"/>
<path color=#ccbb5b d="M1641 4471l18-12-12 3-19 13z"/>
<path color=#f7ba45 d="M1354 4447l13 4-14-12-14-4z"/>
<path color=#87bf77 d="M1501 4505l17 1-14-3-17-1z"/>
<path color=#babd62 d="M1425 4481l16 6-14-9-16-6z"/>
<path color=#e2b952 d="M1382 4462l14 5-14-11-15-5z"/>
<path color=#93bf72 d="M1561 4502l18-5-13 2-18 5z"/>
<path color=#a5be6b d="M1455 4494l16 4-14-6-16-5z"/>
<path color=#fec03b d="M1341 4443l13 4-15-12-13-3z"/>
<path color=#a8be6a d="M1592 4493l18-8-13 4-18 8z"/>
<path color=#c1bc60 d="M1622 4481l19-10-13 4-18 10z"/>
<path color=#dcba54 d="M1652 4467l19-12-12 4-18 12z"/>
<path color=#96bf71 d="M1484 4502l17 3-14-3-16-4z"/>
<path color=#ccbb5b d="M1410 4476l15 5-14-9-15-5z"/>
<path color=#f1b94a d="M1368 4457l14 5-15-11-13-4z"/>
<path color=#fec733 d="M1329 4441l12 2-15-11-12-2z"/>
<path color=#b7bd64 d="M1439 4488l16 6-14-7-16-6z"/>
<path color=#dcba54 d="M1396 4471l14 5-14-9-14-5z"/>
<path color=#babd62 d="M1604 4489l18-8-12 4-18 8z"/>
<path color=#fccd2e d="M1318 4439l11 2-15-11-11-1z"/>
<path color=#d2bb59 d="M1634 4476l18-9-11 4-19 10z"/>
<path color=#eab94d d="M1663 4463l19-11-11 3-19 12z"/>
<path color=#fbbd40 d="M1355 4453l13 4-14-10-13-4z"/>
<path color=#9dbe6e d="M1497 4504l17 2-13-1-17-3z"/>
<path color=#c9bc5d d="M1424 4483l15 5-14-7-15-5z"/>
<path color=#fad22b d="M1309 4437l9 2-15-10-9-1z"/>
<path color=#ebb94d d="M1382 4466l14 5-14-9-14-5z"/>
<path color=#ffc337 d="M1343 4450l12 3-14-10-12-2z"/>
<path color=#b7bd64 d="M1586 4494l18-5-12 4-18 5z"/>
<path color=#f9d528 d="M1303 4437l6 0-15-9-6-1z"/>
<path color=#f7ba45 d="M1674 4460l19-10-11 2-19 11z"/>
<path color=#e2b952 d="M1645 4472l18-9-11 4-18 9z"/>
<path color=#acbe68 d="M1481 4501l16 3-13-2-16-4z"/>
<path color=#d9ba56 d="M1410 4478l14 5-14-7-14-5z"/>
<path color=#f7d826 d="M1296 4436l7 1-15-10-6 0z"/>
<path color=#fdca31 d="M1333 4448l10 2-14-9-11-2z"/>
<path color=#f8ba44 d="M1369 4462l13 4-14-9-13-4z"/>
<path color=#c8bc5d d="M1438 4490l15 4-14-6-15-5z"/>
<path color=#acbe68 d="M1539 4504l17-2-12 3-17 0z"/>
<path color=#f6db24 d="M1287 4436l9 0-14-9-9 0z"/>
<path color=#b8bd63 d="M1568 4499l18-5-12 4-18 4z"/>
<path color=#fccf2d d="M1323 4446l10 2-15-9-9-2z"/>
<path color=#e8b94f d="M1396 4474l14 4-14-7-14-5z"/>
<path color=#fec03b d="M1684 4457l19-9-10 2-19 10z"/>
<path color=#bbbd62 d="M1466 4499l15 2-13-3-15-4z"/>
<path color=#fec03b d="M1358 4459l11 3-14-9-12-3z"/>
<path color=#f1b94a d="M1655 4469l19-9-11 3-18 9z"/>
<path color=#dcba54 d="M1627 4480l18-8-11 4-19 8z"/>
<path color=#f5df21 d="M1277 4436l10 0-14-9-11 0z"/>
<path color=#fad22a d="M1317 4446l6 0-14-9-6 0z"/>
<path color=#aebe67 d="M1494 4505l16 0-13-1-16-3z"/>
<path color=#d7ba56 d="M1423 4486l15 4-14-7-14-5z"/>
<path color=#aebe67 d="M1523 4506l16-2-12 1-17 0z"/>
<path color=#f5ba47 d="M1383 4471l13 3-14-8-13-4z"/>
<path color=#f9d528 d="M1311 4445l6 1-14-9-7-1z"/>
<path color=#fec734 d="M1347 4457l11 2-15-9-10-2z"/>
<path color=#bbbd62 d="M1551 4503l17-4-12 3-17 2z"/>
<path color=#babd63 d="M1451 4498l15 1-13-5-15-4z"/>
<path color=#fec733 d="M1693 4455l19-9-9 2-19 9z"/>
<path color=#f5e21e d="M1265 4436l12 0-15-9-12 0z"/>
<path color=#c8bc5d d="M1580 4495l18-5-12 4-18 5z"/>
<path color=#fbbd40 d="M1665 4466l19-9-10 3-19 9z"/>
<path color=#d9ba56 d="M1609 4486l18-6-12 4-17 6z"/>
<path color=#ebb94d d="M1637 4476l18-7-10 3-18 8z"/>
<path color=#f7d826 d="M1302 4444l9 1-15-9-9 0z"/>
<path color=#deba53 d="M1410 4483l13 3-13-8-14-4z"/>
<path color=#fdcc2f d="M1338 4455l9 2-14-9-10-2z"/>
<path color=#a2be6c d="M1479 4507l15-2-13-4-15-2z"/>
<path color=#fdbe3e d="M1371 4468l12 3-14-9-11-3z"/>
<path color=#9abf6f d="M1507 4511l16-5-13-1-16 0z"/>
<path color=#f5e61b d="M1252 4437l13-1-15-9-13 2z"/>
<path color=#f6dc23 d="M1291 4444l11 0-15-8-10 0z"/>
<path color=#fbd02c d="M1331 4454l7 1-15-9-6 0z"/>
<path color=#b5bd64 d="M1437 4497l14 1-13-8-15-4z"/>
<path color=#fccd2e d="M1702 4454l18-8-8 0-19 9z"/>
<path color=#a2be6c d="M1535 4509l16-6-12 1-16 2z"/>
<path color=#ffc337 d="M1675 4464l18-9-9 2-19 9z"/>
<path color=#e1b952 d="M1397 4481l13 2-14-9-13-3z"/>
<path color=#babd63 d="M1563 4502l17-7-12 4-17 4z"/>
<path color=#ffc436 d="M1361 4466l10 2-13-9-11-2z"/>
<path color=#fad32a d="M1325 4454l6 0-14-8-6-1z"/>
<path color=#f8ba44 d="M1647 4473l18-7-10 3-18 7z"/>
<path color=#d7ba56 d="M1591 4493l18-7-11 4-18 5z"/>
<path color=#95bf71 d="M1464 4510l15-3-13-8-15-1z"/>
<path color=#e8b94f d="M1619 4483l18-7-10 4-18 6z"/>
<path color=#f5e020 d="M1279 4444l12 0-14-8-12 0z"/>
<path color=#f5ea19 d="M1238 4438l14-1-15-8-14 1z"/>
<path color=#fad22b d="M1709 4454l19-9-8 1-18 8z"/>
<path color=#82bf79 d="M1491 4518l16-7-13-6-15 2z"/>
<path color=#f8d627 d="M1316 4453l9 1-14-9-9-1z"/>
<path color=#b0bd66 d="M1423 4497l14 0-14-11-13-3z"/>
<path color=#fec931 d="M1352 4464l9 2-14-9-9-2z"/>
<path color=#e6b950 d="M1385 4479l12 2-14-10-12-3z"/>
<path color=#82bf79 d="M1519 4519l16-10-12-3-16 5z"/>
<path color=#fdca31 d="M1683 4462l19-8-9 1-18 9z"/>
<path color=#95bf71 d="M1547 4513l16-11-12 1-16 6z"/>
<path color=#85bf78 d="M1449 4514l15-4-13-12-14-1z"/>
<path color=#fec03b d="M1656 4471l19-7-10 2-18 7z"/>
<path color=#fccd2e d="M1345 4463l7 1-14-9-7-1z"/>
<path color=#f9d528 d="M1714 4453l18-8-4 0-19 9z"/>
<path color=#f5e41d d="M1266 4445l13-1-14-8-13 1z"/>
<path color=#f7da25 d="M1305 4452l11 1-14-9-11 0z"/>
<path color=#b5bd64 d="M1574 4503l17-10-11 2-17 7z"/>
<path color=#f5ba47 d="M1629 4480l18-7-10 3-18 7z"/>
<path color=#deba53 d="M1602 4491l17-8-10 3-18 7z"/>
<path color=#f5ed17 d="M1224 4440l14-2-15-8-14 3z"/>
<path color=#acbe68 d="M1410 4498l13-1-13-14-13-2z"/>
<path color=#ecb94d d="M1374 4478l11 1-14-11-10-2z"/>
<path color=#66be85 d="M1476 4527l15-9-12-11-15 3z"/>
<path color=#fbd02c d="M1339 4463l6 0-14-9-6 0z"/>
<path color=#f7d826 d="M1718 4453l19-8-5 0-18 8z"/>
<path color=#fccf2d d="M1690 4461l19-7-7 0-19 8z"/>
<path color=#5cbe8a d="M1503 4533l16-14-12-8-16 7z"/>
<path color=#f6de22 d="M1293 4452l12 0-14-8-12 0z"/>
<path color=#77bf7e d="M1436 4519l13-5-12-17-14 0z"/>
<path color=#f5e81a d="M1253 4446l13-1-14-8-14 1z"/>
<path color=#fad32a d="M1330 4462l9 1-14-9-9-1z"/>
<path color=#fec734 d="M1665 4470l18-8-8 2-19 7z"/>
<path color=#66be85 d="M1530 4529l17-16-12-4-16 10z"/>
<path color=#f2b949 d="M1365 4477l9 1-13-12-9-2z"/>
<path color=#aabe69 d="M1398 4498l12 0-13-17-12-2z"/>
<path color=#fdbe3e d="M1638 4479l18-8-9 2-18 7z"/>
<path color=#f6f015 d="M1209 4443l15-3-15-7-15 2z"/>
<path color=#85bf78 d="M1558 4519l16-16-11-1-16 11z"/>
<path color=#f6db24 d="M1726 4453l19-7-8-1-19 8z"/>
<path color=#fad22a d="M1695 4461l19-8-5 1-19 7z"/>
<path color=#b0bd66 d="M1585 4504l17-13-11 2-17 10z"/>
<path color=#e1b952 d="M1612 4490l17-10-10 3-17 8z"/>
<path color=#4dbc92 d="M1462 4536l14-9-12-17-15 4z"/>
<path color=#f7ba45 d="M1359 4476l6 1-13-13-7-1z"/>
<path color=#f8d727 d="M1319 4461l11 1-14-9-11-1z"/>
<path color=#f5e21f d="M1280 4453l13-1-14-8-13 1z"/>
<path color=#3ab99d d="M1488 4547l15-14-12-15-15 9z"/>
<path color=#6bbe83 d="M1423 4523l13-4-13-22-13 1z"/>
<path color=#f9d528 d="M1700 4461l18-8-4 0-19 8z"/>
<path color=#fdcc2f d="M1672 4469l18-8-7 1-18 8z"/>
<path color=#f5eb18 d="M1238 4448l15-2-15-8-14 2z"/>
<path color=#aebe67 d="M1388 4498l10 0-13-19-11-1z"/>
<path color=#fabc41 d="M1353 4476l6 0-14-13-6 0z"/>
<path color=#3ab99d d="M1515 4548l15-19-11-10-16 14z"/>
<path color=#f5df21 d="M1734 4454l19-7-8-1-19 7z"/>
<path color=#ffc436 d="M1647 4477l18-7-9 1-18 8z"/>
<path color=#f6f214 d="M1193 4446l16-3-15-8-15 4z"/>
<path color=#4dbc92 d="M1542 4540l16-21-11-6-17 16z"/>
<path color=#39b99d d="M1448 4545l14-9-13-22-13 5z"/>
<path color=#e6b950 d="M1621 4489l17-10-9 1-17 10z"/>
<path color=#f6db23 d="M1307 4461l12 0-14-9-12 0z"/>
<path color=#77bf7e d="M1568 4524l17-20-11-1-16 16z"/>
<path color=#acbe68 d="M1595 4505l17-15-10 1-17 13z"/>
<path color=#febf3c d="M1343 4475l10 1-14-13-9-1z"/>
<path color=#f7d826 d="M1707 4461l19-8-8 0-18 8z"/>
<path color=#fbd02c d="M1677 4468l18-7-5 0-18 8z"/>
<path color=#f5e61c d="M1267 4454l13-1-14-8-13 1z"/>
<path color=#b5bd65 d="M1378 4498l10 0-14-20-9-1z"/>
<path color=#62be87 d="M1411 4525l12-2-13-25-12 0z"/>
<path color=#2cb7a5 d="M1474 4560l14-13-12-20-14 9z"/>
<path color=#f5ee16 d="M1223 4451l15-3-14-8-15 3z"/>
<path color=#fec931 d="M1654 4477l18-8-7 1-18 7z"/>
<path color=#bbbd62 d="M1372 4498l6 0-13-21-6-1z"/>
<path color=#fad32a d="M1682 4468l18-7-5 0-18 7z"/>
<path color=#28b6a7 d="M1500 4566l15-18-12-15-15 14z"/>
<path color=#f5e21e d="M1743 4455l19-7-9-1-19 7z"/>
<path color=#fec535 d="M1333 4474l10 1-13-13-11-1z"/>
<path color=#36b89f d="M1436 4551l12-6-12-26-13 4z"/>
<path color=#f5df20 d="M1294 4461l13 0-14-9-13 1z"/>
<path color=#f7f413 d="M1177 4450l16-4-14-7-16 3z"/>
<path color=#5ebe89 d="M1400 4527l11-2-13-27-10 0z"/>
<path color=#2cb7a5 d="M1526 4562l16-22-12-11-15 19z"/>
<path color=#ecb94d d="M1629 4488l18-11-9 2-17 10z"/>
<path color=#f6dc23 d="M1715 4461l19-7-8-1-19 8z"/>
<path color=#f5e919 d="M1253 4456l14-2-14-8-15 2z"/>
<path color=#c1bc60 d="M1366 4497l6 1-13-22-6 0z"/>
<path color=#39b99d d="M1552 4549l16-25-10-5-16 21z"/>
<path color=#aabe69 d="M1604 4507l17-18-9 1-17 15z"/>
<path color=#6bbe83 d="M1578 4529l17-24-10-1-17 20z"/>
<path color=#27b5a8 d="M1460 4571l14-11-12-24-14 9z"/>
<path color=#fccd2e d="M1659 4476l18-8-5 1-18 8z"/>
<path color=#f8d627 d="M1689 4468l18-7-7 0-18 7z"/>
<path color=#f6f015 d="M1208 4454l15-3-14-8-16 3z"/>
<path color=#fccd2e d="M1321 4473l12 1-14-13-12 0z"/>
<path color=#c9bc5c d="M1357 4496l9 1-13-21-10-1z"/>
<path color=#35b8a0 d="M1424 4556l12-5-13-28-12 2z"/>
<path color=#5dbe8a d="M1391 4527l9 0-12-29-10 0z"/>
<path color=#1fb3ae d="M1486 4582l14-16-12-19-14 13z"/>
<path color=#f5e31e d="M1281 4462l13-1-14-8-13 1z"/>
<path color=#f5e61b d="M1753 4457l19-7-10-2-19 7z"/>
<path color=#f2b949 d="M1637 4488l17-11-7 0-18 11z"/>
<path color=#fbd02c d="M1664 4476l18-8-5 0-18 8z"/>
<path color=#f7f511 d="M1161 4454l16-4-14-8-17 4z"/>
<path color=#1fb3ae d="M1511 4583l15-21-11-14-15 18z"/>
<path color=#f5e020 d="M1725 4462l18-7-9-1-19 7z"/>
<path color=#f5ec17 d="M1238 4458l15-2-15-8-15 3z"/>
<path color=#aebe67 d="M1612 4508l17-20-8 1-17 18z"/>
<path color=#5fbe89 d="M1385 4527l6 0-13-29-6 0z"/>
<path color=#23b4ab d="M1448 4580l12-9-12-26-12 6z"/>
<path color=#27b5a8 d="M1537 4574l15-25-10-9-16 22z"/>
<path color=#f7da25 d="M1697 4468l18-7-8 0-18 7z"/>
<path color=#62be87 d="M1588 4532l16-25-9-2-17 24z"/>
<path color=#36b89f d="M1562 4556l16-27-10-5-16 25z"/>
<path color=#d5ba57 d="M1346 4494l11 2-14-21-10-1z"/>
<path color=#f9d528 d="M1308 4472l13 1-14-12-13 0z"/>
<path color=#35b89f d="M1413 4558l11-2-13-31-11 2z"/>
<path color=#f7ba45 d="M1641 4488l18-12-5 1-17 11z"/>
<path color=#f6f213 d="M1192 4457l16-3-15-8-16 4z"/>
<path color=#61be87 d="M1379 4526l6 1-13-29-6-1z"/>
<path color=#fad32a d="M1671 4476l18-8-7 0-18 8z"/>
<path color=#16b1b4 d="M1472 4596l14-14-12-22-14 11z"/>
<path color=#f5e71b d="M1266 4464l15-2-14-8-14 2z"/>
<path color=#f5ea19 d="M1764 4460l19-7-11-3-19 7z"/>
<path color=#12afb7 d="M1497 4603l14-20-11-17-14 16z"/>
<path color=#b5bd65 d="M1620 4508l17-20-8 0-17 20z"/>
<path color=#20b4ad d="M1436 4586l12-6-12-29-12 5z"/>
<path color=#e4b951 d="M1334 4491l12 3-13-20-12-1z"/>
<path color=#36b99f d="M1404 4559l9-1-13-31-9 0z"/>
<path color=#f5e41d d="M1735 4464l18-7-10-2-18 7z"/>
<path color=#fabc41 d="M1646 4488l18-12-5 0-18 12z"/>
<path color=#f6ef16 d="M1222 4461l16-3-15-7-15 3z"/>
<path color=#67be85 d="M1369 4525l10 1-13-29-9-1z"/>
<path color=#f8f611 d="M1144 4458l17-4-15-8-17 4z"/>
<path color=#16b1b4 d="M1522 4598l15-24-11-12-15 21z"/>
<path color=#f6de22 d="M1706 4469l19-7-10-1-18 7z"/>
<path color=#5ebe89 d="M1596 4535l16-27-8-1-16 25z"/>
<path color=#f6dd22 d="M1294 4472l14 0-14-11-13 1z"/>
<path color=#23b4ab d="M1547 4584l15-28-10-7-15 25z"/>
<path color=#35b8a0 d="M1571 4562l17-30-10-3-16 27z"/>
<path color=#f8d727 d="M1679 4476l18-8-8 0-18 8z"/>
<path color=#10afb8 d="M1459 4607l13-11-12-25-12 9z"/>
<path color=#38b99e d="M1397 4560l7-1-13-32-6 0z"/>
<path color=#f7f412 d="M1175 4461l17-4-15-7-16 4z"/>
<path color=#f5ea19 d="M1251 4466l15-2-13-8-15 2z"/>
<path color=#bbbd62 d="M1624 4508l17-20-4 0-17 20z"/>
<path color=#febf3c d="M1654 4487l17-11-7 0-18 12z"/>
<path color=#74bf7f d="M1359 4522l10 3-12-29-11-2z"/>
<path color=#1fb3ad d="M1425 4590l11-4-12-30-11 2z"/>
<path color=#f5ba47 d="M1321 4489l13 2-13-18-13-1z"/>
<path color=#0aacbe d="M1483 4620l14-17-11-21-14 14z"/>
<path color=#3ab99c d="M1391 4559l6 1-12-33-6-1z"/>
<path color=#5dbe8a d="M1603 4536l17-28-8 0-16 27z"/>
<path color=#f6f114 d="M1206 4464l16-3-14-7-16 3z"/>
<path color=#f5ed17 d="M1775 4463l19-7-11-3-19 7z"/>
<path color=#f5e41d d="M1280 4472l14 0-13-10-15 2z"/>
<path color=#f5e81a d="M1745 4466l19-6-11-3-18 7z"/>
<path color=#c1bc60 d="M1629 4508l17-20-5 0-17 20z"/>
<path color=#f8f710 d="M1126 4462l18-4-15-8-17 5z"/>
<path color=#f5e21f d="M1716 4471l19-7-10-2-19 7z"/>
<path color=#0dadbb d="M1447 4616l12-9-11-27-12 6z"/>
<path color=#35b89f d="M1580 4565l16-30-8-3-17 30z"/>
<path color=#10afb8 d="M1532 4610l15-26-10-10-15 24z"/>
<path color=#20b4ad d="M1556 4591l15-29-9-6-15 28z"/>
<path color=#f6db23 d="M1689 4477l17-8-9-1-18 8z"/>
<path color=#20b4ad d="M1416 4592l9-2-12-32-9 1z"/>
<path color=#3dba9b d="M1382 4558l9 1-12-33-10-1z"/>
<path color=#90bf73 d="M1347 4518l12 4-13-28-12-3z"/>
<path color=#fec535 d="M1662 4487l17-11-8 0-17 11z"/>
<path color=#f5ed17 d="M1236 4468l15-2-13-8-16 3z"/>
<path color=#f7f511 d="M1158 4465l17-4-14-7-17 4z"/>
<path color=#fec635 d="M1307 4486l14 3-13-17-14 0z"/>
<path color=#5fbe89 d="M1608 4536l16-28-4 0-17 28z"/>
<path color=#c9bc5c d="M1637 4507l17-20-8 1-17 20z"/>
<path color=#21b4ac d="M1409 4592l7 0-12-33-7 1z"/>
<path color=#f5e81a d="M1265 4474l15-2-14-8-15 2z"/>
<path color=#42bb98 d="M1371 4554l11 4-13-33-10-3z"/>
<path color=#36b99f d="M1587 4567l16-31-7-1-16 30z"/>
<path color=#f6f313 d="M1189 4468l17-4-14-7-17 4z"/>
<path color=#aebe67 d="M1334 4513l13 5-13-27-13-2z"/>
<path color=#61be87 d="M1613 4536l16-28-5 0-16 28z"/>
<path color=#22b4ab d="M1403 4592l6 0-12-32-6-1z"/>
<path color=#1fb3ad d="M1564 4596l16-31-9-3-15 29z"/>
<path color=#f5eb18 d="M1756 4469l19-6-11-3-19 6z"/>
<path color=#f8f80f d="M1109 4467l17-5-14-7-18 5z"/>
<path color=#f5e61c d="M1727 4473l18-7-10-2-19 7z"/>
<path color=#f6f015 d="M1787 4466l19-6-12-4-19 7z"/>
<path color=#f5df20 d="M1699 4478l17-7-10-2-17 8z"/>
<path color=#fccd2e d="M1671 4487l18-10-10-1-17 11z"/>
<path color=#f9d329 d="M1293 4484l14 2-13-14-14 0z"/>
<path color=#f6f015 d="M1220 4472l16-4-14-7-16 3z"/>
<path color=#d5ba57 d="M1645 4506l17-19-8 0-17 20z"/>
<path color=#25b5aa d="M1394 4590l9 2-12-33-9-1z"/>
<path color=#38b99e d="M1592 4567l16-31-5 0-16 31z"/>
<path color=#f8f611 d="M1141 4469l17-4-14-7-18 4z"/>
<path color=#4abc94 d="M1359 4549l12 5-12-32-12-4z"/>
<path color=#67be85 d="M1620 4535l17-28-8 1-16 28z"/>
<path color=#f5eb18 d="M1249 4476l16-2-14-8-15 2z"/>
<path color=#cebb5a d="M1320 4507l14 6-13-24-14-3z"/>
<path color=#20b4ad d="M1571 4598l16-31-7-2-16 31z"/>
<path color=#f7f412 d="M1172 4472l17-4-14-7-17 4z"/>
<path color=#3ab99c d="M1597 4567l16-31-5 0-16 31z"/>
<path color=#29b6a7 d="M1383 4587l11 3-12-32-11-4z"/>
<path color=#f8f90f d="M1090 4471l19-4-15-7-18 4z"/>
<path color=#f5e31e d="M1709 4480l18-7-11-2-17 7z"/>
<path color=#f5e919 d="M1738 4476l18-7-11-3-18 7z"/>
<path color=#f5df21 d="M1278 4483l15 1-13-12-15 2z"/>
<path color=#f9d528 d="M1681 4487l18-9-10-1-18 10z"/>
<path color=#f5ee16 d="M1768 4473l19-7-12-3-19 6z"/>
<path color=#e4b951 d="M1654 4504l17-17-9 0-17 19z"/>
<path color=#53bd8e d="M1346 4542l13 7-12-31-13-5z"/>
<path color=#f6f214 d="M1799 4471l19-7-12-4-19 6z"/>
<path color=#f6f114 d="M1203 4475l17-3-14-8-17 4z"/>
<path color=#74bf7f d="M1628 4533l17-27-8 1-17 28z"/>
<path color=#21b4ac d="M1576 4599l16-32-5 0-16 31z"/>
<path color=#f8f710 d="M1123 4474l18-5-15-7-17 5z"/>
<path color=#3dba9b d="M1604 4567l16-32-7 1-16 31z"/>
<path color=#eeb94c d="M1306 4501l14 6-13-21-14-2z"/>
<path color=#f5ee16 d="M1233 4479l16-3-13-8-16 4z"/>
<path color=#30b7a3 d="M1371 4581l12 6-12-33-12-5z"/>
<path color=#22b4ab d="M1581 4599l16-32-5 0-16 32z"/>
<path color=#f7f611 d="M1155 4476l17-4-14-7-17 4z"/>
<path color=#6bbe83 d="M1333 4533l13 9-12-29-14-6z"/>
<path color=#f5e81a d="M1263 4484l15-1-13-9-16 2z"/>
<path color=#f5ba47 d="M1664 4502l17-15-10 0-17 17z"/>
<path color=#f6dd22 d="M1692 4488l17-8-10-2-18 9z"/>
<path color=#f5e71b d="M1720 4482l18-6-11-3-18 7z"/>
<path color=#f9fa0e d="M1072 4476l18-5-14-7-19 5z"/>
<path color=#90bf73 d="M1638 4530l16-26-9 2-17 27z"/>
<path color=#f7f313 d="M1186 4479l17-4-14-7-17 4z"/>
<path color=#f5ec17 d="M1750 4479l18-6-12-4-18 7z"/>
<path color=#42bb98 d="M1612 4564l16-31-8 2-16 32z"/>
<path color=#f6f015 d="M1780 4477l19-6-12-5-19 7z"/>
<path color=#39b99d d="M1359 4572l12 9-12-32-13-7z"/>
<path color=#fec932 d="M1291 4496l15 5-13-17-15-1z"/>
<path color=#f7f413 d="M1811 4475l19-6-12-5-19 7z"/>
<path color=#25b5aa d="M1588 4598l16-31-7 0-16 32z"/>
<path color=#f8f80f d="M1105 4478l18-4-14-7-19 4z"/>
<path color=#f6f015 d="M1217 4482l16-3-13-7-17 3z"/>
<path color=#a7be6a d="M1319 4523l14 10-13-26-14-6z"/>
<path color=#f8f711 d="M1137 4481l18-5-14-7-18 5z"/>
<path color=#f5ec18 d="M1247 4486l16-2-14-8-16 3z"/>
<path color=#aebe67 d="M1648 4526l16-24-10 2-16 26z"/>
<path color=#4abc94 d="M1622 4560l16-30-10 3-16 31z"/>
<path color=#fec635 d="M1675 4501l17-13-11-1-17 15z"/>
<path color=#46bb95 d="M1345 4561l14 11-13-30-13-9z"/>
<path color=#29b6a7 d="M1597 4595l15-31-8 3-16 31z"/>
<path color=#f5e41d d="M1703 4489l17-7-11-2-17 8z"/>
<path color=#f7f512 d="M1169 4483l17-4-14-7-17 4z"/>
<path color=#f9fa0e d="M1053 4481l19-5-15-7-19 5z"/>
<path color=#f5ea19 d="M1732 4485l18-6-12-3-18 6z"/>
<path color=#f7da24 d="M1276 4494l15 2-13-13-15 1z"/>
<path color=#f6ef16 d="M1762 4483l18-6-12-4-18 6z"/>
<path color=#f6f213 d="M1793 4481l18-6-12-4-19 6z"/>
<path color=#f6f214 d="M1200 4486l17-4-14-7-17 4z"/>
<path color=#f8f90f d="M1086 4483l19-5-15-7-18 5z"/>
<path color=#d8ba56 d="M1304 4514l15 9-13-22-15-5z"/>
<path color=#f7f511 d="M1824 4480l19-6-13-5-19 6z"/>
<path color=#f5ef16 d="M1230 4489l17-3-14-7-16 3z"/>
<path color=#f8f710 d="M1119 4485l18-4-14-7-18 4z"/>
<path color=#56bd8d d="M1331 4549l14 12-12-28-14-10z"/>
<path color=#30b7a3 d="M1606 4590l16-30-10 4-15 31z"/>
<path color=#53bd8e d="M1631 4554l17-28-10 4-16 30z"/>
<path color=#cebb5a d="M1658 4520l17-19-11 1-16 24z"/>
<path color=#f9d329 d="M1686 4500l17-11-11-1-17 13z"/>
<path color=#f5e71b d="M1260 4494l16 0-13-10-16 2z"/>
<path color=#f7f611 d="M1151 4488l18-5-14-7-18 5z"/>
<path color=#f5e81a d="M1714 4492l18-7-12-3-17 7z"/>
<path color=#f5ed17 d="M1744 4489l18-6-12-4-18 6z"/>
<path color=#ffc238 d="M1288 4507l16 7-13-18-15-2z"/>
<path color=#f7f313 d="M1182 4490l18-4-14-7-17 4z"/>
<path color=#f6f114 d="M1774 4487l19-6-13-4-18 6z"/>
<path color=#f9fa0e d="M1067 4488l19-5-14-7-19 5z"/>
<path color=#f7f412 d="M1805 4486l19-6-13-5-18 6z"/>
<path color=#8ebf74 d="M1316 4535l15 14-12-26-15-9z"/>
<path color=#f6f114 d="M1213 4493l17-4-13-7-17 4z"/>
<path color=#f8f611 d="M1837 4486l19-6-13-6-19 6z"/>
<path color=#39b99d d="M1616 4583l15-29-9 6-16 30z"/>
<path color=#f8f80f d="M1100 4490l19-5-14-7-19 5z"/>
<path color=#6bbe83 d="M1642 4546l16-26-10 6-17 28z"/>
<path color=#40ba99 d="M1342 4573l15 15-12-27-14-12z"/>
<path color=#f5ec17 d="M1243 4496l17-2-13-8-17 3z"/>
<path color=#eeb94c d="M1669 4516l17-16-11 1-17 19z"/>
<path color=#f8f710 d="M1133 4492l18-4-14-7-18 4z"/>
<path color=#f5df21 d="M1697 4500l17-8-11-3-17 11z"/>
<path color=#f7d925 d="M1272 4503l16 4-12-13-16 0z"/>
<path color=#f5eb18 d="M1727 4495l17-6-12-4-18 7z"/>
<path color=#f7f512 d="M1165 4494l17-4-13-7-18 5z"/>
<path color=#f6f015 d="M1756 4493l18-6-12-4-18 6z"/>
<path color=#d1bb59 d="M1300 4523l16 12-12-21-16-7z"/>
<path color=#f6f313 d="M1787 4492l18-6-12-5-19 6z"/>
<path color=#f6f213 d="M1196 4497l17-4-13-7-18 4z"/>
<path color=#46bb95 d="M1627 4573l15-27-11 8-15 29z"/>
<path color=#54bd8e d="M1327 4557l15 16-11-24-15-14z"/>
<path color=#f7f511 d="M1819 4492l18-6-13-6-19 6z"/>
<path color=#f8f90f d="M1081 4495l19-5-14-7-19 5z"/>
<path color=#a7be6a d="M1653 4537l16-21-11 4-16 26z"/>
<path color=#f6ef15 d="M1226 4499l17-3-13-7-17 4z"/>
<path color=#f8f710 d="M1851 4491l19-5-14-6-19 6z"/>
<path color=#fec932 d="M1681 4512l16-12-11 0-17 16z"/>
<path color=#f8f810 d="M1114 4497l19-5-14-7-19 5z"/>
<path color=#f5e81a d="M1255 4504l17-1-12-9-17 2z"/>
<path color=#f5e81a d="M1710 4502l17-7-13-3-17 8z"/>
<path color=#f7f611 d="M1146 4499l19-5-14-6-18 4z"/>
<path color=#ffc436 d="M1284 4515l16 8-12-16-16-4z"/>
<path color=#f5ee16 d="M1739 4499l17-6-12-4-17 6z"/>
<path color=#f6f114 d="M1769 4498l18-6-13-5-18 6z"/>
<path color=#92bf73 d="M1312 4541l15 16-11-22-16-12z"/>
<path color=#f7f412 d="M1178 4501l18-4-14-7-17 4z"/>
<path color=#56bd8d d="M1638 4561l15-24-11 9-15 27z"/>
<path color=#f7f412 d="M1800 4497l19-5-14-6-18 6z"/>
<path color=#f6f114 d="M1209 4503l17-4-13-6-17 4z"/>
<path color=#d8ba56 d="M1665 4529l16-17-12 4-16 21z"/>
<path color=#f8f611 d="M1832 4497l19-6-14-5-18 6z"/>
<path color=#f5ed17 d="M1238 4506l17-2-12-8-17 3z"/>
<path color=#f7da24 d="M1693 4511l17-9-13-2-16 12z"/>
<path color=#f8f90f d="M1095 4502l19-5-14-7-19 5z"/>
<path color=#3637a0 d="M1487 4781l7-6-5 3-7 13z"/>
<path color=#f8f80f d="M1865 4497l19-6-14-5-19 5z"/>
<path color=#f6dd22 d="M1268 4512l16 3-12-12-17 1z"/>
<path color=#f5ec18 d="M1722 4505l17-6-12-4-17 7z"/>
<path color=#f8f710 d="M1128 4503l18-4-13-7-19 5z"/>
<path color=#ddba54 d="M1296 4527l16 14-12-18-16-8z"/>
<path color=#f6f015 d="M1752 4504l17-6-13-5-17 6z"/>
<path color=#2e48c2 d="M1467 4766l9 15-5-7-9-12z"/>
<path color=#f7f511 d="M1160 4505l18-4-13-7-19 5z"/>
<path color=#3637a2 d="M1481 4778l6 3-5 10-6-10z"/>
<path color=#59bd8b d="M1323 4558l15 19-11-20-15-16z"/>
<path color=#f7f313 d="M1783 4503l17-6-13-5-18 6z"/>
<path color=#8ebf74 d="M1649 4549l16-20-12 8-15 24z"/>
<path color=#f7f313 d="M1191 4507l18-4-13-6-18 4z"/>
<path color=#2e48c2 d="M1495 4767l6-4-7 12-7 6z"/>
<path color=#f6f015 d="M1221 4509l17-3-12-7-17 4z"/>
<path color=#2d49c3 d="M1472 4766l9 12-5 3-9-15z"/>
<path color=#ffc238 d="M1677 4522l16-11-12 1-16 17z"/>
<path color=#f7f611 d="M1814 4503l18-6-13-5-19 5z"/>
<path color=#06a4c9 d="M1398 4667l13 20-9-16-14-18z"/>
<path color=#036ae1 d="M1509 4748l9-9-8 13-9 11z"/>
<path color=#0265e1 d="M1456 4748l11 18-5-4-11-17z"/>
<path color=#2d49c3 d="M1488 4766l7 1-8 14-6-3z"/>
<path color=#127bd9 d="M1440 4726l11 19-7-9-12-18z"/>
<path color=#f5eb18 d="M1251 4513l17-1-13-8-17 2z"/>
<path color=#f5e71b d="M1705 4512l17-7-12-3-17 9z"/>
<path color=#f8f710 d="M1846 4503l19-6-14-6-19 6z"/>
<path color=#1482d5 d="M1528 4722l10-12-9 14-11 15z"/>
<path color=#fbcf2d d="M1279 4520l17 7-12-12-16-3z"/>
<path color=#f8f810 d="M1109 4508l19-5-14-6-19 5z"/>
<path color=#f5ef16 d="M1735 4510l17-6-13-5-17 6z"/>
<path color=#b1bd66 d="M1307 4541l16 17-11-17-16-14z"/>
<path color=#0265e1 d="M1503 4750l6-2-8 15-6 4z"/>
<path color=#f8f90f d="M1879 4503l19-5-14-7-19 6z"/>
<path color=#0266e1 d="M1461 4749l11 17-5 0-11-18z"/>
<path color=#1857d8 d="M1479 4759l9 7-7 12-9-12z"/>
<path color=#f8f611 d="M1141 4510l19-5-14-6-18 4z"/>
<path color=#079bd0 d="M1548 4693l12-15-10 15-12 17z"/>
<path color=#1079da d="M1444 4729l12 19-5-3-11-19z"/>
<path color=#f6f214 d="M1765 4509l18-6-14-5-17 6z"/>
<path color=#f7f512 d="M1172 4511l19-4-13-6-18 4z"/>
<path color=#0bacbd d="M1383 4645l15 22-10-14-14-21z"/>
<path color=#0266e1 d="M1497 4750l6 0-8 17-7-1z"/>
<path color=#0e91d2 d="M1427 4705l13 21-8-8-12-20z"/>
<path color=#06a1cc d="M1406 4677l14 21-9-11-13-20z"/>
<path color=#07a9c3 d="M1571 4660l13-17-11 16-13 19z"/>
<path color=#d1bb59 d="M1661 4537l16-15-12 7-16 20z"/>
<path color=#127bd9 d="M1518 4729l10-7-10 17-9 9z"/>
<path color=#f6f214 d="M1203 4513l18-4-12-6-18 4z"/>
<path color=#f7f512 d="M1796 4509l18-6-14-6-17 6z"/>
<path color=#036be0 d="M1468 4745l11 14-7 7-11-17z"/>
<path color=#f6ef16 d="M1233 4515l18-2-13-7-17 3z"/>
<path color=#f7d925 d="M1689 4520l16-8-12-1-16 11z"/>
<path color=#1079da d="M1449 4730l12 19-5-1-12-19z"/>
<path color=#0b95d2 d="M1538 4703l10-10-10 17-10 12z"/>
<path color=#f5e41d d="M1262 4519l17 1-11-8-17 1z"/>
<path color=#036be0 d="M1487 4746l10 4-9 16-9-7z"/>
<path color=#f8f711 d="M1828 4509l18-6-14-6-18 6z"/>
<path color=#1079da d="M1512 4732l6-3-9 19-6 2z"/>
<path color=#fbbc40 d="M1290 4530l17 11-11-14-17-7z"/>
<path color=#108ed2 d="M1432 4708l12 21-4-3-13-21z"/>
<path color=#f5ec17 d="M1718 4515l17-5-13-5-17 7z"/>
<path color=#06a4c9 d="M1559 4673l12-13-11 18-12 15z"/>
<path color=#f8f80f d="M1860 4509l19-6-14-6-19 6z"/>
<path color=#069fce d="M1413 4683l14 22-7-7-14-21z"/>
<path color=#f8f710 d="M1122 4515l19-5-13-7-19 5z"/>
<path color=#20b4ad d="M1368 4621l15 24-9-13-15-22z"/>
<path color=#08aac0 d="M1392 4653l14 24-8-10-15-22z"/>
<path color=#1079da d="M1506 4732l6 0-9 18-6 0z"/>
<path color=#f6f114 d="M1748 4514l17-5-13-5-17 6z"/>
<path color=#92bf73 d="M1646 4554l15-17-12 12-15 20z"/>
<path color=#127cd8 d="M1456 4728l12 17-7 4-12-19z"/>
<path color=#0e91d2 d="M1528 4709l10-6-10 19-10 7z"/>
<path color=#f7f611 d="M1154 4516l18-5-12-6-19 5z"/>
<path color=#0d75dc d="M1477 4736l10 10-8 13-11-14z"/>
<path color=#f9fa0e d="M1893 4510l19-6-14-6-19 5z"/>
<path color=#108ed2 d="M1436 4709l13 21-5-1-12-21z"/>
<path color=#12b0b6 d="M1582 4640l13-15-11 18-13 17z"/>
<path color=#f7f412 d="M1185 4518l18-5-12-6-19 4z"/>
<path color=#f7f313 d="M1779 4514l17-5-13-6-18 6z"/>
<path color=#ffc436 d="M1674 4530l15-10-12 2-16 15z"/>
<path color=#127cd8 d="M1497 4730l9 2-9 18-10-4z"/>
<path color=#f6f114 d="M1215 4519l18-4-12-6-18 4z"/>
<path color=#069ece d="M1418 4685l14 23-5-3-14-22z"/>
<path color=#06a1cc d="M1548 4682l11-9-11 20-10 10z"/>
<path color=#33b8a1 d="M1606 4605l14-16-12 17-13 19z"/>
<path color=#108ed2 d="M1522 4711l6-2-10 20-6 3z"/>
<path color=#f5ed17 d="M1245 4521l17-2-11-6-18 2z"/>
<path color=#f7f611 d="M1810 4514l18-5-14-6-18 6z"/>
<path color=#f5e81a d="M1702 4522l16-7-13-3-16 8z"/>
<path color=#f6dc23 d="M1273 4526l17 4-11-10-17-1z"/>
<path color=#07a9c3 d="M1399 4659l14 24-7-6-14-24z"/>
<path color=#ddba54 d="M1301 4539l16 15-10-13-17-11z"/>
<path color=#0e91d2 d="M1444 4708l12 20-7 2-13-21z"/>
<path color=#1ab2b1 d="M1377 4629l15 24-9-8-15-24z"/>
<path color=#1483d5 d="M1465 4722l12 14-9 9-12-17z"/>
<path color=#108ed2 d="M1516 4712l6-1-10 21-6 0z"/>
<path color=#0bacbd d="M1570 4652l12-12-11 20-12 13z"/>
<path color=#f8f710 d="M1842 4515l18-6-14-6-18 6z"/>
<path color=#069ece d="M1423 4687l13 22-4-1-14-23z"/>
<path color=#f6ef15 d="M1732 4520l16-6-13-4-17 5z"/>
<path color=#1483d5 d="M1486 4723l11 7-10 16-10-10z"/>
<path color=#069fce d="M1539 4688l9-6-10 21-10 6z"/>
<path color=#f8f710 d="M1135 4521l19-5-13-6-19 5z"/>
<path color=#ddba54 d="M1659 4542l15-12-13 7-15 17z"/>
<path color=#f8f90f d="M1875 4515l18-5-14-7-19 6z"/>
<path color=#07a9c3 d="M1404 4661l14 24-5-2-14-24z"/>
<path color=#28b6a8 d="M1594 4619l12-14-11 20-13 15z"/>
<path color=#f6f213 d="M1762 4519l17-5-14-5-17 5z"/>
<path color=#f7f511 d="M1166 4522l19-4-13-7-18 5z"/>
<path color=#0e91d2 d="M1507 4711l9 1-10 20-9-2z"/>
<path color=#f7f313 d="M1197 4523l18-4-12-6-18 5z"/>
<path color=#0a96d1 d="M1452 4704l13 18-9 6-12-20z"/>
<path color=#069fce d="M1430 4687l14 21-8 1-13-22z"/>
<path color=#069ece d="M1533 4690l6-2-11 21-6 2z"/>
<path color=#17b1b3 d="M1384 4634l15 25-7-6-15-24z"/>
<path color=#08aac0 d="M1559 4660l11-8-11 21-11 9z"/>
<path color=#f6dd22 d="M1687 4529l15-7-13-2-15 10z"/>
<path color=#f6f115 d="M1227 4525l18-4-12-6-18 4z"/>
<path color=#f9fa0e d="M1908 4516l19-6-15-6-19 6z"/>
<path color=#f7f512 d="M1793 4520l17-6-14-5-17 5z"/>
<path color=#0e91d2 d="M1474 4711l12 12-9 13-12-14z"/>
<path color=#f5ec18 d="M1256 4527l17-1-11-7-17 2z"/>
<path color=#f9d329 d="M1284 4533l17 6-11-9-17-4z"/>
<path color=#07a9c3 d="M1409 4663l14 24-5-2-14-24z"/>
<path color=#069ece d="M1526 4691l7-1-11 21-6 1z"/>
<path color=#f5ed17 d="M1716 4525l16-5-14-5-16 7z"/>
<path color=#0a96d1 d="M1496 4706l11 5-10 19-11-7z"/>
<path color=#f8f710 d="M1824 4520l18-5-14-6-18 5z"/>
<path color=#20b4ad d="M1582 4630l12-11-12 21-12 12z"/>
<path color=#16b1b4 d="M1389 4637l15 24-5-2-15-25z"/>
<path color=#07a9c3 d="M1550 4665l9-5-11 22-9 6z"/>
<path color=#f6f114 d="M1745 4525l17-6-14-5-16 6z"/>
<path color=#06a2cc d="M1438 4684l14 20-8 4-14-21z"/>
<path color=#f8f80f d="M1856 4521l19-6-15-6-18 6z"/>
<path color=#07a9c2 d="M1416 4664l14 23-7 0-14-24z"/>
<path color=#069fce d="M1517 4690l9 1-10 21-9-1z"/>
<path color=#079cd0 d="M1461 4696l13 15-9 11-13-18z"/>
<path color=#f8f611 d="M1147 4527l19-5-12-6-19 5z"/>
<path color=#fbcf2d d="M1672 4536l15-7-13 1-15 12z"/>
<path color=#40ba99 d="M1606 4597l13-12-13 20-12 14z"/>
<path color=#f7f512 d="M1178 4528l19-5-12-5-19 4z"/>
<path color=#079cd0 d="M1484 4697l12 9-10 17-12-12z"/>
<path color=#07a9c3 d="M1544 4667l6-2-11 23-6 2z"/>
<path color=#16b1b4 d="M1394 4639l15 24-5-2-15-24z"/>
<path color=#f6f313 d="M1209 4529l18-4-12-6-18 4z"/>
<path color=#f7f412 d="M1776 4525l17-5-14-6-17 5z"/>
<path color=#1ab2b1 d="M1571 4637l11-7-12 22-11 8z"/>
<path color=#f9fa0e d="M1889 4522l19-6-15-6-18 5z"/>
<path color=#f6f015 d="M1238 4530l18-3-11-6-18 4z"/>
<path color=#f5e91a d="M1266 4533l18 0-11-7-17 1z"/>
<path color=#fdca31 d="M1294 4539l17 8-10-8-17-6z"/>
<path color=#f5eb18 d="M1700 4531l16-6-14-3-15 7z"/>
<path color=#06a2cc d="M1507 4687l10 3-10 21-11-5z"/>
<path color=#07a9c3 d="M1538 4668l6-1-11 23-7 1z"/>
<path color=#f7f611 d="M1807 4525l17-5-14-6-17 6z"/>
<path color=#08abc0 d="M1424 4662l14 22-8 3-14-23z"/>
<path color=#06a5c8 d="M1448 4678l13 18-9 8-14-20z"/>
<path color=#38b99e d="M1594 4607l12-10-12 22-12 11z"/>
<path color=#17b1b3 d="M1401 4640l15 24-7-1-15-24z"/>
<path color=#f6f015 d="M1729 4530l16-5-13-5-16 5z"/>
<path color=#17b1b3 d="M1562 4642l9-5-12 23-9 5z"/>
<path color=#fbbc40 d="M1658 4545l14-9-13 6-14 13z"/>
<path color=#06a3ca d="M1471 4685l13 12-10 14-13-15z"/>
<path color=#f8f810 d="M1839 4526l17-5-14-6-18 5z"/>
<path color=#07a9c2 d="M1528 4668l10 0-12 23-9-1z"/>
<path color=#30b7a3 d="M1378 4614l16 25-5-2-16-25z"/>
<path color=#06a5c8 d="M1495 4680l12 7-11 19-12-9z"/>
<path color=#f7f313 d="M1759 4530l17-5-14-6-17 6z"/>
<path color=#f7f611 d="M1159 4532l19-4-12-6-19 5z"/>
<path color=#ffc238 d="M1303 4544l17 11-9-8-17-8z"/>
<path color=#f7f412 d="M1190 4533l19-4-12-6-19 5z"/>
<path color=#16b1b4 d="M1556 4644l6-2-12 23-6 2z"/>
<path color=#f5e51c d="M1276 4538l18 1-10-6-18 0z"/>
<path color=#f5e41d d="M1685 4536l15-5-13-2-15 7z"/>
<path color=#f6f214 d="M1220 4534l18-4-11-5-18 4z"/>
<path color=#f6ef16 d="M1249 4536l17-3-10-6-18 3z"/>
<path color=#f8f90f d="M1871 4527l18-5-14-7-19 6z"/>
<path color=#33b8a1 d="M1583 4613l11-6-12 23-11 7z"/>
<path color=#1bb2b0 d="M1409 4639l15 23-8 2-15-24z"/>
<path color=#0cadbc d="M1433 4658l15 20-10 6-14-22z"/>
<path color=#08abc0 d="M1518 4666l10 2-11 22-10-3z"/>
<path color=#f7f511 d="M1790 4531l17-6-14-5-17 5z"/>
<path color=#16b1b4 d="M1549 4645l7-1-12 23-6 1z"/>
<path color=#31b8a2 d="M1385 4615l16 25-7-1-16-25z"/>
<path color=#07aac2 d="M1458 4669l13 16-10 11-13-18z"/>
<path color=#f6ef16 d="M1714 4535l15-5-13-5-16 6z"/>
<path color=#07aac2 d="M1482 4670l13 10-11 17-13-12z"/>
<path color=#f8f710 d="M1821 4531l18-5-15-6-17 5z"/>
<path color=#30b8a2 d="M1574 4618l9-5-12 24-9 5z"/>
<path color=#fcbd3f d="M1311 4549l17 11-8-5-17-11z"/>
<path color=#17b1b3 d="M1540 4645l9 0-11 23-10 0z"/>
<path color=#f6f214 d="M1743 4535l16-5-14-5-16 5z"/>
<path color=#f6dc23 d="M1671 4542l14-6-13 0-14 9z"/>
<path color=#0cadbc d="M1506 4661l12 5-11 21-12-7z"/>
<path color=#f5e21f d="M1286 4543l17 1-9-5-18-1z"/>
<path color=#f5ee16 d="M1259 4540l17-2-10-5-17 3z"/>
<path color=#f7f611 d="M1171 4538l19-5-12-5-19 4z"/>
<path color=#f6f214 d="M1230 4539l19-3-11-6-18 4z"/>
<path color=#f8f90f d="M1853 4532l18-5-15-6-17 5z"/>
<path color=#f7f412 d="M1201 4539l19-5-11-5-19 4z"/>
<path color=#21b4ac d="M1418 4636l15 22-9 4-15-23z"/>
<path color=#30b7a3 d="M1568 4620l6-2-12 24-6 2z"/>
<path color=#14b0b5 d="M1443 4650l15 19-10 9-15-20z"/>
<path color=#f7f512 d="M1773 4536l17-5-14-6-17 5z"/>
<path color=#f5ed17 d="M1699 4540l15-5-14-4-15 5z"/>
<path color=#10afb9 d="M1468 4656l14 14-11 15-13-16z"/>
<path color=#1bb2b0 d="M1529 4644l11 1-12 23-10-2z"/>
<path color=#30b7a3 d="M1561 4621l7-1-12 24-7 1z"/>
<path color=#14b0b5 d="M1493 4652l13 9-11 19-13-10z"/>
<path color=#f9d329 d="M1657 4548l14-6-13 3-14 8z"/>
<path color=#f8f611 d="M1804 4537l17-6-14-6-17 6z"/>
<path color=#f6f114 d="M1727 4540l16-5-14-5-15 5z"/>
<path color=#f5e020 d="M1294 4547l17 2-8-5-17-1z"/>
<path color=#4dbc92 d="M1586 4594l10-3-13 22-9 5z"/>
<path color=#31b8a2 d="M1552 4622l9-1-12 24-9 0z"/>
<path color=#f5ee17 d="M1268 4545l18-2-10-5-17 2z"/>
<path color=#29b6a7 d="M1428 4630l15 20-10 8-15-22z"/>
<path color=#21b4ac d="M1517 4640l12 4-11 22-12-5z"/>
<path color=#f6f114 d="M1240 4544l19-4-10-4-19 3z"/>
<path color=#f8f810 d="M1836 4538l17-6-14-6-18 5z"/>
<path color=#f7f313 d="M1212 4544l18-5-10-5-19 5z"/>
<path color=#f5ec18 d="M1684 4545l15-5-14-4-14 6z"/>
<path color=#21b4ac d="M1454 4640l14 16-10 13-15-19z"/>
<path color=#f7f511 d="M1182 4543l19-4-11-6-19 5z"/>
<path color=#f7f412 d="M1757 4541l16-5-14-6-16 5z"/>
<path color=#4cbc92 d="M1580 4596l6-2-12 24-6 2z"/>
<path color=#21b4ac d="M1479 4641l14 11-11 18-14-14z"/>
<path color=#fdca31 d="M1644 4553l13-5-13 5-13 7z"/>
<path color=#33b8a0 d="M1541 4621l11 1-12 23-11-1z"/>
<path color=#f5de21 d="M1301 4550l18 3-8-4-17-2z"/>
<path color=#f6f115 d="M1712 4545l15-5-13-5-15 5z"/>
<path color=#f7f611 d="M1788 4542l16-5-14-6-17 5z"/>
<path color=#4cbc92 d="M1574 4598l6-2-12 24-7 1z"/>
<path color=#29b6a7 d="M1505 4633l12 7-11 21-13-9z"/>
<path color=#f5ed17 d="M1276 4549l18-2-8-4-18 2z"/>
<path color=#f5e91a d="M1671 4549l13-4-13-3-14 6z"/>
<path color=#f6f114 d="M1250 4548l18-3-9-5-19 4z"/>
<path color=#34b8a0 d="M1439 4622l15 18-11 10-15-20z"/>
<path color=#f8f710 d="M1819 4543l17-5-15-7-17 6z"/>
<path color=#f7f313 d="M1742 4545l15-4-14-6-16 5z"/>
<path color=#f7f313 d="M1222 4548l18-4-10-5-18 5z"/>
<path color=#4dbc91 d="M1565 4599l9-1-13 23-9 1z"/>
<path color=#ffc238 d="M1632 4558l12-5-13 7-12 7z"/>
<path color=#39b99d d="M1529 4618l12 3-12 23-12-4z"/>
<path color=#30b7a3 d="M1465 4627l14 14-11 15-14-16z"/>
<path color=#f7f512 d="M1193 4548l19-4-11-5-19 4z"/>
<path color=#f6f015 d="M1698 4549l14-4-13-5-15 5z"/>
<path color=#34b8a0 d="M1491 4624l14 9-12 19-14-11z"/>
<path color=#f5ed17 d="M1283 4552l18-2-7-3-18 2z"/>
<path color=#f7f511 d="M1772 4547l16-5-15-6-16 5z"/>
<path color=#f6de21 d="M1311 4555l17 2-4-2-18-3z"/>
<path color=#50bc90 d="M1554 4599l11 0-13 23-11-1z"/>
<path color=#f5e51c d="M1658 4553l13-4-14-1-13 5z"/>
<path color=#fcbd3f d="M1622 4562l10-4-13 9-11 5z"/>
<path color=#f6f115 d="M1258 4552l18-3-8-4-18 3z"/>
<path color=#41ba99 d="M1517 4613l12 5-12 22-12-7z"/>
<path color=#f6f313 d="M1727 4550l15-5-15-5-15 5z"/>
<path color=#f6f313 d="M1231 4553l19-5-10-4-18 4z"/>
<path color=#f8f710 d="M1802 4548l17-5-15-6-16 5z"/>
<path color=#f5ed17 d="M1288 4554l18-2-5-2-18 2z"/>
<path color=#f5de21 d="M1318 4558l18 2-8-3-17-2z"/>
<path color=#f7f512 d="M1203 4553l19-5-10-4-19 4z"/>
<path color=#f6ef16 d="M1685 4553l13-4-14-4-13 4z"/>
<path color=#43bb97 d="M1477 4612l14 12-12 17-14-14z"/>
<path color=#f5e21f d="M1646 4557l12-4-14 0-12 5z"/>
<path color=#f7f512 d="M1756 4551l16-4-15-6-15 4z"/>
<path color=#f6f115 d="M1265 4556l18-4-7-3-18 3z"/>
<path color=#f5ed17 d="M1293 4557l18-2-5-3-18 2z"/>
<path color=#4cbc92 d="M1503 4606l14 7-12 20-14-9z"/>
<path color=#ffc338 d="M1353 4566l17 8-9-1-17-10z"/>
<path color=#f6f214 d="M1712 4554l15-4-15-5-14 4z"/>
<path color=#f6f313 d="M1239 4557l19-5-8-4-19 5z"/>
<path color=#f5e020 d="M1327 4561l17 2-8-3-18-2z"/>
<path color=#f8f611 d="M1786 4553l16-5-14-6-16 5z"/>
<path color=#f5ee16 d="M1672 4557l13-4-14-4-13 4z"/>
<path color=#f5e020 d="M1635 4560l11-3-14 1-10 4z"/>
<path color=#f7f512 d="M1212 4557l19-4-9-5-19 5z"/>
<path color=#f6f115 d="M1270 4558l18-4-5-2-18 4z"/>
<path color=#f5ed17 d="M1300 4560l18-2-7-3-18 2z"/>
<path color=#f7f412 d="M1741 4556l15-5-14-6-15 5z"/>
<path color=#f6f214 d="M1699 4558l13-4-14-5-13 4z"/>
<path color=#f6f115 d="M1275 4560l18-3-5-3-18 4z"/>
<path color=#f6f313 d="M1247 4560l18-4-7-4-19 5z"/>
<path color=#f5de21 d="M1626 4563l9-3-13 2-10 3z"/>
<path color=#fdcb30 d="M1363 4569l17 6-10-1-17-8z"/>
<path color=#f5ee17 d="M1660 4561l12-4-14-4-12 4z"/>
<path color=#f5e21f d="M1336 4565l17 1-9-3-17-2z"/>
<path color=#f7f611 d="M1771 4557l15-4-14-6-16 4z"/>
<path color=#f5ed17 d="M1309 4563l18-2-9-3-18 2z"/>
<path color=#f7f512 d="M1220 4561l19-4-8-4-19 4z"/>
<path color=#f6de21 d="M1620 4565l6-2-14 2-6 1z"/>
<path color=#f7f412 d="M1727 4560l14-4-14-6-15 4z"/>
<path color=#f6f115 d="M1282 4563l18-3-7-3-18 3z"/>
<path color=#f6f313 d="M1251 4562l19-4-5-2-18 4z"/>
<path color=#f6f114 d="M1686 4562l13-4-14-5-13 4z"/>
<path color=#f5ed17 d="M1649 4564l11-3-14-4-11 3z"/>
<path color=#f5e51c d="M1346 4569l17 0-10-3-17-1z"/>
<path color=#f9d429 d="M1374 4572l17 3-11 0-17-6z"/>
<path color=#f6f313 d="M1256 4564l19-4-5-2-19 4z"/>
<path color=#f7f412 d="M1228 4564l19-4-8-3-19 4z"/>
<path color=#f7f611 d="M1756 4562l15-5-15-6-15 5z"/>
<path color=#f5ee16 d="M1318 4567l18-2-9-4-18 2z"/>
<path color=#f5de21 d="M1604 4569l9-2-13 1-9 2z"/>
<path color=#f6f114 d="M1290 4567l19-4-9-3-18 3z"/>
<path color=#f5ed17 d="M1640 4567l9-3-14-4-9 3z"/>
<path color=#f7f313 d="M1713 4564l14-4-15-6-13 4z"/>
<path color=#f6f114 d="M1674 4566l12-4-14-5-12 4z"/>
<path color=#f6f313 d="M1263 4568l19-5-7-3-19 4z"/>
<path color=#f7f412 d="M1232 4567l19-5-4-2-19 4z"/>
<path color=#f5ed17 d="M1634 4568l6-1-14-4-6 2z"/>
<path color=#f5e020 d="M1594 4572l10-3-13 1-11 2z"/>
<path color=#fdcb30 d="M1555 4576l13-1-13 7-13-1z"/>
<path color=#f7f511 d="M1742 4566l14-4-15-6-14 4z"/>
<path color=#f5e91a d="M1356 4573l18-1-11-3-17 0z"/>
<path color=#f5ee16 d="M1328 4572l18-3-10-4-18 2z"/>
<path color=#f6dd22 d="M1385 4575l17 1-11-1-17-3z"/>
<path color=#f6f115 d="M1663 4569l11-3-14-5-11 3z"/>
<path color=#f7f313 d="M1700 4568l13-4-14-6-13 4z"/>
<path color=#f7f412 d="M1237 4569l19-5-5-2-19 5z"/>
<path color=#f5ed17 d="M1627 4570l7-2-14-3-7 2z"/>
<path color=#f6f114 d="M1300 4571l18-4-9-4-19 4z"/>
<path color=#fbd02c d="M1414 4578l16 2-12 3-16-7z"/>
<path color=#f6f313 d="M1272 4571l18-4-8-4-19 5z"/>
<path color=#f5e21f d="M1582 4575l12-3-14 0-12 3z"/>
<path color=#f5ed17 d="M1618 4573l9-3-14-3-9 2z"/>
<path color=#f9d429 d="M1542 4579l13-3-13 5-14 0z"/>
<path color=#f6f115 d="M1654 4571l9-2-14-5-9 3z"/>
<path color=#f7f412 d="M1245 4572l18-4-7-4-19 5z"/>
<path color=#f7f512 d="M1728 4570l14-4-15-6-14 4z"/>
<path color=#f6f313 d="M1688 4571l12-3-14-6-12 4z"/>
<path color=#f6ef16 d="M1338 4576l18-3-10-4-18 3z"/>
<path color=#f5ec18 d="M1367 4577l18-2-11-3-18 1z"/>
<path color=#f6f114 d="M1310 4576l18-4-10-5-18 4z"/>
<path color=#f6f115 d="M1648 4573l6-2-14-4-6 1z"/>
<path color=#f5ed17 d="M1607 4576l11-3-14-4-10 3z"/>
<path color=#f5e51c d="M1397 4579l17-1-12-2-17-1z"/>
<path color=#f5e51c d="M1569 4578l13-3-14 0-13 1z"/>
<path color=#f6f313 d="M1281 4575l19-4-10-4-18 4z"/>
<path color=#f5df21 d="M1426 4581l16-1-12 0-16-2z"/>
<path color=#f7f512 d="M1253 4576l19-5-9-3-18 4z"/>
<path color=#f6dd22 d="M1527 4581l15-2-14 2-14 0z"/>
<path color=#f6f115 d="M1642 4575l6-2-14-5-7 2z"/>
<path color=#f6f313 d="M1678 4574l10-3-14-5-11 3z"/>
<path color=#f7f512 d="M1715 4574l13-4-15-6-13 4z"/>
<path color=#f5ee16 d="M1596 4579l11-3-13-4-12 3z"/>
<path color=#f5df21 d="M1484 4583l15-2-13 2-15-2z"/>
<path color=#f6f115 d="M1632 4578l10-3-15-5-9 3z"/>
<path color=#f5e91a d="M1555 4581l14-3-14-2-13 3z"/>
<path color=#f6f313 d="M1669 4577l9-3-15-5-9 2z"/>
<path color=#f6f214 d="M1320 4580l18-4-10-4-18 4z"/>
<path color=#f6f015 d="M1350 4581l17-4-11-4-18 3z"/>
<path color=#f7f313 d="M1291 4580l19-4-10-5-19 4z"/>
<path color=#f5ee16 d="M1379 4582l18-3-12-4-18 2z"/>
<path color=#f7f512 d="M1703 4577l12-3-15-6-12 3z"/>
<path color=#f7f512 d="M1262 4580l19-5-9-4-19 5z"/>
<path color=#f5e51c d="M1512 4584l15-3-13 0-15 0z"/>
<path color=#f5ec18 d="M1409 4583l17-2-12-3-17 1z"/>
<path color=#f6f114 d="M1622 4581l10-3-14-5-11 3z"/>
<path color=#f6f313 d="M1662 4579l7-2-15-6-6 2z"/>
<path color=#f5ee16 d="M1583 4582l13-3-14-4-13 3z"/>
<path color=#f5ea19 d="M1438 4585l17-3-13-2-16 1z"/>
<path color=#f5ec18 d="M1541 4584l14-3-13-2-15 2z"/>
<path color=#f5ea19 d="M1468 4586l16-3-13-2-16 1z"/>
<path color=#f6f313 d="M1656 4580l6-1-14-6-6 2z"/>
<path color=#f7f512 d="M1692 4580l11-3-15-6-10 3z"/>
<path color=#f6f214 d="M1331 4585l19-4-12-5-18 4z"/>
<path color=#f7f313 d="M1302 4585l18-5-10-4-19 4z"/>
<path color=#f6f114 d="M1610 4584l12-3-15-5-11 3z"/>
<path color=#f5ec18 d="M1497 4587l15-3-13-3-15 2z"/>
<path color=#f6f114 d="M1361 4586l18-4-12-5-17 4z"/>
<path color=#f7f512 d="M1272 4584l19-4-10-5-19 5z"/>
<path color=#f6ef16 d="M1569 4586l14-4-14-4-14 3z"/>
<path color=#f6f313 d="M1647 4583l9-3-14-5-10 3z"/>
<path color=#f6ef15 d="M1391 4587l18-4-12-4-18 3z"/>
<path color=#f7f412 d="M1683 4583l9-3-14-6-9 3z"/>
<path color=#f5ee16 d="M1421 4588l17-3-12-4-17 2z"/>
<path color=#f5ee16 d="M1526 4588l15-4-14-3-15 3z"/>
<path color=#f5ee16 d="M1451 4589l17-3-13-4-17 3z"/>
<path color=#f6f114 d="M1597 4587l13-3-14-5-13 3z"/>
<path color=#f6f313 d="M1636 4586l11-3-15-5-10 3z"/>
<path color=#f7f412 d="M1677 4585l6-2-14-6-7 2z"/>
<path color=#f6f015 d="M1555 4589l14-3-14-5-14 3z"/>
<path color=#f5ee16 d="M1481 4591l16-4-13-4-16 3z"/>
<path color=#f7f412 d="M1313 4589l18-4-11-5-18 5z"/>
<path color=#f7f512 d="M1283 4589l19-4-11-5-19 4z"/>
<path color=#f6f313 d="M1343 4590l18-4-11-5-19 4z"/>
<path color=#f7f412 d="M1671 4586l6-1-15-6-6 1z"/>
<path color=#f6f214 d="M1373 4591l18-4-12-5-18 4z"/>
<path color=#f6ef15 d="M1510 4592l16-4-14-4-15 3z"/>
<path color=#f6f114 d="M1404 4592l17-4-12-5-18 4z"/>
<path color=#f6f313 d="M1624 4589l12-3-14-5-12 3z"/>
<path color=#f6f214 d="M1583 4591l14-4-14-5-14 4z"/>
<path color=#f7f412 d="M1662 4589l9-3-15-6-9 3z"/>
<path color=#f6f015 d="M1434 4593l17-4-13-4-17 3z"/>
<path color=#f6f114 d="M1540 4593l15-4-14-5-15 4z"/>
<path color=#f6f015 d="M1464 4594l17-3-13-5-17 3z"/>
<path color=#f7f313 d="M1611 4593l13-4-14-5-13 3z"/>
<path color=#f7f511 d="M1294 4594l19-5-11-4-19 4z"/>
<path color=#f7f412 d="M1324 4595l19-5-12-5-18 4z"/>
<path color=#f7f512 d="M1651 4592l11-3-15-6-11 3z"/>
<path color=#f7f313 d="M1355 4595l18-4-12-5-18 4z"/>
<path color=#f6f114 d="M1494 4596l16-4-13-5-16 4z"/>
<path color=#f6f214 d="M1569 4595l14-4-14-5-14 3z"/>
<path color=#f6f213 d="M1386 4596l18-4-13-5-18 4z"/>
<path color=#f6f214 d="M1417 4597l17-4-13-5-17 4z"/>
<path color=#f6f214 d="M1524 4597l16-4-14-5-16 4z"/>
<path color=#f7f512 d="M1639 4595l12-3-15-6-12 3z"/>
<path color=#f6f214 d="M1447 4599l17-5-13-5-17 4z"/>
<path color=#f7f313 d="M1598 4597l13-4-14-6-14 4z"/>
<path color=#f6f313 d="M1554 4599l15-4-14-6-15 4z"/>
<path color=#f6f214 d="M1478 4600l16-4-13-5-17 3z"/>
<path color=#f7f611 d="M1306 4599l18-4-11-6-19 5z"/>
<path color=#f7f512 d="M1337 4600l18-5-12-5-19 5z"/>
<path color=#f7f412 d="M1368 4601l18-5-13-5-18 4z"/>
<path color=#f7f512 d="M1626 4599l13-4-15-6-13 4z"/>
<path color=#f6f213 d="M1508 4601l16-4-14-5-16 4z"/>
<path color=#f7f313 d="M1399 4602l18-5-13-5-18 4z"/>
<path color=#f7f412 d="M1583 4600l15-3-15-6-14 4z"/>
<path color=#f7f313 d="M1430 4603l17-4-13-6-17 4z"/>
<path color=#f7f313 d="M1538 4603l16-4-14-6-16 4z"/>
<path color=#f7f313 d="M1461 4604l17-4-14-6-17 5z"/>
<path color=#f7f512 d="M1612 4602l14-3-15-6-13 4z"/>
<path color=#f7f611 d="M1318 4605l19-5-13-5-18 4z"/>
<path color=#f7f511 d="M1349 4605l19-4-13-6-18 5z"/>
<path color=#f7f313 d="M1492 4605l16-4-14-5-16 4z"/>
<path color=#f7f412 d="M1568 4604l15-4-14-5-15 4z"/>
<path color=#f7f512 d="M1380 4606l19-4-13-6-18 5z"/>
<path color=#f7f412 d="M1412 4607l18-4-13-6-18 5z"/>
<path color=#f7f412 d="M1522 4607l16-4-14-6-16 4z"/>
<path color=#f7f511 d="M1598 4606l14-4-14-5-15 3z"/>
<path color=#f7f412 d="M1443 4608l18-4-14-5-17 4z"/>
<path color=#f7f512 d="M1553 4609l15-5-14-5-16 4z"/>
<path color=#f7f412 d="M1475 4610l17-5-14-5-17 4z"/>
<path color=#f8f611 d="M1330 4610l19-5-12-5-19 5z"/>
<path color=#f7f611 d="M1362 4611l18-5-12-5-19 4z"/>
<path color=#f7f512 d="M1506 4611l16-4-14-6-16 4z"/>
<path color=#f7f511 d="M1394 4612l18-5-13-5-19 4z"/>
<path color=#f7f611 d="M1583 4610l15-4-15-6-15 4z"/>
<path color=#f7f511 d="M1426 4613l17-5-13-5-18 4z"/>
<path color=#f7f511 d="M1537 4613l16-4-15-6-16 4z"/>
<path color=#f7f511 d="M1457 4614l18-4-14-6-18 4z"/>
<path color=#f8f710 d="M1343 4616l19-5-13-6-19 5z"/>
<path color=#f7f611 d="M1568 4615l15-5-15-6-15 5z"/>
<path color=#f7f511 d="M1489 4616l17-5-14-6-17 5z"/>
<path color=#f8f711 d="M1375 4617l19-5-14-6-18 5z"/>
<path color=#f8f611 d="M1407 4618l19-5-14-6-18 5z"/>
<path color=#f7f611 d="M1520 4617l17-4-15-6-16 4z"/>
<path color=#f7f611 d="M1439 4619l18-5-14-6-17 5z"/>
<path color=#f8f611 d="M1552 4619l16-4-15-6-16 4z"/>
<path color=#f8f611 d="M1471 4620l18-4-14-6-18 4z"/>
<path color=#f8f710 d="M1356 4621l19-4-13-6-19 5z"/>
<path color=#f8f711 d="M1503 4622l17-5-14-6-17 5z"/>
<path color=#f8f710 d="M1389 4622l18-4-13-6-19 5z"/>
<path color=#f8f710 d="M1421 4624l18-5-13-6-19 5z"/>
<path color=#f8f710 d="M1535 4623l17-4-15-6-17 4z"/>
<path color=#f8f710 d="M1454 4625l17-5-14-6-18 5z"/>
<path color=#f8f710 d="M1486 4626l17-4-14-6-18 4z"/>
<path color=#f8f810 d="M1370 4627l19-5-14-5-19 4z"/>
<path color=#f8f810 d="M1403 4628l18-4-14-6-18 4z"/>
<path color=#f8f710 d="M1518 4628l17-5-15-6-17 5z"/>
<path color=#f8f810 d="M1435 4630l19-5-15-6-18 5z"/>
<path color=#f8f810 d="M1468 4631l18-5-15-6-17 5z"/>
<path color=#f8f810 d="M1501 4633l17-5-15-6-17 4z"/>
<path color=#f8f90f d="M1384 4633l19-5-14-6-19 5z"/>
<path color=#f8f80f d="M1417 4635l18-5-14-6-18 4z"/>
<path color=#f8f80f d="M1450 4636l18-5-14-6-19 5z"/>
<path color=#f8f90f d="M1483 4637l18-4-15-7-18 5z"/>
<path color=#f8f90f d="M1398 4640l19-5-14-7-19 5z"/>
<path color=#f8f90f d="M1431 4641l19-5-15-6-18 5z"/>
<path color=#f8f90f d="M1465 4642l18-5-15-6-18 5z"/>
<path color=#f9fa0e d="M1412 4646l19-5-14-6-19 5z"/>
<path color=#f9fa0e d="M1446 4647l19-5-15-6-19 5z"/>
<path color=#f9fa0e d="M1427 4652l19-5-15-6-19 5z"/>
</g>
<text x="147.9" y="429" font-size="11.7" text-anchor="middle" fill="#262626">Parameter space</text>
<text x="138.5" y="513.27" font-size="10.2" text-anchor="end" fill="#262626">-5</text>
<text x="119.05" y="504.37" font-size="10.2" text-anchor="end" fill="#262626">0</text>
<text x="99.6" y="495.47" font-size="10.2" text-anchor="end" fill="#262626">5</text>
<text x="146.4" y="513.27" font-size="10.2" text-anchor="start" fill="#262626">-5</text>
<text x="171.4" y="506.17" font-size="10.2" text-anchor="start" fill="#262626">0</text>
<text x="196.4" y="499.07" font-size="10.2" text-anchor="start" fill="#262626">5</text>
<text x="99.2" y="487.04" font-size="10.2" text-anchor="end" fill="#262626">-0.6</text>
<text x="99.2" y="473.51" font-size="10.2" text-anchor="end" fill="#262626">-0.4</text>
<text x="99.2" y="460.35" font-size="10.2" text-anchor="end" fill="#262626">-0.2</text>
<text x="100.2" y="524.15" font-size="11.4" text-anchor="middle" fill="#262626">x</text><text x="103.62" y="528.71" font-size="8.208" text-anchor="start" fill="#262626">2</text>
<text x="180.7" y="525.55" font-size="11.4" text-anchor="middle" fill="#262626">x</text><text x="184.12" y="530.11" font-size="8.208" text-anchor="start" fill="#262626">1</text>
<text x="72.9" y="469.49" font-size="10.83" text-anchor="middle" fill="#262626" transform="rotate(-90 72.9 465.7)">F23</text>
<clipPath id="c1"><rect x="163.3" y="11.8" width="97" height="70.6"/></clipPath>
<g clip-path="url(#c1)" stroke-linejoin="round">
<path d="M163.5 11.8 163.5 66.1 164.2 70.3 166.3 72.4 168.4 73.8 170.5 75.9 172.6 78.7 175.4 80.1 181 81.2 188 81.8 199.3 82" stroke="#ff1a1a" stroke-width="1.1" fill="none"/>
<path d="M163.5 11.8 163.5 23.6 187.3 23.6 187.3 31.7 211.2 31.7 211.4 33.1 245 33.1 245 36.2 260.3 36.2" stroke="#2a2aff" stroke-width="1.0" fill="none"/>
<path d="M163.5 11.8 163.5 24.7 208.3 24.7 208.5 37.5 209.9 39.5 211.3 43.7 212 45.8 212.7 52 214.1 56.3 215.5 58.4 216.2 61.4 244.5 61.4 245 66 247 68.9 260.3 69.4" stroke="#3a3a3a" stroke-width="1.0" fill="none"/>
<path d="M163.5 11.8 163.5 52.1 166.3 54.6 169.8 54.9 182.4 54.9 185.2 56.3 187.3 61.9 188 66.1 188.8 71.7 190.2 74.5 196.5 75.2 197.9 76.6 200 81.9 260.3 81.9" stroke="#33ee33" stroke-width="1.0" fill="none"/>
<path d="M163.5 11.8 163.5 47.2 168.4 47.9 169.8 50.7 170.5 59 174 59.8 181 60.8 193.7 62.6 194.4 65.6 214.7 65.9 245 66.4 246 67.4 260.3 67.4" stroke="#ff3030" stroke-width="1.0" fill="none" stroke-dasharray="1.8 1.5"/>
<path d="M163.5 11.8 163.8 55 164.2 57.7 166.3 64 174 64.2 188 65.2 200 65.8 260.3 66" stroke="#2a2aff" stroke-width="1.0" fill="none" stroke-dasharray="3 1 1 1"/>
<path d="M163.5 11.8 163.5 60 164.9 63.3 173.3 66.1 174 67.5 190.2 71.2 260.3 71.2" stroke="#22ee22" stroke-width="1.0" fill="none" stroke-dasharray="2.4 1.6"/>
<path d="M163.5 11.8 163.5 39.2 260.3 39.2" stroke="#8080ff" stroke-width="1.0" fill="none"/>
</g>
<rect x="163.3" y="11.8" width="97" height="70.6" fill="none" stroke="#9a9a9a" stroke-width="0.8"/>
<path d="M182.62 82.4v-1M182.62 11.8v1" stroke="#9a9a9a" stroke-width="0.6"/>
<path d="M202.04 82.4v-1M202.04 11.8v1" stroke="#9a9a9a" stroke-width="0.6"/>
<path d="M221.46 82.4v-1M221.46 11.8v1" stroke="#9a9a9a" stroke-width="0.6"/>
<path d="M240.88 82.4v-1M240.88 11.8v1" stroke="#9a9a9a" stroke-width="0.6"/>
<text transform="translate(182.62 90.84) scale(1 1.1)" font-size="6.6" text-anchor="middle" fill="#262626">200</text>
<text transform="translate(202.04 90.84) scale(1 1.1)" font-size="6.6" text-anchor="middle" fill="#262626">400</text>
<text transform="translate(221.46 90.84) scale(1 1.1)" font-size="6.6" text-anchor="middle" fill="#262626">600</text>
<text transform="translate(240.88 90.84) scale(1 1.1)" font-size="6.6" text-anchor="middle" fill="#262626">800</text>
<text transform="translate(260.3 90.84) scale(1 1.1)" font-size="6.6" text-anchor="middle" fill="#262626">1000</text>
<text transform="translate(211.8 99.74) scale(1 1.1)" font-size="6.6" text-anchor="middle" fill="#262626">Iteration</text>
<text transform="translate(211.8 8.7) scale(1 1.1)" font-size="7" text-anchor="middle" fill="#262626">Objective space</text>
<text transform="translate(145.3 47.1) rotate(-90) scale(1 1)" y="2.31" font-size="6.6" text-anchor="middle" fill="#262626">Optimal results</text>
<text transform="translate(161.1 49.84) scale(1 1.1)" font-size="6.6" text-anchor="end" fill="#262626">10<tspan font-size="4.75" dy="-2.97">-2</tspan></text>
<rect x="231.6" y="13.1" width="27.6" height="52.5" fill="#fff" stroke="#9a9a9a" stroke-width="0.7"/>
<path d="M232.5 16.7H242.2" stroke="#ff1a1a" stroke-width="1.1"/>
<text class="lg" transform="translate(243.1 19.05) scale(0.86 1.12)" font-size="6" text-anchor="start" fill="#262626">IVIA</text>
<path d="M232.5 23.2H242.2" stroke="#2a2aff" stroke-width="1.0"/>
<text class="lg" transform="translate(243.1 25.55) scale(0.86 1.12)" font-size="6" text-anchor="start" fill="#262626">TFWO</text>
<path d="M232.5 29.7H242.2" stroke="#3a3a3a" stroke-width="1.0"/>
<text class="lg" transform="translate(243.1 32.05) scale(0.86 1.12)" font-size="6" text-anchor="start" fill="#262626">GEO</text>
<path d="M232.5 36.2H242.2" stroke="#33ee33" stroke-width="1.0"/>
<text class="lg" transform="translate(243.1 38.55) scale(0.86 1.12)" font-size="6" text-anchor="start" fill="#262626">PPA</text>
<path d="M232.5 42.7H242.2" stroke="#ff3030" stroke-width="1.0" stroke-dasharray="1.8 1.5"/>
<text class="lg" transform="translate(243.1 45.05) scale(0.86 1.12)" font-size="6" text-anchor="start" fill="#262626">RSO</text>
<path d="M232.5 49.2H242.2" stroke="#2a2aff" stroke-width="1.0" stroke-dasharray="3 1 1 1"/>
<text class="lg" transform="translate(243.1 51.55) scale(0.86 1.12)" font-size="6" text-anchor="start" fill="#262626">GWO</text>
<path d="M232.5 55.7H242.2" stroke="#22ee22" stroke-width="1.0" stroke-dasharray="2.4 1.6"/>
<text class="lg" transform="translate(243.1 58.05) scale(0.86 1.12)" font-size="6" text-anchor="start" fill="#262626">PSO</text>
<path d="M232.5 62.2H242.2" stroke="#8080ff" stroke-width="1.0"/>
<text class="lg" transform="translate(243.1 64.55) scale(0.86 1.12)" font-size="6" text-anchor="start" fill="#262626">WOA</text>
<clipPath id="c2"><rect x="434.8" y="10.6" width="101.7" height="72.3"/></clipPath>
<g clip-path="url(#c2)" stroke-linejoin="round">
<path d="M435.1 65 435.1 82.9" stroke="#ff1a1a" stroke-width="1.1" fill="none"/>
<path d="M435 10.6 435 38.5 465.5 38.5 467.8 39.7 469.6 40.3 469.6 42.5" stroke="#ff3030" stroke-width="1.0" fill="none" stroke-dasharray="1.8 1.5"/>
<path d="M435.1 10.6 435.1 47" stroke="#8080ff" stroke-width="1.0" fill="none"/>
</g>
<rect x="434.8" y="10.6" width="101.7" height="72.3" fill="none" stroke="#9a9a9a" stroke-width="0.8"/>
<path d="M455.06 82.9v-1M455.06 10.6v1" stroke="#9a9a9a" stroke-width="0.6"/>
<path d="M475.42 82.9v-1M475.42 10.6v1" stroke="#9a9a9a" stroke-width="0.6"/>
<path d="M495.78 82.9v-1M495.78 10.6v1" stroke="#9a9a9a" stroke-width="0.6"/>
<path d="M516.14 82.9v-1M516.14 10.6v1" stroke="#9a9a9a" stroke-width="0.6"/>
<text transform="translate(455.06 91.34) scale(1 1.1)" font-size="6.6" text-anchor="middle" fill="#262626">200</text>
<text transform="translate(475.42 91.34) scale(1 1.1)" font-size="6.6" text-anchor="middle" fill="#262626">400</text>
<text transform="translate(495.78 91.34) scale(1 1.1)" font-size="6.6" text-anchor="middle" fill="#262626">600</text>
<text transform="translate(516.14 91.34) scale(1 1.1)" font-size="6.6" text-anchor="middle" fill="#262626">800</text>
<text transform="translate(536.5 91.34) scale(1 1.1)" font-size="6.6" text-anchor="middle" fill="#262626">1000</text>
<text transform="translate(485.65 100.24) scale(1 1.1)" font-size="6.6" text-anchor="middle" fill="#262626">Iteration</text>
<text transform="translate(485.65 7.5) scale(1 1.1)" font-size="7" text-anchor="middle" fill="#262626">Objective space</text>
<text transform="translate(416.8 46.75) rotate(-90) scale(1 1)" y="2.31" font-size="6.6" text-anchor="middle" fill="#262626">Optimal results</text>
<text transform="translate(432.6 54.74) scale(1 1.1)" font-size="6.6" text-anchor="end" fill="#262626">10<tspan font-size="4.75" dy="-2.97">0</tspan></text>
<path d="M435.1 46.8V65.1" stroke="#a0307a" stroke-width="1.3"/>
<path d="M435.1 65.1V83" stroke="#ff1a1a" stroke-width="1.5"/>
<rect x="449.5" y="43.5" width="42" height="30.5" fill="#fff" stroke="#a8a8a8" stroke-width="0.6"/>
<path d="M449.5 55.3H491.5" stroke="#ff7070" stroke-width="0.6" stroke-dasharray="1.2 1"/>
<path d="M449.5 64.3H469" stroke="#555" stroke-width="0.6"/>
<path d="M450.3 43.9L450.8 52L451.3 57.5" stroke="#8a8aff" stroke-width="0.8" fill="none"/>
<path d="M450.7 58L452.5 60.4" stroke="#40e040" stroke-width="0.8" fill="none"/>
<path d="M451.3 57.5L451.9 63.4L453.6 66.3" stroke="#3a3aff" stroke-width="0.7" fill="none"/>
<path d="M450.1 57.5L451.9 59.2L458.4 59.8L460.5 74" stroke="#ff3030" stroke-width="0.8" fill="none"/>
<text font-size="4.8" fill="#333" text-anchor="middle"><tspan x="450.1" y="80.2">0</tspan><tspan x="460.5" y="80.2">5</tspan><tspan x="470.8" y="80.2">10</tspan><tspan x="481.4" y="80.2">15</tspan><tspan x="491.5" y="80.2">20</tspan></text>
<text x="448.9" y="62.6" font-size="4.8" fill="#333" text-anchor="end">10<tspan font-size="3.4" dy="-2">0</tspan></text>
<path d="M435.3 70.6L441.8 69.3" stroke="#ff1a1a" stroke-width="2"/>
<path d="M446.8 68.1L440.8 66.3L442.6 72.4Z" fill="#ff1a1a"/>
<rect x="506.4" y="13" width="28.4" height="53.2" fill="#fff" stroke="#9a9a9a" stroke-width="0.7"/>
<path d="M507.3 16.6H517" stroke="#ff1a1a" stroke-width="1.1"/>
<text class="lg" transform="translate(517.9 18.95) scale(0.86 1.12)" font-size="6" text-anchor="start" fill="#262626">IVIA</text>
<path d="M507.3 23.2H517" stroke="#2a2aff" stroke-width="1.0"/>
<text class="lg" transform="translate(517.9 25.55) scale(0.86 1.12)" font-size="6" text-anchor="start" fill="#262626">TFWO</text>
<path d="M507.3 29.8H517" stroke="#3a3a3a" stroke-width="1.0"/>
<text class="lg" transform="translate(517.9 32.15) scale(0.86 1.12)" font-size="6" text-anchor="start" fill="#262626">GEO</text>
<path d="M507.3 36.4H517" stroke="#33ee33" stroke-width="1.0"/>
<text class="lg" transform="translate(517.9 38.75) scale(0.86 1.12)" font-size="6" text-anchor="start" fill="#262626">PPA</text>
<path d="M507.3 43H517" stroke="#ff3030" stroke-width="1.0" stroke-dasharray="1.8 1.5"/>
<text class="lg" transform="translate(517.9 45.35) scale(0.86 1.12)" font-size="6" text-anchor="start" fill="#262626">RSO</text>
<path d="M507.3 49.6H517" stroke="#2a2aff" stroke-width="1.0" stroke-dasharray="3 1 1 1"/>
<text class="lg" transform="translate(517.9 51.95) scale(0.86 1.12)" font-size="6" text-anchor="start" fill="#262626">GWO</text>
<path d="M507.3 56.2H517" stroke="#22ee22" stroke-width="1.0" stroke-dasharray="2.4 1.6"/>
<text class="lg" transform="translate(517.9 58.55) scale(0.86 1.12)" font-size="6" text-anchor="start" fill="#262626">PSO</text>
<path d="M507.3 62.8H517" stroke="#8080ff" stroke-width="1.0"/>
<text class="lg" transform="translate(517.9 65.15) scale(0.86 1.12)" font-size="6" text-anchor="start" fill="#262626">WOA</text>
<clipPath id="c3"><rect x="161" y="114.8" width="100.6" height="68.5"/></clipPath>
<g clip-path="url(#c3)" stroke-linejoin="round">
<path d="M161.2 170 161.4 183.3" stroke="#ff1a1a" stroke-width="1.1" fill="none"/>
<path d="M161.5 114.8 162 137 162.5 148.9 164 149.7 164.7 153.4 173.3 153.4 173.3 178.9 178.2 178.9 179 179.7 198.4 179.7 198.6 180.5 218.8 180.5 219 182.9 261.6 182.9" stroke="#2a2aff" stroke-width="1.0" fill="none"/>
<path d="M161.2 114.8 161.2 170 162 179.3 164 179.7 261.6 179.7" stroke="#808080" stroke-width="1.2" fill="none"/>
<path d="M161.4 150 161.6 178 162.5 182.8 261.6 182.8" stroke="#33ee33" stroke-width="1.0" fill="none"/>
<path d="M161.6 114.8 161.7 133.4 177.5 133.4 179.7 136.2 181.2 140.9 226 140.9 227.5 142.2 231.2 143.2 240 143.6" stroke="#ff3030" stroke-width="1.0" fill="none" stroke-dasharray="1.8 1.5"/>
<path d="M161.3 160 161.6 181 163 183 261.6 183" stroke="#2a2aff" stroke-width="1.0" fill="none" stroke-dasharray="3 1 1 1"/>
<path d="M161.6 150 161.8 180 163 183 261.6 183" stroke="#22ee22" stroke-width="1.0" fill="none" stroke-dasharray="2.4 1.6"/>
<path d="M161.3 114.8 161.3 175 162 181 165 182.2 261.6 182.4" stroke="#8080ff" stroke-width="1.0" fill="none"/>
</g>
<rect x="161" y="114.8" width="100.6" height="68.5" fill="none" stroke="#9a9a9a" stroke-width="0.8"/>
<path d="M181.04 183.3v-1M181.04 114.8v1" stroke="#9a9a9a" stroke-width="0.6"/>
<path d="M201.18 183.3v-1M201.18 114.8v1" stroke="#9a9a9a" stroke-width="0.6"/>
<path d="M221.32 183.3v-1M221.32 114.8v1" stroke="#9a9a9a" stroke-width="0.6"/>
<path d="M241.46 183.3v-1M241.46 114.8v1" stroke="#9a9a9a" stroke-width="0.6"/>
<text transform="translate(181.04 191.74) scale(1 1.1)" font-size="6.6" text-anchor="middle" fill="#262626">200</text>
<text transform="translate(201.18 191.74) scale(1 1.1)" font-size="6.6" text-anchor="middle" fill="#262626">400</text>
<text transform="translate(221.32 191.74) scale(1 1.1)" font-size="6.6" text-anchor="middle" fill="#262626">600</text>
<text transform="translate(241.46 191.74) scale(1 1.1)" font-size="6.6" text-anchor="middle" fill="#262626">800</text>
<text transform="translate(261.6 191.74) scale(1 1.1)" font-size="6.6" text-anchor="middle" fill="#262626">1000</text>
<text transform="translate(211.3 200.64) scale(1 1.1)" font-size="6.6" text-anchor="middle" fill="#262626">Iteration</text>
<text transform="translate(211.3 111.7) scale(1 1.1)" font-size="7" text-anchor="middle" fill="#262626">Objective space</text>
<text transform="translate(143 149.05) rotate(-90) scale(1 1)" y="2.31" font-size="6.6" text-anchor="middle" fill="#262626">Optimal results</text>
<text transform="translate(158.8 127.94) scale(1 1.1)" font-size="6.6" text-anchor="end" fill="#262626">10<tspan font-size="4.75" dy="-2.97">1</tspan></text>
<text transform="translate(158.8 170.74) scale(1 1.1)" font-size="6.6" text-anchor="end" fill="#262626">10<tspan font-size="4.75" dy="-2.97">0</tspan></text>
<rect x="231.6" y="116.5" width="28" height="51.9" fill="#fff" stroke="#9a9a9a" stroke-width="0.7"/>
<path d="M232.5 120.1H242.2" stroke="#ff1a1a" stroke-width="1.1"/>
<text class="lg" transform="translate(243.1 122.45) scale(0.86 1.12)" font-size="6" text-anchor="start" fill="#262626">IVIA</text>
<path d="M232.5 126.51H242.2" stroke="#2a2aff" stroke-width="1.0"/>
<text class="lg" transform="translate(243.1 128.87) scale(0.86 1.12)" font-size="6" text-anchor="start" fill="#262626">TFWO</text>
<path d="M232.5 132.93H242.2" stroke="#808080" stroke-width="1.2"/>
<text class="lg" transform="translate(243.1 135.28) scale(0.86 1.12)" font-size="6" text-anchor="start" fill="#262626">GEO</text>
<path d="M232.5 139.34H242.2" stroke="#33ee33" stroke-width="1.0"/>
<text class="lg" transform="translate(243.1 141.69) scale(0.86 1.12)" font-size="6" text-anchor="start" fill="#262626">PPA</text>
<path d="M232.5 145.76H242.2" stroke="#ff3030" stroke-width="1.0" stroke-dasharray="1.8 1.5"/>
<text class="lg" transform="translate(243.1 148.11) scale(0.86 1.12)" font-size="6" text-anchor="start" fill="#262626">RSO</text>
<path d="M232.5 152.17H242.2" stroke="#2a2aff" stroke-width="1.0" stroke-dasharray="3 1 1 1"/>
<text class="lg" transform="translate(243.1 154.52) scale(0.86 1.12)" font-size="6" text-anchor="start" fill="#262626">GWO</text>
<path d="M232.5 158.59H242.2" stroke="#22ee22" stroke-width="1.0" stroke-dasharray="2.4 1.6"/>
<text class="lg" transform="translate(243.1 160.94) scale(0.86 1.12)" font-size="6" text-anchor="start" fill="#262626">PSO</text>
<path d="M232.5 165H242.2" stroke="#8080ff" stroke-width="1.0"/>
<text class="lg" transform="translate(243.1 167.35) scale(0.86 1.12)" font-size="6" text-anchor="start" fill="#262626">WOA</text>
<clipPath id="c4"><rect x="437.3" y="113.3" width="101.8" height="69.2"/></clipPath>
<g clip-path="url(#c4)" stroke-linejoin="round">
<path d="M437.6 113.3 437.6 152.3 442.7 152.3 443.5 153 471.6 153 471.6 167.3 480.5 167.3 480.5 171.8 539.1 171.8" stroke="#2a2aff" stroke-width="1.0" fill="none"/>
<path d="M437.5 113.3 437.5 182.5" stroke="#2a2aff" stroke-width="1.0" fill="none"/>
<path d="M437.4 136.2 498.6 136.2 499.5 141.9 506.7 142 507.3 176.5 508.6 181.3 510 182.4" stroke="#3a3a3a" stroke-width="1.0" fill="none"/>
<path d="M437.8 147 438 179 439 182.2 539 182.2" stroke="#33ee33" stroke-width="1.0" fill="none"/>
<path d="M438.5 168.5 443.5 168.5 443.5 182.4" stroke="#ff3030" stroke-width="1.0" fill="none" stroke-dasharray="1.8 1.5"/>
<path d="M437.6 160 438 182.3 539 182.3" stroke="#2a2aff" stroke-width="1.0" fill="none" stroke-dasharray="3 1 1 1"/>
<path d="M438.2 148 438.5 179.6 442 179.6 443 182.2" stroke="#22ee22" stroke-width="1.0" fill="none" stroke-dasharray="2.4 1.6"/>
</g>
<rect x="437.3" y="113.3" width="101.8" height="69.2" fill="none" stroke="#9a9a9a" stroke-width="0.8"/>
<path d="M457.58 182.5v-1M457.58 113.3v1" stroke="#9a9a9a" stroke-width="0.6"/>
<path d="M477.96 182.5v-1M477.96 113.3v1" stroke="#9a9a9a" stroke-width="0.6"/>
<path d="M498.34 182.5v-1M498.34 113.3v1" stroke="#9a9a9a" stroke-width="0.6"/>
<path d="M518.72 182.5v-1M518.72 113.3v1" stroke="#9a9a9a" stroke-width="0.6"/>
<text transform="translate(457.58 190.94) scale(1 1.1)" font-size="6.6" text-anchor="middle" fill="#262626">200</text>
<text transform="translate(477.96 190.94) scale(1 1.1)" font-size="6.6" text-anchor="middle" fill="#262626">400</text>
<text transform="translate(498.34 190.94) scale(1 1.1)" font-size="6.6" text-anchor="middle" fill="#262626">600</text>
<text transform="translate(518.72 190.94) scale(1 1.1)" font-size="6.6" text-anchor="middle" fill="#262626">800</text>
<text transform="translate(539.1 190.94) scale(1 1.1)" font-size="6.6" text-anchor="middle" fill="#262626">1000</text>
<text transform="translate(488.2 199.84) scale(1 1.1)" font-size="6.6" text-anchor="middle" fill="#262626">Iteration</text>
<text transform="translate(488.2 110.2) scale(1 1.1)" font-size="7" text-anchor="middle" fill="#262626">Objective space</text>
<text transform="translate(419.3 147.9) rotate(-90) scale(1 1)" y="2.31" font-size="6.6" text-anchor="middle" fill="#262626">Optimal results</text>
<text transform="translate(435.1 129.24) scale(1 1.1)" font-size="6.6" text-anchor="end" fill="#262626">10<tspan font-size="4.75" dy="-2.97">2</tspan></text>
<text transform="translate(435.1 166.14) scale(1 1.1)" font-size="6.6" text-anchor="end" fill="#262626">10<tspan font-size="4.75" dy="-2.97">1</tspan></text>
<rect x="507.8" y="115.3" width="28.8" height="52.5" fill="#fff" stroke="#9a9a9a" stroke-width="0.7"/>
<path d="M508.7 118.9H518.4" stroke="#ff1a1a" stroke-width="1.1"/>
<text class="lg" transform="translate(519.3 121.25) scale(0.86 1.12)" font-size="6" text-anchor="start" fill="#262626">IVIA</text>
<path d="M508.7 125.4H518.4" stroke="#2a2aff" stroke-width="1.0"/>
<text class="lg" transform="translate(519.3 127.75) scale(0.86 1.12)" font-size="6" text-anchor="start" fill="#262626">TFWO</text>
<path d="M508.7 131.9H518.4" stroke="#3a3a3a" stroke-width="1.0"/>
<text class="lg" transform="translate(519.3 134.25) scale(0.86 1.12)" font-size="6" text-anchor="start" fill="#262626">GEO</text>
<path d="M508.7 138.4H518.4" stroke="#33ee33" stroke-width="1.0"/>
<text class="lg" transform="translate(519.3 140.75) scale(0.86 1.12)" font-size="6" text-anchor="start" fill="#262626">PPA</text>
<path d="M508.7 144.9H518.4" stroke="#ff3030" stroke-width="1.0" stroke-dasharray="1.8 1.5"/>
<text class="lg" transform="translate(519.3 147.25) scale(0.86 1.12)" font-size="6" text-anchor="start" fill="#262626">RSO</text>
<path d="M508.7 151.4H518.4" stroke="#2a2aff" stroke-width="1.0" stroke-dasharray="3 1 1 1"/>
<text class="lg" transform="translate(519.3 153.75) scale(0.86 1.12)" font-size="6" text-anchor="start" fill="#262626">GWO</text>
<path d="M508.7 157.9H518.4" stroke="#22ee22" stroke-width="1.0" stroke-dasharray="2.4 1.6"/>
<text class="lg" transform="translate(519.3 160.25) scale(0.86 1.12)" font-size="6" text-anchor="start" fill="#262626">PSO</text>
<path d="M508.7 164.4H518.4" stroke="#8080ff" stroke-width="1.0"/>
<text class="lg" transform="translate(519.3 166.75) scale(0.86 1.12)" font-size="6" text-anchor="start" fill="#262626">WOA</text>
<clipPath id="c5"><rect x="161.3" y="214.3" width="100.7" height="71.4"/></clipPath>
<g clip-path="url(#c5)" stroke-linejoin="round">
<path d="M161.5 280 162 285.5" stroke="#ff1a1a" stroke-width="1.1" fill="none"/>
<path d="M161.3 214.3 161.5 228.4 162.1 231.5 163.6 231.5 164.4 232.3 164.4 240.2 165.2 241 166 241.8 166.3 244.1 262 244.1" stroke="#2a2aff" stroke-width="1.0" fill="none"/>
<path d="M161.5 250 162.5 280 164.4 281.8 262 281.8" stroke="#808080" stroke-width="1.3" fill="none"/>
<path d="M161.6 250 161.8 282 163 284.5 262 284.8" stroke="#33ee33" stroke-width="1.0" fill="none"/>
<path d="M161.7 270 162.8 277 167.6 278.6 170.7 281.8 174.6 284.1 178 285.2 262 285.2" stroke="#ff3030" stroke-width="1.0" fill="none" stroke-dasharray="1.8 1.5"/>
<path d="M161.6 270 162 284 164 285.2 262 285.2" stroke="#2a2aff" stroke-width="1.0" fill="none" stroke-dasharray="3 1 1 1"/>
<path d="M161.8 255 162.3 283 164 285 262 285.2" stroke="#22ee22" stroke-width="1.0" fill="none" stroke-dasharray="2.4 1.6"/>
<path d="M161.8 275 162.2 284.6 165 285.3 262 285.3" stroke="#8080ff" stroke-width="1.0" fill="none"/>
</g>
<rect x="161.3" y="214.3" width="100.7" height="71.4" fill="none" stroke="#9a9a9a" stroke-width="0.8"/>
<path d="M181.36 285.7v-1M181.36 214.3v1" stroke="#9a9a9a" stroke-width="0.6"/>
<path d="M201.52 285.7v-1M201.52 214.3v1" stroke="#9a9a9a" stroke-width="0.6"/>
<path d="M221.68 285.7v-1M221.68 214.3v1" stroke="#9a9a9a" stroke-width="0.6"/>
<path d="M241.84 285.7v-1M241.84 214.3v1" stroke="#9a9a9a" stroke-width="0.6"/>
<text transform="translate(181.36 294.14) scale(1 1.1)" font-size="6.6" text-anchor="middle" fill="#262626">200</text>
<text transform="translate(201.52 294.14) scale(1 1.1)" font-size="6.6" text-anchor="middle" fill="#262626">400</text>
<text transform="translate(221.68 294.14) scale(1 1.1)" font-size="6.6" text-anchor="middle" fill="#262626">600</text>
<text transform="translate(241.84 294.14) scale(1 1.1)" font-size="6.6" text-anchor="middle" fill="#262626">800</text>
<text transform="translate(262 294.14) scale(1 1.1)" font-size="6.6" text-anchor="middle" fill="#262626">1000</text>
<text transform="translate(211.65 303.04) scale(1 1.1)" font-size="6.6" text-anchor="middle" fill="#262626">Iteration</text>
<text transform="translate(211.65 211.2) scale(1 1.1)" font-size="7" text-anchor="middle" fill="#262626">Objective space</text>
<text transform="translate(143.3 250) rotate(-90) scale(1 1)" y="2.31" font-size="6.6" text-anchor="middle" fill="#262626">Optimal results</text>
<text transform="translate(159.1 239.54) scale(1 1.1)" font-size="6.6" text-anchor="end" fill="#262626">-2.5</text>
<text transform="translate(159.1 260.54) scale(1 1.1)" font-size="6.6" text-anchor="end" fill="#262626">-3</text>
<text transform="translate(159.1 278.34) scale(1 1.1)" font-size="6.6" text-anchor="end" fill="#262626">-3.5</text>
<rect x="231.8" y="215.8" width="27.2" height="54.9" fill="#fff" stroke="#9a9a9a" stroke-width="0.7"/>
<path d="M232.7 219.4H242.4" stroke="#ff1a1a" stroke-width="1.1"/>
<text class="lg" transform="translate(243.3 221.75) scale(0.86 1.12)" font-size="6" text-anchor="start" fill="#262626">IVIA</text>
<path d="M232.7 226.24H242.4" stroke="#2a2aff" stroke-width="1.0"/>
<text class="lg" transform="translate(243.3 228.59) scale(0.86 1.12)" font-size="6" text-anchor="start" fill="#262626">TFWO</text>
<path d="M232.7 233.09H242.4" stroke="#808080" stroke-width="1.3"/>
<text class="lg" transform="translate(243.3 235.44) scale(0.86 1.12)" font-size="6" text-anchor="start" fill="#262626">GEO</text>
<path d="M232.7 239.93H242.4" stroke="#33ee33" stroke-width="1.0"/>
<text class="lg" transform="translate(243.3 242.28) scale(0.86 1.12)" font-size="6" text-anchor="start" fill="#262626">PPA</text>
<path d="M232.7 246.77H242.4" stroke="#ff3030" stroke-width="1.0" stroke-dasharray="1.8 1.5"/>
<text class="lg" transform="translate(243.3 249.12) scale(0.86 1.12)" font-size="6" text-anchor="start" fill="#262626">RSO</text>
<path d="M232.7 253.61H242.4" stroke="#2a2aff" stroke-width="1.0" stroke-dasharray="3 1 1 1"/>
<text class="lg" transform="translate(243.3 255.97) scale(0.86 1.12)" font-size="6" text-anchor="start" fill="#262626">GWO</text>
<path d="M232.7 260.46H242.4" stroke="#22ee22" stroke-width="1.0" stroke-dasharray="2.4 1.6"/>
<text class="lg" transform="translate(243.3 262.81) scale(0.86 1.12)" font-size="6" text-anchor="start" fill="#262626">PSO</text>
<path d="M232.7 267.3H242.4" stroke="#8080ff" stroke-width="1.0"/>
<text class="lg" transform="translate(243.3 269.65) scale(0.86 1.12)" font-size="6" text-anchor="start" fill="#262626">WOA</text>
<clipPath id="c6"><rect x="438.2" y="214" width="101.1" height="68.8"/></clipPath>
<g clip-path="url(#c6)" stroke-linejoin="round">
<path d="M438.5 270 439 282.5 441 282.6" stroke="#ff1a1a" stroke-width="1.1" fill="none"/>
<path d="M438.3 214 438.6 262 439.2 273 440.5 279 443 281.5 447 282.3 539.3 282.4" stroke="#2a2aff" stroke-width="1.0" fill="none"/>
<path d="M438.4 245.7 539.3 245.7" stroke="#8a8a8a" stroke-width="1.5" fill="none"/>
<path d="M438.5 255 439 278 441 281.5 445 282.4 539.3 282.4" stroke="#33ee33" stroke-width="1.0" fill="none"/>
<path d="M438.6 255 439.4 262.2 441 268.4 444.1 274.7 445.7 279.4 448.8 281 452 282.2 539.3 282.2" stroke="#ff3030" stroke-width="1.0" fill="none" stroke-dasharray="1.8 1.5"/>
<path d="M438.5 258 439.4 278.6 441.8 280.5 445.7 281.8 450 282.3 539.3 282.3" stroke="#2a2aff" stroke-width="1.0" fill="none" stroke-dasharray="3 1 1 1"/>
<path d="M438.6 250 439 268 440.5 271 444.9 272.4 453.5 276.3 455.1 279.4 459 281 465 282.3 539.3 282.3" stroke="#22ee22" stroke-width="1.0" fill="none" stroke-dasharray="2.4 1.6"/>
<path d="M438.4 214 438.6 258.2 439.1 270.8 440.2 272.4 441.8 275.5 443 275.7 539.3 275.7" stroke="#8080ff" stroke-width="1.0" fill="none"/>
</g>
<rect x="438.2" y="214" width="101.1" height="68.8" fill="none" stroke="#9a9a9a" stroke-width="0.8"/>
<path d="M458.34 282.8v-1M458.34 214v1" stroke="#9a9a9a" stroke-width="0.6"/>
<path d="M478.58 282.8v-1M478.58 214v1" stroke="#9a9a9a" stroke-width="0.6"/>
<path d="M498.82 282.8v-1M498.82 214v1" stroke="#9a9a9a" stroke-width="0.6"/>
<path d="M519.06 282.8v-1M519.06 214v1" stroke="#9a9a9a" stroke-width="0.6"/>
<text transform="translate(458.34 291.24) scale(1 1.1)" font-size="6.6" text-anchor="middle" fill="#262626">200</text>
<text transform="translate(478.58 291.24) scale(1 1.1)" font-size="6.6" text-anchor="middle" fill="#262626">400</text>
<text transform="translate(498.82 291.24) scale(1 1.1)" font-size="6.6" text-anchor="middle" fill="#262626">600</text>
<text transform="translate(519.06 291.24) scale(1 1.1)" font-size="6.6" text-anchor="middle" fill="#262626">800</text>
<text transform="translate(539.3 291.24) scale(1 1.1)" font-size="6.6" text-anchor="middle" fill="#262626">1000</text>
<text transform="translate(488.75 300.14) scale(1 1.1)" font-size="6.6" text-anchor="middle" fill="#262626">Iteration</text>
<text transform="translate(488.75 210.9) scale(1 1.1)" font-size="7" text-anchor="middle" fill="#262626">Objective space</text>
<text transform="translate(420.2 248.4) rotate(-90) scale(1 1)" y="2.31" font-size="6.6" text-anchor="middle" fill="#262626">Optimal results</text>
<text transform="translate(436 242.74) scale(1 1.1)" font-size="6.6" text-anchor="end" fill="#262626">-1</text>
<text transform="translate(436 257.64) scale(1 1.1)" font-size="6.6" text-anchor="end" fill="#262626">-1.5</text>
<text transform="translate(436 268.34) scale(1 1.1)" font-size="6.6" text-anchor="end" fill="#262626">-2</text>
<text transform="translate(436 276.14) scale(1 1.1)" font-size="6.6" text-anchor="end" fill="#262626">-2.5</text>
<text transform="translate(436 283.04) scale(1 1.1)" font-size="6.6" text-anchor="end" fill="#262626">-3</text>
<rect x="508.3" y="215.5" width="28.4" height="53.9" fill="#fff" stroke="#9a9a9a" stroke-width="0.7"/>
<path d="M509.2 219.1H518.9" stroke="#ff1a1a" stroke-width="1.1"/>
<text class="lg" transform="translate(519.8 221.45) scale(0.86 1.12)" font-size="6" text-anchor="start" fill="#262626">IVIA</text>
<path d="M509.2 225.8H518.9" stroke="#2a2aff" stroke-width="1.0"/>
<text class="lg" transform="translate(519.8 228.15) scale(0.86 1.12)" font-size="6" text-anchor="start" fill="#262626">TFWO</text>
<path d="M509.2 232.5H518.9" stroke="#8a8a8a" stroke-width="1.5"/>
<text class="lg" transform="translate(519.8 234.85) scale(0.86 1.12)" font-size="6" text-anchor="start" fill="#262626">GEO</text>
<path d="M509.2 239.2H518.9" stroke="#33ee33" stroke-width="1.0"/>
<text class="lg" transform="translate(519.8 241.55) scale(0.86 1.12)" font-size="6" text-anchor="start" fill="#262626">PPA</text>
<path d="M509.2 245.9H518.9" stroke="#ff3030" stroke-width="1.0" stroke-dasharray="1.8 1.5"/>
<text class="lg" transform="translate(519.8 248.25) scale(0.86 1.12)" font-size="6" text-anchor="start" fill="#262626">RSO</text>
<path d="M509.2 252.6H518.9" stroke="#2a2aff" stroke-width="1.0" stroke-dasharray="3 1 1 1"/>
<text class="lg" transform="translate(519.8 254.95) scale(0.86 1.12)" font-size="6" text-anchor="start" fill="#262626">GWO</text>
<path d="M509.2 259.3H518.9" stroke="#22ee22" stroke-width="1.0" stroke-dasharray="2.4 1.6"/>
<text class="lg" transform="translate(519.8 261.65) scale(0.86 1.12)" font-size="6" text-anchor="start" fill="#262626">PSO</text>
<path d="M509.2 266H518.9" stroke="#8080ff" stroke-width="1.0"/>
<text class="lg" transform="translate(519.8 268.35) scale(0.86 1.12)" font-size="6" text-anchor="start" fill="#262626">WOA</text>
<clipPath id="c7"><rect x="161.8" y="318.1" width="99.2" height="76.2"/></clipPath>
<g clip-path="url(#c7)" stroke-linejoin="round">
<path d="M162 350 162.5 393.9 165 394 261 394" stroke="#ff1a1a" stroke-width="1.1" fill="none"/>
<path d="M161.9 318.1 162.1 340 162.5 378.5 166 379.2 261 379.2" stroke="#2a2aff" stroke-width="1.0" fill="none"/>
<path d="M161.9 318.1 161.9 327.3 261 327.3" stroke="#3a3a3a" stroke-width="1.0" fill="none"/>
<path d="M162.1 318.1 162.3 392 164 393.8 261 393.8" stroke="#33ee33" stroke-width="1.0" fill="none"/>
<path d="M162.2 318.1 162.7 319.2 164.6 324.9 166.3 329.7 167.9 344.2 169.5 355.4 171.1 361.8 172.7 363.4 179.1 366.7 187.2 369.9 200 371.5 206.4 373.9 208.9 377.9 210.5 381.1 222.2 381.2 222.2 388.8 245.1 389.4 246.2 392.1 261 392.1" stroke="#ff3030" stroke-width="1.0" fill="none" stroke-dasharray="1.8 1.5"/>
<path d="M162 340 163 377.1 165 378.7 261 378.7" stroke="#2a2aff" stroke-width="1.0" fill="none" stroke-dasharray="3 1 1 1"/>
<path d="M162.3 340 164.6 377.9 166.3 382.7 167.1 393.2 168 393.6 261 393.6" stroke="#22ee22" stroke-width="1.0" fill="none" stroke-dasharray="2.4 1.6"/>
<path d="M162 330 162.7 357.8 164.6 360.2 166.3 366.7 168.7 367.5 169.5 376.3 175.9 377.1 176.7 380.3 194.4 380.3 195.2 386.8 204.8 386.8 211.3 388.4 212.9 393.2 261 393.4" stroke="#8080ff" stroke-width="1.0" fill="none"/>
</g>
<rect x="161.8" y="318.1" width="99.2" height="76.2" fill="none" stroke="#9a9a9a" stroke-width="0.8"/>
<path d="M181.56 394.3v-1M181.56 318.1v1" stroke="#9a9a9a" stroke-width="0.6"/>
<path d="M201.42 394.3v-1M201.42 318.1v1" stroke="#9a9a9a" stroke-width="0.6"/>
<path d="M221.28 394.3v-1M221.28 318.1v1" stroke="#9a9a9a" stroke-width="0.6"/>
<path d="M241.14 394.3v-1M241.14 318.1v1" stroke="#9a9a9a" stroke-width="0.6"/>
<text transform="translate(181.56 402.74) scale(1 1.1)" font-size="6.6" text-anchor="middle" fill="#262626">200</text>
<text transform="translate(201.42 402.74) scale(1 1.1)" font-size="6.6" text-anchor="middle" fill="#262626">400</text>
<text transform="translate(221.28 402.74) scale(1 1.1)" font-size="6.6" text-anchor="middle" fill="#262626">600</text>
<text transform="translate(241.14 402.74) scale(1 1.1)" font-size="6.6" text-anchor="middle" fill="#262626">800</text>
<text transform="translate(261 402.74) scale(1 1.1)" font-size="6.6" text-anchor="middle" fill="#262626">1000</text>
<text transform="translate(211.4 411.64) scale(1 1.1)" font-size="6.6" text-anchor="middle" fill="#262626">Iteration</text>
<text transform="translate(211.4 315) scale(1 1.1)" font-size="7" text-anchor="middle" fill="#262626">Objective space</text>
<text transform="translate(143.8 356.2) rotate(-90) scale(1 1)" y="2.31" font-size="6.6" text-anchor="middle" fill="#262626">Optimal results</text>
<text transform="translate(159.6 345.84) scale(1 1.1)" font-size="6.6" text-anchor="end" fill="#262626">-10<tspan font-size="4.75" dy="-2.97">0</tspan></text>
<text transform="translate(159.6 396.14) scale(1 1.1)" font-size="6.6" text-anchor="end" fill="#262626">-10<tspan font-size="4.75" dy="-2.97">1</tspan></text>
<rect x="230.6" y="319.6" width="27.8" height="58.5" fill="#fff" stroke="#9a9a9a" stroke-width="0.7"/>
<path d="M231.5 323.2H241.2" stroke="#ff1a1a" stroke-width="1.1"/>
<text class="lg" transform="translate(242.1 325.55) scale(0.86 1.12)" font-size="6" text-anchor="start" fill="#262626">IVIA</text>
<path d="M231.5 330.56H241.2" stroke="#2a2aff" stroke-width="1.0"/>
<text class="lg" transform="translate(242.1 332.91) scale(0.86 1.12)" font-size="6" text-anchor="start" fill="#262626">TFWO</text>
<path d="M231.5 337.91H241.2" stroke="#3a3a3a" stroke-width="1.0"/>
<text class="lg" transform="translate(242.1 340.27) scale(0.86 1.12)" font-size="6" text-anchor="start" fill="#262626">GEO</text>
<path d="M231.5 345.27H241.2" stroke="#33ee33" stroke-width="1.0"/>
<text class="lg" transform="translate(242.1 347.62) scale(0.86 1.12)" font-size="6" text-anchor="start" fill="#262626">PPA</text>
<path d="M231.5 352.63H241.2" stroke="#ff3030" stroke-width="1.0" stroke-dasharray="1.8 1.5"/>
<text class="lg" transform="translate(242.1 354.98) scale(0.86 1.12)" font-size="6" text-anchor="start" fill="#262626">RSO</text>
<path d="M231.5 359.99H241.2" stroke="#2a2aff" stroke-width="1.0" stroke-dasharray="3 1 1 1"/>
<text class="lg" transform="translate(242.1 362.34) scale(0.86 1.12)" font-size="6" text-anchor="start" fill="#262626">GWO</text>
<path d="M231.5 367.34H241.2" stroke="#22ee22" stroke-width="1.0" stroke-dasharray="2.4 1.6"/>
<text class="lg" transform="translate(242.1 369.69) scale(0.86 1.12)" font-size="6" text-anchor="start" fill="#262626">PSO</text>
<path d="M231.5 374.7H241.2" stroke="#8080ff" stroke-width="1.0"/>
<text class="lg" transform="translate(242.1 377.05) scale(0.86 1.12)" font-size="6" text-anchor="start" fill="#262626">WOA</text>
<clipPath id="c8"><rect x="440.6" y="317.6" width="96.1" height="76.4"/></clipPath>
<g clip-path="url(#c8)" stroke-linejoin="round">
<path d="M441 340 441.4 345.8 442.2 354.6 445.5 354.6 446.3 361.8 447.1 365.9 447.9 366.7 492.1 366.7 493.5 369.2 493.8 387.7 494.9 393.5 536.7 393.5" stroke="#ff1a1a" stroke-width="1.1" fill="none"/>
<path d="M440.8 317.6 441 340 441.5 353" stroke="#2a2aff" stroke-width="1.0" fill="none"/>
<path d="M440.8 332.4 536.7 332.4" stroke="#3a3a3a" stroke-width="1.0" fill="none"/>
<path d="M441 355 441.4 365 442.2 382.7 443.8 387.6 447.9 390 454.3 390.8 470 391.5 536.7 392.2" stroke="#33ee33" stroke-width="1.0" fill="none"/>
<path d="M440.9 333 441.4 334.5 445.5 335.3 447.1 344.2 449.5 345.8 451.1 353.8 455.9 357.8 457.5 368.3 459.1 373.9 460.7 374.7 479.2 374.7 480.8 385.2 481.6 386 492.1 386.8 505 387 507 389 510 392.5 536.7 392.5" stroke="#ff3030" stroke-width="1.0" fill="none" stroke-dasharray="1.8 1.5"/>
<path d="M441 355 441.4 365 443.8 373.9 446.3 377.9 454.3 379.5 536.7 379.5" stroke="#2a2aff" stroke-width="1.0" fill="none" stroke-dasharray="3 1 1 1"/>
<path d="M440.9 379.5 536.7 379.5" stroke="#22ee22" stroke-width="1.0" fill="none" stroke-dasharray="2.4 1.6"/>
<path d="M441 345 441.4 353 443 363.4 444.6 373.9 454.3 373.9 455.1 379.5 458.3 380.3 459.1 390.8 505 391 507 392.6 536.7 392.8" stroke="#8080ff" stroke-width="1.0" fill="none"/>
</g>
<rect x="440.6" y="317.6" width="96.1" height="76.4" fill="none" stroke="#9a9a9a" stroke-width="0.8"/>
<path d="M459.74 394v-1M459.74 317.6v1" stroke="#9a9a9a" stroke-width="0.6"/>
<path d="M478.98 394v-1M478.98 317.6v1" stroke="#9a9a9a" stroke-width="0.6"/>
<path d="M498.22 394v-1M498.22 317.6v1" stroke="#9a9a9a" stroke-width="0.6"/>
<path d="M517.46 394v-1M517.46 317.6v1" stroke="#9a9a9a" stroke-width="0.6"/>
<text transform="translate(459.74 402.44) scale(1 1.1)" font-size="6.6" text-anchor="middle" fill="#262626">200</text>
<text transform="translate(478.98 402.44) scale(1 1.1)" font-size="6.6" text-anchor="middle" fill="#262626">400</text>
<text transform="translate(498.22 402.44) scale(1 1.1)" font-size="6.6" text-anchor="middle" fill="#262626">600</text>
<text transform="translate(517.46 402.44) scale(1 1.1)" font-size="6.6" text-anchor="middle" fill="#262626">800</text>
<text transform="translate(536.7 402.44) scale(1 1.1)" font-size="6.6" text-anchor="middle" fill="#262626">1000</text>
<text transform="translate(488.65 411.34) scale(1 1.1)" font-size="6.6" text-anchor="middle" fill="#262626">Iteration</text>
<text transform="translate(488.65 314.5) scale(1 1.1)" font-size="7" text-anchor="middle" fill="#262626">Objective space</text>
<text transform="translate(422.6 355.8) rotate(-90) scale(1 1)" y="2.31" font-size="6.6" text-anchor="middle" fill="#262626">Optimal results</text>
<text transform="translate(438.4 346.74) scale(1 1.1)" font-size="6.6" text-anchor="end" fill="#262626">-10<tspan font-size="4.75" dy="-2.97">0</tspan></text>
<text transform="translate(438.4 395.54) scale(1 1.1)" font-size="6.6" text-anchor="end" fill="#262626">-10<tspan font-size="4.75" dy="-2.97">1</tspan></text>
<rect x="507.4" y="319.1" width="27.1" height="58.8" fill="#fff" stroke="#9a9a9a" stroke-width="0.7"/>
<path d="M508.3 322.7H518" stroke="#ff1a1a" stroke-width="1.1"/>
<text class="lg" transform="translate(518.9 325.05) scale(0.86 1.12)" font-size="6" text-anchor="start" fill="#262626">IVIA</text>
<path d="M508.3 330.1H518" stroke="#2a2aff" stroke-width="1.0"/>
<text class="lg" transform="translate(518.9 332.45) scale(0.86 1.12)" font-size="6" text-anchor="start" fill="#262626">TFWO</text>
<path d="M508.3 337.5H518" stroke="#3a3a3a" stroke-width="1.0"/>
<text class="lg" transform="translate(518.9 339.85) scale(0.86 1.12)" font-size="6" text-anchor="start" fill="#262626">GEO</text>
<path d="M508.3 344.9H518" stroke="#33ee33" stroke-width="1.0"/>
<text class="lg" transform="translate(518.9 347.25) scale(0.86 1.12)" font-size="6" text-anchor="start" fill="#262626">PPA</text>
<path d="M508.3 352.3H518" stroke="#ff3030" stroke-width="1.0" stroke-dasharray="1.8 1.5"/>
<text class="lg" transform="translate(518.9 354.65) scale(0.86 1.12)" font-size="6" text-anchor="start" fill="#262626">RSO</text>
<path d="M508.3 359.7H518" stroke="#2a2aff" stroke-width="1.0" stroke-dasharray="3 1 1 1"/>
<text class="lg" transform="translate(518.9 362.05) scale(0.86 1.12)" font-size="6" text-anchor="start" fill="#262626">GWO</text>
<path d="M508.3 367.1H518" stroke="#22ee22" stroke-width="1.0" stroke-dasharray="2.4 1.6"/>
<text class="lg" transform="translate(518.9 369.45) scale(0.86 1.12)" font-size="6" text-anchor="start" fill="#262626">PSO</text>
<path d="M508.3 374.5H518" stroke="#8080ff" stroke-width="1.0"/>
<text class="lg" transform="translate(518.9 376.85) scale(0.86 1.12)" font-size="6" text-anchor="start" fill="#262626">WOA</text>
<clipPath id="c9"><rect x="365.2" y="430.9" width="105.8" height="76.6"/></clipPath>
<g clip-path="url(#c9)" stroke-linejoin="round">
<path d="M365.6 450 365.7 456.7 366.8 459.1 368.1 464 372.2 464 373 467.3 377.1 468.9 378.7 470.5 380.3 471.3 381.1 473.8 381.5 493.3 395.8 494.1 396.6 494.9 408.8 495.7 411.2 496.5 411.7 503.6 437.5 503.6 442.5 505.6 444 507 471 507" stroke="#ff1a1a" stroke-width="1.1" fill="none"/>
<path d="M365.4 430.9 365.5 450 365.7 457.5 368.9 466.5 370.6 472.2 371.4 477 373.8 481.1 376.3 484.3 379.5 486 382 487.6 384.4 489.2 471 489.2" stroke="#2a2aff" stroke-width="1.0" fill="none"/>
<path d="M365.4 430.9 365.4 450.2 471 450.2" stroke="#3a3a3a" stroke-width="1.0" fill="none"/>
<path d="M365.6 457.5 365.8 506.5 367 507.2 471 507.2" stroke="#33ee33" stroke-width="1.0" fill="none"/>
<path d="M365.5 433 365.7 438.8 367.3 441.3 369.8 442.1 372.2 444.5 373.8 447.8 374.6 451.8 376.3 455.9 378.7 458.3 381.1 460 382 465.7 382.8 469.7 384.4 474.6 385.2 478.7 386.8 485.2 389.3 486.8 410.4 486.8 412 494.9 414.5 496.5 420 497.4 427.3 499.5 430 503.5 471 503.5" stroke="#ff3030" stroke-width="1.0" fill="none" stroke-dasharray="1.8 1.5"/>
<path d="M384 489.2 471 489.2" stroke="#2a2aff" stroke-width="1.0" fill="none" stroke-dasharray="3 1 1 1"/>
<path d="M365.8 460 366 507 471 507.2" stroke="#22ee22" stroke-width="1.0" fill="none" stroke-dasharray="2.4 1.6"/>
<path d="M365.8 445 366.5 460 371.4 460 373 464 376.3 464 377.9 468.9 382.8 471.3 383.6 485.2 386 486 388.5 487.6 390.1 489.2 471 489.2" stroke="#8080ff" stroke-width="1.0" fill="none"/>
</g>
<rect x="365.2" y="430.9" width="105.8" height="76.6" fill="none" stroke="#9a9a9a" stroke-width="0.8"/>
<path d="M386.28 507.5v-1M386.28 430.9v1" stroke="#9a9a9a" stroke-width="0.6"/>
<path d="M407.46 507.5v-1M407.46 430.9v1" stroke="#9a9a9a" stroke-width="0.6"/>
<path d="M428.64 507.5v-1M428.64 430.9v1" stroke="#9a9a9a" stroke-width="0.6"/>
<path d="M449.82 507.5v-1M449.82 430.9v1" stroke="#9a9a9a" stroke-width="0.6"/>
<text transform="translate(386.28 516.46) scale(1 1.1)" font-size="6.9" text-anchor="middle" fill="#262626">200</text>
<text transform="translate(407.46 516.46) scale(1 1.1)" font-size="6.9" text-anchor="middle" fill="#262626">400</text>
<text transform="translate(428.64 516.46) scale(1 1.1)" font-size="6.9" text-anchor="middle" fill="#262626">600</text>
<text transform="translate(449.82 516.46) scale(1 1.1)" font-size="6.9" text-anchor="middle" fill="#262626">800</text>
<text transform="translate(471 516.46) scale(1 1.1)" font-size="6.9" text-anchor="middle" fill="#262626">1000</text>
<text transform="translate(418.1 526.67) scale(1 1.1)" font-size="7.2" text-anchor="middle" fill="#262626">Iteration</text>
<text transform="translate(418.1 427.8) scale(1 1.1)" font-size="7.7" text-anchor="middle" fill="#262626">Objective space</text>
<text transform="translate(343.7 469.2) rotate(-90) scale(1 1)" y="2.69" font-size="7.7" text-anchor="middle" fill="#262626">Optimal results</text>
<text transform="translate(363 451.96) scale(1 1.1)" font-size="6.9" text-anchor="end" fill="#262626">-10<tspan font-size="4.97" dy="-3.11">0</tspan></text>
<text transform="translate(363 507.66) scale(1 1.1)" font-size="6.9" text-anchor="end" fill="#262626">-10<tspan font-size="4.97" dy="-3.11">1</tspan></text>
<rect x="438.4" y="433.2" width="29.8" height="58.4" fill="#fff" stroke="#9a9a9a" stroke-width="0.7"/>
<path d="M439.3 436.8H449" stroke="#ff1a1a" stroke-width="1.1"/>
<text class="lg" transform="translate(449.9 439.15) scale(0.86 1.12)" font-size="6" text-anchor="start" fill="#262626">IVIA</text>
<path d="M439.3 444.14H449" stroke="#2a2aff" stroke-width="1.0"/>
<text class="lg" transform="translate(449.9 446.49) scale(0.86 1.12)" font-size="6" text-anchor="start" fill="#262626">TFWO</text>
<path d="M439.3 451.49H449" stroke="#3a3a3a" stroke-width="1.0"/>
<text class="lg" transform="translate(449.9 453.84) scale(0.86 1.12)" font-size="6" text-anchor="start" fill="#262626">GEO</text>
<path d="M439.3 458.83H449" stroke="#33ee33" stroke-width="1.0"/>
<text class="lg" transform="translate(449.9 461.18) scale(0.86 1.12)" font-size="6" text-anchor="start" fill="#262626">PPA</text>
<path d="M439.3 466.17H449" stroke="#ff3030" stroke-width="1.0" stroke-dasharray="1.8 1.5"/>
<text class="lg" transform="translate(449.9 468.52) scale(0.86 1.12)" font-size="6" text-anchor="start" fill="#262626">RSO</text>
<path d="M439.3 473.51H449" stroke="#2a2aff" stroke-width="1.0" stroke-dasharray="3 1 1 1"/>
<text class="lg" transform="translate(449.9 475.87) scale(0.86 1.12)" font-size="6" text-anchor="start" fill="#262626">GWO</text>
<path d="M439.3 480.86H449" stroke="#22ee22" stroke-width="1.0" stroke-dasharray="2.4 1.6"/>
<text class="lg" transform="translate(449.9 483.21) scale(0.86 1.12)" font-size="6" text-anchor="start" fill="#262626">PSO</text>
<path d="M439.3 488.2H449" stroke="#8080ff" stroke-width="1.0"/>
<text class="lg" transform="translate(449.9 490.55) scale(0.86 1.12)" font-size="6" text-anchor="start" fill="#262626">WOA</text>
</svg></body></html>
